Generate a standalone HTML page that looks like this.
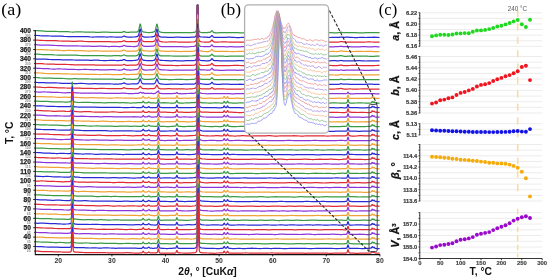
<!DOCTYPE html>
<html><head><meta charset="utf-8"><title>Figure</title>
<style>html,body{margin:0;padding:0;background:#fff;}svg{display:block;}</style>
</head><body>
<svg width="550" height="279" viewBox="0 0 550 279">
<rect width="550" height="279" fill="#fff"/>
<text x="1.2" y="15.3" font-family="'Liberation Serif', 'Times New Roman', serif" font-size="17.5" textLength="20.0" lengthAdjust="spacingAndGlyphs">(a)</text>
<text x="220.8" y="15.3" font-family="'Liberation Serif', 'Times New Roman', serif" font-size="17.5" textLength="20.4" lengthAdjust="spacingAndGlyphs">(b)</text>
<text x="378.8" y="15.3" font-family="'Liberation Serif', 'Times New Roman', serif" font-size="17.5" textLength="18.4" lengthAdjust="spacingAndGlyphs">(c)</text>
<polyline fill="none" stroke="#3b9a45" stroke-width="1.25" stroke-linejoin="round" points="35.9,30.6 37.9,30.7 39.9,30.8 41.9,30.9 43.9,31.1 45.9,31.3 47.9,31.3 49.9,31.3 51.9,31.3 53.9,31.3 55.9,31.4 57.9,31.5 59.9,31.5 61.9,31.5 63.9,31.5 65.9,31.6 67.9,31.7 69.9,31.9 71.9,32.0 73.9,32.0 75.9,31.9 77.9,31.9 79.9,31.9 81.9,31.9 83.9,32.0 85.9,32.0 87.9,32.0 89.9,32.0 91.9,32.1 93.9,32.2 95.9,32.3 97.9,32.4 99.9,32.3 101.9,32.2 103.9,32.2 105.9,32.1 107.9,32.2 109.9,32.3 111.9,32.4 113.9,32.4 115.9,32.3 117.9,32.3 118.5,32.3 119.0,32.4 119.5,32.4 119.9,32.4 120.0,32.4 120.5,32.4 121.0,32.4 121.5,32.4 121.9,32.4 122.0,32.3 122.5,32.2 123.0,31.9 123.5,31.7 123.9,31.6 124.0,31.5 124.5,31.7 125.0,31.9 125.5,32.2 125.9,32.3 126.0,32.3 126.5,32.4 127.0,32.4 127.5,32.4 127.9,32.3 128.0,32.3 128.5,32.3 129.0,32.3 129.5,32.3 129.9,32.2 131.9,32.2 133.9,32.2 135.1,32.2 135.4,32.2 135.7,32.2 135.9,32.2 136.0,32.1 136.3,32.1 136.6,32.1 136.9,32.0 137.2,31.9 137.5,31.8 137.8,31.6 137.9,31.5 138.1,31.2 138.4,30.7 138.7,30.0 139.0,28.9 139.3,27.5 139.6,26.0 139.9,24.6 140.2,24.0 140.5,24.6 140.8,26.0 141.1,27.5 141.4,28.9 141.7,29.9 141.9,30.5 142.0,30.7 142.3,31.2 142.6,31.5 142.9,31.7 143.2,31.9 143.5,32.0 143.8,32.0 143.9,32.1 144.1,32.1 144.4,32.2 144.7,32.2 145.0,32.2 145.9,32.3 147.9,32.5 149.9,32.5 151.8,32.3 151.9,32.3 152.1,32.3 152.4,32.3 152.7,32.2 153.0,32.1 153.3,32.1 153.6,32.0 153.9,31.8 154.2,31.7 154.5,31.5 154.8,31.1 155.1,30.6 155.4,29.9 155.7,28.8 155.9,28.0 156.0,27.5 156.3,26.0 156.6,24.6 156.9,24.1 157.2,24.6 157.5,26.0 157.8,27.5 157.9,28.0 158.1,28.8 158.4,29.9 158.7,30.6 159.0,31.1 159.3,31.5 159.6,31.7 159.9,31.9 160.2,32.0 160.5,32.1 160.8,32.2 161.1,32.2 161.4,32.3 161.7,32.3 161.9,32.4 163.9,32.6 165.9,32.6 167.9,32.6 169.9,32.6 171.9,32.6 173.9,32.6 175.9,32.7 177.9,32.6 179.9,32.5 181.9,32.5 183.9,32.5 185.9,32.5 187.9,32.7 189.9,32.7 191.9,32.7 193.9,32.4 194.6,32.3 194.7,32.2 194.9,32.2 195.0,32.1 195.2,32.0 195.3,32.0 195.5,31.9 195.6,31.7 195.8,31.6 195.9,31.5 195.9,31.4 196.1,31.2 196.2,30.8 196.4,30.2 196.5,29.1 196.7,26.9 196.8,22.7 197.0,15.3 197.1,5.2 197.3,5.2 197.4,5.2 197.6,5.2 197.6,5.2 197.7,5.2 197.9,5.2 197.9,5.2 198.0,5.2 198.2,12.8 198.3,21.1 198.5,26.0 198.6,28.7 198.8,30.0 198.9,30.7 199.1,31.1 199.2,31.4 199.4,31.6 199.5,31.7 199.7,31.8 199.8,31.9 199.9,32.0 200.0,32.0 200.1,32.1 200.3,32.2 200.4,32.2 200.6,32.3 201.9,32.5 203.9,32.5 205.9,32.5 207.2,32.5 207.5,32.5 207.8,32.4 207.9,32.4 208.1,32.4 208.4,32.4 208.7,32.4 209.0,32.4 209.3,32.4 209.6,32.4 209.9,32.3 210.2,32.2 210.5,32.0 210.8,31.7 211.1,31.4 211.4,31.0 211.7,30.7 211.9,30.6 212.0,30.7 212.3,30.9 212.6,31.3 212.9,31.8 213.2,32.1 213.5,32.4 213.8,32.5 213.9,32.6 214.1,32.6 214.4,32.7 214.7,32.7 215.0,32.7 215.3,32.8 215.6,32.8 215.9,32.8 216.2,32.8 216.5,32.8 217.9,32.8 219.9,32.7 221.9,32.6 223.9,32.6 225.9,32.6 227.9,32.7 229.9,32.7 231.9,32.6 233.9,32.6 235.9,32.6 237.9,32.7 239.9,32.8 241.9,32.9 243.9,32.8 245.9,32.7 247.9,32.6 249.9,32.6 251.9,32.6 253.9,32.7 255.9,32.7 257.9,32.7 259.9,32.6 261.9,32.6 263.9,32.7 265.9,32.8 267.9,32.9 269.9,32.8 271.9,32.7 273.9,32.6 275.9,32.5 277.9,32.6 279.9,32.7 281.9,32.7 283.9,32.7 285.9,32.7 287.9,32.7 289.9,32.7 291.9,32.8 293.9,32.8 295.9,32.8 297.9,32.6 299.9,32.5 301.9,32.5 303.9,32.6 305.9,32.7 307.9,32.8 309.9,32.8 311.9,32.7 313.9,32.7 315.9,32.7 317.9,32.8 319.9,32.8 321.9,32.7 323.9,32.6 325.9,32.5 327.9,32.5 329.9,32.6 331.9,32.7 333.9,32.8 335.5,32.8 335.9,32.8 336.0,32.8 336.5,32.8 337.0,32.8 337.5,32.8 337.9,32.7 338.0,32.7 338.5,32.7 339.0,32.6 339.5,32.5 339.9,32.4 340.0,32.4 340.5,32.2 341.0,32.2 341.5,32.2 341.9,32.4 342.0,32.4 342.5,32.5 343.0,32.6 343.5,32.7 343.9,32.7 344.0,32.7 344.5,32.7 345.0,32.7 345.5,32.7 345.9,32.7 346.0,32.7 346.5,32.7 347.9,32.7 349.9,32.6 351.9,32.5 353.9,32.6 355.9,32.7 357.9,32.8 359.9,32.9 361.9,32.8 363.9,32.8 365.9,32.7 367.9,32.6 369.9,32.7 371.9,32.7 373.9,32.7 375.9,32.6 377.9,32.6 379.6,32.6"/>
<polyline fill="none" stroke="#2a2ad6" stroke-width="1.25" stroke-linejoin="round" points="35.9,35.3 37.9,35.5 39.9,35.7 41.9,35.8 43.9,35.8 45.9,35.8 47.9,35.9 49.9,36.0 51.9,36.1 53.9,36.1 55.9,36.1 57.9,36.0 59.9,36.1 61.9,36.2 63.9,36.4 65.9,36.5 67.9,36.6 69.9,36.5 71.9,36.5 73.9,36.5 75.9,36.6 77.9,36.6 79.9,36.7 81.9,36.6 83.9,36.6 85.9,36.6 87.9,36.7 89.9,36.9 91.9,37.0 93.9,37.0 95.9,36.9 97.9,36.9 99.9,36.8 101.9,36.9 103.9,36.9 105.9,37.0 107.9,37.0 109.9,36.9 111.9,36.9 113.9,37.0 115.9,37.1 117.9,37.2 118.5,37.2 119.0,37.2 119.5,37.2 119.9,37.2 120.0,37.2 120.5,37.2 121.0,37.1 121.5,37.1 121.9,37.0 122.0,37.0 122.5,36.8 123.0,36.5 123.5,36.2 123.9,36.0 124.0,36.0 124.5,36.1 125.0,36.4 125.5,36.6 125.9,36.8 126.0,36.8 126.5,36.9 127.0,36.9 127.5,37.0 127.9,37.0 128.0,37.0 128.5,37.0 129.0,37.0 129.5,37.0 129.9,37.0 131.9,37.1 133.9,37.0 135.1,36.9 135.4,36.9 135.7,36.8 135.9,36.8 136.0,36.8 136.3,36.7 136.6,36.7 136.9,36.6 137.2,36.5 137.5,36.4 137.8,36.2 137.9,36.1 138.1,35.8 138.4,35.4 138.7,34.6 139.0,33.6 139.3,32.3 139.6,30.8 139.9,29.5 140.2,29.0 140.5,29.5 140.8,30.9 141.1,32.4 141.4,33.7 141.7,34.8 141.9,35.3 142.0,35.5 142.3,36.0 142.6,36.4 142.9,36.6 143.2,36.7 143.5,36.8 143.8,36.9 143.9,36.9 144.1,37.0 144.4,37.0 144.7,37.1 145.0,37.1 145.9,37.1 147.9,37.1 149.9,37.0 151.8,36.8 151.9,36.8 152.1,36.8 152.4,36.8 152.7,36.7 153.0,36.7 153.3,36.6 153.6,36.6 153.9,36.5 154.2,36.4 154.5,36.2 154.8,35.9 155.1,35.4 155.4,34.7 155.7,33.7 155.9,32.9 156.0,32.5 156.3,31.0 156.6,29.7 156.9,29.2 157.2,29.8 157.5,31.1 157.8,32.5 157.9,33.0 158.1,33.8 158.4,34.8 158.7,35.6 159.0,36.0 159.3,36.4 159.6,36.6 159.9,36.7 160.2,36.8 160.5,36.9 160.8,36.9 161.1,37.0 161.4,37.0 161.7,37.0 161.9,37.0 163.9,37.1 165.9,37.2 167.9,37.3 169.9,37.4 171.9,37.4 173.9,37.3 175.9,37.2 177.9,37.1 179.9,37.2 181.9,37.3 183.9,37.4 185.9,37.4 187.9,37.3 189.9,37.3 191.9,37.2 193.9,37.1 194.6,37.0 194.7,37.0 194.9,36.9 195.0,36.9 195.2,36.8 195.3,36.7 195.5,36.6 195.6,36.5 195.8,36.4 195.9,36.3 195.9,36.2 196.1,36.0 196.2,35.6 196.4,35.0 196.5,33.9 196.7,31.7 196.8,27.5 197.0,20.2 197.1,9.3 197.3,5.2 197.4,5.2 197.6,5.2 197.6,5.2 197.7,5.2 197.9,5.2 197.9,5.2 198.0,5.9 198.2,17.6 198.3,25.8 198.5,30.8 198.6,33.4 198.8,34.8 198.9,35.4 199.1,35.8 199.2,36.1 199.4,36.3 199.5,36.4 199.7,36.5 199.8,36.6 199.9,36.6 200.0,36.7 200.1,36.7 200.3,36.8 200.4,36.8 200.6,36.9 201.9,37.0 203.9,37.1 205.9,37.2 207.2,37.2 207.5,37.3 207.8,37.3 207.9,37.3 208.1,37.3 208.4,37.3 208.7,37.3 209.0,37.3 209.3,37.3 209.6,37.3 209.9,37.2 210.2,37.1 210.5,36.9 210.8,36.7 211.1,36.3 211.4,35.9 211.7,35.6 211.9,35.5 212.0,35.5 212.3,35.7 212.6,36.1 212.9,36.5 213.2,36.9 213.5,37.1 213.8,37.2 213.9,37.2 214.1,37.3 214.4,37.3 214.7,37.3 215.0,37.3 215.3,37.3 215.6,37.3 215.9,37.3 216.2,37.3 216.5,37.3 217.9,37.3 219.9,37.4 221.9,37.4 223.9,37.4 225.9,37.3 227.9,37.2 229.9,37.2 231.9,37.3 233.9,37.4 235.9,37.5 237.9,37.5 239.9,37.5 241.9,37.4 243.9,37.3 245.9,37.3 247.9,37.4 249.9,37.4 251.9,37.3 253.9,37.3 255.9,37.3 257.9,37.3 259.9,37.5 261.9,37.5 263.9,37.5 265.9,37.4 267.9,37.3 269.9,37.3 271.9,37.3 273.9,37.4 275.9,37.4 277.9,37.4 279.9,37.3 281.9,37.3 283.9,37.4 285.9,37.5 287.9,37.6 289.9,37.5 291.9,37.4 293.9,37.3 295.9,37.2 297.9,37.3 299.9,37.3 301.9,37.4 303.9,37.4 305.9,37.4 307.9,37.4 309.9,37.4 311.9,37.5 313.9,37.5 315.9,37.5 317.9,37.4 319.9,37.3 321.9,37.2 323.9,37.3 325.9,37.4 327.9,37.4 329.9,37.5 331.9,37.4 333.9,37.4 335.5,37.4 335.9,37.4 336.0,37.4 336.5,37.4 337.0,37.4 337.5,37.4 337.9,37.4 338.0,37.4 338.5,37.4 339.0,37.4 339.5,37.3 339.9,37.2 340.0,37.2 340.5,37.1 341.0,37.0 341.5,37.0 341.9,37.1 342.0,37.2 342.5,37.3 343.0,37.3 343.5,37.3 343.9,37.3 344.0,37.3 344.5,37.3 345.0,37.3 345.5,37.3 345.9,37.2 346.0,37.2 346.5,37.2 347.9,37.2 349.9,37.3 351.9,37.4 353.9,37.5 355.9,37.5 357.9,37.5 359.9,37.4 361.9,37.4 363.9,37.4 365.9,37.5 367.9,37.4 369.9,37.3 371.9,37.3 373.9,37.2 375.9,37.3 377.9,37.4 379.6,37.5"/>
<polyline fill="none" stroke="#e02a35" stroke-width="1.25" stroke-linejoin="round" points="35.9,40.2 37.9,40.2 39.9,40.3 41.9,40.4 43.9,40.5 45.9,40.6 47.9,40.7 49.9,40.7 51.9,40.6 53.9,40.6 55.9,40.7 57.9,40.8 59.9,41.0 61.9,41.1 63.9,41.1 65.9,41.1 67.9,41.1 69.9,41.2 71.9,41.3 73.9,41.3 75.9,41.3 77.9,41.2 79.9,41.2 81.9,41.2 83.9,41.4 85.9,41.5 87.9,41.6 89.9,41.6 91.9,41.5 93.9,41.5 95.9,41.6 97.9,41.6 99.9,41.6 101.9,41.6 103.9,41.5 105.9,41.5 107.9,41.6 109.9,41.7 111.9,41.8 113.9,41.9 115.9,41.9 117.9,41.8 118.5,41.7 119.0,41.7 119.5,41.7 119.9,41.7 120.0,41.7 120.5,41.7 121.0,41.7 121.5,41.6 121.9,41.6 122.0,41.5 122.5,41.4 123.0,41.1 123.5,40.9 123.9,40.8 124.0,40.8 124.5,40.9 125.0,41.2 125.5,41.4 125.9,41.6 126.0,41.6 126.5,41.7 127.0,41.7 127.5,41.7 127.9,41.7 128.0,41.7 128.5,41.7 129.0,41.7 129.5,41.7 129.9,41.7 131.9,41.6 133.9,41.6 135.1,41.6 135.4,41.6 135.7,41.6 135.9,41.6 136.0,41.6 136.3,41.6 136.6,41.5 136.9,41.5 137.2,41.4 137.5,41.3 137.8,41.1 137.9,41.0 138.1,40.8 138.4,40.3 138.7,39.6 139.0,38.6 139.3,37.4 139.6,35.9 139.9,34.6 140.2,34.1 140.5,34.6 140.8,35.9 141.1,37.3 141.4,38.6 141.7,39.6 141.9,40.1 142.0,40.3 142.3,40.7 142.6,41.0 142.9,41.2 143.2,41.3 143.5,41.4 143.8,41.4 143.9,41.5 144.1,41.5 144.4,41.5 144.7,41.5 145.0,41.6 145.9,41.6 147.9,41.7 149.9,41.7 151.8,41.7 151.9,41.7 152.1,41.7 152.4,41.6 152.7,41.6 153.0,41.6 153.3,41.5 153.6,41.4 153.9,41.3 154.2,41.2 154.5,41.0 154.8,40.7 155.1,40.2 155.4,39.5 155.7,38.5 155.9,37.7 156.0,37.3 156.3,35.9 156.6,34.6 156.9,34.1 157.2,34.6 157.5,35.9 157.8,37.3 157.9,37.7 158.1,38.5 158.4,39.5 158.7,40.2 159.0,40.7 159.3,41.0 159.6,41.2 159.9,41.3 160.2,41.4 160.5,41.5 160.8,41.6 161.1,41.7 161.4,41.7 161.7,41.8 161.9,41.8 163.9,42.0 165.9,42.1 167.9,42.0 169.9,41.9 171.9,41.8 173.9,41.8 175.9,41.9 177.9,42.0 179.9,42.0 181.9,42.0 183.9,42.0 185.9,42.0 187.9,42.0 189.9,42.1 191.9,42.0 193.9,41.8 194.6,41.6 194.7,41.6 194.9,41.5 195.0,41.5 195.2,41.4 195.3,41.3 195.5,41.2 195.6,41.1 195.8,40.9 195.9,40.8 195.9,40.7 196.1,40.5 196.2,40.1 196.4,39.5 196.5,38.4 196.7,36.2 196.8,32.0 197.0,24.6 197.1,13.8 197.3,5.2 197.4,5.2 197.6,5.2 197.6,5.2 197.7,5.2 197.9,5.2 197.9,5.2 198.0,10.4 198.2,22.0 198.3,30.3 198.5,35.3 198.6,37.9 198.8,39.3 198.9,39.9 199.1,40.3 199.2,40.6 199.4,40.8 199.5,40.9 199.7,41.1 199.8,41.2 199.9,41.2 200.0,41.3 200.1,41.3 200.3,41.4 200.4,41.5 200.6,41.5 201.9,41.8 203.9,42.0 205.9,42.0 207.2,42.0 207.5,42.0 207.8,42.0 207.9,42.0 208.1,42.0 208.4,42.0 208.7,42.0 209.0,42.0 209.3,41.9 209.6,41.9 209.9,41.8 210.2,41.7 210.5,41.5 210.8,41.2 211.1,40.8 211.4,40.4 211.7,40.1 211.9,40.0 212.0,40.1 212.3,40.3 212.6,40.7 212.9,41.1 213.2,41.5 213.5,41.7 213.8,41.9 213.9,41.9 214.1,41.9 214.4,42.0 214.7,42.0 215.0,42.1 215.3,42.1 215.6,42.1 215.9,42.1 216.2,42.1 216.5,42.1 217.9,42.1 219.9,42.0 221.9,41.9 223.9,41.9 225.9,41.9 227.9,42.0 229.9,42.1 231.9,42.2 233.9,42.1 235.9,42.1 237.9,42.1 239.9,42.1 241.9,42.1 243.9,42.1 245.9,42.0 247.9,41.9 249.9,41.9 251.9,41.9 253.9,42.1 255.9,42.2 257.9,42.2 259.9,42.2 261.9,42.1 263.9,42.0 265.9,42.0 267.9,42.1 269.9,42.1 271.9,42.0 273.9,42.0 275.9,41.9 277.9,42.0 279.9,42.1 281.9,42.2 283.9,42.2 285.9,42.2 287.9,42.1 289.9,42.0 291.9,42.0 293.9,42.0 295.9,42.1 297.9,42.1 299.9,42.0 301.9,42.0 303.9,42.0 305.9,42.1 307.9,42.2 309.9,42.2 311.9,42.2 313.9,42.0 315.9,42.0 317.9,42.0 319.9,42.0 321.9,42.1 323.9,42.1 325.9,42.0 327.9,42.0 329.9,42.1 331.9,42.1 333.9,42.2 335.5,42.2 335.9,42.2 336.0,42.2 336.5,42.2 337.0,42.2 337.5,42.2 337.9,42.1 338.0,42.1 338.5,42.1 339.0,42.0 339.5,41.9 339.9,41.7 340.0,41.7 340.5,41.5 341.0,41.5 341.5,41.5 341.9,41.6 342.0,41.6 342.5,41.7 343.0,41.8 343.5,41.9 343.9,41.9 344.0,41.9 344.5,41.9 345.0,42.0 345.5,42.0 345.9,42.0 346.0,42.0 346.5,42.0 347.9,42.1 349.9,42.1 351.9,42.1 353.9,42.1 355.9,42.1 357.9,42.1 359.9,42.2 361.9,42.2 363.9,42.1 365.9,42.0 367.9,41.9 369.9,41.9 371.9,42.0 373.9,42.1 375.9,42.2 377.9,42.1 379.6,42.1"/>
<polyline fill="none" stroke="#8c35d9" stroke-width="1.25" stroke-linejoin="round" points="35.9,44.7 37.9,44.9 39.9,45.1 41.9,45.2 43.9,45.2 45.9,45.2 47.9,45.1 49.9,45.2 51.9,45.3 53.9,45.4 55.9,45.5 57.9,45.6 59.9,45.6 61.9,45.6 63.9,45.8 65.9,45.9 67.9,45.9 69.9,45.9 71.9,45.8 73.9,45.8 75.9,45.8 77.9,45.9 79.9,46.0 81.9,46.1 83.9,46.2 85.9,46.1 87.9,46.1 89.9,46.2 91.9,46.3 93.9,46.3 95.9,46.3 97.9,46.2 99.9,46.1 101.9,46.1 103.9,46.3 105.9,46.4 107.9,46.5 109.9,46.5 111.9,46.4 113.9,46.4 115.9,46.4 117.9,46.5 118.5,46.5 119.0,46.5 119.5,46.5 119.9,46.5 120.0,46.5 120.5,46.5 121.0,46.4 121.5,46.4 121.9,46.3 122.0,46.3 122.5,46.1 123.0,45.8 123.5,45.5 123.9,45.4 124.0,45.4 124.5,45.5 125.0,45.7 125.5,46.0 125.9,46.1 126.0,46.1 126.5,46.2 127.0,46.3 127.5,46.3 127.9,46.3 128.0,46.3 128.5,46.3 129.0,46.4 129.5,46.4 129.9,46.4 131.9,46.5 133.9,46.6 135.1,46.5 135.4,46.5 135.7,46.4 135.9,46.4 136.0,46.4 136.3,46.3 136.6,46.2 136.9,46.2 137.2,46.1 137.5,45.9 137.8,45.7 137.9,45.6 138.1,45.4 138.4,44.9 138.7,44.2 139.0,43.3 139.3,42.0 139.6,40.6 139.9,39.4 140.2,38.9 140.5,39.4 140.8,40.6 141.1,42.0 141.4,43.2 141.7,44.2 141.9,44.7 142.0,44.9 142.3,45.3 142.6,45.6 142.9,45.8 143.2,46.0 143.5,46.1 143.8,46.2 143.9,46.2 144.1,46.2 144.4,46.3 144.7,46.3 145.0,46.3 145.9,46.4 147.9,46.4 149.9,46.4 151.8,46.2 151.9,46.2 152.1,46.2 152.4,46.2 152.7,46.2 153.0,46.1 153.3,46.1 153.6,46.0 153.9,45.9 154.2,45.8 154.5,45.6 154.8,45.4 155.1,44.9 155.4,44.3 155.7,43.4 155.9,42.6 156.0,42.2 156.3,40.9 156.6,39.7 156.9,39.2 157.2,39.7 157.5,40.9 157.8,42.3 157.9,42.8 158.1,43.5 158.4,44.5 158.7,45.2 159.0,45.6 159.3,45.9 159.6,46.1 159.9,46.3 160.2,46.4 160.5,46.4 160.8,46.5 161.1,46.5 161.4,46.5 161.7,46.6 161.9,46.6 163.9,46.6 165.9,46.5 167.9,46.5 169.9,46.6 171.9,46.6 173.9,46.7 175.9,46.6 177.9,46.6 179.9,46.6 181.9,46.7 183.9,46.8 185.9,46.9 187.9,46.8 189.9,46.7 191.9,46.5 193.9,46.3 194.6,46.2 194.7,46.2 194.9,46.1 195.0,46.1 195.2,46.0 195.3,45.9 195.5,45.8 195.6,45.7 195.8,45.6 195.9,45.5 195.9,45.4 196.1,45.2 196.2,44.8 196.4,44.3 196.5,43.2 196.7,41.0 196.8,36.7 197.0,29.4 197.1,18.6 197.3,5.3 197.4,5.2 197.6,5.2 197.6,5.2 197.7,5.2 197.9,5.2 197.9,5.2 198.0,15.2 198.2,26.9 198.3,35.2 198.5,40.1 198.6,42.8 198.8,44.1 198.9,44.8 199.1,45.2 199.2,45.5 199.4,45.7 199.5,45.8 199.7,45.9 199.8,46.0 199.9,46.1 200.0,46.1 200.1,46.2 200.3,46.2 200.4,46.3 200.6,46.3 201.9,46.5 203.9,46.6 205.9,46.6 207.2,46.7 207.5,46.7 207.8,46.7 207.9,46.7 208.1,46.7 208.4,46.7 208.7,46.7 209.0,46.7 209.3,46.7 209.6,46.7 209.9,46.6 210.2,46.5 210.5,46.3 210.8,46.1 211.1,45.7 211.4,45.3 211.7,45.0 211.9,44.9 212.0,44.9 212.3,45.1 212.6,45.5 212.9,45.9 213.2,46.3 213.5,46.5 213.8,46.6 213.9,46.6 214.1,46.7 214.4,46.7 214.7,46.7 215.0,46.7 215.3,46.7 215.6,46.7 215.9,46.7 216.2,46.6 216.5,46.6 217.9,46.6 219.9,46.6 221.9,46.6 223.9,46.7 225.9,46.8 227.9,46.8 229.9,46.7 231.9,46.7 233.9,46.8 235.9,46.9 237.9,46.9 239.9,46.8 241.9,46.7 243.9,46.6 245.9,46.6 247.9,46.7 249.9,46.8 251.9,46.8 253.9,46.8 255.9,46.8 257.9,46.8 259.9,46.8 261.9,46.8 263.9,46.8 265.9,46.8 267.9,46.7 269.9,46.6 271.9,46.6 273.9,46.7 275.9,46.8 277.9,46.9 279.9,46.9 281.9,46.8 283.9,46.8 285.9,46.7 287.9,46.8 289.9,46.8 291.9,46.8 293.9,46.7 295.9,46.6 297.9,46.6 299.9,46.7 301.9,46.9 303.9,46.9 305.9,46.9 307.9,46.8 309.9,46.7 311.9,46.7 313.9,46.7 315.9,46.8 317.9,46.8 319.9,46.7 321.9,46.6 323.9,46.7 325.9,46.8 327.9,46.9 329.9,46.9 331.9,46.9 333.9,46.8 335.5,46.7 335.9,46.7 336.0,46.7 336.5,46.7 337.0,46.7 337.5,46.6 337.9,46.6 338.0,46.6 338.5,46.6 339.0,46.6 339.5,46.5 339.9,46.4 340.0,46.4 340.5,46.3 341.0,46.2 341.5,46.3 341.9,46.4 342.0,46.5 342.5,46.6 343.0,46.7 343.5,46.7 343.9,46.7 344.0,46.7 344.5,46.7 345.0,46.7 345.5,46.7 345.9,46.7 346.0,46.7 346.5,46.7 347.9,46.7 349.9,46.7 351.9,46.8 353.9,46.9 355.9,46.9 357.9,46.9 359.9,46.8 361.9,46.7 363.9,46.6 365.9,46.7 367.9,46.8 369.9,46.8 371.9,46.8 373.9,46.7 375.9,46.7 377.9,46.8 379.6,46.9"/>
<polyline fill="none" stroke="#f0a236" stroke-width="1.25" stroke-linejoin="round" points="35.9,49.7 37.9,49.7 39.9,49.7 41.9,49.7 43.9,49.7 45.9,49.8 47.9,49.9 49.9,50.0 51.9,50.0 53.9,50.1 55.9,50.1 57.9,50.2 59.9,50.4 61.9,50.5 63.9,50.5 65.9,50.5 67.9,50.4 69.9,50.4 71.9,50.5 73.9,50.6 75.9,50.7 77.9,50.7 79.9,50.7 81.9,50.7 83.9,50.8 85.9,50.9 87.9,51.0 89.9,51.0 91.9,50.9 93.9,50.8 95.9,50.8 97.9,50.8 99.9,51.0 101.9,51.0 103.9,51.1 105.9,51.1 107.9,51.0 109.9,51.1 111.9,51.2 113.9,51.2 115.9,51.2 117.9,51.1 118.5,51.1 119.0,51.0 119.5,51.0 119.9,51.0 120.0,51.0 120.5,51.0 121.0,50.9 121.5,50.9 121.9,50.8 122.0,50.8 122.5,50.6 123.0,50.4 123.5,50.2 123.9,50.0 124.0,50.0 124.5,50.2 125.0,50.5 125.5,50.8 125.9,51.0 126.0,51.0 126.5,51.1 127.0,51.2 127.5,51.2 127.9,51.2 128.0,51.2 128.5,51.2 129.0,51.3 129.5,51.3 129.9,51.2 131.9,51.2 133.9,51.1 135.1,51.0 135.4,51.0 135.7,51.0 135.9,51.0 136.0,51.0 136.3,50.9 136.6,50.9 136.9,50.8 137.2,50.7 137.5,50.6 137.8,50.4 137.9,50.4 138.1,50.2 138.4,49.7 138.7,49.1 139.0,48.2 139.3,47.0 139.6,45.6 139.9,44.4 140.2,44.0 140.5,44.4 140.8,45.6 141.1,47.0 141.4,48.1 141.7,49.1 141.9,49.5 142.0,49.7 142.3,50.1 142.6,50.4 142.9,50.6 143.2,50.7 143.5,50.8 143.8,50.8 143.9,50.8 144.1,50.9 144.4,50.9 144.7,50.9 145.0,50.9 145.9,50.9 147.9,51.0 149.9,51.0 151.8,51.1 151.9,51.1 152.1,51.1 152.4,51.1 152.7,51.1 153.0,51.0 153.3,51.0 153.6,51.0 153.9,50.9 154.2,50.8 154.5,50.6 154.8,50.3 155.1,49.9 155.4,49.3 155.7,48.3 155.9,47.6 156.0,47.2 156.3,45.9 156.6,44.7 156.9,44.2 157.2,44.7 157.5,45.8 157.8,47.1 157.9,47.5 158.1,48.3 158.4,49.2 158.7,49.8 159.0,50.2 159.3,50.5 159.6,50.7 159.9,50.8 160.2,50.9 160.5,50.9 160.8,51.0 161.1,51.0 161.4,51.1 161.7,51.1 161.9,51.1 163.9,51.2 165.9,51.3 167.9,51.3 169.9,51.3 171.9,51.2 173.9,51.2 175.9,51.3 177.9,51.4 179.9,51.5 181.9,51.5 183.9,51.4 185.9,51.3 187.9,51.3 189.9,51.3 191.9,51.3 193.9,51.1 194.6,51.0 194.7,51.0 194.9,50.9 195.0,50.8 195.2,50.8 195.3,50.7 195.5,50.6 195.6,50.5 195.8,50.3 195.9,50.2 195.9,50.1 196.1,49.9 196.2,49.5 196.4,49.0 196.5,47.9 196.7,45.6 196.8,41.4 197.0,34.1 197.1,23.2 197.3,9.9 197.4,5.2 197.6,5.2 197.6,5.2 197.7,5.2 197.9,6.3 197.9,8.1 198.0,19.8 198.2,31.5 198.3,39.7 198.5,44.7 198.6,47.4 198.8,48.7 198.9,49.4 199.1,49.8 199.2,50.0 199.4,50.2 199.5,50.4 199.7,50.5 199.8,50.6 199.9,50.6 200.0,50.7 200.1,50.8 200.3,50.8 200.4,50.9 200.6,50.9 201.9,51.2 203.9,51.4 205.9,51.5 207.2,51.5 207.5,51.5 207.8,51.5 207.9,51.5 208.1,51.5 208.4,51.5 208.7,51.4 209.0,51.4 209.3,51.4 209.6,51.3 209.9,51.3 210.2,51.1 210.5,50.9 210.8,50.6 211.1,50.2 211.4,49.8 211.7,49.4 211.9,49.4 212.0,49.4 212.3,49.6 212.6,50.0 212.9,50.4 213.2,50.7 213.5,50.9 213.8,51.1 213.9,51.1 214.1,51.2 214.4,51.2 214.7,51.2 215.0,51.2 215.3,51.3 215.6,51.3 215.9,51.3 216.2,51.3 216.5,51.3 217.9,51.4 219.9,51.4 221.9,51.4 223.9,51.4 225.9,51.4 227.9,51.4 229.9,51.5 231.9,51.6 233.9,51.6 235.9,51.5 237.9,51.3 239.9,51.3 241.9,51.3 243.9,51.4 245.9,51.5 247.9,51.5 249.9,51.4 251.9,51.4 253.9,51.5 255.9,51.5 257.9,51.6 259.9,51.6 261.9,51.4 263.9,51.3 265.9,51.3 267.9,51.3 269.9,51.4 271.9,51.5 273.9,51.5 275.9,51.5 277.9,51.5 279.9,51.5 281.9,51.5 283.9,51.6 285.9,51.5 287.9,51.4 289.9,51.3 291.9,51.3 293.9,51.3 295.9,51.5 297.9,51.6 299.9,51.6 301.9,51.5 303.9,51.5 305.9,51.4 307.9,51.5 309.9,51.5 311.9,51.5 313.9,51.4 315.9,51.3 317.9,51.3 319.9,51.4 321.9,51.5 323.9,51.6 325.9,51.6 327.9,51.5 329.9,51.5 331.9,51.4 333.9,51.4 335.5,51.5 335.9,51.5 336.0,51.5 336.5,51.5 337.0,51.5 337.5,51.5 337.9,51.4 338.0,51.4 338.5,51.4 339.0,51.3 339.5,51.2 339.9,51.1 340.0,51.1 340.5,50.9 341.0,50.9 341.5,50.9 341.9,51.0 342.0,51.0 342.5,51.2 343.0,51.2 343.5,51.3 343.9,51.3 344.0,51.3 344.5,51.3 345.0,51.3 345.5,51.4 345.9,51.4 346.0,51.4 346.5,51.4 347.9,51.5 349.9,51.6 351.9,51.6 353.9,51.5 355.9,51.4 357.9,51.4 359.9,51.4 361.9,51.4 363.9,51.5 365.9,51.4 367.9,51.4 369.9,51.4 371.9,51.4 373.9,51.6 375.9,51.6 377.9,51.6 379.6,51.5"/>
<polyline fill="none" stroke="#3b9a45" stroke-width="1.25" stroke-linejoin="round" points="35.9,54.2 37.9,54.2 39.9,54.3 41.9,54.5 43.9,54.5 45.9,54.5 47.9,54.5 49.9,54.6 51.9,54.7 53.9,54.9 55.9,55.0 57.9,55.1 59.9,55.1 61.9,55.0 63.9,55.0 65.9,55.1 67.9,55.2 69.9,55.2 71.9,55.2 73.9,55.2 75.9,55.2 77.9,55.3 79.9,55.5 81.9,55.6 83.9,55.6 85.9,55.6 87.9,55.5 89.9,55.5 91.9,55.5 93.9,55.6 95.9,55.6 97.9,55.6 99.9,55.6 101.9,55.6 103.9,55.7 105.9,55.8 107.9,55.9 109.9,55.9 111.9,55.8 113.9,55.7 115.9,55.7 117.9,55.7 118.5,55.7 119.0,55.7 119.5,55.7 119.9,55.8 120.0,55.8 120.5,55.8 121.0,55.8 121.5,55.8 121.9,55.7 122.0,55.7 122.5,55.5 123.0,55.3 123.5,55.0 123.9,54.9 124.0,54.9 124.5,55.0 125.0,55.3 125.5,55.5 125.9,55.7 126.0,55.7 126.5,55.8 127.0,55.8 127.5,55.8 127.9,55.8 128.0,55.8 128.5,55.8 129.0,55.8 129.5,55.8 129.9,55.8 131.9,55.9 133.9,55.9 135.1,55.9 135.4,55.8 135.7,55.8 135.9,55.8 136.0,55.8 136.3,55.7 136.6,55.7 136.9,55.6 137.2,55.5 137.5,55.3 137.8,55.1 137.9,55.1 138.1,54.8 138.4,54.4 138.7,53.8 139.0,52.8 139.3,51.7 139.6,50.4 139.9,49.2 140.2,48.7 140.5,49.2 140.8,50.3 141.1,51.6 141.4,52.7 141.7,53.6 141.9,54.1 142.0,54.2 142.3,54.7 142.6,54.9 142.9,55.1 143.2,55.3 143.5,55.3 143.8,55.4 143.9,55.4 144.1,55.5 144.4,55.5 144.7,55.6 145.0,55.6 145.9,55.7 147.9,55.9 149.9,55.9 151.8,55.8 151.9,55.8 152.1,55.8 152.4,55.8 152.7,55.7 153.0,55.7 153.3,55.6 153.6,55.6 153.9,55.5 154.2,55.4 154.5,55.2 154.8,54.9 155.1,54.5 155.4,53.9 155.7,53.0 155.9,52.3 156.0,51.9 156.3,50.7 156.6,49.5 156.9,49.1 157.2,49.6 157.5,50.7 157.8,52.0 157.9,52.4 158.1,53.1 158.4,54.0 158.7,54.6 159.0,55.0 159.3,55.3 159.6,55.5 159.9,55.6 160.2,55.7 160.5,55.8 160.8,55.8 161.1,55.8 161.4,55.9 161.7,55.9 161.9,55.9 163.9,55.9 165.9,55.9 167.9,55.8 169.9,55.9 171.9,56.0 173.9,56.1 175.9,56.2 177.9,56.1 179.9,56.1 181.9,56.1 183.9,56.1 185.9,56.1 187.9,56.1 189.9,56.0 191.9,55.9 193.9,55.7 194.6,55.5 194.7,55.5 194.9,55.5 195.0,55.4 195.2,55.4 195.3,55.3 195.5,55.2 195.6,55.1 195.8,54.9 195.9,54.8 195.9,54.8 196.1,54.5 196.2,54.2 196.4,53.6 196.5,52.5 196.7,50.3 196.8,46.1 197.0,38.8 197.1,27.9 197.3,14.7 197.4,5.2 197.6,5.2 197.6,5.2 197.7,5.2 197.9,11.1 197.9,12.9 198.0,24.6 198.2,36.3 198.3,44.6 198.5,49.6 198.6,52.2 198.8,53.6 198.9,54.2 199.1,54.6 199.2,54.9 199.4,55.1 199.5,55.3 199.7,55.4 199.8,55.5 199.9,55.6 200.0,55.6 200.1,55.7 200.3,55.7 200.4,55.8 200.6,55.8 201.9,56.1 203.9,56.1 205.9,56.0 207.2,56.0 207.5,56.0 207.8,56.0 207.9,56.0 208.1,56.0 208.4,56.0 208.7,56.0 209.0,56.0 209.3,55.9 209.6,55.9 209.9,55.9 210.2,55.7 210.5,55.6 210.8,55.3 211.1,54.9 211.4,54.5 211.7,54.2 211.9,54.1 212.0,54.1 212.3,54.4 212.6,54.8 212.9,55.2 213.2,55.5 213.5,55.8 213.8,55.9 213.9,55.9 214.1,56.0 214.4,56.0 214.7,56.0 215.0,56.0 215.3,56.0 215.6,56.0 215.9,56.0 216.2,56.0 216.5,56.0 217.9,56.0 219.9,56.0 221.9,56.0 223.9,56.2 225.9,56.3 227.9,56.3 229.9,56.2 231.9,56.1 233.9,56.0 235.9,56.0 237.9,56.1 239.9,56.1 241.9,56.1 243.9,56.1 245.9,56.0 247.9,56.1 249.9,56.2 251.9,56.3 253.9,56.3 255.9,56.2 257.9,56.1 259.9,56.0 261.9,56.0 263.9,56.1 265.9,56.1 267.9,56.2 269.9,56.1 271.9,56.1 273.9,56.1 275.9,56.2 277.9,56.3 279.9,56.3 281.9,56.2 283.9,56.1 285.9,56.0 287.9,56.0 289.9,56.1 291.9,56.2 293.9,56.2 295.9,56.2 297.9,56.1 299.9,56.1 301.9,56.2 303.9,56.3 305.9,56.3 307.9,56.2 309.9,56.0 311.9,56.0 313.9,56.0 315.9,56.1 317.9,56.2 319.9,56.2 321.9,56.2 323.9,56.2 325.9,56.1 327.9,56.2 329.9,56.2 331.9,56.2 333.9,56.1 335.5,56.0 335.9,56.0 336.0,56.0 336.5,56.0 337.0,56.0 337.5,56.0 337.9,56.0 338.0,55.9 338.5,55.9 339.0,55.9 339.5,55.8 339.9,55.7 340.0,55.7 340.5,55.6 341.0,55.6 341.5,55.7 341.9,55.8 342.0,55.8 342.5,56.0 343.0,56.1 343.5,56.2 343.9,56.2 344.0,56.2 344.5,56.3 345.0,56.3 345.5,56.3 345.9,56.3 346.0,56.3 346.5,56.3 347.9,56.2 349.9,56.2 351.9,56.1 353.9,56.1 355.9,56.2 357.9,56.2 359.9,56.1 361.9,56.0 363.9,56.0 365.9,56.0 367.9,56.2 369.9,56.3 371.9,56.3 373.9,56.3 375.9,56.2 377.9,56.1 379.6,56.1"/>
<polyline fill="none" stroke="#2a2ad6" stroke-width="1.25" stroke-linejoin="round" points="35.9,59.0 37.9,59.0 39.9,59.1 41.9,59.0 43.9,59.0 45.9,59.1 47.9,59.3 49.9,59.5 51.9,59.6 53.9,59.6 55.9,59.6 57.9,59.6 59.9,59.7 61.9,59.8 63.9,59.8 65.9,59.8 67.9,59.8 69.9,59.8 71.9,59.8 73.9,60.0 75.9,60.1 77.9,60.2 79.9,60.2 81.9,60.2 83.9,60.1 85.9,60.1 87.9,60.2 89.9,60.3 91.9,60.3 93.9,60.2 95.9,60.2 97.9,60.2 99.9,60.4 101.9,60.5 103.9,60.6 105.9,60.6 107.9,60.5 109.9,60.4 111.9,60.4 113.9,60.4 115.9,60.5 117.9,60.5 118.5,60.5 119.0,60.5 119.5,60.5 119.9,60.4 120.0,60.4 120.5,60.4 121.0,60.4 121.5,60.4 121.9,60.3 122.0,60.3 122.5,60.1 123.0,59.9 123.5,59.6 123.9,59.5 124.0,59.5 124.5,59.6 125.0,59.9 125.5,60.2 125.9,60.4 126.0,60.4 126.5,60.5 127.0,60.6 127.5,60.6 127.9,60.7 128.0,60.7 128.5,60.7 129.0,60.7 129.5,60.7 129.9,60.7 131.9,60.6 133.9,60.5 135.1,60.3 135.4,60.3 135.7,60.3 135.9,60.2 136.0,60.2 136.3,60.2 136.6,60.1 136.9,60.1 137.2,60.0 137.5,59.9 137.8,59.7 137.9,59.6 138.1,59.4 138.4,59.0 138.7,58.4 139.0,57.6 139.3,56.5 139.6,55.3 139.9,54.2 140.2,53.7 140.5,54.2 140.8,55.3 141.1,56.6 141.4,57.7 141.7,58.5 141.9,59.0 142.0,59.2 142.3,59.6 142.6,59.8 142.9,60.0 143.2,60.1 143.5,60.2 143.8,60.3 143.9,60.3 144.1,60.3 144.4,60.4 144.7,60.4 145.0,60.4 145.9,60.5 147.9,60.5 149.9,60.5 151.8,60.5 151.9,60.5 152.1,60.5 152.4,60.5 152.7,60.5 153.0,60.5 153.3,60.4 153.6,60.4 153.9,60.3 154.2,60.2 154.5,60.1 154.8,59.8 155.1,59.4 155.4,58.8 155.7,58.0 155.9,57.3 156.0,56.9 156.3,55.7 156.6,54.6 156.9,54.2 157.2,54.6 157.5,55.7 157.8,56.9 157.9,57.2 158.1,57.9 158.4,58.7 158.7,59.3 159.0,59.7 159.3,59.9 159.6,60.1 159.9,60.2 160.2,60.2 160.5,60.3 160.8,60.3 161.1,60.3 161.4,60.4 161.7,60.4 161.9,60.4 163.9,60.5 165.9,60.6 167.9,60.7 169.9,60.8 171.9,60.8 173.9,60.7 175.9,60.7 177.9,60.8 179.9,60.9 181.9,60.9 183.9,60.8 185.9,60.7 187.9,60.6 189.9,60.5 191.9,60.6 193.9,60.6 194.6,60.5 194.7,60.4 194.9,60.4 195.0,60.3 195.2,60.3 195.3,60.2 195.5,60.1 195.6,60.0 195.8,59.9 195.9,59.7 195.9,59.7 196.1,59.4 196.2,59.1 196.4,58.5 196.5,57.4 196.7,55.2 196.8,50.9 197.0,43.6 197.1,32.8 197.3,19.5 197.4,7.1 197.6,5.2 197.6,5.2 197.7,5.2 197.9,15.9 197.9,17.7 198.0,29.4 198.2,41.0 198.3,49.3 198.5,54.3 198.6,56.9 198.8,58.2 198.9,58.9 199.1,59.3 199.2,59.6 199.4,59.8 199.5,59.9 199.7,60.0 199.8,60.1 199.9,60.2 200.0,60.2 200.1,60.3 200.3,60.3 200.4,60.4 200.6,60.4 201.9,60.6 203.9,60.7 205.9,60.8 207.2,60.8 207.5,60.8 207.8,60.8 207.9,60.8 208.1,60.8 208.4,60.8 208.7,60.8 209.0,60.7 209.3,60.7 209.6,60.7 209.9,60.6 210.2,60.5 210.5,60.3 210.8,59.9 211.1,59.5 211.4,59.1 211.7,58.8 211.9,58.7 212.0,58.7 212.3,59.0 212.6,59.3 212.9,59.7 213.2,60.1 213.5,60.3 213.8,60.4 213.9,60.4 214.1,60.5 214.4,60.5 214.7,60.5 215.0,60.6 215.3,60.6 215.6,60.6 215.9,60.6 216.2,60.6 216.5,60.6 217.9,60.7 219.9,60.9 221.9,60.9 223.9,60.9 225.9,60.9 227.9,60.8 229.9,60.8 231.9,60.8 233.9,60.8 235.9,60.8 237.9,60.7 239.9,60.7 241.9,60.7 243.9,60.8 245.9,60.9 247.9,61.0 249.9,61.0 251.9,60.9 253.9,60.8 255.9,60.8 257.9,60.8 259.9,60.8 261.9,60.8 263.9,60.8 265.9,60.7 267.9,60.7 269.9,60.8 271.9,61.0 273.9,61.0 275.9,61.0 277.9,60.8 279.9,60.7 281.9,60.7 283.9,60.8 285.9,60.8 287.9,60.8 289.9,60.8 291.9,60.8 293.9,60.8 295.9,60.9 297.9,61.0 299.9,61.0 301.9,60.9 303.9,60.8 305.9,60.7 307.9,60.7 309.9,60.7 311.9,60.8 313.9,60.9 315.9,60.9 317.9,60.8 319.9,60.8 321.9,60.9 323.9,61.0 325.9,61.0 327.9,60.9 329.9,60.8 331.9,60.7 333.9,60.7 335.5,60.7 335.9,60.7 336.0,60.7 336.5,60.8 337.0,60.8 337.5,60.8 337.9,60.8 338.0,60.8 338.5,60.8 339.0,60.8 339.5,60.7 339.9,60.6 340.0,60.6 340.5,60.5 341.0,60.4 341.5,60.5 341.9,60.6 342.0,60.6 342.5,60.7 343.0,60.8 343.5,60.8 343.9,60.8 344.0,60.8 344.5,60.8 345.0,60.8 345.5,60.8 345.9,60.8 346.0,60.8 346.5,60.8 347.9,60.9 349.9,60.9 351.9,60.9 353.9,60.9 355.9,60.8 357.9,60.7 359.9,60.7 361.9,60.8 363.9,60.9 365.9,61.0 367.9,60.9 369.9,60.9 371.9,60.8 373.9,60.8 375.9,60.9 377.9,60.9 379.6,60.9"/>
<polyline fill="none" stroke="#e02a35" stroke-width="1.25" stroke-linejoin="round" points="35.9,63.5 37.9,63.5 39.9,63.6 41.9,63.7 43.9,63.9 45.9,64.0 47.9,64.1 49.9,64.1 51.9,64.1 53.9,64.2 55.9,64.4 57.9,64.4 59.9,64.4 61.9,64.4 63.9,64.3 65.9,64.3 67.9,64.5 69.9,64.6 71.9,64.7 73.9,64.8 75.9,64.8 77.9,64.8 79.9,64.8 81.9,64.9 83.9,64.9 85.9,64.9 87.9,64.8 89.9,64.8 91.9,64.8 93.9,64.9 95.9,65.1 97.9,65.2 99.9,65.2 101.9,65.1 103.9,65.1 105.9,65.1 107.9,65.1 109.9,65.2 111.9,65.2 113.9,65.1 115.9,65.1 117.9,65.1 118.5,65.1 119.0,65.1 119.5,65.1 119.9,65.1 120.0,65.1 120.5,65.2 121.0,65.2 121.5,65.2 121.9,65.2 122.0,65.1 122.5,65.0 123.0,64.8 123.5,64.5 123.9,64.4 124.0,64.4 124.5,64.5 125.0,64.8 125.5,65.1 125.9,65.2 126.0,65.2 126.5,65.3 127.0,65.3 127.5,65.3 127.9,65.3 128.0,65.3 128.5,65.3 129.0,65.2 129.5,65.2 129.9,65.2 131.9,65.2 133.9,65.1 135.1,65.1 135.4,65.1 135.7,65.1 135.9,65.1 136.0,65.0 136.3,65.0 136.6,65.0 136.9,64.9 137.2,64.8 137.5,64.7 137.8,64.5 137.9,64.5 138.1,64.3 138.4,63.9 138.7,63.3 139.0,62.5 139.3,61.4 139.6,60.2 139.9,59.2 140.2,58.7 140.5,59.2 140.8,60.2 141.1,61.4 141.4,62.4 141.7,63.2 141.9,63.6 142.0,63.8 142.3,64.2 142.6,64.5 142.9,64.6 143.2,64.7 143.5,64.8 143.8,64.9 143.9,64.9 144.1,64.9 144.4,65.0 144.7,65.0 145.0,65.1 145.9,65.2 147.9,65.3 149.9,65.4 151.8,65.3 151.9,65.3 152.1,65.3 152.4,65.3 152.7,65.2 153.0,65.2 153.3,65.1 153.6,65.0 153.9,64.9 154.2,64.8 154.5,64.6 154.8,64.4 155.1,64.0 155.4,63.4 155.7,62.6 155.9,61.9 156.0,61.5 156.3,60.4 156.6,59.3 156.9,58.9 157.2,59.3 157.5,60.3 157.8,61.5 157.9,61.9 158.1,62.5 158.4,63.3 158.7,63.9 159.0,64.3 159.3,64.5 159.6,64.7 159.9,64.8 160.2,64.9 160.5,65.0 160.8,65.1 161.1,65.1 161.4,65.1 161.7,65.2 161.9,65.2 163.9,65.3 165.9,65.3 167.9,65.3 169.9,65.3 171.9,65.4 173.9,65.5 175.9,65.6 177.9,65.6 179.9,65.5 181.9,65.3 183.9,65.3 185.9,65.3 187.9,65.4 189.9,65.4 191.9,65.4 193.9,65.2 194.6,65.1 194.7,65.0 194.9,65.0 195.0,64.9 195.2,64.9 195.3,64.8 195.5,64.7 195.6,64.6 195.8,64.4 195.9,64.3 195.9,64.2 196.1,64.0 196.2,63.7 196.4,63.1 196.5,62.0 196.7,59.8 196.8,55.5 197.0,48.2 197.1,37.4 197.3,24.1 197.4,11.8 197.6,5.6 197.6,5.5 197.7,9.3 197.9,20.5 197.9,22.3 198.0,34.0 198.2,45.7 198.3,54.0 198.5,58.9 198.6,61.6 198.8,62.9 198.9,63.6 199.1,64.0 199.2,64.3 199.4,64.5 199.5,64.6 199.7,64.8 199.8,64.9 199.9,64.9 200.0,65.0 200.1,65.0 200.3,65.1 200.4,65.2 200.6,65.2 201.9,65.4 203.9,65.5 205.9,65.4 207.2,65.3 207.5,65.3 207.8,65.3 207.9,65.3 208.1,65.3 208.4,65.2 208.7,65.2 209.0,65.2 209.3,65.2 209.6,65.2 209.9,65.1 210.2,65.0 210.5,64.8 210.8,64.5 211.1,64.1 211.4,63.7 211.7,63.4 211.9,63.4 212.0,63.4 212.3,63.7 212.6,64.1 212.9,64.5 213.2,64.8 213.5,65.1 213.8,65.2 213.9,65.3 214.1,65.3 214.4,65.4 214.7,65.4 215.0,65.5 215.3,65.5 215.6,65.5 215.9,65.5 216.2,65.5 216.5,65.5 217.9,65.6 219.9,65.5 221.9,65.5 223.9,65.5 225.9,65.6 227.9,65.6 229.9,65.6 231.9,65.5 233.9,65.4 235.9,65.3 237.9,65.4 239.9,65.5 241.9,65.6 243.9,65.6 245.9,65.6 247.9,65.5 249.9,65.5 251.9,65.5 253.9,65.6 255.9,65.5 257.9,65.5 259.9,65.4 261.9,65.4 263.9,65.4 265.9,65.6 267.9,65.7 269.9,65.7 271.9,65.6 273.9,65.5 275.9,65.5 277.9,65.5 279.9,65.5 281.9,65.5 283.9,65.5 285.9,65.4 287.9,65.4 289.9,65.5 291.9,65.6 293.9,65.7 295.9,65.7 297.9,65.6 299.9,65.5 301.9,65.4 303.9,65.5 305.9,65.5 307.9,65.5 309.9,65.5 311.9,65.4 313.9,65.4 315.9,65.5 317.9,65.6 319.9,65.7 321.9,65.7 323.9,65.6 325.9,65.4 327.9,65.4 329.9,65.4 331.9,65.5 333.9,65.5 335.5,65.5 335.9,65.5 336.0,65.5 336.5,65.5 337.0,65.5 337.5,65.5 337.9,65.5 338.0,65.5 338.5,65.4 339.0,65.4 339.5,65.3 339.9,65.2 340.0,65.2 340.5,65.1 341.0,65.0 341.5,65.1 341.9,65.2 342.0,65.3 342.5,65.4 343.0,65.5 343.5,65.6 343.9,65.6 344.0,65.6 344.5,65.6 345.0,65.7 345.5,65.7 345.9,65.7 346.0,65.7 346.5,65.7 347.9,65.6 349.9,65.5 351.9,65.4 353.9,65.4 355.9,65.4 357.9,65.5 359.9,65.6 361.9,65.6 363.9,65.5 365.9,65.5 367.9,65.6 369.9,65.6 371.9,65.7 373.9,65.6 375.9,65.5 377.9,65.4 379.6,65.3"/>
<polyline fill="none" stroke="#8c35d9" stroke-width="1.25" stroke-linejoin="round" points="35.9,68.1 37.9,68.3 39.9,68.4 41.9,68.5 43.9,68.5 45.9,68.6 47.9,68.7 49.9,68.9 51.9,69.0 53.9,69.0 55.9,69.0 57.9,68.9 59.9,68.9 61.9,69.0 63.9,69.1 65.9,69.2 67.9,69.3 69.9,69.3 71.9,69.3 73.9,69.4 75.9,69.5 77.9,69.6 79.9,69.6 81.9,69.5 83.9,69.4 85.9,69.4 87.9,69.5 89.9,69.6 91.9,69.7 93.9,69.8 95.9,69.7 97.9,69.7 99.9,69.8 101.9,69.8 103.9,69.9 105.9,69.9 107.9,69.8 109.9,69.7 111.9,69.7 113.9,69.7 115.9,69.9 117.9,70.0 118.5,70.0 119.0,70.0 119.5,70.0 119.9,70.0 120.0,70.0 120.5,70.0 121.0,70.0 121.5,69.9 121.9,69.8 122.0,69.8 122.5,69.6 123.0,69.4 123.5,69.1 123.9,68.9 124.0,68.9 124.5,69.1 125.0,69.3 125.5,69.6 125.9,69.7 126.0,69.7 126.5,69.8 127.0,69.9 127.5,69.9 127.9,69.9 128.0,69.9 128.5,69.9 129.0,70.0 129.5,70.0 129.9,70.0 131.9,70.0 133.9,69.8 135.1,69.7 135.4,69.7 135.7,69.7 135.9,69.6 136.0,69.6 136.3,69.6 136.6,69.5 136.9,69.5 137.2,69.4 137.5,69.3 137.8,69.1 137.9,69.0 138.1,68.9 138.4,68.5 138.7,68.0 139.0,67.2 139.3,66.2 139.6,65.1 139.9,64.1 140.2,63.7 140.5,64.1 140.8,65.1 141.1,66.3 141.4,67.3 141.7,68.1 141.9,68.5 142.0,68.7 142.3,69.1 142.6,69.4 142.9,69.5 143.2,69.7 143.5,69.7 143.8,69.8 143.9,69.8 144.1,69.9 144.4,69.9 144.7,70.0 145.0,70.0 145.9,70.0 147.9,70.0 149.9,69.9 151.8,69.8 151.9,69.8 152.1,69.8 152.4,69.8 152.7,69.8 153.0,69.7 153.3,69.7 153.6,69.6 153.9,69.6 154.2,69.5 154.5,69.3 154.8,69.1 155.1,68.7 155.4,68.2 155.7,67.4 155.9,66.8 156.0,66.5 156.3,65.4 156.6,64.4 156.9,64.0 157.2,64.4 157.5,65.4 157.8,66.5 157.9,66.8 158.1,67.5 158.4,68.2 158.7,68.8 159.0,69.1 159.3,69.4 159.6,69.5 159.9,69.6 160.2,69.7 160.5,69.7 160.8,69.7 161.1,69.8 161.4,69.8 161.7,69.8 161.9,69.8 163.9,69.9 165.9,70.0 167.9,70.1 169.9,70.3 171.9,70.3 173.9,70.2 175.9,70.1 177.9,70.0 179.9,70.1 181.9,70.1 183.9,70.1 185.9,70.1 187.9,70.0 189.9,70.0 191.9,70.0 193.9,70.0 194.6,69.9 194.7,69.9 194.9,69.8 195.0,69.8 195.2,69.7 195.3,69.6 195.5,69.5 195.6,69.4 195.8,69.3 195.9,69.2 195.9,69.1 196.1,68.9 196.2,68.5 196.4,68.0 196.5,66.9 196.7,64.7 196.8,60.4 197.0,53.1 197.1,42.2 197.3,29.0 197.4,16.6 197.6,10.4 197.6,10.3 197.7,14.1 197.9,25.4 197.9,27.2 198.0,38.8 198.2,50.5 198.3,58.8 198.5,63.7 198.6,66.4 198.8,67.7 198.9,68.4 199.1,68.8 199.2,69.0 199.4,69.2 199.5,69.3 199.7,69.5 199.8,69.5 199.9,69.6 200.0,69.6 200.1,69.7 200.3,69.7 200.4,69.8 200.6,69.8 201.9,69.9 203.9,69.9 205.9,70.0 207.2,70.0 207.5,70.0 207.8,70.0 207.9,70.0 208.1,70.1 208.4,70.1 208.7,70.1 209.0,70.1 209.3,70.0 209.6,70.0 209.9,70.0 210.2,69.9 210.5,69.7 210.8,69.4 211.1,69.0 211.4,68.6 211.7,68.3 211.9,68.2 212.0,68.2 212.3,68.5 212.6,68.9 212.9,69.3 213.2,69.6 213.5,69.8 213.8,69.9 213.9,70.0 214.1,70.0 214.4,70.0 214.7,70.1 215.0,70.1 215.3,70.1 215.6,70.1 215.9,70.1 216.2,70.1 216.5,70.1 217.9,70.2 219.9,70.3 221.9,70.3 223.9,70.3 225.9,70.2 227.9,70.1 229.9,70.0 231.9,70.1 233.9,70.1 235.9,70.2 237.9,70.3 239.9,70.2 241.9,70.2 243.9,70.2 245.9,70.3 247.9,70.3 249.9,70.3 251.9,70.2 253.9,70.1 255.9,70.0 257.9,70.1 259.9,70.2 261.9,70.3 263.9,70.3 265.9,70.3 267.9,70.2 269.9,70.2 271.9,70.2 273.9,70.3 275.9,70.3 277.9,70.2 279.9,70.1 281.9,70.0 283.9,70.1 285.9,70.2 287.9,70.3 289.9,70.4 291.9,70.3 293.9,70.2 295.9,70.2 297.9,70.2 299.9,70.2 301.9,70.2 303.9,70.2 305.9,70.1 307.9,70.1 309.9,70.1 311.9,70.3 313.9,70.4 315.9,70.4 317.9,70.3 319.9,70.2 321.9,70.1 323.9,70.2 325.9,70.2 327.9,70.2 329.9,70.2 331.9,70.1 333.9,70.1 335.5,70.1 335.9,70.2 336.0,70.2 336.5,70.2 337.0,70.2 337.5,70.2 337.9,70.3 338.0,70.3 338.5,70.3 339.0,70.3 339.5,70.2 339.9,70.1 340.0,70.1 340.5,70.0 341.0,69.9 341.5,70.0 341.9,70.1 342.0,70.1 342.5,70.2 343.0,70.3 343.5,70.3 343.9,70.3 344.0,70.3 344.5,70.3 345.0,70.2 345.5,70.2 345.9,70.2 346.0,70.2 346.5,70.1 347.9,70.1 349.9,70.1 351.9,70.2 353.9,70.2 355.9,70.2 357.9,70.2 359.9,70.2 361.9,70.2 363.9,70.3 365.9,70.4 367.9,70.4 369.9,70.3 371.9,70.1 373.9,70.1 375.9,70.1 377.9,70.2 379.6,70.2"/>
<polyline fill="none" stroke="#f0a236" stroke-width="1.25" stroke-linejoin="round" points="35.9,72.9 37.9,72.9 39.9,73.0 41.9,73.1 43.9,73.3 45.9,73.5 47.9,73.6 49.9,73.6 51.9,73.5 53.9,73.5 55.9,73.6 57.9,73.7 59.9,73.7 61.9,73.8 63.9,73.8 65.9,73.8 67.9,73.9 69.9,74.0 71.9,74.2 73.9,74.2 75.9,74.2 77.9,74.1 79.9,74.0 81.9,74.1 83.9,74.2 85.9,74.3 87.9,74.3 89.9,74.3 91.9,74.3 93.9,74.3 95.9,74.4 97.9,74.5 99.9,74.6 101.9,74.5 103.9,74.4 105.9,74.3 107.9,74.4 109.9,74.4 111.9,74.6 113.9,74.6 115.9,74.6 117.9,74.6 118.5,74.6 119.0,74.6 119.5,74.6 119.9,74.6 120.0,74.6 120.5,74.6 121.0,74.6 121.5,74.6 121.9,74.5 122.0,74.5 122.5,74.3 123.0,74.1 123.5,73.8 123.9,73.7 124.0,73.7 124.5,73.9 125.0,74.1 125.5,74.4 125.9,74.5 126.0,74.6 126.5,74.6 127.0,74.7 127.5,74.6 127.9,74.6 128.0,74.6 128.5,74.6 129.0,74.6 129.5,74.5 129.9,74.5 131.9,74.4 133.9,74.4 135.1,74.4 135.4,74.4 135.7,74.4 135.9,74.4 136.0,74.4 136.3,74.4 136.6,74.4 136.9,74.3 137.2,74.3 137.5,74.2 137.8,74.0 137.9,74.0 138.1,73.8 138.4,73.5 138.7,73.0 139.0,72.2 139.3,71.3 139.6,70.2 139.9,69.2 140.2,68.8 140.5,69.2 140.8,70.2 141.1,71.3 141.4,72.2 141.7,73.0 141.9,73.4 142.0,73.5 142.3,73.9 142.6,74.1 142.9,74.2 143.2,74.3 143.5,74.4 143.8,74.4 143.9,74.4 144.1,74.5 144.4,74.5 144.7,74.5 145.0,74.5 145.9,74.6 147.9,74.6 149.9,74.7 151.8,74.6 151.9,74.6 152.1,74.6 152.4,74.6 152.7,74.6 153.0,74.5 153.3,74.5 153.6,74.4 153.9,74.3 154.2,74.2 154.5,74.0 154.8,73.8 155.1,73.4 155.4,72.9 155.7,72.2 155.9,71.5 156.0,71.2 156.3,70.1 156.6,69.2 156.9,68.8 157.2,69.2 157.5,70.1 157.8,71.2 157.9,71.5 158.1,72.1 158.4,72.8 158.7,73.3 159.0,73.7 159.3,73.9 159.6,74.1 159.9,74.2 160.2,74.3 160.5,74.4 160.8,74.4 161.1,74.5 161.4,74.5 161.7,74.6 161.9,74.6 163.9,74.8 165.9,74.9 167.9,74.9 169.9,74.8 171.9,74.8 173.9,74.8 175.9,74.8 177.9,74.8 179.9,74.8 181.9,74.7 183.9,74.7 185.9,74.7 187.9,74.8 189.9,74.9 191.9,74.9 193.9,74.7 194.6,74.6 194.7,74.5 194.9,74.5 195.0,74.4 195.2,74.3 195.3,74.2 195.5,74.1 195.6,74.0 195.8,73.9 195.9,73.7 195.9,73.7 196.1,73.4 196.2,73.1 196.4,72.5 196.5,71.4 196.7,69.2 196.8,64.9 197.0,57.6 197.1,46.7 197.3,33.4 197.4,21.1 197.6,14.9 197.6,14.8 197.7,18.6 197.9,29.8 197.9,31.6 198.0,43.3 198.2,55.0 198.3,63.2 198.5,68.2 198.6,70.9 198.8,72.2 198.9,72.9 199.1,73.2 199.2,73.5 199.4,73.7 199.5,73.9 199.7,74.0 199.8,74.1 199.9,74.1 200.0,74.2 200.1,74.2 200.3,74.3 200.4,74.4 200.6,74.4 201.9,74.6 203.9,74.8 205.9,74.8 207.2,74.7 207.5,74.7 207.8,74.7 207.9,74.7 208.1,74.7 208.4,74.7 208.7,74.7 209.0,74.7 209.3,74.6 209.6,74.6 209.9,74.5 210.2,74.4 210.5,74.2 210.8,73.9 211.1,73.6 211.4,73.2 211.7,72.9 211.9,72.8 212.0,72.8 212.3,73.1 212.6,73.5 212.9,73.9 213.2,74.3 213.5,74.5 213.8,74.7 213.9,74.7 214.1,74.8 214.4,74.8 214.7,74.9 215.0,74.9 215.3,74.9 215.6,75.0 215.9,75.0 216.2,75.0 216.5,75.0 217.9,75.0 219.9,75.0 221.9,74.9 223.9,74.8 225.9,74.8 227.9,74.8 229.9,74.9 231.9,74.9 233.9,74.9 235.9,74.8 237.9,74.9 239.9,74.9 241.9,75.0 243.9,75.1 245.9,75.0 247.9,74.9 249.9,74.8 251.9,74.7 253.9,74.8 255.9,74.9 257.9,74.9 259.9,74.9 261.9,74.9 263.9,74.9 265.9,75.0 267.9,75.0 269.9,75.0 271.9,75.0 273.9,74.8 275.9,74.7 277.9,74.7 279.9,74.8 281.9,74.9 283.9,75.0 285.9,75.0 287.9,74.9 289.9,74.9 291.9,74.9 293.9,75.0 295.9,75.0 297.9,74.9 299.9,74.8 301.9,74.7 303.9,74.7 305.9,74.8 307.9,75.0 309.9,75.0 311.9,75.0 313.9,74.9 315.9,74.9 317.9,74.9 319.9,74.9 321.9,75.0 323.9,74.9 325.9,74.8 327.9,74.7 329.9,74.8 331.9,74.9 333.9,75.0 335.5,75.1 335.9,75.1 336.0,75.1 336.5,75.1 337.0,75.0 337.5,75.0 337.9,75.0 338.0,75.0 338.5,75.0 339.0,74.9 339.5,74.8 339.9,74.7 340.0,74.6 340.5,74.5 341.0,74.4 341.5,74.4 341.9,74.5 342.0,74.6 342.5,74.7 343.0,74.8 343.5,74.8 343.9,74.8 344.0,74.8 344.5,74.9 345.0,74.9 345.5,74.9 345.9,74.9 346.0,74.9 346.5,74.9 347.9,74.9 349.9,74.9 351.9,74.8 353.9,74.8 355.9,74.8 357.9,74.9 359.9,75.0 361.9,75.1 363.9,75.0 365.9,74.9 367.9,74.8 369.9,74.8 371.9,74.9 373.9,74.9 375.9,74.9 377.9,74.9 379.6,74.8"/>
<polyline fill="none" stroke="#3b9a45" stroke-width="1.25" stroke-linejoin="round" points="35.9,77.5 37.9,77.6 39.9,77.9 41.9,78.0 43.9,78.1 45.9,78.1 47.9,78.1 49.9,78.1 51.9,78.2 53.9,78.3 55.9,78.3 57.9,78.3 59.9,78.3 61.9,78.4 63.9,78.5 65.9,78.7 67.9,78.8 69.9,78.8 71.9,78.8 73.9,78.7 75.9,78.7 77.9,78.8 79.9,78.9 81.9,78.9 83.9,78.9 85.9,78.8 87.9,78.9 89.9,79.0 91.9,79.1 93.9,79.2 95.9,79.2 97.9,79.1 99.9,79.0 101.9,79.0 103.9,79.1 105.9,79.2 107.9,79.2 109.9,79.2 111.9,79.2 113.9,79.2 115.9,79.3 117.9,79.4 118.5,79.4 119.0,79.4 119.5,79.4 119.9,79.4 120.0,79.4 120.5,79.4 121.0,79.4 121.5,79.3 121.9,79.3 122.0,79.2 122.5,79.0 123.0,78.8 123.5,78.5 123.9,78.3 124.0,78.3 124.5,78.4 125.0,78.6 125.5,78.9 125.9,79.0 126.0,79.0 126.5,79.1 127.0,79.1 127.5,79.1 127.9,79.1 128.0,79.1 128.5,79.1 129.0,79.2 129.5,79.2 129.9,79.2 131.9,79.3 133.9,79.3 135.1,79.3 135.4,79.2 135.7,79.2 135.9,79.2 136.0,79.2 136.3,79.1 136.6,79.1 136.9,79.0 137.2,79.0 137.5,78.9 137.8,78.7 137.9,78.7 138.1,78.5 138.4,78.1 138.7,77.6 139.0,76.9 139.3,76.0 139.6,75.0 139.9,74.1 140.2,73.7 140.5,74.1 140.8,75.0 141.1,76.0 141.4,77.0 141.7,77.7 141.9,78.1 142.0,78.2 142.3,78.6 142.6,78.8 142.9,78.9 143.2,79.1 143.5,79.1 143.8,79.2 143.9,79.2 144.1,79.3 144.4,79.3 144.7,79.3 145.0,79.4 145.9,79.4 147.9,79.4 149.9,79.3 151.8,79.1 151.9,79.1 152.1,79.1 152.4,79.1 152.7,79.0 153.0,79.0 153.3,79.0 153.6,78.9 153.9,78.9 154.2,78.8 154.5,78.6 154.8,78.4 155.1,78.1 155.4,77.6 155.7,76.9 155.9,76.4 156.0,76.1 156.3,75.1 156.6,74.2 156.9,73.8 157.2,74.2 157.5,75.1 157.8,76.2 157.9,76.5 158.1,77.1 158.4,77.8 158.7,78.3 159.0,78.7 159.3,78.9 159.6,79.0 159.9,79.1 160.2,79.2 160.5,79.3 160.8,79.3 161.1,79.3 161.4,79.4 161.7,79.4 161.9,79.4 163.9,79.4 165.9,79.4 167.9,79.5 169.9,79.5 171.9,79.6 173.9,79.5 175.9,79.4 177.9,79.3 179.9,79.3 181.9,79.4 183.9,79.5 185.9,79.6 187.9,79.6 189.9,79.5 191.9,79.4 193.9,79.3 194.6,79.2 194.7,79.1 194.9,79.1 195.0,79.0 195.2,79.0 195.3,78.9 195.5,78.8 195.6,78.7 195.8,78.5 195.9,78.4 195.9,78.4 196.1,78.1 196.2,77.8 196.4,77.2 196.5,76.1 196.7,73.9 196.8,69.6 197.0,62.3 197.1,51.5 197.3,38.2 197.4,25.9 197.6,19.7 197.6,19.6 197.7,23.4 197.9,34.6 197.9,36.4 198.0,48.1 198.2,59.8 198.3,68.0 198.5,73.0 198.6,75.7 198.8,77.0 198.9,77.7 199.1,78.1 199.2,78.3 199.4,78.5 199.5,78.7 199.7,78.8 199.8,78.9 199.9,78.9 200.0,78.9 200.1,79.0 200.3,79.1 200.4,79.1 200.6,79.1 201.9,79.3 203.9,79.3 205.9,79.3 207.2,79.4 207.5,79.4 207.8,79.4 207.9,79.4 208.1,79.4 208.4,79.4 208.7,79.5 209.0,79.5 209.3,79.5 209.6,79.5 209.9,79.4 210.2,79.3 210.5,79.1 210.8,78.9 211.1,78.5 211.4,78.1 211.7,77.8 211.9,77.7 212.0,77.7 212.3,78.0 212.6,78.4 212.9,78.8 213.2,79.1 213.5,79.3 213.8,79.5 213.9,79.5 214.1,79.6 214.4,79.6 214.7,79.6 215.0,79.6 215.3,79.6 215.6,79.6 215.9,79.6 216.2,79.6 216.5,79.6 217.9,79.5 219.9,79.5 221.9,79.5 223.9,79.6 225.9,79.6 227.9,79.5 229.9,79.5 231.9,79.5 233.9,79.6 235.9,79.7 237.9,79.8 239.9,79.7 241.9,79.6 243.9,79.5 245.9,79.5 247.9,79.5 249.9,79.6 251.9,79.6 253.9,79.6 255.9,79.5 257.9,79.5 259.9,79.6 261.9,79.7 263.9,79.8 265.9,79.7 267.9,79.6 269.9,79.5 271.9,79.4 273.9,79.5 275.9,79.6 277.9,79.6 279.9,79.6 281.9,79.6 283.9,79.6 285.9,79.6 287.9,79.7 289.9,79.7 291.9,79.7 293.9,79.6 295.9,79.5 297.9,79.4 299.9,79.5 301.9,79.6 303.9,79.7 305.9,79.7 307.9,79.6 309.9,79.6 311.9,79.6 313.9,79.7 315.9,79.7 317.9,79.7 319.9,79.6 321.9,79.4 323.9,79.4 325.9,79.5 327.9,79.6 329.9,79.7 331.9,79.7 333.9,79.6 335.5,79.6 335.9,79.6 336.0,79.6 336.5,79.6 337.0,79.6 337.5,79.6 337.9,79.6 338.0,79.6 338.5,79.6 339.0,79.5 339.5,79.5 339.9,79.4 340.0,79.3 340.5,79.2 341.0,79.2 341.5,79.2 341.9,79.3 342.0,79.4 342.5,79.5 343.0,79.6 343.5,79.6 343.9,79.6 344.0,79.6 344.5,79.6 345.0,79.6 345.5,79.5 345.9,79.5 346.0,79.5 346.5,79.5 347.9,79.4 349.9,79.4 351.9,79.5 353.9,79.6 355.9,79.7 357.9,79.7 359.9,79.7 361.9,79.6 363.9,79.6 365.9,79.6 367.9,79.6 369.9,79.6 371.9,79.5 373.9,79.5 375.9,79.5 377.9,79.6 379.6,79.7"/>
<polyline fill="none" stroke="#2a2ad6" stroke-width="1.25" stroke-linejoin="round" points="35.9,82.4 37.9,82.5 39.9,82.5 41.9,82.6 43.9,82.6 45.9,82.8 47.9,82.9 49.9,82.9 51.9,82.9 53.9,82.8 55.9,82.8 57.9,83.0 59.9,83.1 61.9,83.3 63.9,83.4 65.9,83.4 67.9,83.3 69.9,83.3 71.9,83.4 73.9,83.5 75.9,83.5 77.9,83.5 79.9,83.4 81.9,83.4 83.9,83.5 85.9,83.7 87.9,83.8 89.9,83.9 91.9,83.8 93.9,83.7 95.9,83.7 97.9,83.8 99.9,83.8 101.9,83.8 103.9,83.8 105.9,83.8 107.9,83.8 109.9,83.9 111.9,84.0 113.9,84.1 115.9,84.1 117.9,84.0 118.5,84.0 119.0,84.0 119.5,83.9 119.9,83.9 120.0,83.9 120.5,83.9 121.0,83.9 121.5,83.8 121.9,83.7 122.0,83.7 122.5,83.5 123.0,83.3 123.5,83.0 123.9,82.9 124.0,82.9 124.5,83.1 125.0,83.3 125.5,83.6 125.9,83.8 126.0,83.8 126.5,83.9 127.0,84.0 127.5,84.0 127.9,84.0 128.0,84.0 128.5,84.0 129.0,84.0 129.5,84.0 129.9,84.0 131.9,83.9 133.9,83.9 135.1,83.9 135.4,83.9 135.7,83.9 135.9,83.8 136.0,83.8 136.3,83.8 136.6,83.8 136.9,83.8 137.2,83.7 137.5,83.6 137.8,83.5 137.9,83.5 138.1,83.3 138.4,83.0 138.7,82.6 139.0,81.9 139.3,81.0 139.6,80.1 139.9,79.2 140.2,78.8 140.5,79.2 140.8,80.1 141.1,81.1 141.4,81.9 141.7,82.6 141.9,82.9 142.0,83.1 142.3,83.4 142.6,83.6 142.9,83.7 143.2,83.8 143.5,83.8 143.8,83.9 143.9,83.9 144.1,83.9 144.4,83.9 144.7,83.9 145.0,83.9 145.9,83.9 147.9,83.9 149.9,83.9 151.8,83.9 151.9,83.9 152.1,83.9 152.4,83.9 152.7,83.9 153.0,83.9 153.3,83.8 153.6,83.8 153.9,83.8 154.2,83.7 154.5,83.5 154.8,83.3 155.1,83.0 155.4,82.6 155.7,81.9 155.9,81.3 156.0,81.0 156.3,80.1 156.6,79.2 156.9,78.9 157.2,79.2 157.5,80.1 157.8,81.0 157.9,81.3 158.1,81.9 158.4,82.5 158.7,83.0 159.0,83.3 159.3,83.5 159.6,83.6 159.9,83.7 160.2,83.8 160.5,83.9 160.8,83.9 161.1,83.9 161.4,84.0 161.7,84.0 161.9,84.0 163.9,84.2 165.9,84.3 167.9,84.3 169.9,84.2 171.9,84.1 173.9,84.0 175.9,84.1 177.9,84.2 179.9,84.3 181.9,84.3 183.9,84.2 185.9,84.2 187.9,84.2 189.9,84.2 191.9,84.2 193.9,84.1 194.6,83.9 194.7,83.9 194.9,83.8 195.0,83.7 195.2,83.7 195.3,83.6 195.5,83.5 195.6,83.4 195.8,83.2 195.9,83.1 195.9,83.0 196.1,82.8 196.2,82.4 196.4,81.8 196.5,80.7 196.7,78.5 196.8,74.2 197.0,66.9 197.1,56.0 197.3,42.8 197.4,30.4 197.6,24.2 197.6,24.1 197.7,27.9 197.9,39.2 197.9,40.9 198.0,52.6 198.2,64.3 198.3,72.5 198.5,77.5 198.6,80.2 198.8,81.5 198.9,82.1 199.1,82.5 199.2,82.8 199.4,83.0 199.5,83.1 199.7,83.3 199.8,83.4 199.9,83.4 200.0,83.4 200.1,83.5 200.3,83.6 200.4,83.6 200.6,83.7 201.9,83.9 203.9,84.1 205.9,84.3 207.2,84.3 207.5,84.3 207.8,84.3 207.9,84.3 208.1,84.3 208.4,84.3 208.7,84.3 209.0,84.2 209.3,84.2 209.6,84.2 209.9,84.1 210.2,84.0 210.5,83.8 210.8,83.5 211.1,83.1 211.4,82.6 211.7,82.3 211.9,82.3 212.0,82.3 212.3,82.5 212.6,82.9 212.9,83.3 213.2,83.7 213.5,83.9 213.8,84.0 213.9,84.1 214.1,84.1 214.4,84.1 214.7,84.2 215.0,84.2 215.3,84.2 215.6,84.2 215.9,84.2 216.2,84.3 216.5,84.3 217.9,84.3 219.9,84.3 221.9,84.2 223.9,84.1 225.9,84.1 227.9,84.2 229.9,84.3 231.9,84.4 233.9,84.4 235.9,84.4 237.9,84.3 239.9,84.2 241.9,84.3 243.9,84.3 245.9,84.3 247.9,84.2 249.9,84.2 251.9,84.1 253.9,84.2 255.9,84.3 257.9,84.4 259.9,84.4 261.9,84.4 263.9,84.3 265.9,84.2 267.9,84.2 269.9,84.3 271.9,84.3 273.9,84.2 275.9,84.2 277.9,84.2 279.9,84.2 281.9,84.4 283.9,84.4 285.9,84.4 287.9,84.4 289.9,84.2 291.9,84.2 293.9,84.2 295.9,84.2 297.9,84.3 299.9,84.3 301.9,84.2 303.9,84.2 305.9,84.3 307.9,84.4 309.9,84.4 311.9,84.4 313.9,84.3 315.9,84.2 317.9,84.1 319.9,84.2 321.9,84.2 323.9,84.3 325.9,84.3 327.9,84.3 329.9,84.3 331.9,84.3 333.9,84.4 335.5,84.4 335.9,84.4 336.0,84.4 336.5,84.4 337.0,84.4 337.5,84.4 337.9,84.4 338.0,84.4 338.5,84.3 339.0,84.3 339.5,84.2 339.9,84.0 340.0,84.0 340.5,83.8 341.0,83.7 341.5,83.8 341.9,83.8 342.0,83.9 342.5,84.0 343.0,84.0 343.5,84.1 343.9,84.1 344.0,84.1 344.5,84.1 345.0,84.1 345.5,84.1 345.9,84.1 346.0,84.1 346.5,84.2 347.9,84.2 349.9,84.3 351.9,84.4 353.9,84.3 355.9,84.3 357.9,84.3 359.9,84.3 361.9,84.4 363.9,84.4 365.9,84.3 367.9,84.2 369.9,84.1 371.9,84.2 373.9,84.3 375.9,84.4 377.9,84.4 379.6,84.4"/>
<polyline fill="none" stroke="#e02a35" stroke-width="1.25" stroke-linejoin="round" points="35.9,87.0 37.9,87.1 39.9,87.2 41.9,87.4 43.9,87.5 45.9,87.5 47.9,87.4 49.9,87.4 51.9,87.4 53.9,87.6 55.9,87.7 57.9,87.8 59.9,87.9 61.9,87.9 63.9,87.9 65.9,88.0 67.9,88.1 69.9,88.2 71.9,88.1 73.9,88.0 75.9,88.0 77.9,88.1 79.9,88.2 81.9,88.3 83.9,88.4 85.9,88.4 87.9,88.4 89.9,88.4 91.9,88.4 93.9,88.5 95.9,88.5 97.9,88.5 99.9,88.4 101.9,88.4 103.9,88.4 105.9,88.5 107.9,88.7 109.9,88.7 111.9,88.7 113.9,88.7 115.9,88.6 117.9,88.6 118.5,88.6 119.0,88.6 119.5,88.7 119.9,88.7 120.0,88.7 120.5,88.7 121.0,88.7 121.5,88.6 121.9,88.6 122.0,88.5 122.5,88.4 123.0,88.1 123.5,87.8 123.9,87.7 124.0,87.7 124.5,87.8 125.0,88.0 125.5,88.3 125.9,88.4 126.0,88.4 126.5,88.5 127.0,88.5 127.5,88.5 127.9,88.5 128.0,88.5 128.5,88.6 129.0,88.6 129.5,88.6 129.9,88.6 131.9,88.7 133.9,88.8 135.1,88.9 135.4,88.9 135.7,88.8 135.9,88.8 136.0,88.8 136.3,88.8 136.6,88.8 136.9,88.8 137.2,88.7 137.5,88.7 137.8,88.6 137.9,88.6 138.1,88.5 138.4,88.3 138.7,88.1 139.0,87.7 139.3,87.3 139.6,86.8 139.9,86.4 140.2,86.2 140.5,86.4 140.8,86.8 141.1,87.2 141.4,87.6 141.7,87.9 141.9,88.1 142.0,88.2 142.3,88.3 142.6,88.4 142.9,88.5 143.2,88.5 143.5,88.5 143.8,88.6 143.9,88.6 144.1,88.6 144.4,88.6 144.7,88.6 145.0,88.7 145.9,88.7 147.9,88.8 149.9,88.7 151.8,88.6 151.9,88.6 152.1,88.6 152.4,88.6 152.7,88.6 153.0,88.6 153.3,88.5 153.6,88.5 153.9,88.5 154.2,88.4 154.5,88.3 154.8,88.2 155.1,87.9 155.4,87.6 155.7,87.2 155.9,86.8 156.0,86.6 156.3,85.9 156.6,85.3 156.9,85.1 157.2,85.4 157.5,86.0 157.8,86.7 157.9,86.9 158.1,87.3 158.4,87.8 158.7,88.1 159.0,88.4 159.3,88.5 159.6,88.6 159.9,88.7 160.2,88.8 160.5,88.8 160.8,88.9 161.1,88.9 161.4,88.9 161.7,88.9 161.9,88.9 163.9,88.9 165.9,88.8 167.9,88.7 169.9,88.7 171.9,88.8 173.9,88.9 175.9,88.9 177.9,88.9 179.9,88.8 181.9,88.9 183.9,88.9 185.9,89.0 187.9,89.0 189.9,88.9 191.9,88.8 193.9,88.5 194.6,88.4 194.7,88.3 194.9,88.3 195.0,88.2 195.2,88.2 195.3,88.1 195.5,88.0 195.6,87.9 195.8,87.7 195.9,87.6 195.9,87.6 196.1,87.3 196.2,87.0 196.4,86.4 196.5,85.3 196.7,83.1 196.8,78.9 197.0,71.5 197.1,60.7 197.3,47.4 197.4,35.1 197.6,28.9 197.6,28.8 197.7,32.6 197.9,43.9 197.9,45.7 198.0,57.4 198.2,69.0 198.3,77.3 198.5,82.3 198.6,85.0 198.8,86.3 198.9,87.0 199.1,87.4 199.2,87.6 199.4,87.8 199.5,88.0 199.7,88.1 199.8,88.2 199.9,88.3 200.0,88.3 200.1,88.4 200.3,88.5 200.4,88.5 200.6,88.6 201.9,88.8 203.9,88.9 205.9,88.9 207.2,88.9 207.5,88.9 207.8,88.9 207.9,88.9 208.1,88.9 208.4,88.9 208.7,88.9 209.0,88.9 209.3,88.9 209.6,88.9 209.9,88.8 210.2,88.7 210.5,88.6 210.8,88.4 211.1,88.1 211.4,87.7 211.7,87.5 211.9,87.5 212.0,87.5 212.3,87.7 212.6,88.0 212.9,88.3 213.2,88.6 213.5,88.8 213.8,88.9 213.9,88.9 214.1,88.9 214.4,89.0 214.7,89.0 215.0,89.0 215.3,89.0 215.6,89.0 215.9,89.0 216.2,88.9 216.5,88.9 217.9,88.8 219.9,88.8 221.9,88.8 223.9,88.9 225.9,89.0 227.9,89.0 229.9,89.0 231.9,89.0 233.9,89.0 235.9,89.0 237.9,89.0 239.9,89.0 241.9,89.0 243.9,88.9 245.9,88.8 247.9,88.8 249.9,88.9 251.9,89.0 253.9,89.1 255.9,89.1 257.9,89.0 259.9,89.0 261.9,89.0 263.9,89.0 265.9,89.0 267.9,89.0 269.9,88.9 271.9,88.8 273.9,88.8 275.9,89.0 277.9,89.1 279.9,89.1 281.9,89.1 283.9,89.0 285.9,88.9 287.9,88.9 289.9,89.0 291.9,89.0 293.9,89.0 295.9,88.9 297.9,88.9 299.9,88.9 301.9,89.0 303.9,89.1 305.9,89.2 307.9,89.1 309.9,89.0 311.9,88.9 313.9,88.9 315.9,88.9 317.9,89.0 319.9,89.0 321.9,88.9 323.9,88.9 325.9,88.9 327.9,89.0 329.9,89.1 331.9,89.1 333.9,89.1 335.5,89.0 335.9,88.9 336.0,88.9 336.5,88.9 337.0,88.9 337.5,88.8 337.9,88.8 338.0,88.8 338.5,88.8 339.0,88.7 339.5,88.7 339.9,88.6 340.0,88.5 340.5,88.4 341.0,88.4 341.5,88.5 341.9,88.6 342.0,88.6 342.5,88.8 343.0,88.9 343.5,88.9 343.9,89.0 344.0,89.0 344.5,89.0 345.0,89.0 345.5,89.0 345.9,89.0 346.0,89.0 346.5,89.0 347.9,89.0 349.9,88.9 351.9,89.0 353.9,89.0 355.9,89.1 357.9,89.1 359.9,89.0 361.9,88.9 363.9,88.8 365.9,88.8 367.9,88.9 369.9,89.0 371.9,89.0 373.9,89.0 375.9,89.0 377.9,89.0 379.6,89.0"/>
<polyline fill="none" stroke="#8c35d9" stroke-width="1.25" stroke-linejoin="round" points="35.9,91.8 37.9,92.0 39.9,92.0 41.9,92.0 43.9,91.9 45.9,92.0 47.9,92.1 49.9,92.2 51.9,92.3 53.9,92.3 55.9,92.4 57.9,92.4 59.9,92.5 61.9,92.7 63.9,92.8 65.9,92.8 67.9,92.7 69.9,92.6 71.9,92.6 73.9,92.7 75.9,92.8 77.9,92.9 79.9,93.0 81.9,93.0 83.9,93.0 85.9,93.1 87.9,93.2 89.9,93.2 91.9,93.2 93.9,93.1 95.9,93.0 97.9,93.0 99.9,93.1 101.9,93.2 103.9,93.3 105.9,93.3 107.9,93.3 109.9,93.3 111.9,93.3 113.9,93.4 115.9,93.4 117.9,93.4 119.9,93.3 121.9,93.2 123.9,93.2 125.9,93.3 127.9,93.5 129.9,93.5 131.9,93.5 133.9,93.5 135.4,93.4 135.7,93.4 135.9,93.4 136.0,93.4 136.3,93.4 136.6,93.4 136.9,93.4 137.2,93.4 137.5,93.4 137.8,93.3 137.9,93.3 138.1,93.3 138.4,93.3 138.7,93.2 139.0,93.1 139.3,93.0 139.6,92.8 139.9,92.6 140.2,92.4 140.5,92.3 140.8,92.4 141.1,92.6 141.4,92.8 141.7,92.9 141.9,93.0 142.0,93.0 142.3,93.0 142.6,92.9 142.9,92.7 143.2,92.6 143.5,92.7 143.8,92.9 143.9,93.0 144.1,93.1 144.4,93.3 144.7,93.3 145.0,93.4 145.3,93.4 145.6,93.4 145.9,93.4 146.2,93.4 146.5,93.3 146.8,93.3 147.9,93.3 149.9,93.3 151.9,93.4 152.2,93.4 152.5,93.5 152.8,93.5 153.1,93.5 153.4,93.5 153.7,93.5 153.9,93.5 154.0,93.5 154.3,93.5 154.6,93.4 154.9,93.4 155.2,93.3 155.5,93.2 155.8,93.0 155.9,92.9 156.1,92.7 156.4,92.4 156.7,92.1 157.0,92.0 157.3,91.9 157.6,91.8 157.9,91.4 158.2,91.0 158.4,90.9 158.5,91.0 158.8,91.7 159.1,92.5 159.4,93.1 159.7,93.3 159.9,93.4 160.0,93.4 160.3,93.4 160.6,93.4 160.9,93.4 161.2,93.4 161.5,93.5 161.8,93.5 161.9,93.5 163.9,93.5 165.9,93.5 167.9,93.6 169.9,93.6 171.9,93.5 173.4,93.5 173.7,93.4 173.9,93.4 174.0,93.4 174.3,93.4 174.6,93.4 174.9,93.4 175.2,93.4 175.5,93.4 175.8,93.3 175.9,93.3 176.1,93.2 176.4,92.9 176.7,92.6 176.9,92.5 177.0,92.5 177.3,92.8 177.6,93.2 177.9,93.4 178.2,93.5 178.5,93.6 178.8,93.6 179.1,93.6 179.4,93.7 179.7,93.7 179.9,93.7 180.0,93.7 180.3,93.7 181.9,93.8 183.9,93.7 185.9,93.6 187.9,93.5 189.9,93.4 191.9,93.4 193.9,93.3 194.7,93.2 194.8,93.2 195.0,93.1 195.2,93.1 195.3,93.0 195.4,92.9 195.6,92.8 195.8,92.7 195.9,92.6 196.1,92.4 196.2,92.2 196.3,91.8 196.5,91.3 196.7,90.3 196.8,88.5 196.9,85.0 197.1,78.9 197.2,69.7 197.4,57.7 197.6,45.0 197.7,35.7 197.8,33.6 197.8,34.1 197.9,35.7 198.0,41.3 198.2,53.3 198.3,65.9 198.4,76.2 198.6,83.3 198.8,87.5 198.9,89.8 199.1,91.0 199.2,91.6 199.3,92.0 199.5,92.3 199.7,92.5 199.8,92.6 199.9,92.7 199.9,92.7 200.1,92.8 200.2,92.9 200.4,93.0 200.6,93.0 200.7,93.1 200.8,93.1 201.9,93.3 203.9,93.5 205.9,93.7 207.9,93.8 209.9,93.7 211.9,93.6 213.9,93.5 215.9,93.5 217.9,93.5 219.9,93.6 221.9,93.7 223.9,93.7 225.9,93.6 227.9,93.6 229.9,93.7 231.9,93.8 233.9,93.8 235.9,93.7 237.9,93.6 239.9,93.5 241.9,93.5 243.9,93.5 245.9,93.6 247.9,93.7 249.9,93.7 251.9,93.7 253.9,93.7 255.9,93.7 257.9,93.7 259.9,93.8 261.9,93.7 263.9,93.6 265.9,93.5 267.9,93.5 269.9,93.6 271.9,93.7 273.9,93.8 275.9,93.8 277.9,93.7 279.9,93.7 281.9,93.7 283.9,93.7 285.9,93.7 287.9,93.7 289.9,93.6 291.9,93.5 293.9,93.5 295.9,93.6 297.9,93.7 299.9,93.8 301.9,93.8 303.9,93.7 305.9,93.6 307.9,93.6 309.9,93.7 311.9,93.7 313.9,93.7 315.9,93.6 317.9,93.5 319.9,93.5 321.9,93.6 323.9,93.8 325.9,93.8 327.9,93.8 329.9,93.7 331.9,93.6 333.9,93.6 335.9,93.6 337.9,93.7 339.9,93.7 341.9,93.6 343.9,93.6 344.5,93.6 344.8,93.6 345.1,93.6 345.4,93.6 345.7,93.6 345.9,93.6 346.0,93.6 346.3,93.5 346.6,93.5 346.9,93.4 347.2,93.2 347.5,92.8 347.8,92.3 347.9,92.2 348.0,92.2 348.1,92.2 348.4,92.6 348.7,93.1 349.0,93.5 349.3,93.6 349.6,93.7 349.9,93.7 350.2,93.8 350.5,93.8 350.8,93.8 351.1,93.8 351.4,93.8 351.9,93.8 353.9,93.8 355.9,93.7 357.9,93.6 359.9,93.5 361.9,93.6 363.9,93.6 365.9,93.7 367.9,93.7 369.9,93.6 371.9,93.6 373.9,93.7 375.9,93.8 377.9,93.8 379.6,93.8"/>
<polyline fill="none" stroke="#f0a236" stroke-width="1.25" stroke-linejoin="round" points="35.9,96.5 37.9,96.5 39.9,96.5 41.9,96.6 43.9,96.7 45.9,96.8 47.9,96.8 49.9,96.8 51.9,96.9 53.9,97.0 55.9,97.2 57.9,97.3 59.9,97.4 61.9,97.3 63.9,97.2 65.9,97.2 67.9,97.3 69.1,97.3 69.3,97.3 69.4,97.3 69.6,97.3 69.7,97.3 69.9,97.3 69.9,97.3 70.0,97.3 70.2,97.3 70.3,97.3 70.5,97.3 70.6,97.2 70.8,97.2 70.9,97.1 71.1,97.0 71.2,96.8 71.4,96.4 71.5,95.8 71.7,94.7 71.8,93.3 71.9,92.5 72.0,91.7 72.1,90.3 72.3,89.5 72.3,89.5 72.4,89.8 72.6,91.1 72.7,92.7 72.9,94.2 73.0,95.4 73.2,96.3 73.3,96.7 73.5,97.0 73.6,97.2 73.8,97.2 73.9,97.3 73.9,97.3 74.1,97.3 74.2,97.3 74.4,97.4 74.5,97.4 74.7,97.4 74.8,97.4 75.0,97.4 75.1,97.4 75.3,97.4 75.4,97.4 75.9,97.4 77.9,97.5 79.9,97.6 81.9,97.7 83.9,97.8 85.9,97.9 87.9,97.8 89.9,97.7 91.9,97.6 93.9,97.7 95.9,97.8 97.9,97.9 99.9,97.9 101.9,97.9 103.9,97.9 105.9,98.0 107.9,98.1 109.9,98.1 111.9,98.1 113.9,98.0 115.9,97.9 117.9,97.9 119.9,97.9 121.9,98.0 123.9,98.1 125.9,98.2 127.9,98.1 129.9,98.1 131.9,98.1 133.9,98.2 135.9,98.3 137.9,98.2 139.5,98.1 139.8,98.1 139.9,98.1 140.1,98.1 140.4,98.1 140.7,98.1 141.0,98.0 141.3,98.0 141.6,98.0 141.9,97.9 142.2,97.7 142.5,97.3 142.8,96.8 143.1,96.4 143.2,96.4 143.4,96.5 143.7,97.0 143.9,97.3 144.0,97.4 144.3,97.7 144.6,97.9 144.9,97.9 145.2,98.0 145.5,98.0 145.8,98.0 145.9,98.0 146.1,98.0 146.4,98.1 146.7,98.1 147.0,98.1 147.3,98.1 147.6,98.0 147.9,97.8 148.2,97.6 148.5,97.3 148.8,97.2 149.1,97.4 149.4,97.7 149.7,97.9 149.9,98.1 150.0,98.1 150.3,98.2 150.6,98.3 150.9,98.3 151.2,98.3 151.5,98.3 151.8,98.3 151.9,98.3 152.1,98.3 152.4,98.3 153.9,98.3 154.9,98.2 155.2,98.2 155.5,98.2 155.8,98.2 155.9,98.2 156.1,98.1 156.4,98.1 156.7,98.1 157.0,98.0 157.3,97.7 157.6,97.0 157.9,95.7 158.2,94.4 158.4,94.0 158.5,94.1 158.8,95.2 159.1,96.6 159.4,97.5 159.7,97.9 159.9,98.1 160.0,98.1 160.3,98.2 160.6,98.2 160.9,98.2 161.2,98.2 161.5,98.3 161.8,98.3 161.9,98.3 163.9,98.3 165.9,98.2 167.9,98.1 169.9,98.1 171.9,98.2 173.4,98.2 173.7,98.3 173.9,98.3 174.0,98.3 174.3,98.3 174.6,98.3 174.9,98.3 175.2,98.3 175.5,98.2 175.8,98.1 175.9,98.0 176.1,97.6 176.4,96.9 176.7,96.0 176.9,95.8 177.0,95.9 177.3,96.6 177.6,97.4 177.9,98.0 178.2,98.2 178.5,98.3 178.8,98.3 179.1,98.3 179.4,98.3 179.7,98.3 179.9,98.3 180.0,98.3 180.3,98.3 181.9,98.3 183.9,98.2 185.9,98.2 187.9,98.3 189.9,98.2 191.9,98.1 193.9,98.0 195.0,97.8 195.2,97.7 195.3,97.7 195.4,97.6 195.6,97.5 195.8,97.5 195.9,97.4 196.1,97.3 196.2,97.1 196.3,97.0 196.5,96.7 196.7,96.4 196.8,95.9 196.9,94.9 197.1,93.1 197.2,89.6 197.4,83.5 197.6,74.3 197.7,62.3 197.8,49.7 197.9,45.9 198.0,40.3 198.1,38.3 198.2,38.8 198.3,46.0 198.4,58.0 198.6,70.6 198.8,80.9 198.9,88.0 199.1,92.3 199.2,94.6 199.3,95.8 199.5,96.4 199.7,96.8 199.8,97.1 199.9,97.2 199.9,97.3 200.1,97.4 200.2,97.6 200.4,97.7 200.6,97.8 200.7,97.8 200.8,97.9 201.0,98.0 201.2,98.0 201.9,98.2 203.9,98.4 205.9,98.3 207.9,98.2 209.9,98.2 211.9,98.2 213.9,98.3 215.9,98.3 217.9,98.3 219.9,98.2 220.7,98.2 221.0,98.2 221.3,98.2 221.6,98.2 221.9,98.2 222.2,98.2 222.5,98.2 222.8,98.1 223.1,98.0 223.4,97.7 223.7,97.2 223.9,96.8 224.0,96.6 224.1,96.5 224.2,96.5 224.3,96.6 224.4,96.7 224.6,97.0 224.7,97.3 224.9,97.6 225.0,97.8 225.2,98.0 225.3,98.1 225.5,98.2 225.6,98.3 225.8,98.3 225.9,98.3 226.1,98.3 226.2,98.3 226.4,98.2 226.5,98.2 226.7,98.0 226.8,97.9 227.0,97.6 227.1,97.4 227.3,97.0 227.4,96.8 227.6,96.7 227.7,96.7 227.9,97.0 228.0,97.2 228.3,97.8 228.6,98.2 228.9,98.4 229.2,98.4 229.5,98.4 229.8,98.5 229.9,98.5 230.1,98.5 230.4,98.4 230.7,98.4 231.0,98.4 231.9,98.4 233.9,98.3 235.9,98.2 237.9,98.2 239.9,98.3 241.9,98.3 243.9,98.3 245.9,98.3 247.9,98.3 249.9,98.3 251.9,98.4 253.9,98.5 255.9,98.5 257.9,98.4 259.9,98.2 261.9,98.2 263.9,98.2 265.9,98.3 267.9,98.4 269.9,98.4 271.9,98.4 273.9,98.3 275.9,98.4 277.9,98.4 279.9,98.5 281.9,98.5 283.9,98.3 285.9,98.2 287.9,98.2 289.9,98.2 291.9,98.3 293.9,98.4 295.9,98.4 297.9,98.4 299.9,98.4 301.9,98.4 303.9,98.4 305.9,98.4 307.9,98.4 309.9,98.3 311.9,98.2 313.9,98.2 315.9,98.2 317.9,98.4 319.9,98.5 321.9,98.5 323.9,98.4 325.9,98.4 327.9,98.3 329.9,98.4 331.9,98.4 333.9,98.4 335.9,98.3 337.9,98.2 339.9,98.2 341.9,98.3 343.9,98.4 344.5,98.4 344.8,98.4 345.1,98.4 345.4,98.4 345.7,98.4 345.9,98.4 346.0,98.4 346.3,98.4 346.6,98.3 346.9,98.1 347.2,97.5 347.5,96.4 347.8,95.3 347.9,95.1 348.0,95.0 348.1,95.1 348.4,96.0 348.7,97.1 349.0,97.9 349.3,98.2 349.6,98.3 349.9,98.4 350.2,98.4 350.5,98.4 350.8,98.4 351.1,98.4 351.4,98.3 351.9,98.3 353.9,98.3 355.9,98.3 357.9,98.3 359.9,98.4 361.9,98.3 363.9,98.3 365.9,98.2 367.9,98.3 368.7,98.3 369.0,98.4 369.3,98.4 369.6,98.4 369.9,98.4 370.2,98.4 370.5,98.4 370.8,98.4 371.1,98.3 371.4,98.0 371.7,97.5 371.9,97.2 372.0,97.0 372.2,96.9 372.3,96.9 372.6,97.3 372.9,97.8 373.2,97.9 373.5,97.7 373.8,97.4 373.9,97.3 374.0,97.3 374.1,97.3 374.4,97.6 374.7,98.0 375.0,98.3 375.3,98.4 375.6,98.4 375.9,98.4 376.2,98.4 376.5,98.4 376.8,98.4 377.1,98.3 377.4,98.3 377.9,98.3 379.6,98.3"/>
<polyline fill="none" stroke="#3b9a45" stroke-width="1.25" stroke-linejoin="round" points="35.9,101.1 37.9,101.2 39.9,101.3 41.9,101.3 43.9,101.3 45.9,101.3 47.9,101.4 49.9,101.6 51.9,101.8 53.9,101.9 55.9,101.9 57.9,101.9 59.9,101.8 61.9,101.9 63.9,102.0 65.9,102.0 67.9,102.0 69.1,101.9 69.3,101.9 69.4,101.9 69.6,101.8 69.7,101.8 69.9,101.8 69.9,101.8 70.0,101.7 70.2,101.7 70.3,101.7 70.5,101.6 70.6,101.5 70.8,101.4 70.9,101.3 71.1,101.0 71.2,100.5 71.4,99.5 71.5,97.8 71.7,95.2 71.8,91.6 71.9,89.5 72.0,87.6 72.1,84.0 72.3,82.1 72.3,82.0 72.4,82.9 72.6,86.0 72.7,90.1 72.9,93.9 73.0,96.9 73.2,99.0 73.3,100.2 73.5,100.9 73.6,101.3 73.8,101.5 73.9,101.6 73.9,101.6 74.1,101.7 74.2,101.8 74.4,101.8 74.5,101.9 74.7,101.9 74.8,102.0 75.0,102.0 75.1,102.0 75.3,102.1 75.4,102.1 75.9,102.2 77.9,102.4 79.9,102.5 81.9,102.4 83.9,102.4 85.9,102.3 87.9,102.3 89.9,102.4 91.9,102.5 93.9,102.5 95.9,102.5 97.9,102.5 99.9,102.5 101.9,102.7 103.9,102.8 105.9,102.8 107.9,102.7 109.9,102.6 111.9,102.6 113.9,102.6 115.9,102.7 117.9,102.7 119.9,102.8 121.9,102.7 123.9,102.7 125.9,102.8 127.9,102.9 129.9,103.0 131.9,103.0 133.9,102.9 135.9,102.8 137.9,102.7 139.5,102.7 139.8,102.7 139.9,102.7 140.1,102.7 140.4,102.7 140.7,102.7 141.0,102.7 141.3,102.7 141.6,102.7 141.9,102.6 142.2,102.5 142.5,102.1 142.8,101.6 143.1,101.3 143.2,101.3 143.4,101.4 143.7,101.8 143.9,102.2 144.0,102.3 144.3,102.6 144.6,102.8 144.9,102.8 145.2,102.9 145.5,102.9 145.8,102.9 145.9,102.9 146.1,102.9 146.4,102.9 146.7,102.9 147.0,102.9 147.3,102.8 147.6,102.7 147.9,102.6 148.2,102.3 148.5,102.0 148.8,101.9 149.1,102.0 149.4,102.3 149.7,102.5 149.9,102.7 150.0,102.7 150.3,102.8 150.6,102.8 150.9,102.8 151.2,102.9 151.5,102.9 151.8,102.9 151.9,102.9 152.1,102.9 152.4,102.9 153.9,102.9 154.9,103.0 155.2,103.0 155.5,103.0 155.8,103.0 155.9,103.0 156.1,103.0 156.4,102.9 156.7,102.9 157.0,102.8 157.3,102.5 157.6,101.8 157.9,100.5 158.2,99.2 158.4,98.8 158.5,98.9 158.8,100.0 159.1,101.4 159.4,102.3 159.7,102.6 159.9,102.7 160.0,102.8 160.3,102.8 160.6,102.8 160.9,102.8 161.2,102.8 161.5,102.8 161.8,102.8 161.9,102.8 163.9,102.7 165.9,102.8 167.9,102.9 169.9,103.0 171.9,103.0 173.4,103.0 173.7,103.0 173.9,103.0 174.0,103.0 174.3,103.0 174.6,103.0 174.9,102.9 175.2,102.9 175.5,102.8 175.8,102.6 175.9,102.5 176.1,102.2 176.4,101.4 176.7,100.6 176.9,100.4 177.0,100.4 177.3,101.1 177.6,102.0 177.9,102.5 178.2,102.8 178.5,102.9 178.8,102.9 179.1,102.9 179.4,102.9 179.7,103.0 179.9,103.0 180.0,103.0 180.3,103.0 181.9,103.0 183.9,103.0 185.9,102.9 187.9,102.8 189.9,102.8 191.9,102.7 193.9,102.7 195.0,102.6 195.2,102.6 195.3,102.6 195.4,102.5 195.6,102.5 195.8,102.4 195.9,102.3 196.1,102.2 196.2,102.1 196.3,101.9 196.5,101.7 196.7,101.3 196.8,100.8 196.9,99.9 197.1,98.0 197.2,94.5 197.4,88.4 197.6,79.2 197.7,67.2 197.8,54.5 197.9,50.8 198.0,45.2 198.1,43.1 198.2,43.7 198.3,50.8 198.4,62.9 198.6,75.4 198.8,85.7 198.9,92.8 199.1,97.1 199.2,99.4 199.3,100.6 199.5,101.2 199.7,101.6 199.8,101.8 199.9,101.9 199.9,102.0 200.1,102.1 200.2,102.3 200.4,102.4 200.6,102.4 200.7,102.5 200.8,102.6 201.0,102.6 201.2,102.6 201.9,102.8 203.9,102.9 205.9,102.9 207.9,103.0 209.9,103.0 211.9,103.0 213.9,102.9 215.9,102.9 217.9,102.9 219.9,103.0 220.7,103.1 221.0,103.1 221.3,103.1 221.6,103.1 221.9,103.1 222.2,103.1 222.5,103.1 222.8,103.1 223.1,102.9 223.4,102.6 223.7,102.1 223.9,101.7 224.0,101.5 224.1,101.4 224.2,101.4 224.3,101.4 224.4,101.5 224.6,101.9 224.7,102.1 224.9,102.5 225.0,102.6 225.2,102.8 225.3,102.9 225.5,103.0 225.6,103.0 225.8,103.0 225.9,103.0 226.1,103.0 226.2,103.0 226.4,102.9 226.5,102.8 226.7,102.7 226.8,102.5 227.0,102.2 227.1,102.0 227.3,101.6 227.4,101.4 227.6,101.2 227.7,101.3 227.9,101.5 228.0,101.7 228.3,102.3 228.6,102.7 228.9,102.9 229.2,102.9 229.5,102.9 229.8,102.9 229.9,102.9 230.1,102.9 230.4,102.9 230.7,102.9 231.0,102.9 231.9,103.0 233.9,103.0 235.9,103.0 237.9,103.0 239.9,102.9 241.9,102.9 243.9,103.0 245.9,103.1 247.9,103.2 249.9,103.2 251.9,103.1 253.9,103.0 255.9,102.9 257.9,102.9 259.9,103.0 261.9,103.0 263.9,103.0 265.9,103.0 267.9,103.0 269.9,103.0 271.9,103.1 273.9,103.2 275.9,103.2 277.9,103.1 279.9,103.0 281.9,102.9 283.9,102.9 285.9,103.0 287.9,103.0 289.9,103.1 291.9,103.0 293.9,103.0 295.9,103.0 297.9,103.1 299.9,103.2 301.9,103.2 303.9,103.1 305.9,103.0 307.9,102.9 309.9,102.9 311.9,103.0 313.9,103.1 315.9,103.1 317.9,103.1 319.9,103.1 321.9,103.0 323.9,103.1 325.9,103.1 327.9,103.1 329.9,103.1 331.9,102.9 333.9,102.9 335.9,102.9 337.9,103.0 339.9,103.1 341.9,103.2 343.9,103.1 344.5,103.1 344.8,103.1 345.1,103.1 345.4,103.0 345.7,103.0 345.9,103.0 346.0,103.0 346.3,102.9 346.6,102.9 346.9,102.6 347.2,102.0 347.5,100.9 347.8,99.8 347.9,99.6 348.0,99.5 348.1,99.6 348.4,100.5 348.7,101.7 349.0,102.4 349.3,102.8 349.6,102.9 349.9,103.0 350.2,103.0 350.5,103.0 350.8,103.0 351.1,103.0 351.4,103.1 351.9,103.1 353.9,103.1 355.9,103.0 357.9,102.9 359.9,102.9 361.9,102.9 363.9,103.0 365.9,103.1 367.9,103.2 368.7,103.2 369.0,103.2 369.3,103.2 369.6,103.1 369.9,103.1 370.2,103.1 370.5,103.1 370.8,103.0 371.1,102.9 371.4,102.6 371.7,102.1 371.9,101.7 372.0,101.6 372.2,101.4 372.3,101.5 372.6,101.8 372.9,102.3 373.2,102.4 373.5,102.2 373.8,101.9 373.9,101.8 374.0,101.8 374.1,101.8 374.4,102.1 374.7,102.5 375.0,102.8 375.3,102.9 375.6,102.9 375.9,103.0 376.2,103.0 376.5,103.0 376.8,103.0 377.1,103.0 377.4,103.0 377.9,103.0 379.6,103.1"/>
<polyline fill="none" stroke="#2a2ad6" stroke-width="1.25" stroke-linejoin="round" points="35.9,105.8 37.9,105.8 39.9,105.8 41.9,105.8 43.9,106.0 45.9,106.2 47.9,106.3 49.9,106.4 51.9,106.4 53.9,106.4 55.9,106.5 57.9,106.6 59.9,106.7 61.9,106.6 63.9,106.6 65.9,106.5 67.9,106.5 69.1,106.5 69.3,106.5 69.4,106.5 69.6,106.5 69.7,106.5 69.9,106.5 69.9,106.5 70.0,106.5 70.2,106.5 70.3,106.4 70.5,106.4 70.6,106.3 70.8,106.2 70.9,106.1 71.1,105.8 71.2,105.3 71.4,104.3 71.5,102.7 71.7,100.1 71.8,96.5 71.9,94.4 72.0,92.5 72.1,88.9 72.3,87.0 72.3,86.9 72.4,87.8 72.6,91.0 72.7,95.0 72.9,98.8 73.0,101.8 73.2,103.9 73.3,105.1 73.5,105.8 73.6,106.2 73.8,106.4 73.9,106.5 73.9,106.5 74.1,106.6 74.2,106.7 74.4,106.7 74.5,106.8 74.7,106.8 74.8,106.8 75.0,106.9 75.1,106.9 75.3,106.9 75.4,106.9 75.9,106.9 77.9,107.0 79.9,107.0 81.9,107.0 83.9,107.1 85.9,107.1 87.9,107.1 89.9,107.1 91.9,107.0 93.9,107.1 95.9,107.2 97.9,107.3 99.9,107.4 101.9,107.4 103.9,107.3 105.9,107.3 107.9,107.3 109.9,107.3 111.9,107.4 113.9,107.4 115.9,107.3 117.9,107.3 119.9,107.3 121.9,107.5 123.9,107.6 125.9,107.7 127.9,107.6 129.9,107.5 131.9,107.4 133.9,107.4 135.9,107.5 137.9,107.5 139.5,107.5 139.8,107.5 139.9,107.5 140.1,107.5 140.4,107.5 140.7,107.5 141.0,107.5 141.3,107.5 141.6,107.4 141.9,107.4 142.2,107.2 142.5,106.8 142.8,106.3 143.1,105.9 143.2,105.9 143.4,106.0 143.7,106.4 143.9,106.8 144.0,106.9 144.3,107.2 144.6,107.4 144.9,107.4 145.2,107.4 145.5,107.5 145.8,107.5 145.9,107.5 146.1,107.5 146.4,107.5 146.7,107.5 147.0,107.5 147.3,107.5 147.6,107.4 147.9,107.3 148.2,107.0 148.5,106.8 148.8,106.6 149.1,106.8 149.4,107.1 149.7,107.4 149.9,107.5 150.0,107.5 150.3,107.6 150.6,107.7 150.9,107.7 151.2,107.7 151.5,107.7 151.8,107.7 151.9,107.7 152.1,107.7 152.4,107.7 153.9,107.7 154.9,107.6 155.2,107.6 155.5,107.6 155.8,107.5 155.9,107.5 156.1,107.5 156.4,107.5 156.7,107.4 157.0,107.3 157.3,107.0 157.6,106.2 157.9,105.0 158.2,103.6 158.4,103.3 158.5,103.4 158.8,104.5 159.1,105.8 159.4,106.7 159.7,107.1 159.9,107.3 160.0,107.3 160.3,107.4 160.6,107.4 160.9,107.4 161.2,107.4 161.5,107.5 161.8,107.5 161.9,107.5 163.9,107.6 165.9,107.7 167.9,107.6 169.9,107.6 171.9,107.6 173.4,107.6 173.7,107.7 173.9,107.7 174.0,107.7 174.3,107.7 174.6,107.7 174.9,107.7 175.2,107.7 175.5,107.6 175.8,107.4 175.9,107.3 176.1,107.0 176.4,106.2 176.7,105.4 176.9,105.2 177.0,105.3 177.3,105.9 177.6,106.8 177.9,107.4 178.2,107.6 178.5,107.7 178.8,107.7 179.1,107.7 179.4,107.7 179.7,107.7 179.9,107.7 180.0,107.7 180.3,107.7 181.9,107.6 183.9,107.5 185.9,107.5 187.9,107.5 189.9,107.6 191.9,107.6 193.9,107.5 195.0,107.3 195.2,107.3 195.3,107.2 195.4,107.2 195.6,107.1 195.8,107.0 195.9,106.9 196.1,106.8 196.2,106.7 196.3,106.5 196.5,106.2 196.7,105.9 196.8,105.4 196.9,104.4 197.1,102.6 197.2,99.1 197.4,93.0 197.6,83.8 197.7,71.8 197.8,59.1 197.9,55.4 198.0,49.8 198.1,47.7 198.2,48.2 198.3,55.4 198.4,67.5 198.6,80.0 198.8,90.3 198.9,97.4 199.1,101.6 199.2,104.0 199.3,105.1 199.5,105.8 199.7,106.2 199.8,106.4 199.9,106.6 199.9,106.6 200.1,106.8 200.2,106.9 200.4,107.0 200.6,107.1 200.7,107.2 200.8,107.2 201.0,107.3 201.2,107.3 201.9,107.5 203.9,107.7 205.9,107.7 207.9,107.6 209.9,107.5 211.9,107.5 213.9,107.6 215.9,107.7 217.9,107.8 219.9,107.8 220.7,107.8 221.0,107.8 221.3,107.7 221.6,107.7 221.9,107.7 222.2,107.7 222.5,107.7 222.8,107.6 223.1,107.5 223.4,107.2 223.7,106.6 223.9,106.2 224.0,106.0 224.1,105.9 224.2,105.9 224.3,105.9 224.4,106.0 224.6,106.4 224.7,106.6 224.9,107.0 225.0,107.1 225.2,107.4 225.3,107.4 225.5,107.5 225.6,107.6 225.8,107.6 225.9,107.6 226.1,107.6 226.2,107.6 226.4,107.5 226.5,107.5 226.7,107.3 226.8,107.2 227.0,106.8 227.1,106.6 227.3,106.2 227.4,106.1 227.6,105.9 227.7,106.0 227.9,106.3 228.0,106.5 228.3,107.1 228.6,107.4 228.9,107.6 229.2,107.7 229.5,107.7 229.8,107.7 229.9,107.7 230.1,107.7 230.4,107.7 230.7,107.7 231.0,107.7 231.9,107.7 233.9,107.6 235.9,107.6 237.9,107.6 239.9,107.7 241.9,107.8 243.9,107.9 245.9,107.9 247.9,107.8 249.9,107.7 251.9,107.7 253.9,107.7 255.9,107.7 257.9,107.7 259.9,107.6 261.9,107.6 263.9,107.6 265.9,107.7 267.9,107.8 269.9,107.9 271.9,107.9 273.9,107.8 275.9,107.7 277.9,107.6 279.9,107.7 281.9,107.7 283.9,107.7 285.9,107.7 287.9,107.6 289.9,107.7 291.9,107.8 293.9,107.9 295.9,107.9 297.9,107.9 299.9,107.7 301.9,107.6 303.9,107.6 305.9,107.6 307.9,107.7 309.9,107.8 311.9,107.7 313.9,107.7 315.9,107.7 317.9,107.8 319.9,107.9 321.9,107.9 323.9,107.8 325.9,107.7 327.9,107.6 329.9,107.6 331.9,107.6 333.9,107.7 335.9,107.8 337.9,107.8 339.9,107.7 341.9,107.7 343.9,107.8 344.5,107.8 344.8,107.8 345.1,107.8 345.4,107.8 345.7,107.8 345.9,107.8 346.0,107.8 346.3,107.7 346.6,107.6 346.9,107.4 347.2,106.8 347.5,105.8 347.8,104.7 347.9,104.4 348.0,104.4 348.1,104.4 348.4,105.4 348.7,106.5 349.0,107.2 349.3,107.6 349.6,107.7 349.9,107.7 350.2,107.7 350.5,107.7 350.8,107.7 351.1,107.7 351.4,107.7 351.9,107.7 353.9,107.6 355.9,107.6 357.9,107.6 359.9,107.8 361.9,107.8 363.9,107.8 365.9,107.8 367.9,107.7 368.7,107.7 369.0,107.7 369.3,107.7 369.6,107.7 369.9,107.7 370.2,107.7 370.5,107.7 370.8,107.7 371.1,107.6 371.4,107.3 371.7,106.8 371.9,106.5 372.0,106.3 372.2,106.2 372.3,106.2 372.6,106.6 372.9,107.0 373.2,107.2 373.5,107.0 373.8,106.7 373.9,106.6 374.0,106.6 374.1,106.6 374.4,106.9 374.7,107.3 375.0,107.6 375.3,107.7 375.6,107.7 375.9,107.7 376.2,107.7 376.5,107.7 376.8,107.7 377.1,107.7 377.4,107.7 377.9,107.6 379.6,107.6"/>
<polyline fill="none" stroke="#e02a35" stroke-width="1.25" stroke-linejoin="round" points="35.9,110.3 37.9,110.4 39.9,110.6 41.9,110.7 43.9,110.8 45.9,110.8 47.9,110.9 49.9,111.0 51.9,111.1 53.9,111.3 55.9,111.3 57.9,111.2 59.9,111.1 61.9,111.1 63.9,111.2 65.9,111.4 67.9,111.5 69.1,111.4 69.3,111.4 69.4,111.4 69.6,111.4 69.7,111.4 69.9,111.3 69.9,111.3 70.0,111.3 70.2,111.3 70.3,111.2 70.5,111.2 70.6,111.1 70.8,111.0 70.9,110.8 71.1,110.6 71.2,110.0 71.4,109.1 71.5,107.4 71.7,104.7 71.8,101.2 71.9,99.1 72.0,97.1 72.1,93.5 72.3,91.6 72.3,91.6 72.4,92.5 72.6,95.6 72.7,99.6 72.9,103.4 73.0,106.4 73.2,108.5 73.3,109.7 73.5,110.4 73.6,110.7 73.8,110.9 73.9,111.0 73.9,111.1 74.1,111.1 74.2,111.2 74.4,111.3 74.5,111.3 74.7,111.3 74.8,111.4 75.0,111.4 75.1,111.4 75.3,111.5 75.4,111.5 75.9,111.5 77.9,111.7 79.9,111.8 81.9,111.8 83.9,111.7 85.9,111.6 87.9,111.6 89.9,111.7 91.9,111.9 93.9,112.0 95.9,112.0 97.9,112.0 99.9,112.0 101.9,112.0 103.9,112.0 105.9,112.1 107.9,112.1 109.9,112.0 111.9,111.9 113.9,111.9 115.9,112.0 117.9,112.2 119.9,112.3 121.9,112.3 123.9,112.2 125.9,112.2 127.9,112.1 129.9,112.2 131.9,112.2 133.9,112.2 135.9,112.2 137.9,112.1 139.5,112.1 139.8,112.1 139.9,112.1 140.1,112.1 140.4,112.1 140.7,112.1 141.0,112.1 141.3,112.1 141.6,112.1 141.9,112.0 142.2,111.9 142.5,111.5 142.8,111.0 143.1,110.7 143.2,110.7 143.4,110.8 143.7,111.3 143.9,111.6 144.0,111.7 144.3,112.1 144.6,112.2 144.9,112.3 145.2,112.3 145.5,112.4 145.8,112.4 145.9,112.4 146.1,112.4 146.4,112.4 146.7,112.4 147.0,112.4 147.3,112.3 147.6,112.2 147.9,112.1 148.2,111.8 148.5,111.5 148.8,111.4 149.1,111.5 149.4,111.8 149.7,112.0 149.9,112.1 150.0,112.2 150.3,112.2 150.6,112.2 150.9,112.2 151.2,112.2 151.5,112.2 151.8,112.2 151.9,112.2 152.1,112.2 152.4,112.2 153.9,112.2 154.9,112.2 155.2,112.2 155.5,112.2 155.8,112.2 155.9,112.2 156.1,112.1 156.4,112.1 156.7,112.1 157.0,112.0 157.3,111.7 157.6,111.0 157.9,109.8 158.2,108.4 158.4,108.1 158.5,108.2 158.8,109.3 159.1,110.7 159.4,111.6 159.7,112.0 159.9,112.1 160.0,112.1 160.3,112.2 160.6,112.2 160.9,112.2 161.2,112.2 161.5,112.2 161.8,112.2 161.9,112.2 163.9,112.2 165.9,112.2 167.9,112.3 169.9,112.4 171.9,112.5 173.4,112.5 173.7,112.5 173.9,112.5 174.0,112.5 174.3,112.4 174.6,112.4 174.9,112.4 175.2,112.3 175.5,112.3 175.8,112.1 175.9,111.9 176.1,111.6 176.4,110.8 176.7,110.0 176.9,109.7 177.0,109.8 177.3,110.4 177.6,111.3 177.9,111.8 178.2,112.1 178.5,112.1 178.8,112.2 179.1,112.2 179.4,112.2 179.7,112.2 179.9,112.2 180.0,112.2 180.3,112.2 181.9,112.2 183.9,112.3 185.9,112.3 187.9,112.3 189.9,112.3 191.9,112.2 193.9,112.2 195.0,112.0 195.2,112.0 195.3,112.0 195.4,111.9 195.6,111.8 195.8,111.8 195.9,111.7 196.1,111.6 196.2,111.4 196.3,111.3 196.5,111.1 196.7,110.7 196.8,110.2 196.9,109.3 197.1,107.4 197.2,103.9 197.4,97.8 197.6,88.6 197.7,76.6 197.8,63.9 197.9,60.2 198.0,54.6 198.1,52.5 198.2,53.1 198.3,60.2 198.4,72.3 198.6,84.8 198.8,95.1 198.9,102.2 199.1,106.5 199.2,108.8 199.3,110.0 199.5,110.6 199.7,111.0 199.8,111.2 199.9,111.3 199.9,111.4 200.1,111.5 200.2,111.7 200.4,111.8 200.6,111.8 200.7,111.9 200.8,111.9 201.0,112.0 201.2,112.0 201.9,112.1 203.9,112.2 205.9,112.2 207.9,112.2 209.9,112.3 211.9,112.4 213.9,112.4 215.9,112.4 217.9,112.4 219.9,112.4 220.7,112.4 221.0,112.4 221.3,112.4 221.6,112.4 221.9,112.4 222.2,112.4 222.5,112.4 222.8,112.4 223.1,112.3 223.4,112.0 223.7,111.4 223.9,111.0 224.0,110.9 224.1,110.8 224.2,110.7 224.3,110.7 224.4,110.9 224.6,111.2 224.7,111.4 224.9,111.8 225.0,111.9 225.2,112.2 225.3,112.2 225.5,112.3 225.6,112.4 225.8,112.4 225.9,112.4 226.1,112.3 226.2,112.3 226.4,112.3 226.5,112.2 226.7,112.0 226.8,111.9 227.0,111.5 227.1,111.3 227.3,110.9 227.4,110.7 227.6,110.6 227.7,110.6 227.9,110.9 228.0,111.1 228.3,111.6 228.6,112.0 228.9,112.2 229.2,112.2 229.5,112.2 229.8,112.2 229.9,112.2 230.1,112.2 230.4,112.2 230.7,112.2 231.0,112.2 231.9,112.2 233.9,112.3 235.9,112.4 237.9,112.5 239.9,112.5 241.9,112.5 243.9,112.4 245.9,112.4 247.9,112.5 249.9,112.5 251.9,112.5 253.9,112.4 255.9,112.3 257.9,112.2 259.9,112.3 261.9,112.4 263.9,112.5 265.9,112.6 267.9,112.5 269.9,112.4 271.9,112.4 273.9,112.4 275.9,112.5 277.9,112.4 279.9,112.4 281.9,112.3 283.9,112.3 285.9,112.4 287.9,112.5 289.9,112.6 291.9,112.6 293.9,112.5 295.9,112.4 297.9,112.4 299.9,112.4 301.9,112.4 303.9,112.4 305.9,112.4 307.9,112.3 309.9,112.3 311.9,112.4 313.9,112.5 315.9,112.6 317.9,112.6 319.9,112.5 321.9,112.4 323.9,112.3 325.9,112.3 327.9,112.4 329.9,112.4 331.9,112.4 333.9,112.4 335.9,112.4 337.9,112.4 339.9,112.5 341.9,112.6 343.9,112.6 344.5,112.5 344.8,112.5 345.1,112.5 345.4,112.4 345.7,112.4 345.9,112.4 346.0,112.4 346.3,112.3 346.6,112.2 346.9,111.9 347.2,111.3 347.5,110.3 347.8,109.1 347.9,108.9 348.0,108.8 348.1,108.9 348.4,109.8 348.7,110.9 349.0,111.7 349.3,112.0 349.6,112.1 349.9,112.2 350.2,112.2 350.5,112.2 350.8,112.2 351.1,112.2 351.4,112.3 351.9,112.3 353.9,112.4 355.9,112.4 357.9,112.5 359.9,112.4 361.9,112.4 363.9,112.4 365.9,112.5 367.9,112.6 368.7,112.6 369.0,112.5 369.3,112.5 369.6,112.5 369.9,112.5 370.2,112.5 370.5,112.4 370.8,112.4 371.1,112.3 371.4,112.0 371.7,111.5 371.9,111.1 372.0,110.9 372.2,110.8 372.3,110.8 372.6,111.2 372.9,111.6 373.2,111.7 373.5,111.5 373.8,111.2 373.9,111.1 374.0,111.1 374.1,111.1 374.4,111.4 374.7,111.8 375.0,112.0 375.3,112.2 375.6,112.2 375.9,112.2 376.2,112.2 376.5,112.2 376.8,112.2 377.1,112.3 377.4,112.3 377.9,112.3 379.6,112.4"/>
<polyline fill="none" stroke="#8c35d9" stroke-width="1.25" stroke-linejoin="round" points="35.9,115.1 37.9,115.2 39.9,115.2 41.9,115.3 43.9,115.4 45.9,115.6 47.9,115.8 49.9,115.8 51.9,115.8 53.9,115.8 55.9,115.7 57.9,115.8 59.9,115.9 61.9,116.0 63.9,116.1 65.9,116.1 67.9,116.0 69.1,116.0 69.3,116.0 69.4,116.0 69.6,116.0 69.7,116.0 69.9,115.9 69.9,115.9 70.0,115.9 70.2,115.9 70.3,115.9 70.5,115.8 70.6,115.7 70.8,115.7 70.9,115.5 71.1,115.2 71.2,114.7 71.4,113.7 71.5,112.1 71.7,109.5 71.8,105.9 71.9,103.8 72.0,101.9 72.1,98.3 72.3,96.4 72.3,96.3 72.4,97.2 72.6,100.3 72.7,104.4 72.9,108.2 73.0,111.2 73.2,113.3 73.3,114.5 73.5,115.2 73.6,115.6 73.8,115.8 73.9,115.9 73.9,115.9 74.1,116.0 74.2,116.1 74.4,116.1 74.5,116.2 74.7,116.2 74.8,116.2 75.0,116.3 75.1,116.3 75.3,116.3 75.4,116.3 75.9,116.3 77.9,116.3 79.9,116.3 81.9,116.2 83.9,116.3 85.9,116.4 87.9,116.5 89.9,116.6 91.9,116.6 93.9,116.6 95.9,116.6 97.9,116.7 99.9,116.8 101.9,116.8 103.9,116.7 105.9,116.6 107.9,116.5 109.9,116.6 111.9,116.7 113.9,116.8 115.9,116.9 117.9,116.9 119.9,116.8 121.9,116.8 123.9,116.9 125.9,116.9 127.9,116.9 129.9,116.9 131.9,116.8 133.9,116.7 135.9,116.8 137.9,116.9 139.5,117.0 139.8,117.0 139.9,117.0 140.1,117.0 140.4,117.0 140.7,117.0 141.0,117.0 141.3,117.0 141.6,117.0 141.9,116.9 142.2,116.7 142.5,116.3 142.8,115.9 143.1,115.5 143.2,115.5 143.4,115.6 143.7,116.0 143.9,116.3 144.0,116.4 144.3,116.7 144.6,116.9 144.9,116.9 145.2,116.9 145.5,116.9 145.8,116.9 145.9,116.9 146.1,116.9 146.4,116.9 146.7,116.9 147.0,116.9 147.3,116.8 147.6,116.7 147.9,116.6 148.2,116.3 148.5,116.0 148.8,115.9 149.1,116.1 149.4,116.3 149.7,116.6 149.9,116.7 150.0,116.8 150.3,116.9 150.6,116.9 150.9,116.9 151.2,116.9 151.5,117.0 151.8,117.0 151.9,117.0 152.1,117.0 152.4,117.0 153.9,117.0 154.9,116.9 155.2,116.9 155.5,116.9 155.8,116.9 155.9,116.9 156.1,116.9 156.4,116.8 156.7,116.8 157.0,116.7 157.3,116.4 157.6,115.6 157.9,114.4 158.2,113.0 158.4,112.7 158.5,112.7 158.8,113.9 159.1,115.2 159.4,116.1 159.7,116.5 159.9,116.6 160.0,116.7 160.3,116.7 160.6,116.8 160.9,116.8 161.2,116.8 161.5,116.8 161.8,116.9 161.9,116.9 163.9,117.0 165.9,117.1 167.9,117.2 169.9,117.1 171.9,117.0 173.4,117.0 173.7,116.9 173.9,116.9 174.0,116.9 174.3,116.9 174.6,116.9 174.9,116.9 175.2,116.9 175.5,116.8 175.8,116.6 175.9,116.5 176.1,116.2 176.4,115.4 176.7,114.6 176.9,114.4 177.0,114.5 177.3,115.1 177.6,116.0 177.9,116.6 178.2,116.8 178.5,116.9 178.8,117.0 179.1,117.0 179.4,117.0 179.7,117.0 179.9,117.0 180.0,117.0 180.3,117.0 181.9,117.0 183.9,116.9 185.9,116.9 187.9,117.0 189.9,117.0 191.9,117.1 193.9,117.0 195.0,116.8 195.2,116.7 195.3,116.7 195.4,116.6 195.6,116.6 195.8,116.5 195.9,116.4 196.1,116.2 196.2,116.1 196.3,115.9 196.5,115.7 196.7,115.3 196.8,114.8 196.9,113.8 197.1,112.0 197.2,108.5 197.4,102.4 197.6,93.1 197.7,81.1 197.8,68.5 197.9,64.7 198.0,59.1 198.1,57.0 198.2,57.6 198.3,64.7 198.4,76.8 198.6,89.3 198.8,99.6 198.9,106.7 199.1,110.9 199.2,113.2 199.3,114.4 199.5,115.1 199.7,115.4 199.8,115.7 199.9,115.8 199.9,115.9 200.1,116.0 200.2,116.1 200.4,116.2 200.6,116.3 200.7,116.4 200.8,116.4 201.0,116.5 201.2,116.5 201.9,116.7 203.9,116.9 205.9,117.0 207.9,117.0 209.9,117.0 211.9,117.0 213.9,117.1 215.9,117.2 217.9,117.2 219.9,117.2 220.7,117.2 221.0,117.2 221.3,117.2 221.6,117.1 221.9,117.1 222.2,117.1 222.5,117.1 222.8,117.0 223.1,116.8 223.4,116.5 223.7,116.0 223.9,115.5 224.0,115.4 224.1,115.2 224.2,115.2 224.3,115.2 224.4,115.3 224.6,115.7 224.7,115.9 224.9,116.3 225.0,116.4 225.2,116.6 225.3,116.7 225.5,116.8 225.6,116.8 225.8,116.8 225.9,116.8 226.1,116.8 226.2,116.8 226.4,116.7 226.5,116.7 226.7,116.5 226.8,116.4 227.0,116.0 227.1,115.8 227.3,115.4 227.4,115.3 227.6,115.1 227.7,115.2 227.9,115.5 228.0,115.7 228.3,116.3 228.6,116.7 228.9,116.8 229.2,116.9 229.5,117.0 229.8,117.0 229.9,117.0 230.1,117.0 230.4,117.0 230.7,117.0 231.0,117.1 231.9,117.1 233.9,117.1 235.9,117.1 237.9,117.1 239.9,117.1 241.9,117.2 243.9,117.2 245.9,117.2 247.9,117.1 249.9,117.0 251.9,116.9 253.9,117.0 255.9,117.0 257.9,117.1 259.9,117.2 261.9,117.2 263.9,117.1 265.9,117.1 267.9,117.2 269.9,117.2 271.9,117.2 273.9,117.1 275.9,117.0 277.9,116.9 279.9,117.0 281.9,117.1 283.9,117.2 285.9,117.2 287.9,117.2 289.9,117.1 291.9,117.1 293.9,117.1 295.9,117.2 297.9,117.2 299.9,117.1 301.9,117.0 303.9,117.0 305.9,117.0 307.9,117.1 309.9,117.2 311.9,117.3 313.9,117.2 315.9,117.1 317.9,117.1 319.9,117.1 321.9,117.1 323.9,117.1 325.9,117.1 327.9,117.0 329.9,117.0 331.9,117.0 333.9,117.2 335.9,117.3 337.9,117.3 339.9,117.2 341.9,117.1 343.9,117.0 344.5,117.0 344.8,117.0 345.1,117.0 345.4,117.0 345.7,117.0 345.9,117.0 346.0,116.9 346.3,116.9 346.6,116.8 346.9,116.6 347.2,116.0 347.5,115.0 347.8,113.9 347.9,113.7 348.0,113.6 348.1,113.7 348.4,114.6 348.7,115.7 349.0,116.5 349.3,116.8 349.6,117.0 349.9,117.0 350.2,117.0 350.5,117.1 350.8,117.1 351.1,117.1 351.4,117.1 351.9,117.1 353.9,117.0 355.9,117.0 357.9,117.1 359.9,117.2 361.9,117.3 363.9,117.3 365.9,117.2 367.9,117.1 368.7,117.0 369.0,117.0 369.3,117.0 369.6,117.0 369.9,117.0 370.2,116.9 370.5,116.9 370.8,116.9 371.1,116.8 371.4,116.5 371.7,116.0 371.9,115.7 372.0,115.5 372.2,115.4 372.3,115.4 372.6,115.8 372.9,116.2 373.2,116.4 373.5,116.2 373.8,115.9 373.9,115.8 374.0,115.8 374.1,115.8 374.4,116.2 374.7,116.6 375.0,116.9 375.3,117.0 375.6,117.1 375.9,117.1 376.2,117.1 376.5,117.1 376.8,117.1 377.1,117.1 377.4,117.1 377.9,117.1 379.6,117.1"/>
<polyline fill="none" stroke="#f0a236" stroke-width="1.25" stroke-linejoin="round" points="35.9,119.7 37.9,119.8 39.9,120.0 41.9,120.2 43.9,120.3 45.9,120.4 47.9,120.3 49.9,120.3 51.9,120.4 53.9,120.5 55.9,120.5 57.9,120.6 59.9,120.6 61.9,120.6 63.9,120.6 65.9,120.8 67.9,120.9 69.1,120.9 69.3,120.9 69.4,120.9 69.6,120.9 69.7,120.8 69.9,120.8 69.9,120.8 70.0,120.8 70.2,120.8 70.3,120.7 70.5,120.7 70.6,120.6 70.8,120.5 70.9,120.3 71.1,120.0 71.2,119.5 71.4,118.5 71.5,116.8 71.7,114.2 71.8,110.7 71.9,108.5 72.0,106.6 72.1,103.0 72.3,101.1 72.3,101.0 72.4,101.9 72.6,105.0 72.7,109.0 72.9,112.9 73.0,115.9 73.2,117.9 73.3,119.1 73.5,119.8 73.6,120.1 73.8,120.3 73.9,120.4 73.9,120.4 74.1,120.5 74.2,120.6 74.4,120.6 74.5,120.7 74.7,120.7 74.8,120.7 75.0,120.7 75.1,120.7 75.3,120.8 75.4,120.8 75.9,120.8 77.9,120.9 79.9,121.0 81.9,121.1 83.9,121.1 85.9,121.1 87.9,121.1 89.9,121.2 91.9,121.3 93.9,121.4 95.9,121.5 97.9,121.4 99.9,121.3 101.9,121.2 103.9,121.2 105.9,121.3 107.9,121.4 109.9,121.5 111.9,121.5 113.9,121.4 115.9,121.5 117.9,121.5 119.9,121.6 121.9,121.7 123.9,121.6 125.9,121.5 127.9,121.4 129.9,121.4 131.9,121.5 133.9,121.6 135.9,121.7 137.9,121.7 139.5,121.6 139.8,121.6 139.9,121.6 140.1,121.6 140.4,121.6 140.7,121.6 141.0,121.6 141.3,121.6 141.6,121.5 141.9,121.5 142.2,121.3 142.5,120.9 142.8,120.4 143.1,120.1 143.2,120.0 143.4,120.2 143.7,120.6 143.9,120.9 144.0,121.1 144.3,121.4 144.6,121.5 144.9,121.6 145.2,121.6 145.5,121.7 145.8,121.7 145.9,121.7 146.1,121.7 146.4,121.7 146.7,121.7 147.0,121.7 147.3,121.6 147.6,121.6 147.9,121.4 148.2,121.1 148.5,120.8 148.8,120.7 149.1,120.8 149.4,121.1 149.7,121.3 149.9,121.5 150.0,121.5 150.3,121.6 150.6,121.6 150.9,121.6 151.2,121.6 151.5,121.6 151.8,121.6 151.9,121.5 152.1,121.5 152.4,121.5 153.9,121.5 154.9,121.5 155.2,121.4 155.5,121.4 155.8,121.4 155.9,121.4 156.1,121.4 156.4,121.4 156.7,121.4 157.0,121.3 157.3,121.0 157.6,120.3 157.9,119.1 158.2,117.8 158.4,117.4 158.5,117.5 158.8,118.7 159.1,120.1 159.4,121.0 159.7,121.4 159.9,121.5 160.0,121.6 160.3,121.6 160.6,121.7 160.9,121.7 161.2,121.7 161.5,121.8 161.8,121.8 161.9,121.8 163.9,121.8 165.9,121.7 167.9,121.7 169.9,121.7 171.9,121.7 173.4,121.7 173.7,121.7 173.9,121.7 174.0,121.7 174.3,121.7 174.6,121.7 174.9,121.7 175.2,121.7 175.5,121.6 175.8,121.4 175.9,121.3 176.1,120.9 176.4,120.1 176.7,119.3 176.9,119.1 177.0,119.1 177.3,119.8 177.6,120.6 177.9,121.2 178.2,121.4 178.5,121.5 178.8,121.5 179.1,121.5 179.4,121.5 179.7,121.5 179.9,121.5 180.0,121.5 180.3,121.5 181.9,121.6 183.9,121.7 185.9,121.8 187.9,121.9 189.9,121.8 191.9,121.7 193.9,121.5 195.0,121.3 195.2,121.3 195.3,121.2 195.4,121.2 195.6,121.1 195.8,121.0 195.9,120.9 196.1,120.8 196.2,120.7 196.3,120.5 196.5,120.3 196.7,119.9 196.8,119.4 196.9,118.5 197.1,116.6 197.2,113.1 197.4,107.0 197.6,97.8 197.7,85.8 197.8,73.2 197.9,69.4 198.0,63.8 198.1,61.7 198.2,62.3 198.3,69.4 198.4,81.5 198.6,94.1 198.8,104.3 198.9,111.4 199.1,115.7 199.2,118.0 199.3,119.2 199.5,119.8 199.7,120.2 199.8,120.5 199.9,120.6 199.9,120.7 200.1,120.8 200.2,120.9 200.4,121.0 200.6,121.1 200.7,121.2 200.8,121.3 201.0,121.3 201.2,121.3 201.9,121.5 203.9,121.6 205.9,121.6 207.9,121.6 209.9,121.7 211.9,121.9 213.9,121.9 215.9,121.9 217.9,121.8 219.9,121.7 220.7,121.7 221.0,121.7 221.3,121.7 221.6,121.7 221.9,121.6 222.2,121.6 222.5,121.6 222.8,121.6 223.1,121.5 223.4,121.2 223.7,120.6 223.9,120.2 224.0,120.1 224.1,120.0 224.2,119.9 224.3,120.0 224.4,120.1 224.6,120.4 224.7,120.6 224.9,121.0 225.0,121.2 225.2,121.4 225.3,121.5 225.5,121.6 225.6,121.6 225.8,121.6 225.9,121.6 226.1,121.6 226.2,121.6 226.4,121.6 226.5,121.5 226.7,121.3 226.8,121.2 227.0,120.9 227.1,120.7 227.3,120.3 227.4,120.1 227.6,120.0 227.7,120.0 227.9,120.3 228.0,120.5 228.3,121.1 228.6,121.4 228.9,121.6 229.2,121.7 229.5,121.7 229.8,121.7 229.9,121.7 230.1,121.7 230.4,121.7 230.7,121.7 231.0,121.7 231.9,121.7 233.9,121.7 235.9,121.8 237.9,121.9 239.9,122.0 241.9,121.9 243.9,121.8 245.9,121.7 247.9,121.7 249.9,121.7 251.9,121.8 253.9,121.8 255.9,121.8 257.9,121.8 259.9,121.8 261.9,121.8 263.9,121.9 265.9,122.0 267.9,121.9 269.9,121.8 271.9,121.7 273.9,121.6 275.9,121.7 277.9,121.8 279.9,121.9 281.9,121.8 283.9,121.8 285.9,121.8 287.9,121.8 289.9,121.9 291.9,121.9 293.9,121.9 295.9,121.7 297.9,121.6 299.9,121.6 301.9,121.7 303.9,121.8 305.9,121.9 307.9,121.9 309.9,121.8 311.9,121.8 313.9,121.8 315.9,121.9 317.9,121.9 319.9,121.8 321.9,121.7 323.9,121.6 325.9,121.7 327.9,121.8 329.9,121.9 331.9,121.9 333.9,121.9 335.9,121.9 337.9,121.8 339.9,121.8 341.9,121.8 343.9,121.8 344.5,121.8 344.8,121.8 345.1,121.8 345.4,121.8 345.7,121.7 345.9,121.7 346.0,121.7 346.3,121.7 346.6,121.6 346.9,121.3 347.2,120.7 347.5,119.6 347.8,118.5 347.9,118.3 348.0,118.2 348.1,118.3 348.4,119.2 348.7,120.3 349.0,121.1 349.3,121.4 349.6,121.5 349.9,121.6 350.2,121.6 350.5,121.6 350.8,121.6 351.1,121.6 351.4,121.6 351.9,121.7 353.9,121.8 355.9,121.9 357.9,122.0 359.9,121.9 361.9,121.8 363.9,121.8 365.9,121.7 367.9,121.8 368.7,121.8 369.0,121.8 369.3,121.8 369.6,121.8 369.9,121.8 370.2,121.8 370.5,121.7 370.8,121.7 371.1,121.6 371.4,121.3 371.7,120.8 371.9,120.5 372.0,120.3 372.2,120.2 372.3,120.2 372.6,120.6 372.9,121.0 373.2,121.1 373.5,120.9 373.8,120.6 373.9,120.5 374.0,120.5 374.1,120.5 374.4,120.8 374.7,121.2 375.0,121.5 375.3,121.6 375.6,121.6 375.9,121.7 376.2,121.7 376.5,121.7 376.8,121.7 377.1,121.7 377.4,121.7 377.9,121.7 379.6,121.8"/>
<polyline fill="none" stroke="#3b9a45" stroke-width="1.25" stroke-linejoin="round" points="35.9,124.6 37.9,124.7 39.9,124.8 41.9,124.8 43.9,124.8 45.9,124.9 47.9,125.0 49.9,125.1 51.9,125.1 53.9,125.1 55.9,125.1 57.9,125.1 59.9,125.3 61.9,125.4 63.9,125.6 65.9,125.6 67.9,125.5 69.1,125.4 69.3,125.4 69.4,125.4 69.6,125.4 69.7,125.3 69.9,125.3 69.9,125.3 70.0,125.3 70.2,125.2 70.3,125.2 70.5,125.1 70.6,125.1 70.8,125.0 70.9,124.8 71.1,124.5 71.2,124.0 71.4,123.0 71.5,121.3 71.7,118.7 71.8,115.2 71.9,113.0 72.0,111.1 72.1,107.5 72.3,105.6 72.3,105.6 72.4,106.5 72.6,109.6 72.7,113.6 72.9,117.4 73.0,120.4 73.2,122.5 73.3,123.7 73.5,124.4 73.6,124.8 73.8,125.0 73.9,125.1 73.9,125.1 74.1,125.2 74.2,125.3 74.4,125.3 74.5,125.4 74.7,125.4 74.8,125.4 75.0,125.5 75.1,125.5 75.3,125.5 75.4,125.5 75.9,125.6 77.9,125.7 79.9,125.7 81.9,125.7 83.9,125.7 85.9,125.8 87.9,126.0 89.9,126.1 91.9,126.1 93.9,126.0 95.9,125.9 97.9,125.9 99.9,126.0 101.9,126.0 103.9,126.1 105.9,126.1 107.9,126.0 109.9,126.0 111.9,126.1 113.9,126.3 115.9,126.3 117.9,126.3 119.9,126.2 121.9,126.1 123.9,126.1 125.9,126.1 127.9,126.2 129.9,126.3 131.9,126.3 133.9,126.2 135.9,126.2 137.9,126.3 139.5,126.4 139.8,126.4 139.9,126.4 140.1,126.4 140.4,126.4 140.7,126.4 141.0,126.4 141.3,126.4 141.6,126.4 141.9,126.3 142.2,126.1 142.5,125.7 142.8,125.3 143.1,124.9 143.2,124.9 143.4,125.0 143.7,125.4 143.9,125.7 144.0,125.8 144.3,126.1 144.6,126.3 144.9,126.3 145.2,126.3 145.5,126.3 145.8,126.3 145.9,126.3 146.1,126.3 146.4,126.2 146.7,126.2 147.0,126.2 147.3,126.1 147.6,126.0 147.9,125.9 148.2,125.6 148.5,125.3 148.8,125.2 149.1,125.3 149.4,125.6 149.7,125.8 149.9,125.9 150.0,126.0 150.3,126.1 150.6,126.1 150.9,126.2 151.2,126.2 151.5,126.2 151.8,126.2 151.9,126.2 152.1,126.2 152.4,126.2 153.9,126.3 154.9,126.3 155.2,126.3 155.5,126.3 155.8,126.3 155.9,126.3 156.1,126.3 156.4,126.3 156.7,126.3 157.0,126.2 157.3,125.9 157.6,125.2 157.9,123.9 158.2,122.6 158.4,122.2 158.5,122.3 158.8,123.4 159.1,124.8 159.4,125.7 159.7,126.1 159.9,126.2 160.0,126.2 160.3,126.3 160.6,126.3 160.9,126.3 161.2,126.3 161.5,126.3 161.8,126.3 161.9,126.3 163.9,126.4 165.9,126.5 167.9,126.5 169.9,126.5 171.9,126.4 173.4,126.3 173.7,126.2 173.9,126.2 174.0,126.2 174.3,126.2 174.6,126.2 174.9,126.2 175.2,126.1 175.5,126.1 175.8,125.9 175.9,125.8 176.1,125.5 176.4,124.7 176.7,123.9 176.9,123.7 177.0,123.7 177.3,124.4 177.6,125.3 177.9,125.9 178.2,126.1 178.5,126.2 178.8,126.3 179.1,126.3 179.4,126.4 179.7,126.4 179.9,126.4 180.0,126.4 180.3,126.4 181.9,126.5 183.9,126.5 185.9,126.5 187.9,126.4 189.9,126.4 191.9,126.4 193.9,126.3 195.0,126.1 195.2,126.1 195.3,126.0 195.4,125.9 195.6,125.9 195.8,125.8 195.9,125.7 196.1,125.6 196.2,125.4 196.3,125.2 196.5,125.0 196.7,124.7 196.8,124.1 196.9,123.2 197.1,121.3 197.2,117.8 197.4,111.7 197.6,102.5 197.7,90.5 197.8,77.8 197.9,74.1 198.0,68.5 198.1,66.4 198.2,66.9 198.3,74.1 198.4,86.1 198.6,98.7 198.8,108.9 198.9,116.0 199.1,120.3 199.2,122.6 199.3,123.8 199.5,124.4 199.7,124.8 199.8,125.0 199.9,125.1 199.9,125.2 200.1,125.3 200.2,125.5 200.4,125.6 200.6,125.6 200.7,125.7 200.8,125.8 201.0,125.8 201.2,125.9 201.9,126.0 203.9,126.2 205.9,126.4 207.9,126.5 209.9,126.6 211.9,126.5 213.9,126.5 215.9,126.4 217.9,126.5 219.9,126.5 220.7,126.5 221.0,126.5 221.3,126.5 221.6,126.5 221.9,126.4 222.2,126.4 222.5,126.4 222.8,126.3 223.1,126.2 223.4,125.9 223.7,125.3 223.9,124.9 224.0,124.7 224.1,124.6 224.2,124.6 224.3,124.6 224.4,124.7 224.6,125.1 224.7,125.3 224.9,125.6 225.0,125.8 225.2,126.0 225.3,126.1 225.5,126.2 225.6,126.2 225.8,126.2 225.9,126.2 226.1,126.2 226.2,126.2 226.4,126.1 226.5,126.1 226.7,125.9 226.8,125.8 227.0,125.4 227.1,125.2 227.3,124.8 227.4,124.7 227.6,124.5 227.7,124.6 227.9,124.8 228.0,125.0 228.3,125.6 228.6,126.0 228.9,126.2 229.2,126.3 229.5,126.3 229.8,126.4 229.9,126.4 230.1,126.4 230.4,126.4 230.7,126.4 231.0,126.5 231.9,126.5 233.9,126.6 235.9,126.6 237.9,126.5 239.9,126.4 241.9,126.4 243.9,126.4 245.9,126.5 247.9,126.5 249.9,126.4 251.9,126.4 253.9,126.4 255.9,126.5 257.9,126.6 259.9,126.7 261.9,126.6 263.9,126.5 265.9,126.4 267.9,126.4 269.9,126.4 271.9,126.5 273.9,126.5 275.9,126.5 277.9,126.4 279.9,126.4 281.9,126.5 283.9,126.6 285.9,126.7 287.9,126.6 289.9,126.5 291.9,126.4 293.9,126.3 295.9,126.4 297.9,126.5 299.9,126.5 301.9,126.5 303.9,126.5 305.9,126.5 307.9,126.5 309.9,126.6 311.9,126.6 313.9,126.6 315.9,126.5 317.9,126.4 319.9,126.3 321.9,126.4 323.9,126.5 325.9,126.6 327.9,126.6 329.9,126.5 331.9,126.5 333.9,126.5 335.9,126.6 337.9,126.6 339.9,126.6 341.9,126.4 343.9,126.3 344.5,126.3 344.8,126.3 345.1,126.3 345.4,126.3 345.7,126.3 345.9,126.2 346.0,126.2 346.3,126.2 346.6,126.1 346.9,125.9 347.2,125.3 347.5,124.3 347.8,123.2 347.9,123.0 348.0,122.9 348.1,123.0 348.4,123.9 348.7,125.1 349.0,125.9 349.3,126.2 349.6,126.4 349.9,126.4 350.2,126.5 350.5,126.5 350.8,126.5 351.1,126.5 351.4,126.6 351.9,126.6 353.9,126.6 355.9,126.6 357.9,126.5 359.9,126.5 361.9,126.5 363.9,126.5 365.9,126.5 367.9,126.4 368.7,126.4 369.0,126.4 369.3,126.4 369.6,126.3 369.9,126.3 370.2,126.3 370.5,126.3 370.8,126.2 371.1,126.1 371.4,125.8 371.7,125.4 371.9,125.0 372.0,124.9 372.2,124.7 372.3,124.7 372.6,125.1 372.9,125.6 373.2,125.7 373.5,125.6 373.8,125.3 373.9,125.2 374.0,125.2 374.1,125.2 374.4,125.6 374.7,126.0 375.0,126.3 375.3,126.4 375.6,126.5 375.9,126.5 376.2,126.5 376.5,126.6 376.8,126.6 377.1,126.6 377.4,126.6 377.9,126.6 379.6,126.6"/>
<polyline fill="none" stroke="#2a2ad6" stroke-width="1.25" stroke-linejoin="round" points="35.9,129.2 37.9,129.3 39.9,129.4 41.9,129.5 43.9,129.7 45.9,129.7 47.9,129.7 49.9,129.6 51.9,129.6 53.9,129.7 55.9,129.9 57.9,130.0 59.9,130.1 61.9,130.1 63.9,130.1 65.9,130.1 67.9,130.2 69.1,130.2 69.3,130.2 69.4,130.1 69.6,130.1 69.7,130.1 69.9,130.1 69.9,130.1 70.0,130.1 70.2,130.0 70.3,130.0 70.5,129.9 70.6,129.9 70.8,129.8 70.9,129.6 71.1,129.3 71.2,128.8 71.4,127.8 71.5,126.1 71.7,123.5 71.8,120.0 71.9,117.8 72.0,115.9 72.1,112.3 72.3,110.4 72.3,110.4 72.4,111.2 72.6,114.3 72.7,118.4 72.9,122.2 73.0,125.2 73.2,127.2 73.3,128.5 73.5,129.1 73.6,129.5 73.8,129.7 73.9,129.8 73.9,129.8 74.1,129.9 74.2,129.9 74.4,130.0 74.5,130.0 74.7,130.0 74.8,130.1 75.0,130.1 75.1,130.1 75.3,130.1 75.4,130.1 75.9,130.1 77.9,130.2 79.9,130.3 81.9,130.5 83.9,130.6 85.9,130.7 87.9,130.7 89.9,130.6 91.9,130.6 93.9,130.6 95.9,130.7 97.9,130.7 99.9,130.7 101.9,130.6 103.9,130.6 105.9,130.7 107.9,130.8 109.9,131.0 111.9,131.0 113.9,130.9 115.9,130.9 117.9,130.8 119.9,130.8 121.9,130.9 123.9,130.9 125.9,130.9 127.9,130.8 129.9,130.8 131.9,130.9 133.9,131.0 135.9,131.1 137.9,131.1 139.5,131.1 139.8,131.1 139.9,131.1 140.1,131.0 140.4,131.0 140.7,131.0 141.0,131.0 141.3,130.9 141.6,130.9 141.9,130.8 142.2,130.6 142.5,130.2 142.8,129.7 143.1,129.3 143.2,129.3 143.4,129.4 143.7,129.9 143.9,130.2 144.0,130.3 144.3,130.6 144.6,130.8 144.9,130.8 145.2,130.8 145.5,130.9 145.8,130.9 145.9,130.9 146.1,130.9 146.4,130.9 146.7,130.9 147.0,130.9 147.3,130.9 147.6,130.8 147.9,130.6 148.2,130.4 148.5,130.1 148.8,130.0 149.1,130.1 149.4,130.4 149.7,130.7 149.9,130.8 150.0,130.9 150.3,130.9 150.6,131.0 150.9,131.0 151.2,131.0 151.5,131.0 151.8,131.0 151.9,131.0 152.1,131.0 152.4,131.0 153.9,131.0 154.9,131.0 155.2,130.9 155.5,130.9 155.8,130.9 155.9,130.9 156.1,130.9 156.4,130.9 156.7,130.9 157.0,130.8 157.3,130.5 157.6,129.8 157.9,128.5 158.2,127.2 158.4,126.9 158.5,127.0 158.8,128.1 159.1,129.5 159.4,130.4 159.7,130.8 159.9,130.9 160.0,131.0 160.3,131.1 160.6,131.1 160.9,131.1 161.2,131.2 161.5,131.2 161.8,131.2 161.9,131.2 163.9,131.2 165.9,131.1 167.9,131.0 169.9,130.9 171.9,130.9 173.4,131.0 173.7,131.0 173.9,131.0 174.0,131.0 174.3,131.0 174.6,131.0 174.9,131.0 175.2,131.0 175.5,131.0 175.8,130.8 175.9,130.7 176.1,130.3 176.4,129.6 176.7,128.8 176.9,128.5 177.0,128.6 177.3,129.3 177.6,130.1 177.9,130.7 178.2,130.9 178.5,131.0 178.8,131.1 179.1,131.1 179.4,131.1 179.7,131.1 179.9,131.1 180.0,131.1 180.3,131.1 181.9,131.1 183.9,131.1 185.9,131.2 187.9,131.2 189.9,131.2 191.9,131.0 193.9,130.8 195.0,130.6 195.2,130.5 195.3,130.5 195.4,130.4 195.6,130.3 195.8,130.3 195.9,130.2 196.1,130.1 196.2,129.9 196.3,129.7 196.5,129.5 196.7,129.2 196.8,128.7 196.9,127.7 197.1,125.9 197.2,122.3 197.4,116.3 197.6,107.0 197.7,95.1 197.8,82.4 197.9,78.7 198.0,73.1 198.1,71.0 198.2,71.5 198.3,78.7 198.4,90.8 198.6,103.3 198.8,113.6 198.9,120.7 199.1,125.0 199.2,127.3 199.3,128.5 199.5,129.2 199.7,129.5 199.8,129.8 199.9,129.9 199.9,130.0 200.1,130.2 200.2,130.3 200.4,130.4 200.6,130.5 200.7,130.6 200.8,130.6 201.0,130.7 201.2,130.7 201.9,130.9 203.9,131.1 205.9,131.1 207.9,131.1 209.9,131.1 211.9,131.2 213.9,131.2 215.9,131.2 217.9,131.1 219.9,131.0 220.7,131.0 221.0,131.0 221.3,131.0 221.6,131.0 221.9,130.9 222.2,130.9 222.5,130.9 222.8,130.9 223.1,130.8 223.4,130.5 223.7,129.9 223.9,129.5 224.0,129.4 224.1,129.3 224.2,129.2 224.3,129.3 224.4,129.4 224.6,129.8 224.7,130.0 224.9,130.4 225.0,130.5 225.2,130.8 225.3,130.8 225.5,130.9 225.6,131.0 225.8,131.0 225.9,131.0 226.1,131.0 226.2,131.0 226.4,131.0 226.5,130.9 226.7,130.8 226.8,130.6 227.0,130.3 227.1,130.1 227.3,129.7 227.4,129.6 227.6,129.4 227.7,129.5 227.9,129.8 228.0,130.0 228.3,130.6 228.6,131.0 228.9,131.1 229.2,131.2 229.5,131.2 229.8,131.3 229.9,131.3 230.1,131.3 230.4,131.3 230.7,131.3 231.0,131.3 231.9,131.2 233.9,131.2 235.9,131.1 237.9,131.2 239.9,131.2 241.9,131.2 243.9,131.1 245.9,131.0 247.9,131.0 249.9,131.1 251.9,131.2 253.9,131.3 255.9,131.3 257.9,131.3 259.9,131.2 261.9,131.1 263.9,131.1 265.9,131.2 267.9,131.2 269.9,131.1 271.9,131.1 273.9,131.1 275.9,131.1 277.9,131.2 279.9,131.3 281.9,131.4 283.9,131.3 285.9,131.2 287.9,131.1 289.9,131.1 291.9,131.1 293.9,131.2 295.9,131.2 297.9,131.1 299.9,131.1 301.9,131.2 303.9,131.3 305.9,131.3 307.9,131.4 309.9,131.3 311.9,131.1 313.9,131.1 315.9,131.1 317.9,131.1 319.9,131.2 321.9,131.2 323.9,131.2 325.9,131.1 327.9,131.2 329.9,131.3 331.9,131.3 333.9,131.3 335.9,131.2 337.9,131.1 339.9,131.0 341.9,131.0 343.9,131.1 344.5,131.1 344.8,131.1 345.1,131.1 345.4,131.2 345.7,131.2 345.9,131.1 346.0,131.1 346.3,131.1 346.6,131.0 346.9,130.8 347.2,130.2 347.5,129.2 347.8,128.0 347.9,127.8 348.0,127.8 348.1,127.8 348.4,128.8 348.7,129.9 349.0,130.6 349.3,131.0 349.6,131.1 349.9,131.1 350.2,131.1 350.5,131.2 350.8,131.2 351.1,131.2 351.4,131.2 351.9,131.2 353.9,131.2 355.9,131.2 357.9,131.3 359.9,131.3 361.9,131.2 363.9,131.1 365.9,131.0 367.9,131.0 368.7,131.1 369.0,131.1 369.3,131.1 369.6,131.1 369.9,131.1 370.2,131.1 370.5,131.1 370.8,131.1 371.1,131.0 371.4,130.7 371.7,130.3 371.9,129.9 372.0,129.8 372.2,129.6 372.3,129.7 372.6,130.1 372.9,130.5 373.2,130.7 373.5,130.5 373.8,130.1 373.9,130.1 374.0,130.1 374.1,130.1 374.4,130.4 374.7,130.8 375.0,131.1 375.3,131.2 375.6,131.2 375.9,131.2 376.2,131.2 376.5,131.2 376.8,131.2 377.1,131.2 377.4,131.2 377.9,131.2 379.6,131.2"/>
<polyline fill="none" stroke="#e02a35" stroke-width="1.25" stroke-linejoin="round" points="35.9,134.0 37.9,134.1 39.9,134.2 41.9,134.2 43.9,134.2 45.9,134.2 47.9,134.2 49.9,134.4 51.9,134.5 53.9,134.6 55.9,134.6 57.9,134.6 59.9,134.7 61.9,134.8 63.9,134.9 65.9,135.0 67.9,134.9 69.1,134.8 69.3,134.7 69.4,134.7 69.6,134.7 69.7,134.7 69.9,134.6 69.9,134.6 70.0,134.6 70.2,134.6 70.3,134.5 70.5,134.4 70.6,134.4 70.8,134.3 70.9,134.1 71.1,133.8 71.2,133.3 71.4,132.3 71.5,130.6 71.7,128.0 71.8,124.5 71.9,122.3 72.0,120.4 72.1,116.8 72.3,114.9 72.3,114.8 72.4,115.7 72.6,118.8 72.7,122.9 72.9,126.7 73.0,129.7 73.2,131.7 73.3,133.0 73.5,133.7 73.6,134.0 73.8,134.2 73.9,134.3 73.9,134.4 74.1,134.4 74.2,134.5 74.4,134.6 74.5,134.6 74.7,134.7 74.8,134.7 75.0,134.7 75.1,134.8 75.3,134.8 75.4,134.8 75.9,134.9 77.9,135.1 79.9,135.2 81.9,135.2 83.9,135.2 85.9,135.2 87.9,135.3 89.9,135.4 91.9,135.4 93.9,135.4 95.9,135.3 97.9,135.2 99.9,135.2 101.9,135.4 103.9,135.5 105.9,135.6 107.9,135.6 109.9,135.5 111.9,135.5 113.9,135.5 115.9,135.6 117.9,135.6 119.9,135.6 121.9,135.5 123.9,135.4 125.9,135.5 127.9,135.6 129.9,135.7 131.9,135.8 133.9,135.8 135.9,135.7 137.9,135.6 139.5,135.6 139.8,135.6 139.9,135.6 140.1,135.6 140.4,135.6 140.7,135.6 141.0,135.6 141.3,135.6 141.6,135.6 141.9,135.5 142.2,135.3 142.5,135.0 142.8,134.5 143.1,134.1 143.2,134.1 143.4,134.2 143.7,134.7 143.9,135.0 144.0,135.1 144.3,135.4 144.6,135.6 144.9,135.6 145.2,135.6 145.5,135.6 145.8,135.6 145.9,135.6 146.1,135.6 146.4,135.6 146.7,135.6 147.0,135.6 147.3,135.6 147.6,135.5 147.9,135.3 148.2,135.0 148.5,134.7 148.8,134.6 149.1,134.7 149.4,135.0 149.7,135.2 149.9,135.4 150.0,135.4 150.3,135.5 150.6,135.5 150.9,135.6 151.2,135.6 151.5,135.6 151.8,135.6 151.9,135.6 152.1,135.6 152.4,135.6 153.9,135.7 154.9,135.8 155.2,135.8 155.5,135.8 155.8,135.8 155.9,135.8 156.1,135.8 156.4,135.8 156.7,135.8 157.0,135.7 157.3,135.4 157.6,134.7 157.9,133.4 158.2,132.1 158.4,131.7 158.5,131.8 158.8,132.9 159.1,134.3 159.4,135.2 159.7,135.6 159.9,135.7 160.0,135.7 160.3,135.7 160.6,135.8 160.9,135.8 161.2,135.8 161.5,135.7 161.8,135.7 161.9,135.7 163.9,135.7 165.9,135.7 167.9,135.7 169.9,135.8 171.9,135.8 173.4,135.7 173.7,135.7 173.9,135.7 174.0,135.7 174.3,135.7 174.6,135.7 174.9,135.7 175.2,135.6 175.5,135.6 175.8,135.4 175.9,135.3 176.1,134.9 176.4,134.2 176.7,133.3 176.9,133.1 177.0,133.2 177.3,133.9 177.6,134.7 177.9,135.3 178.2,135.6 178.5,135.7 178.8,135.7 179.1,135.7 179.4,135.8 179.7,135.8 179.9,135.8 180.0,135.8 180.3,135.8 181.9,135.9 183.9,136.0 185.9,135.9 187.9,135.8 189.9,135.6 191.9,135.6 193.9,135.5 195.0,135.4 195.2,135.3 195.3,135.3 195.4,135.3 195.6,135.2 195.8,135.1 195.9,135.0 196.1,134.9 196.2,134.8 196.3,134.6 196.5,134.4 196.7,134.1 196.8,133.5 196.9,132.6 197.1,130.7 197.2,127.2 197.4,121.2 197.6,111.9 197.7,99.9 197.8,87.3 197.9,83.5 198.0,77.9 198.1,75.8 198.2,76.4 198.3,83.5 198.4,95.6 198.6,108.2 198.8,118.4 198.9,125.5 199.1,129.8 199.2,132.1 199.3,133.3 199.5,133.9 199.7,134.3 199.8,134.5 199.9,134.7 199.9,134.7 200.1,134.9 200.2,135.0 200.4,135.1 200.6,135.2 200.7,135.2 200.8,135.3 201.0,135.3 201.2,135.4 201.9,135.5 203.9,135.7 205.9,135.8 207.9,135.9 209.9,136.0 211.9,135.9 213.9,135.8 215.9,135.7 217.9,135.7 219.9,135.8 220.7,135.8 221.0,135.8 221.3,135.8 221.6,135.8 221.9,135.8 222.2,135.8 222.5,135.8 222.8,135.8 223.1,135.7 223.4,135.4 223.7,134.8 223.9,134.4 224.0,134.3 224.1,134.1 224.2,134.1 224.3,134.1 224.4,134.3 224.6,134.6 224.7,134.8 224.9,135.2 225.0,135.3 225.2,135.6 225.3,135.6 225.5,135.7 225.6,135.8 225.8,135.8 225.9,135.8 226.1,135.8 226.2,135.7 226.4,135.7 226.5,135.6 226.7,135.4 226.8,135.3 227.0,135.0 227.1,134.8 227.3,134.4 227.4,134.2 227.6,134.0 227.7,134.1 227.9,134.4 228.0,134.6 228.3,135.1 228.6,135.5 228.9,135.7 229.2,135.8 229.5,135.8 229.8,135.8 229.9,135.8 230.1,135.8 230.4,135.8 230.7,135.8 231.0,135.9 231.9,135.9 233.9,136.0 235.9,136.0 237.9,135.9 239.9,135.8 241.9,135.7 243.9,135.7 245.9,135.8 247.9,135.9 249.9,136.0 251.9,136.0 253.9,135.9 255.9,135.9 257.9,135.9 259.9,135.9 261.9,135.9 263.9,135.9 265.9,135.8 267.9,135.7 269.9,135.7 271.9,135.8 273.9,136.0 275.9,136.0 277.9,136.0 279.9,135.9 281.9,135.8 283.9,135.8 285.9,135.9 287.9,135.9 289.9,135.9 291.9,135.8 293.9,135.7 295.9,135.8 297.9,135.9 299.9,136.0 301.9,136.0 303.9,136.0 305.9,135.9 307.9,135.8 309.9,135.8 311.9,135.8 313.9,135.9 315.9,135.9 317.9,135.8 319.9,135.8 321.9,135.8 323.9,135.9 325.9,136.0 327.9,136.1 329.9,136.0 331.9,135.9 333.9,135.8 335.9,135.8 337.9,135.8 339.9,135.9 341.9,135.9 343.9,135.8 344.5,135.8 344.8,135.8 345.1,135.8 345.4,135.8 345.7,135.8 345.9,135.7 346.0,135.7 346.3,135.7 346.6,135.6 346.9,135.4 347.2,134.8 347.5,133.7 347.8,132.6 347.9,132.4 348.0,132.3 348.1,132.4 348.4,133.4 348.7,134.5 349.0,135.3 349.3,135.6 349.6,135.8 349.9,135.8 350.2,135.9 350.5,135.9 350.8,135.9 351.1,135.9 351.4,136.0 351.9,136.0 353.9,136.0 355.9,136.0 357.9,135.8 359.9,135.7 361.9,135.7 363.9,135.8 365.9,135.9 367.9,135.9 368.7,135.9 369.0,135.9 369.3,135.9 369.6,135.9 369.9,135.9 370.2,135.9 370.5,135.8 370.8,135.8 371.1,135.7 371.4,135.4 371.7,134.9 371.9,134.5 372.0,134.4 372.2,134.2 372.3,134.3 372.6,134.6 372.9,135.1 373.2,135.2 373.5,135.0 373.8,134.7 373.9,134.6 374.0,134.6 374.1,134.7 374.4,135.0 374.7,135.4 375.0,135.7 375.3,135.8 375.6,135.9 375.9,135.9 376.2,135.9 376.5,135.9 376.8,135.9 377.1,136.0 377.4,136.0 377.9,136.0 379.6,136.0"/>
<polyline fill="none" stroke="#8c35d9" stroke-width="1.25" stroke-linejoin="round" points="35.9,138.7 37.9,138.7 39.9,138.7 41.9,138.7 43.9,138.8 45.9,139.0 47.9,139.1 49.9,139.1 51.9,139.1 53.9,139.2 55.9,139.3 57.9,139.5 59.9,139.6 61.9,139.6 63.9,139.5 65.9,139.4 67.9,139.4 69.1,139.4 69.3,139.4 69.4,139.3 69.6,139.3 69.7,139.3 69.9,139.3 69.9,139.3 70.0,139.3 70.2,139.3 70.3,139.2 70.5,139.2 70.6,139.1 70.8,139.0 70.9,138.9 71.1,138.6 71.2,138.1 71.4,137.1 71.5,135.4 71.7,132.8 71.8,129.3 71.9,127.1 72.0,125.2 72.1,121.6 72.3,119.7 72.3,119.7 72.4,120.6 72.6,123.7 72.7,127.7 72.9,131.6 73.0,134.6 73.2,136.6 73.3,137.9 73.5,138.5 73.6,138.9 73.8,139.1 73.9,139.2 73.9,139.2 74.1,139.3 74.2,139.4 74.4,139.4 74.5,139.5 74.7,139.5 74.8,139.5 75.0,139.6 75.1,139.6 75.3,139.6 75.4,139.6 75.9,139.7 77.9,139.7 79.9,139.8 81.9,139.9 83.9,140.0 85.9,140.1 87.9,140.0 89.9,140.0 91.9,139.9 93.9,139.9 95.9,139.9 97.9,140.1 99.9,140.2 101.9,140.2 103.9,140.2 105.9,140.1 107.9,140.2 109.9,140.3 111.9,140.3 113.9,140.3 115.9,140.2 117.9,140.1 119.9,140.1 121.9,140.2 123.9,140.3 125.9,140.4 127.9,140.4 129.9,140.4 131.9,140.3 133.9,140.3 135.9,140.4 137.9,140.4 139.5,140.4 139.8,140.4 139.9,140.4 140.1,140.4 140.4,140.4 140.7,140.3 141.0,140.3 141.3,140.3 141.6,140.2 141.9,140.1 142.2,139.9 142.5,139.6 142.8,139.1 143.1,138.7 143.2,138.7 143.4,138.8 143.7,139.2 143.9,139.5 144.0,139.6 144.3,139.9 144.6,140.1 144.9,140.1 145.2,140.2 145.5,140.2 145.8,140.2 145.9,140.2 146.1,140.2 146.4,140.2 146.7,140.2 147.0,140.2 147.3,140.2 147.6,140.1 147.9,140.0 148.2,139.7 148.5,139.5 148.8,139.4 149.1,139.5 149.4,139.8 149.7,140.1 149.9,140.2 150.0,140.3 150.3,140.4 150.6,140.5 150.9,140.5 151.2,140.5 151.5,140.5 151.8,140.5 151.9,140.5 152.1,140.5 152.4,140.5 153.9,140.5 154.9,140.5 155.2,140.5 155.5,140.5 155.8,140.4 155.9,140.4 156.1,140.4 156.4,140.4 156.7,140.3 157.0,140.2 157.3,139.9 157.6,139.2 157.9,137.9 158.2,136.6 158.4,136.2 158.5,136.3 158.8,137.4 159.1,138.8 159.4,139.7 159.7,140.1 159.9,140.2 160.0,140.2 160.3,140.3 160.6,140.3 160.9,140.4 161.2,140.4 161.5,140.4 161.8,140.4 161.9,140.4 163.9,140.5 165.9,140.5 167.9,140.4 169.9,140.3 171.9,140.3 173.4,140.4 173.7,140.4 173.9,140.4 174.0,140.4 174.3,140.4 174.6,140.4 174.9,140.4 175.2,140.4 175.5,140.4 175.8,140.2 175.9,140.1 176.1,139.8 176.4,139.0 176.7,138.2 176.9,138.0 177.0,138.1 177.3,138.8 177.6,139.6 177.9,140.2 178.2,140.5 178.5,140.6 178.8,140.6 179.1,140.6 179.4,140.6 179.7,140.6 179.9,140.6 180.0,140.6 180.3,140.6 181.9,140.5 183.9,140.4 185.9,140.4 187.9,140.4 189.9,140.4 191.9,140.4 193.9,140.2 195.0,140.0 195.2,140.0 195.3,139.9 195.4,139.9 195.6,139.8 195.8,139.7 195.9,139.6 196.1,139.5 196.2,139.4 196.3,139.2 196.5,139.0 196.7,138.6 196.8,138.1 196.9,137.2 197.1,135.3 197.2,131.8 197.4,125.7 197.6,116.5 197.7,104.5 197.8,91.8 197.9,88.1 198.0,82.5 198.1,80.4 198.2,81.0 198.3,88.1 198.4,100.2 198.6,112.8 198.8,123.0 198.9,130.1 199.1,134.4 199.2,136.7 199.3,137.9 199.5,138.6 199.7,139.0 199.8,139.2 199.9,139.4 199.9,139.4 200.1,139.6 200.2,139.7 200.4,139.8 200.6,139.9 200.7,140.0 200.8,140.1 201.0,140.1 201.2,140.2 201.9,140.4 203.9,140.6 205.9,140.6 207.9,140.5 209.9,140.4 211.9,140.4 213.9,140.4 215.9,140.5 217.9,140.5 219.9,140.5 220.7,140.5 221.0,140.5 221.3,140.5 221.6,140.5 221.9,140.5 222.2,140.4 222.5,140.4 222.8,140.4 223.1,140.2 223.4,139.9 223.7,139.4 223.9,139.0 224.0,138.8 224.1,138.7 224.2,138.7 224.3,138.7 224.4,138.8 224.6,139.2 224.7,139.4 224.9,139.8 225.0,140.0 225.2,140.2 225.3,140.3 225.5,140.4 225.6,140.4 225.8,140.4 225.9,140.4 226.1,140.4 226.2,140.4 226.4,140.4 226.5,140.3 226.7,140.2 226.8,140.0 227.0,139.7 227.1,139.5 227.3,139.1 227.4,139.0 227.6,138.8 227.7,138.9 227.9,139.2 228.0,139.4 228.3,140.0 228.6,140.4 228.9,140.5 229.2,140.6 229.5,140.7 229.8,140.7 229.9,140.7 230.1,140.7 230.4,140.7 230.7,140.7 231.0,140.7 231.9,140.7 233.9,140.5 235.9,140.4 237.9,140.4 239.9,140.4 241.9,140.5 243.9,140.6 245.9,140.6 247.9,140.6 249.9,140.5 251.9,140.6 253.9,140.7 255.9,140.7 257.9,140.6 259.9,140.5 261.9,140.4 263.9,140.4 265.9,140.4 267.9,140.6 269.9,140.6 271.9,140.6 273.9,140.6 275.9,140.6 277.9,140.6 279.9,140.6 281.9,140.7 283.9,140.6 285.9,140.5 287.9,140.4 289.9,140.4 291.9,140.5 293.9,140.6 295.9,140.7 297.9,140.7 299.9,140.6 301.9,140.6 303.9,140.6 305.9,140.6 307.9,140.6 309.9,140.6 311.9,140.5 313.9,140.4 315.9,140.4 317.9,140.5 319.9,140.6 321.9,140.7 323.9,140.7 325.9,140.6 327.9,140.5 329.9,140.5 331.9,140.5 333.9,140.6 335.9,140.6 337.9,140.5 339.9,140.4 341.9,140.4 343.9,140.5 344.5,140.5 344.8,140.6 345.1,140.6 345.4,140.6 345.7,140.6 345.9,140.6 346.0,140.6 346.3,140.6 346.6,140.5 346.9,140.3 347.2,139.7 347.5,138.6 347.8,137.5 347.9,137.3 348.0,137.2 348.1,137.3 348.4,138.2 348.7,139.4 349.0,140.1 349.3,140.5 349.6,140.6 349.9,140.6 350.2,140.6 350.5,140.6 350.8,140.6 351.1,140.6 351.4,140.6 351.9,140.6 353.9,140.5 355.9,140.5 357.9,140.5 359.9,140.5 361.9,140.6 363.9,140.5 365.9,140.5 367.9,140.5 368.7,140.5 369.0,140.5 369.3,140.5 369.6,140.5 369.9,140.5 370.2,140.5 370.5,140.5 370.8,140.5 371.1,140.4 371.4,140.2 371.7,139.7 371.9,139.3 372.0,139.2 372.2,139.1 372.3,139.1 372.6,139.5 372.9,139.9 373.2,140.1 373.5,139.9 373.8,139.6 373.9,139.5 374.0,139.5 374.1,139.5 374.4,139.9 374.7,140.3 375.0,140.5 375.3,140.6 375.6,140.7 375.9,140.7 376.2,140.7 376.5,140.7 376.8,140.6 377.1,140.6 377.4,140.6 377.9,140.6 379.6,140.5"/>
<polyline fill="none" stroke="#f0a236" stroke-width="1.25" stroke-linejoin="round" points="35.9,143.3 37.9,143.4 39.9,143.5 41.9,143.5 43.9,143.6 45.9,143.6 47.9,143.6 49.9,143.7 51.9,143.9 53.9,144.1 55.9,144.2 57.9,144.1 59.9,144.1 61.9,144.1 63.9,144.1 65.9,144.2 67.9,144.2 69.1,144.2 69.3,144.1 69.4,144.1 69.6,144.1 69.7,144.1 69.9,144.1 69.9,144.1 70.0,144.0 70.2,144.0 70.3,143.9 70.5,143.9 70.6,143.8 70.8,143.7 70.9,143.5 71.1,143.3 71.2,142.7 71.4,141.8 71.5,140.1 71.7,137.5 71.8,133.9 71.9,131.8 72.0,129.9 72.1,126.2 72.3,124.3 72.3,124.3 72.4,125.2 72.6,128.3 72.7,132.3 72.9,136.1 73.0,139.2 73.2,141.2 73.3,142.4 73.5,143.1 73.6,143.5 73.8,143.7 73.9,143.8 73.9,143.8 74.1,143.9 74.2,144.0 74.4,144.0 74.5,144.1 74.7,144.1 74.8,144.1 75.0,144.2 75.1,144.2 75.3,144.2 75.4,144.2 75.9,144.3 77.9,144.5 79.9,144.7 81.9,144.7 83.9,144.6 85.9,144.6 87.9,144.5 89.9,144.6 91.9,144.6 93.9,144.7 95.9,144.7 97.9,144.7 99.9,144.7 101.9,144.8 103.9,144.9 105.9,145.0 107.9,145.0 109.9,144.9 111.9,144.8 113.9,144.8 115.9,144.8 117.9,144.9 119.9,145.0 121.9,145.0 123.9,145.0 125.9,145.0 127.9,145.0 129.9,145.1 131.9,145.2 133.9,145.1 135.9,145.0 137.9,144.9 139.5,144.9 139.8,144.9 139.9,144.9 140.1,144.9 140.4,144.9 140.7,144.9 141.0,144.9 141.3,144.9 141.6,144.8 141.9,144.8 142.2,144.6 142.5,144.2 142.8,143.8 143.1,143.4 143.2,143.4 143.4,143.5 143.7,144.0 143.9,144.3 144.0,144.5 144.3,144.8 144.6,145.0 144.9,145.0 145.2,145.1 145.5,145.1 145.8,145.1 145.9,145.1 146.1,145.1 146.4,145.1 146.7,145.1 147.0,145.1 147.3,145.1 147.6,145.0 147.9,144.8 148.2,144.6 148.5,144.3 148.8,144.2 149.1,144.3 149.4,144.6 149.7,144.8 149.9,144.9 150.0,145.0 150.3,145.1 150.6,145.1 150.9,145.1 151.2,145.1 151.5,145.1 151.8,145.1 151.9,145.1 152.1,145.1 152.4,145.1 153.9,145.1 154.9,145.1 155.2,145.1 155.5,145.1 155.8,145.1 155.9,145.1 156.1,145.1 156.4,145.1 156.7,145.0 157.0,145.0 157.3,144.7 157.6,143.9 157.9,142.7 158.2,141.4 158.4,141.0 158.5,141.1 158.8,142.2 159.1,143.6 159.4,144.5 159.7,144.9 159.9,145.0 160.0,145.0 160.3,145.1 160.6,145.1 160.9,145.1 161.2,145.1 161.5,145.1 161.8,145.1 161.9,145.1 163.9,145.0 165.9,145.0 167.9,145.0 169.9,145.1 171.9,145.3 173.4,145.3 173.7,145.3 173.9,145.3 174.0,145.3 174.3,145.3 174.6,145.2 174.9,145.2 175.2,145.2 175.5,145.1 175.8,144.9 175.9,144.8 176.1,144.5 176.4,143.7 176.7,142.8 176.9,142.6 177.0,142.7 177.3,143.4 177.6,144.2 177.9,144.7 178.2,145.0 178.5,145.1 178.8,145.1 179.1,145.1 179.4,145.1 179.7,145.1 179.9,145.1 180.0,145.1 180.3,145.1 181.9,145.2 183.9,145.2 185.9,145.2 187.9,145.1 189.9,145.0 191.9,144.9 193.9,144.9 195.0,144.8 195.2,144.7 195.3,144.7 195.4,144.7 195.6,144.6 195.8,144.5 195.9,144.4 196.1,144.3 196.2,144.2 196.3,144.0 196.5,143.8 196.7,143.5 196.8,143.0 196.9,142.0 197.1,140.2 197.2,136.7 197.4,130.6 197.6,121.4 197.7,109.4 197.8,96.8 197.9,93.0 198.0,87.4 198.1,85.4 198.2,85.9 198.3,93.0 198.4,105.1 198.6,117.7 198.8,128.0 198.9,135.1 199.1,139.3 199.2,141.6 199.3,142.8 199.5,143.5 199.7,143.8 199.8,144.1 199.9,144.2 199.9,144.3 200.1,144.4 200.2,144.5 200.4,144.6 200.6,144.7 200.7,144.8 200.8,144.8 201.0,144.9 201.2,144.9 201.9,145.0 203.9,145.1 205.9,145.1 207.9,145.1 209.9,145.2 211.9,145.2 213.9,145.2 215.9,145.1 217.9,145.1 219.9,145.2 220.7,145.2 221.0,145.2 221.3,145.2 221.6,145.2 221.9,145.3 222.2,145.3 222.5,145.3 222.8,145.2 223.1,145.1 223.4,144.8 223.7,144.3 223.9,143.9 224.0,143.7 224.1,143.6 224.2,143.6 224.3,143.6 224.4,143.7 224.6,144.1 224.7,144.3 224.9,144.7 225.0,144.8 225.2,145.1 225.3,145.1 225.5,145.2 225.6,145.3 225.8,145.3 225.9,145.3 226.1,145.3 226.2,145.2 226.4,145.2 226.5,145.1 226.7,144.9 226.8,144.8 227.0,144.5 227.1,144.3 227.3,143.9 227.4,143.7 227.6,143.5 227.7,143.6 227.9,143.8 228.0,144.0 228.3,144.6 228.6,145.0 228.9,145.1 229.2,145.2 229.5,145.2 229.8,145.2 229.9,145.2 230.1,145.2 230.4,145.2 230.7,145.1 231.0,145.1 231.9,145.1 233.9,145.1 235.9,145.2 237.9,145.2 239.9,145.2 241.9,145.2 243.9,145.2 245.9,145.2 247.9,145.3 249.9,145.4 251.9,145.4 253.9,145.3 255.9,145.2 257.9,145.1 259.9,145.1 261.9,145.2 263.9,145.3 265.9,145.3 267.9,145.2 269.9,145.2 271.9,145.3 273.9,145.3 275.9,145.4 277.9,145.4 279.9,145.3 281.9,145.2 283.9,145.1 285.9,145.1 287.9,145.2 289.9,145.3 291.9,145.3 293.9,145.3 295.9,145.3 297.9,145.3 299.9,145.3 301.9,145.4 303.9,145.3 305.9,145.2 307.9,145.1 309.9,145.1 311.9,145.1 313.9,145.2 315.9,145.3 317.9,145.4 319.9,145.3 321.9,145.3 323.9,145.3 325.9,145.3 327.9,145.3 329.9,145.3 331.9,145.2 333.9,145.1 335.9,145.1 337.9,145.1 339.9,145.3 341.9,145.4 343.9,145.4 344.5,145.4 344.8,145.4 345.1,145.3 345.4,145.3 345.7,145.3 345.9,145.3 346.0,145.3 346.3,145.2 346.6,145.1 346.9,144.9 347.2,144.2 347.5,143.2 347.8,142.1 347.9,141.8 348.0,141.8 348.1,141.8 348.4,142.8 348.7,143.9 349.0,144.6 349.3,145.0 349.6,145.1 349.9,145.1 350.2,145.2 350.5,145.2 350.8,145.2 351.1,145.2 351.4,145.2 351.9,145.2 353.9,145.3 355.9,145.3 357.9,145.2 359.9,145.1 361.9,145.1 363.9,145.2 365.9,145.3 367.9,145.4 368.7,145.4 369.0,145.4 369.3,145.4 369.6,145.4 369.9,145.4 370.2,145.4 370.5,145.4 370.8,145.3 371.1,145.2 371.4,144.9 371.7,144.4 371.9,144.0 372.0,143.9 372.2,143.7 372.3,143.7 372.6,144.1 372.9,144.5 373.2,144.7 373.5,144.4 373.8,144.1 373.9,144.0 374.0,144.0 374.1,144.0 374.4,144.3 374.7,144.7 375.0,145.0 375.3,145.1 375.6,145.1 375.9,145.1 376.2,145.1 376.5,145.1 376.8,145.2 377.1,145.2 377.4,145.2 377.9,145.2 379.6,145.2"/>
<polyline fill="none" stroke="#3b9a45" stroke-width="1.25" stroke-linejoin="round" points="35.9,148.1 37.9,148.1 39.9,148.0 41.9,148.0 43.9,148.2 45.9,148.3 47.9,148.5 49.9,148.6 51.9,148.7 53.9,148.7 55.9,148.7 57.9,148.7 59.9,148.8 61.9,148.9 63.9,148.9 65.9,148.8 67.9,148.8 69.1,148.7 69.3,148.7 69.4,148.7 69.6,148.7 69.7,148.7 69.9,148.7 69.9,148.7 70.0,148.6 70.2,148.6 70.3,148.6 70.5,148.5 70.6,148.5 70.8,148.4 70.9,148.2 71.1,148.0 71.2,147.5 71.4,146.5 71.5,144.8 71.7,142.2 71.8,138.7 71.9,136.5 72.0,134.6 72.1,131.0 72.3,129.2 72.3,129.1 72.4,130.0 72.6,133.1 72.7,137.2 72.9,141.0 73.0,144.0 73.2,146.1 73.3,147.3 73.5,148.0 73.6,148.4 73.8,148.6 73.9,148.7 73.9,148.7 74.1,148.8 74.2,148.9 74.4,148.9 74.5,149.0 74.7,149.0 74.8,149.0 75.0,149.1 75.1,149.1 75.3,149.1 75.4,149.1 75.9,149.2 77.9,149.2 79.9,149.2 81.9,149.2 83.9,149.2 85.9,149.3 87.9,149.3 89.9,149.3 91.9,149.3 93.9,149.3 95.9,149.4 97.9,149.5 99.9,149.6 101.9,149.7 103.9,149.6 105.9,149.5 107.9,149.5 109.9,149.5 111.9,149.5 113.9,149.6 115.9,149.6 117.9,149.6 119.9,149.6 121.9,149.6 123.9,149.7 125.9,149.8 127.9,149.9 129.9,149.8 131.9,149.7 133.9,149.6 135.9,149.6 137.9,149.7 139.5,149.7 139.8,149.7 139.9,149.7 140.1,149.7 140.4,149.7 140.7,149.7 141.0,149.7 141.3,149.7 141.6,149.7 141.9,149.6 142.2,149.4 142.5,149.1 142.8,148.6 143.1,148.2 143.2,148.2 143.4,148.3 143.7,148.7 143.9,149.0 144.0,149.2 144.3,149.5 144.6,149.6 144.9,149.7 145.2,149.7 145.5,149.7 145.8,149.7 145.9,149.7 146.1,149.7 146.4,149.7 146.7,149.7 147.0,149.7 147.3,149.7 147.6,149.6 147.9,149.4 148.2,149.2 148.5,148.9 148.8,148.8 149.1,148.9 149.4,149.2 149.7,149.5 149.9,149.6 150.0,149.7 150.3,149.8 150.6,149.8 150.9,149.9 151.2,149.9 151.5,149.9 151.8,149.9 151.9,149.9 152.1,149.9 152.4,149.9 153.9,149.9 154.9,149.9 155.2,149.9 155.5,149.8 155.8,149.8 155.9,149.8 156.1,149.8 156.4,149.7 156.7,149.7 157.0,149.6 157.3,149.2 157.6,148.5 157.9,147.2 158.2,145.9 158.4,145.5 158.5,145.6 158.8,146.7 159.1,148.1 159.4,149.0 159.7,149.4 159.9,149.5 160.0,149.5 160.3,149.5 160.6,149.6 160.9,149.6 161.2,149.6 161.5,149.6 161.8,149.6 161.9,149.6 163.9,149.7 165.9,149.9 167.9,149.9 169.9,149.9 171.9,149.8 173.4,149.8 173.7,149.8 173.9,149.8 174.0,149.8 174.3,149.8 174.6,149.8 174.9,149.8 175.2,149.8 175.5,149.7 175.8,149.6 175.9,149.5 176.1,149.1 176.4,148.4 176.7,147.6 176.9,147.3 177.0,147.4 177.3,148.1 177.6,149.0 177.9,149.5 178.2,149.8 178.5,149.9 178.8,149.9 179.1,149.9 179.4,149.9 179.7,149.9 179.9,149.9 180.0,149.9 180.3,149.9 181.9,149.9 183.9,149.8 185.9,149.7 187.9,149.7 189.9,149.8 191.9,149.8 193.9,149.8 195.0,149.6 195.2,149.6 195.3,149.5 195.4,149.4 195.6,149.4 195.8,149.3 195.9,149.2 196.1,149.1 196.2,148.9 196.3,148.8 196.5,148.5 196.7,148.2 196.8,147.7 196.9,146.7 197.1,144.8 197.2,141.3 197.4,135.2 197.6,126.0 197.7,114.0 197.8,101.3 197.9,97.6 198.0,92.0 198.1,89.9 198.2,90.4 198.3,97.6 198.4,109.7 198.6,122.2 198.8,132.5 198.9,139.6 199.1,143.8 199.2,146.2 199.3,147.3 199.5,148.0 199.7,148.3 199.8,148.6 199.9,148.7 199.9,148.8 200.1,148.9 200.2,149.1 200.4,149.2 200.6,149.3 200.7,149.3 200.8,149.4 201.0,149.4 201.2,149.5 201.9,149.6 203.9,149.8 205.9,149.9 207.9,149.9 209.9,149.8 211.9,149.7 213.9,149.8 215.9,149.9 217.9,150.0 219.9,150.1 220.7,150.0 221.0,150.0 221.3,150.0 221.6,150.0 221.9,150.0 222.2,150.0 222.5,149.9 222.8,149.9 223.1,149.7 223.4,149.4 223.7,148.9 223.9,148.5 224.0,148.3 224.1,148.2 224.2,148.1 224.3,148.2 224.4,148.3 224.6,148.6 224.7,148.8 224.9,149.2 225.0,149.3 225.2,149.6 225.3,149.6 225.5,149.7 225.6,149.7 225.8,149.8 225.9,149.8 226.1,149.8 226.2,149.7 226.4,149.7 226.5,149.6 226.7,149.4 226.8,149.3 227.0,149.0 227.1,148.8 227.3,148.4 227.4,148.2 227.6,148.1 227.7,148.1 227.9,148.4 228.0,148.6 228.3,149.2 228.6,149.6 228.9,149.8 229.2,149.8 229.5,149.9 229.8,149.9 229.9,149.9 230.1,149.9 230.4,149.9 230.7,149.9 231.0,149.9 231.9,149.9 233.9,149.9 235.9,149.8 237.9,149.8 239.9,149.8 241.9,149.9 243.9,150.1 245.9,150.1 247.9,150.1 249.9,150.0 251.9,149.9 253.9,149.9 255.9,149.9 257.9,149.9 259.9,149.9 261.9,149.9 263.9,149.8 265.9,149.9 267.9,150.0 269.9,150.1 271.9,150.1 273.9,150.1 275.9,149.9 277.9,149.8 279.9,149.8 281.9,149.9 283.9,149.9 285.9,150.0 287.9,149.9 289.9,149.9 291.9,149.9 293.9,150.0 295.9,150.1 297.9,150.1 299.9,150.0 301.9,149.9 303.9,149.8 305.9,149.8 307.9,149.9 309.9,150.0 311.9,150.0 313.9,150.0 315.9,149.9 317.9,149.9 319.9,150.0 321.9,150.1 323.9,150.1 325.9,150.0 327.9,149.9 329.9,149.8 331.9,149.8 333.9,149.9 335.9,150.0 337.9,150.0 339.9,150.0 341.9,150.0 343.9,149.9 344.5,149.9 344.8,149.9 345.1,149.9 345.4,149.9 345.7,149.9 345.9,149.9 346.0,149.9 346.3,149.9 346.6,149.8 346.9,149.6 347.2,149.0 347.5,147.9 347.8,146.8 347.9,146.6 348.0,146.5 348.1,146.6 348.4,147.5 348.7,148.7 349.0,149.4 349.3,149.8 349.6,149.9 349.9,149.9 350.2,150.0 350.5,150.0 350.8,150.0 351.1,150.0 351.4,150.0 351.9,149.9 353.9,149.8 355.9,149.8 357.9,149.8 359.9,149.9 361.9,150.0 363.9,150.1 365.9,150.1 367.9,150.0 368.7,149.9 369.0,149.9 369.3,149.9 369.6,149.9 369.9,149.9 370.2,149.9 370.5,149.9 370.8,149.8 371.1,149.7 371.4,149.4 371.7,149.0 371.9,148.6 372.0,148.4 372.2,148.3 372.3,148.3 372.6,148.7 372.9,149.2 373.2,149.3 373.5,149.1 373.8,148.8 373.9,148.7 374.0,148.7 374.1,148.8 374.4,149.1 374.7,149.5 375.0,149.8 375.3,149.9 375.6,149.9 375.9,149.9 376.2,150.0 376.5,150.0 376.8,150.0 377.1,149.9 377.4,149.9 377.9,149.9 379.6,149.9"/>
<polyline fill="none" stroke="#2a2ad6" stroke-width="1.25" stroke-linejoin="round" points="35.9,152.5 37.9,152.6 39.9,152.7 41.9,152.9 43.9,153.1 45.9,153.1 47.9,153.1 49.9,153.2 51.9,153.3 53.9,153.4 55.9,153.5 57.9,153.5 59.9,153.4 61.9,153.4 63.9,153.4 65.9,153.5 67.9,153.6 69.1,153.6 69.3,153.6 69.4,153.6 69.6,153.6 69.7,153.6 69.9,153.6 69.9,153.6 70.0,153.6 70.2,153.5 70.3,153.5 70.5,153.4 70.6,153.4 70.8,153.3 70.9,153.1 71.1,152.8 71.2,152.3 71.4,151.3 71.5,149.6 71.7,147.0 71.8,143.5 71.9,141.3 72.0,139.4 72.1,135.8 72.3,133.9 72.3,133.9 72.4,134.8 72.6,137.8 72.7,141.9 72.9,145.7 73.0,148.7 73.2,150.7 73.3,152.0 73.5,152.6 73.6,153.0 73.8,153.2 73.9,153.3 73.9,153.3 74.1,153.4 74.2,153.5 74.4,153.5 74.5,153.5 74.7,153.6 74.8,153.6 75.0,153.6 75.1,153.6 75.3,153.7 75.4,153.7 75.9,153.7 77.9,153.8 79.9,153.9 81.9,154.0 83.9,154.0 85.9,153.9 87.9,153.9 89.9,153.9 91.9,154.0 93.9,154.2 95.9,154.3 97.9,154.3 99.9,154.2 101.9,154.2 103.9,154.2 105.9,154.2 107.9,154.3 109.9,154.3 111.9,154.2 113.9,154.2 115.9,154.2 117.9,154.3 119.9,154.4 121.9,154.5 123.9,154.5 125.9,154.4 127.9,154.3 129.9,154.3 131.9,154.3 133.9,154.4 135.9,154.4 137.9,154.4 139.5,154.3 139.8,154.3 139.9,154.3 140.1,154.3 140.4,154.3 140.7,154.3 141.0,154.3 141.3,154.3 141.6,154.3 141.9,154.2 142.2,154.0 142.5,153.7 142.8,153.2 143.1,152.8 143.2,152.8 143.4,152.9 143.7,153.4 143.9,153.7 144.0,153.9 144.3,154.2 144.6,154.4 144.9,154.4 145.2,154.5 145.5,154.5 145.8,154.5 145.9,154.5 146.1,154.6 146.4,154.6 146.7,154.6 147.0,154.6 147.3,154.5 147.6,154.5 147.9,154.3 148.2,154.0 148.5,153.8 148.8,153.6 149.1,153.8 149.4,154.0 149.7,154.3 149.9,154.4 150.0,154.4 150.3,154.5 150.6,154.5 150.9,154.5 151.2,154.5 151.5,154.5 151.8,154.5 151.9,154.5 152.1,154.5 152.4,154.5 153.9,154.4 154.9,154.3 155.2,154.3 155.5,154.3 155.8,154.3 155.9,154.3 156.1,154.3 156.4,154.3 156.7,154.2 157.0,154.1 157.3,153.9 157.6,153.1 157.9,151.9 158.2,150.6 158.4,150.2 158.5,150.3 158.8,151.5 159.1,152.8 159.4,153.8 159.7,154.2 159.9,154.3 160.0,154.3 160.3,154.4 160.6,154.4 160.9,154.5 161.2,154.5 161.5,154.5 161.8,154.5 161.9,154.5 163.9,154.5 165.9,154.5 167.9,154.5 169.9,154.6 171.9,154.7 173.4,154.7 173.7,154.7 173.9,154.7 174.0,154.7 174.3,154.7 174.6,154.7 174.9,154.6 175.2,154.6 175.5,154.5 175.8,154.3 175.9,154.2 176.1,153.9 176.4,153.1 176.7,152.2 176.9,152.0 177.0,152.1 177.3,152.7 177.6,153.6 177.9,154.1 178.2,154.3 178.5,154.4 178.8,154.4 179.1,154.4 179.4,154.4 179.7,154.4 179.9,154.4 180.0,154.4 180.3,154.4 181.9,154.4 183.9,154.4 185.9,154.5 187.9,154.6 189.9,154.6 191.9,154.5 193.9,154.3 195.0,154.2 195.2,154.1 195.3,154.1 195.4,154.1 195.6,154.0 195.8,153.9 195.9,153.8 196.1,153.7 196.2,153.6 196.3,153.4 196.5,153.2 196.7,152.9 196.8,152.3 196.9,151.4 197.1,149.5 197.2,146.0 197.4,140.0 197.6,130.7 197.7,118.7 197.8,106.1 197.9,102.4 198.0,96.8 198.1,94.7 198.2,95.2 198.3,102.4 198.4,114.5 198.6,127.0 198.8,137.3 198.9,144.4 199.1,148.7 199.2,151.0 199.3,152.2 199.5,152.8 199.7,153.2 199.8,153.4 199.9,153.6 199.9,153.6 200.1,153.8 200.2,153.9 200.4,154.0 200.6,154.1 200.7,154.1 200.8,154.2 201.0,154.2 201.2,154.3 201.9,154.4 203.9,154.4 205.9,154.4 207.9,154.4 209.9,154.5 211.9,154.6 213.9,154.7 215.9,154.7 217.9,154.6 219.9,154.6 220.7,154.6 221.0,154.6 221.3,154.6 221.6,154.6 221.9,154.6 222.2,154.6 222.5,154.6 222.8,154.5 223.1,154.4 223.4,154.1 223.7,153.6 223.9,153.2 224.0,153.0 224.1,152.9 224.2,152.9 224.3,152.9 224.4,153.0 224.6,153.4 224.7,153.6 224.9,154.0 225.0,154.1 225.2,154.4 225.3,154.4 225.5,154.5 225.6,154.5 225.8,154.6 225.9,154.6 226.1,154.6 226.2,154.5 226.4,154.5 226.5,154.4 226.7,154.2 226.8,154.1 227.0,153.8 227.1,153.6 227.3,153.2 227.4,153.0 227.6,152.8 227.7,152.9 227.9,153.2 228.0,153.3 228.3,153.9 228.6,154.3 228.9,154.5 229.2,154.5 229.5,154.5 229.8,154.5 229.9,154.5 230.1,154.5 230.4,154.5 230.7,154.5 231.0,154.5 231.9,154.4 233.9,154.4 235.9,154.5 237.9,154.7 239.9,154.7 241.9,154.7 243.9,154.7 245.9,154.6 247.9,154.6 249.9,154.6 251.9,154.7 253.9,154.6 255.9,154.6 257.9,154.5 259.9,154.5 261.9,154.6 263.9,154.7 265.9,154.8 267.9,154.8 269.9,154.7 271.9,154.6 273.9,154.6 275.9,154.6 277.9,154.6 279.9,154.6 281.9,154.6 283.9,154.5 285.9,154.5 287.9,154.6 289.9,154.7 291.9,154.8 293.9,154.8 295.9,154.7 297.9,154.6 299.9,154.5 301.9,154.6 303.9,154.6 305.9,154.6 307.9,154.6 309.9,154.6 311.9,154.6 313.9,154.7 315.9,154.8 317.9,154.8 319.9,154.8 321.9,154.6 323.9,154.5 325.9,154.5 327.9,154.5 329.9,154.6 331.9,154.7 333.9,154.7 335.9,154.6 337.9,154.6 339.9,154.7 341.9,154.7 343.9,154.8 344.5,154.8 344.8,154.7 345.1,154.7 345.4,154.7 345.7,154.7 345.9,154.7 346.0,154.6 346.3,154.6 346.6,154.5 346.9,154.2 347.2,153.6 347.5,152.5 347.8,151.4 347.9,151.2 348.0,151.1 348.1,151.2 348.4,152.1 348.7,153.2 349.0,153.9 349.3,154.3 349.6,154.4 349.9,154.4 350.2,154.4 350.5,154.4 350.8,154.4 351.1,154.4 351.4,154.4 351.9,154.4 353.9,154.5 355.9,154.6 357.9,154.7 359.9,154.7 361.9,154.7 363.9,154.6 365.9,154.7 367.9,154.7 368.7,154.7 369.0,154.7 369.3,154.7 369.6,154.7 369.9,154.7 370.2,154.7 370.5,154.7 370.8,154.6 371.1,154.5 371.4,154.2 371.7,153.7 371.9,153.4 372.0,153.2 372.2,153.0 372.3,153.1 372.6,153.4 372.9,153.9 373.2,154.0 373.5,153.8 373.8,153.4 373.9,153.4 374.0,153.3 374.1,153.4 374.4,153.7 374.7,154.0 375.0,154.3 375.3,154.4 375.6,154.4 375.9,154.4 376.2,154.4 376.5,154.4 376.8,154.4 377.1,154.4 377.4,154.4 377.9,154.5 379.6,154.5"/>
<polyline fill="none" stroke="#e02a35" stroke-width="1.25" stroke-linejoin="round" points="35.9,157.3 37.9,157.5 39.9,157.5 41.9,157.6 43.9,157.6 45.9,157.8 47.9,157.9 49.9,158.0 51.9,158.1 53.9,158.0 55.9,158.0 57.9,157.9 59.9,158.0 61.9,158.2 63.9,158.3 65.9,158.3 67.9,158.3 69.1,158.2 69.3,158.2 69.4,158.2 69.6,158.2 69.7,158.2 69.9,158.2 69.9,158.1 70.0,158.1 70.2,158.1 70.3,158.0 70.5,158.0 70.6,157.9 70.8,157.8 70.9,157.7 71.1,157.4 71.2,156.9 71.4,155.9 71.5,154.2 71.7,151.6 71.8,148.1 71.9,145.9 72.0,144.0 72.1,140.4 72.3,138.5 72.3,138.5 72.4,139.4 72.6,142.5 72.7,146.5 72.9,150.4 73.0,153.4 73.2,155.4 73.3,156.7 73.5,157.3 73.6,157.7 73.8,157.9 73.9,158.0 73.9,158.0 74.1,158.1 74.2,158.2 74.4,158.3 74.5,158.3 74.7,158.4 74.8,158.4 75.0,158.4 75.1,158.4 75.3,158.5 75.4,158.5 75.9,158.5 77.9,158.6 79.9,158.6 81.9,158.5 83.9,158.5 85.9,158.5 87.9,158.7 89.9,158.8 91.9,158.9 93.9,158.8 95.9,158.8 97.9,158.8 99.9,158.9 101.9,159.0 103.9,158.9 105.9,158.9 107.9,158.8 109.9,158.8 111.9,158.9 113.9,159.0 115.9,159.1 117.9,159.1 119.9,159.1 121.9,159.0 123.9,159.0 125.9,159.1 127.9,159.1 129.9,159.1 131.9,159.0 133.9,159.0 135.9,159.0 137.9,159.0 139.5,159.1 139.8,159.2 139.9,159.2 140.1,159.2 140.4,159.2 140.7,159.2 141.0,159.2 141.3,159.2 141.6,159.2 141.9,159.1 142.2,158.9 142.5,158.6 142.8,158.1 143.1,157.7 143.2,157.7 143.4,157.8 143.7,158.3 143.9,158.6 144.0,158.7 144.3,159.0 144.6,159.2 144.9,159.2 145.2,159.2 145.5,159.2 145.8,159.2 145.9,159.2 146.1,159.2 146.4,159.2 146.7,159.2 147.0,159.1 147.3,159.1 147.6,159.0 147.9,158.8 148.2,158.5 148.5,158.3 148.8,158.1 149.1,158.2 149.4,158.5 149.7,158.8 149.9,158.9 150.0,158.9 150.3,159.0 150.6,159.1 150.9,159.1 151.2,159.1 151.5,159.1 151.8,159.1 151.9,159.1 152.1,159.1 152.4,159.1 153.9,159.2 154.9,159.2 155.2,159.1 155.5,159.1 155.8,159.1 155.9,159.1 156.1,159.1 156.4,159.1 156.7,159.0 157.0,158.9 157.3,158.6 157.6,157.9 157.9,156.6 158.2,155.3 158.4,154.9 158.5,155.0 158.8,156.1 159.1,157.5 159.4,158.4 159.7,158.8 159.9,158.9 160.0,158.9 160.3,159.0 160.6,159.0 160.9,159.0 161.2,159.0 161.5,159.0 161.8,159.1 161.9,159.1 163.9,159.2 165.9,159.3 167.9,159.4 169.9,159.4 171.9,159.3 173.4,159.2 173.7,159.2 173.9,159.2 174.0,159.2 174.3,159.1 174.6,159.1 174.9,159.1 175.2,159.1 175.5,159.0 175.8,158.8 175.9,158.7 176.1,158.4 176.4,157.6 176.7,156.8 176.9,156.5 177.0,156.6 177.3,157.3 177.6,158.1 177.9,158.7 178.2,159.0 178.5,159.1 178.8,159.1 179.1,159.1 179.4,159.2 179.7,159.2 179.9,159.2 180.0,159.2 180.3,159.2 181.9,159.2 183.9,159.2 185.9,159.2 187.9,159.2 189.9,159.2 191.9,159.3 193.9,159.2 195.0,159.0 195.2,159.0 195.3,158.9 195.4,158.9 195.6,158.8 195.8,158.7 195.9,158.6 196.1,158.5 196.2,158.4 196.3,158.2 196.5,158.0 196.7,157.6 196.8,157.1 196.9,156.1 197.1,154.3 197.2,150.7 197.4,144.7 197.6,135.4 197.7,123.4 197.8,110.7 197.9,107.0 198.0,101.4 198.1,99.3 198.2,99.8 198.3,107.0 198.4,119.0 198.6,131.6 198.8,141.9 198.9,148.9 199.1,153.2 199.2,155.5 199.3,156.7 199.5,157.3 199.7,157.7 199.8,157.9 199.9,158.0 199.9,158.1 200.1,158.2 200.2,158.4 200.4,158.4 200.6,158.5 200.7,158.6 200.8,158.6 201.0,158.7 201.2,158.7 201.9,158.9 203.9,159.0 205.9,159.2 207.9,159.3 209.9,159.3 211.9,159.3 213.9,159.3 215.9,159.3 217.9,159.4 219.9,159.4 220.7,159.4 221.0,159.4 221.3,159.4 221.6,159.4 221.9,159.4 222.2,159.4 222.5,159.3 222.8,159.3 223.1,159.1 223.4,158.8 223.7,158.2 223.9,157.8 224.0,157.6 224.1,157.5 224.2,157.5 224.3,157.5 224.4,157.6 224.6,158.0 224.7,158.2 224.9,158.5 225.0,158.7 225.2,158.9 225.3,159.0 225.5,159.0 225.6,159.1 225.8,159.1 225.9,159.1 226.1,159.0 226.2,159.0 226.4,159.0 226.5,158.9 226.7,158.7 226.8,158.6 227.0,158.2 227.1,158.0 227.3,157.6 227.4,157.5 227.6,157.3 227.7,157.4 227.9,157.6 228.0,157.8 228.3,158.4 228.6,158.8 228.9,159.0 229.2,159.1 229.5,159.1 229.8,159.1 229.9,159.1 230.1,159.1 230.4,159.2 230.7,159.2 231.0,159.2 231.9,159.3 233.9,159.4 235.9,159.4 237.9,159.3 239.9,159.3 241.9,159.3 243.9,159.4 245.9,159.4 247.9,159.4 249.9,159.3 251.9,159.2 253.9,159.1 255.9,159.2 257.9,159.3 259.9,159.4 261.9,159.4 263.9,159.4 265.9,159.3 267.9,159.3 269.9,159.3 271.9,159.4 273.9,159.4 275.9,159.3 277.9,159.2 279.9,159.2 281.9,159.2 283.9,159.3 285.9,159.5 287.9,159.5 289.9,159.4 291.9,159.3 293.9,159.3 295.9,159.3 297.9,159.3 299.9,159.3 301.9,159.3 303.9,159.2 305.9,159.2 307.9,159.3 309.9,159.4 311.9,159.5 313.9,159.5 315.9,159.4 317.9,159.3 319.9,159.2 321.9,159.3 323.9,159.3 325.9,159.3 327.9,159.3 329.9,159.2 331.9,159.2 333.9,159.3 335.9,159.4 337.9,159.5 339.9,159.5 341.9,159.4 343.9,159.2 344.5,159.2 344.8,159.2 345.1,159.2 345.4,159.2 345.7,159.1 345.9,159.1 346.0,159.1 346.3,159.1 346.6,159.0 346.9,158.7 347.2,158.2 347.5,157.1 347.8,156.0 347.9,155.8 348.0,155.7 348.1,155.8 348.4,156.7 348.7,157.9 349.0,158.6 349.3,159.0 349.6,159.1 349.9,159.2 350.2,159.2 350.5,159.2 350.8,159.3 351.1,159.3 351.4,159.3 351.9,159.3 353.9,159.3 355.9,159.3 357.9,159.3 359.9,159.3 361.9,159.4 363.9,159.5 365.9,159.5 367.9,159.4 368.7,159.3 369.0,159.3 369.3,159.2 369.6,159.2 369.9,159.2 370.2,159.2 370.5,159.1 370.8,159.1 371.1,159.0 371.4,158.7 371.7,158.2 371.9,157.8 372.0,157.7 372.2,157.5 372.3,157.6 372.6,158.0 372.9,158.4 373.2,158.5 373.5,158.3 373.8,158.0 373.9,158.0 374.0,157.9 374.1,158.0 374.4,158.3 374.7,158.7 375.0,159.0 375.3,159.1 375.6,159.2 375.9,159.2 376.2,159.3 376.5,159.3 376.8,159.3 377.1,159.3 377.4,159.3 377.9,159.3 379.6,159.4"/>
<polyline fill="none" stroke="#8c35d9" stroke-width="1.25" stroke-linejoin="round" points="35.9,162.0 37.9,162.0 39.9,162.1 41.9,162.3 43.9,162.5 45.9,162.6 47.9,162.6 49.9,162.6 51.9,162.5 53.9,162.6 55.9,162.7 57.9,162.8 59.9,162.8 61.9,162.9 63.9,162.9 65.9,162.9 67.9,163.0 69.1,163.1 69.3,163.1 69.4,163.0 69.6,163.0 69.7,163.0 69.9,163.0 69.9,163.0 70.0,163.0 70.2,163.0 70.3,162.9 70.5,162.9 70.6,162.8 70.8,162.7 70.9,162.5 71.1,162.3 71.2,161.7 71.4,160.8 71.5,159.1 71.7,156.5 71.8,152.9 71.9,150.8 72.0,148.9 72.1,145.2 72.3,143.4 72.3,143.3 72.4,144.2 72.6,147.3 72.7,151.3 72.9,155.1 73.0,158.1 73.2,160.2 73.3,161.4 73.5,162.1 73.6,162.4 73.8,162.6 73.9,162.7 73.9,162.7 74.1,162.8 74.2,162.9 74.4,162.9 74.5,162.9 74.7,163.0 74.8,163.0 75.0,163.0 75.1,163.0 75.3,163.0 75.4,163.0 75.9,163.0 77.9,163.1 79.9,163.1 81.9,163.2 83.9,163.3 85.9,163.4 87.9,163.4 89.9,163.4 91.9,163.4 93.9,163.5 95.9,163.6 97.9,163.7 99.9,163.6 101.9,163.5 103.9,163.4 105.9,163.4 107.9,163.6 109.9,163.7 111.9,163.7 113.9,163.7 115.9,163.7 117.9,163.7 119.9,163.8 121.9,163.8 123.9,163.8 125.9,163.8 127.9,163.7 129.9,163.6 131.9,163.6 133.9,163.8 135.9,163.9 137.9,163.9 139.5,163.9 139.8,163.9 139.9,163.9 140.1,163.9 140.4,163.9 140.7,163.9 141.0,163.8 141.3,163.8 141.6,163.8 141.9,163.7 142.2,163.5 142.5,163.1 142.8,162.6 143.1,162.3 143.2,162.2 143.4,162.3 143.7,162.8 143.9,163.1 144.0,163.2 144.3,163.5 144.6,163.7 144.9,163.8 145.2,163.8 145.5,163.8 145.8,163.8 145.9,163.8 146.1,163.8 146.4,163.8 146.7,163.8 147.0,163.8 147.3,163.8 147.6,163.7 147.9,163.6 148.2,163.3 148.5,163.0 148.8,162.9 149.1,163.0 149.4,163.3 149.7,163.6 149.9,163.7 150.0,163.7 150.3,163.8 150.6,163.8 150.9,163.8 151.2,163.8 151.5,163.8 151.8,163.8 151.9,163.8 152.1,163.8 152.4,163.8 153.9,163.7 154.9,163.7 155.2,163.7 155.5,163.7 155.8,163.7 155.9,163.6 156.1,163.6 156.4,163.6 156.7,163.6 157.0,163.5 157.3,163.2 157.6,162.5 157.9,161.2 158.2,159.9 158.4,159.6 158.5,159.7 158.8,160.8 159.1,162.2 159.4,163.1 159.7,163.6 159.9,163.7 160.0,163.7 160.3,163.8 160.6,163.8 160.9,163.9 161.2,163.9 161.5,163.9 161.8,164.0 161.9,164.0 163.9,164.0 165.9,164.0 167.9,163.9 169.9,163.9 171.9,163.9 173.4,163.9 173.7,163.9 173.9,163.9 174.0,163.9 174.3,163.9 174.6,163.9 174.9,163.9 175.2,163.9 175.5,163.8 175.8,163.6 175.9,163.5 176.1,163.2 176.4,162.4 176.7,161.6 176.9,161.3 177.0,161.4 177.3,162.1 177.6,162.9 177.9,163.5 178.2,163.7 178.5,163.8 178.8,163.8 179.1,163.8 179.4,163.8 179.7,163.8 179.9,163.8 180.0,163.8 180.3,163.8 181.9,163.8 183.9,163.8 185.9,163.9 187.9,164.1 189.9,164.1 191.9,164.0 193.9,163.7 195.0,163.5 195.2,163.5 195.3,163.4 195.4,163.3 195.6,163.3 195.8,163.2 195.9,163.1 196.1,163.0 196.2,162.8 196.3,162.7 196.5,162.4 196.7,162.1 196.8,161.6 196.9,160.6 197.1,158.8 197.2,155.3 197.4,149.2 197.6,139.9 197.7,127.9 197.8,115.3 197.9,111.6 198.0,106.0 198.1,103.9 198.2,104.4 198.3,111.6 198.4,123.7 198.6,136.2 198.8,146.5 198.9,153.6 199.1,157.9 199.2,160.2 199.3,161.4 199.5,162.0 199.7,162.4 199.8,162.6 199.9,162.8 199.9,162.8 200.1,163.0 200.2,163.1 200.4,163.2 200.6,163.3 200.7,163.4 200.8,163.4 201.0,163.5 201.2,163.5 201.9,163.7 203.9,163.8 205.9,163.8 207.9,163.8 209.9,163.9 211.9,164.0 213.9,164.1 215.9,164.2 217.9,164.1 219.9,163.9 220.7,163.9 221.0,163.9 221.3,163.9 221.6,163.8 221.9,163.8 222.2,163.8 222.5,163.8 222.8,163.7 223.1,163.6 223.4,163.3 223.7,162.8 223.9,162.4 224.0,162.2 224.1,162.1 224.2,162.1 224.3,162.1 224.4,162.2 224.6,162.6 224.7,162.8 224.9,163.2 225.0,163.3 225.2,163.6 225.3,163.6 225.5,163.7 225.6,163.8 225.8,163.8 225.9,163.8 226.1,163.8 226.2,163.8 226.4,163.7 226.5,163.7 226.7,163.5 226.8,163.4 227.0,163.1 227.1,162.9 227.3,162.5 227.4,162.3 227.6,162.2 227.7,162.2 227.9,162.5 228.0,162.7 228.3,163.3 228.6,163.7 228.9,163.9 229.2,163.9 229.5,164.0 229.8,164.0 229.9,164.0 230.1,164.0 230.4,164.0 230.7,164.0 231.0,164.0 231.9,164.0 233.9,163.9 235.9,164.0 237.9,164.1 239.9,164.1 241.9,164.2 243.9,164.1 245.9,163.9 247.9,163.8 249.9,163.9 251.9,163.9 253.9,164.0 255.9,164.1 257.9,164.0 259.9,164.0 261.9,164.0 263.9,164.1 265.9,164.1 267.9,164.1 269.9,164.0 271.9,163.9 273.9,163.8 275.9,163.9 277.9,164.0 279.9,164.1 281.9,164.1 283.9,164.1 285.9,164.0 287.9,164.0 289.9,164.0 291.9,164.1 293.9,164.1 295.9,164.0 297.9,163.9 299.9,163.8 301.9,163.9 303.9,164.0 305.9,164.1 307.9,164.2 309.9,164.1 311.9,164.0 313.9,164.0 315.9,164.0 317.9,164.0 319.9,164.0 321.9,164.0 323.9,163.9 325.9,163.9 327.9,163.9 329.9,164.0 331.9,164.1 333.9,164.2 335.9,164.1 337.9,164.0 339.9,164.0 341.9,163.9 343.9,164.0 344.5,164.0 344.8,164.0 345.1,164.0 345.4,164.0 345.7,164.0 345.9,163.9 346.0,163.9 346.3,163.9 346.6,163.8 346.9,163.6 347.2,163.0 347.5,161.9 347.8,160.8 347.9,160.6 348.0,160.5 348.1,160.6 348.4,161.5 348.7,162.6 349.0,163.4 349.3,163.7 349.6,163.8 349.9,163.8 350.2,163.9 350.5,163.9 350.8,163.9 351.1,163.9 351.4,163.9 351.9,163.9 353.9,163.9 355.9,164.0 357.9,164.2 359.9,164.2 361.9,164.1 363.9,164.0 365.9,163.9 367.9,163.9 368.7,163.9 369.0,163.9 369.3,163.9 369.6,163.9 369.9,163.9 370.2,163.9 370.5,163.9 370.8,163.9 371.1,163.8 371.4,163.5 371.7,163.0 371.9,162.7 372.0,162.5 372.2,162.4 372.3,162.4 372.6,162.8 372.9,163.2 373.2,163.4 373.5,163.2 373.8,162.9 373.9,162.8 374.0,162.8 374.1,162.8 374.4,163.1 374.7,163.5 375.0,163.8 375.3,163.9 375.6,163.9 375.9,163.9 376.2,163.9 376.5,163.9 376.8,163.9 377.1,163.9 377.4,163.9 377.9,163.9 379.6,164.0"/>
<polyline fill="none" stroke="#f0a236" stroke-width="1.25" stroke-linejoin="round" points="35.9,166.7 37.9,166.9 39.9,167.1 41.9,167.1 43.9,167.1 45.9,167.1 47.9,167.2 49.9,167.3 51.9,167.3 53.9,167.4 55.9,167.4 57.9,167.4 59.9,167.4 61.9,167.6 63.9,167.7 65.9,167.8 67.9,167.8 69.1,167.7 69.3,167.7 69.4,167.7 69.6,167.6 69.7,167.6 69.9,167.6 69.9,167.6 70.0,167.5 70.2,167.5 70.3,167.5 70.5,167.4 70.6,167.3 70.8,167.2 70.9,167.0 71.1,166.8 71.2,166.2 71.4,165.2 71.5,163.6 71.7,160.9 71.8,157.4 71.9,155.2 72.0,153.3 72.1,149.7 72.3,147.8 72.3,147.8 72.4,148.6 72.6,151.7 72.7,155.8 72.9,159.6 73.0,162.6 73.2,164.7 73.3,165.9 73.5,166.6 73.6,166.9 73.8,167.1 73.9,167.2 73.9,167.3 74.1,167.3 74.2,167.4 74.4,167.5 74.5,167.5 74.7,167.5 74.8,167.6 75.0,167.6 75.1,167.6 75.3,167.7 75.4,167.7 75.9,167.7 77.9,167.9 79.9,167.9 81.9,167.9 83.9,167.9 85.9,168.0 87.9,168.1 89.9,168.2 91.9,168.3 93.9,168.3 95.9,168.2 97.9,168.1 99.9,168.1 101.9,168.2 103.9,168.3 105.9,168.3 107.9,168.3 109.9,168.3 111.9,168.3 113.9,168.4 115.9,168.5 117.9,168.5 119.9,168.5 121.9,168.4 123.9,168.3 125.9,168.3 127.9,168.4 129.9,168.5 131.9,168.5 133.9,168.5 135.9,168.5 137.9,168.5 139.5,168.5 139.8,168.5 139.9,168.5 140.1,168.5 140.4,168.5 140.7,168.5 141.0,168.6 141.3,168.5 141.6,168.5 141.9,168.5 142.2,168.3 142.5,167.9 142.8,167.4 143.1,167.1 143.2,167.0 143.4,167.2 143.7,167.6 143.9,167.9 144.0,168.1 144.3,168.4 144.6,168.5 144.9,168.6 145.2,168.6 145.5,168.6 145.8,168.6 145.9,168.6 146.1,168.5 146.4,168.5 146.7,168.5 147.0,168.5 147.3,168.4 147.6,168.3 147.9,168.1 148.2,167.9 148.5,167.6 148.8,167.4 149.1,167.5 149.4,167.8 149.7,168.0 149.9,168.2 150.0,168.2 150.3,168.3 150.6,168.3 150.9,168.3 151.2,168.3 151.5,168.3 151.8,168.4 151.9,168.4 152.1,168.4 152.4,168.4 153.9,168.4 154.9,168.5 155.2,168.5 155.5,168.5 155.8,168.5 155.9,168.5 156.1,168.5 156.4,168.5 156.7,168.5 157.0,168.4 157.3,168.1 157.6,167.4 157.9,166.2 158.2,164.8 158.4,164.5 158.5,164.6 158.8,165.7 159.1,167.1 159.4,168.0 159.7,168.4 159.9,168.5 160.0,168.5 160.3,168.6 160.6,168.6 160.9,168.6 161.2,168.6 161.5,168.6 161.8,168.6 161.9,168.6 163.9,168.6 165.9,168.6 167.9,168.7 169.9,168.7 171.9,168.6 173.4,168.5 173.7,168.5 173.9,168.5 174.0,168.5 174.3,168.5 174.6,168.5 174.9,168.4 175.2,168.4 175.5,168.3 175.8,168.1 175.9,168.0 176.1,167.7 176.4,166.9 176.7,166.1 176.9,165.8 177.0,165.9 177.3,166.6 177.6,167.5 177.9,168.0 178.2,168.3 178.5,168.4 178.8,168.4 179.1,168.5 179.4,168.5 179.7,168.5 179.9,168.5 180.0,168.5 180.3,168.6 181.9,168.7 183.9,168.7 185.9,168.7 187.9,168.7 189.9,168.6 191.9,168.5 193.9,168.4 195.0,168.3 195.2,168.2 195.3,168.2 195.4,168.1 195.6,168.1 195.8,168.0 195.9,167.9 196.1,167.8 196.2,167.6 196.3,167.5 196.5,167.2 196.7,166.9 196.8,166.4 196.9,165.4 197.1,163.6 197.2,160.1 197.4,154.0 197.6,144.7 197.7,132.7 197.8,120.1 197.9,116.3 198.0,110.7 198.1,108.6 198.2,109.2 198.3,116.3 198.4,128.4 198.6,140.9 198.8,151.2 198.9,158.3 199.1,162.6 199.2,164.9 199.3,166.0 199.5,166.7 199.7,167.0 199.8,167.3 199.9,167.4 199.9,167.5 200.1,167.6 200.2,167.7 200.4,167.8 200.6,167.9 200.7,168.0 200.8,168.0 201.0,168.1 201.2,168.1 201.9,168.2 203.9,168.4 205.9,168.6 207.9,168.7 209.9,168.8 211.9,168.8 213.9,168.7 215.9,168.6 217.9,168.6 219.9,168.6 220.7,168.6 221.0,168.6 221.3,168.6 221.6,168.6 221.9,168.6 222.2,168.6 222.5,168.6 222.8,168.6 223.1,168.4 223.4,168.1 223.7,167.6 223.9,167.2 224.0,167.0 224.1,166.9 224.2,166.9 224.3,166.9 224.4,167.0 224.6,167.4 224.7,167.6 224.9,167.9 225.0,168.1 225.2,168.3 225.3,168.4 225.5,168.5 225.6,168.5 225.8,168.5 225.9,168.5 226.1,168.5 226.2,168.5 226.4,168.4 226.5,168.3 226.7,168.2 226.8,168.0 227.0,167.7 227.1,167.5 227.3,167.1 227.4,166.9 227.6,166.8 227.7,166.8 227.9,167.1 228.0,167.3 228.3,167.9 228.6,168.3 228.9,168.4 229.2,168.5 229.5,168.5 229.8,168.5 229.9,168.6 230.1,168.6 230.4,168.6 230.7,168.6 231.0,168.6 231.9,168.7 233.9,168.8 235.9,168.9 237.9,168.8 239.9,168.7 241.9,168.6 243.9,168.6 245.9,168.6 247.9,168.7 249.9,168.7 251.9,168.7 253.9,168.6 255.9,168.6 257.9,168.7 259.9,168.8 261.9,168.9 263.9,168.8 265.9,168.7 267.9,168.6 269.9,168.5 271.9,168.6 273.9,168.7 275.9,168.7 277.9,168.7 279.9,168.7 281.9,168.7 283.9,168.7 285.9,168.8 287.9,168.8 289.9,168.8 291.9,168.7 293.9,168.6 295.9,168.5 297.9,168.6 299.9,168.7 301.9,168.8 303.9,168.8 305.9,168.7 307.9,168.7 309.9,168.7 311.9,168.8 313.9,168.8 315.9,168.8 317.9,168.6 319.9,168.5 321.9,168.5 323.9,168.6 325.9,168.7 327.9,168.8 329.9,168.8 331.9,168.8 333.9,168.7 335.9,168.7 337.9,168.7 339.9,168.8 341.9,168.7 343.9,168.6 344.5,168.6 344.8,168.6 345.1,168.5 345.4,168.5 345.7,168.5 345.9,168.5 346.0,168.5 346.3,168.4 346.6,168.3 346.9,168.1 347.2,167.5 347.5,166.5 347.8,165.4 347.9,165.1 348.0,165.1 348.1,165.1 348.4,166.1 348.7,167.2 349.0,168.0 349.3,168.4 349.6,168.5 349.9,168.6 350.2,168.6 350.5,168.6 350.8,168.7 351.1,168.7 351.4,168.7 351.9,168.8 353.9,168.9 355.9,168.8 357.9,168.8 359.9,168.7 361.9,168.7 363.9,168.7 365.9,168.7 367.9,168.7 368.7,168.7 369.0,168.7 369.3,168.6 369.6,168.6 369.9,168.6 370.2,168.6 370.5,168.6 370.8,168.5 371.1,168.4 371.4,168.1 371.7,167.6 371.9,167.2 372.0,167.1 372.2,166.9 372.3,167.0 372.6,167.4 372.9,167.8 373.2,167.9 373.5,167.7 373.8,167.4 373.9,167.4 374.0,167.3 374.1,167.4 374.4,167.7 374.7,168.1 375.0,168.4 375.3,168.5 375.6,168.6 375.9,168.6 376.2,168.7 376.5,168.7 376.8,168.7 377.1,168.7 377.4,168.8 377.9,168.8 379.6,168.9"/>
<polyline fill="none" stroke="#3b9a45" stroke-width="1.25" stroke-linejoin="round" points="35.9,171.5 37.9,171.6 39.9,171.6 41.9,171.7 43.9,171.8 45.9,171.9 47.9,171.9 49.9,171.9 51.9,171.9 53.9,171.9 55.9,172.0 57.9,172.2 59.9,172.4 61.9,172.4 63.9,172.4 65.9,172.4 67.9,172.3 69.1,172.3 69.3,172.3 69.4,172.3 69.6,172.3 69.7,172.3 69.9,172.2 69.9,172.2 70.0,172.2 70.2,172.2 70.3,172.1 70.5,172.1 70.6,172.0 70.8,171.9 70.9,171.8 71.1,171.5 71.2,171.0 71.4,170.0 71.5,168.3 71.7,165.7 71.8,162.2 71.9,160.0 72.0,158.1 72.1,154.5 72.3,152.6 72.3,152.6 72.4,153.4 72.6,156.5 72.7,160.6 72.9,164.4 73.0,167.4 73.2,169.5 73.3,170.7 73.5,171.4 73.6,171.7 73.8,171.9 73.9,172.0 73.9,172.0 74.1,172.1 74.2,172.2 74.4,172.2 74.5,172.3 74.7,172.3 74.8,172.3 75.0,172.4 75.1,172.4 75.3,172.4 75.4,172.4 75.9,172.4 77.9,172.4 79.9,172.5 81.9,172.6 83.9,172.8 85.9,172.9 87.9,172.9 89.9,172.9 91.9,172.8 93.9,172.8 95.9,172.8 97.9,172.9 99.9,172.9 101.9,172.9 103.9,172.9 105.9,172.9 107.9,173.0 109.9,173.1 111.9,173.2 113.9,173.2 115.9,173.1 117.9,173.0 119.9,173.0 121.9,173.0 123.9,173.1 125.9,173.1 127.9,173.1 129.9,173.1 131.9,173.1 133.9,173.2 135.9,173.3 137.9,173.4 139.5,173.3 139.8,173.3 139.9,173.3 140.1,173.3 140.4,173.3 140.7,173.3 141.0,173.3 141.3,173.2 141.6,173.2 141.9,173.1 142.2,172.9 142.5,172.5 142.8,172.0 143.1,171.6 143.2,171.6 143.4,171.7 143.7,172.1 143.9,172.4 144.0,172.5 144.3,172.8 144.6,173.0 144.9,173.0 145.2,173.0 145.5,173.0 145.8,173.0 145.9,173.0 146.1,173.0 146.4,173.0 146.7,173.0 147.0,173.0 147.3,173.0 147.6,172.9 147.9,172.8 148.2,172.5 148.5,172.3 148.8,172.1 149.1,172.3 149.4,172.6 149.7,172.8 149.9,173.0 150.0,173.0 150.3,173.1 150.6,173.2 150.9,173.2 151.2,173.2 151.5,173.2 151.8,173.2 151.9,173.2 152.1,173.3 152.4,173.3 153.9,173.3 154.9,173.2 155.2,173.2 155.5,173.2 155.8,173.2 155.9,173.2 156.1,173.2 156.4,173.1 156.7,173.1 157.0,173.0 157.3,172.7 157.6,172.0 157.9,170.7 158.2,169.4 158.4,169.0 158.5,169.1 158.8,170.3 159.1,171.6 159.4,172.6 159.7,173.0 159.9,173.1 160.0,173.1 160.3,173.2 160.6,173.2 160.9,173.3 161.2,173.3 161.5,173.3 161.8,173.3 161.9,173.3 163.9,173.4 165.9,173.4 167.9,173.3 169.9,173.2 171.9,173.1 173.4,173.1 173.7,173.1 173.9,173.1 174.0,173.2 174.3,173.2 174.6,173.2 174.9,173.2 175.2,173.2 175.5,173.1 175.8,172.9 175.9,172.8 176.1,172.5 176.4,171.8 176.7,171.0 176.9,170.7 177.0,170.8 177.3,171.5 177.6,172.4 177.9,172.9 178.2,173.2 178.5,173.3 178.8,173.3 179.1,173.3 179.4,173.4 179.7,173.4 179.9,173.4 180.0,173.4 180.3,173.4 181.9,173.4 183.9,173.3 185.9,173.3 187.9,173.4 189.9,173.4 191.9,173.3 193.9,173.1 195.0,172.8 195.2,172.8 195.3,172.7 195.4,172.7 195.6,172.6 195.8,172.5 195.9,172.4 196.1,172.3 196.2,172.1 196.3,172.0 196.5,171.7 196.7,171.4 196.8,170.9 196.9,169.9 197.1,168.1 197.2,164.5 197.4,158.5 197.6,149.2 197.7,137.2 197.8,124.6 197.9,120.9 198.0,115.2 198.1,113.2 198.2,113.7 198.3,120.9 198.4,132.9 198.6,145.5 198.8,155.8 198.9,162.9 199.1,167.1 199.2,169.5 199.3,170.7 199.5,171.3 199.7,171.7 199.8,171.9 199.9,172.1 199.9,172.1 200.1,172.3 200.2,172.4 200.4,172.5 200.6,172.6 200.7,172.7 200.8,172.8 201.0,172.8 201.2,172.9 201.9,173.1 203.9,173.3 205.9,173.4 207.9,173.4 209.9,173.3 211.9,173.3 213.9,173.4 215.9,173.4 217.9,173.4 219.9,173.3 220.7,173.3 221.0,173.2 221.3,173.2 221.6,173.2 221.9,173.2 222.2,173.2 222.5,173.1 222.8,173.1 223.1,173.0 223.4,172.7 223.7,172.1 223.9,171.7 224.0,171.5 224.1,171.4 224.2,171.4 224.3,171.4 224.4,171.6 224.6,171.9 224.7,172.1 224.9,172.5 225.0,172.7 225.2,172.9 225.3,173.0 225.5,173.1 225.6,173.1 225.8,173.2 225.9,173.2 226.1,173.2 226.2,173.2 226.4,173.1 226.5,173.1 226.7,172.9 226.8,172.8 227.0,172.5 227.1,172.3 227.3,171.9 227.4,171.7 227.6,171.6 227.7,171.6 227.9,171.9 228.0,172.1 228.3,172.7 228.6,173.1 228.9,173.3 229.2,173.4 229.5,173.4 229.8,173.5 229.9,173.5 230.1,173.5 230.4,173.5 230.7,173.5 231.0,173.5 231.9,173.5 233.9,173.5 235.9,173.4 237.9,173.3 239.9,173.3 241.9,173.4 243.9,173.4 245.9,173.3 247.9,173.3 249.9,173.3 251.9,173.3 253.9,173.5 255.9,173.6 257.9,173.6 259.9,173.5 261.9,173.4 263.9,173.3 265.9,173.3 267.9,173.4 269.9,173.4 271.9,173.4 273.9,173.3 275.9,173.3 277.9,173.4 279.9,173.5 281.9,173.6 283.9,173.5 285.9,173.4 287.9,173.3 289.9,173.3 291.9,173.3 293.9,173.4 295.9,173.4 297.9,173.4 299.9,173.4 301.9,173.4 303.9,173.4 305.9,173.5 307.9,173.6 309.9,173.5 311.9,173.4 313.9,173.3 315.9,173.2 317.9,173.3 319.9,173.4 321.9,173.4 323.9,173.5 325.9,173.4 327.9,173.4 329.9,173.4 331.9,173.5 333.9,173.5 335.9,173.5 337.9,173.4 339.9,173.3 341.9,173.2 343.9,173.2 344.5,173.3 344.8,173.3 345.1,173.3 345.4,173.3 345.7,173.3 345.9,173.3 346.0,173.3 346.3,173.3 346.6,173.2 346.9,173.0 347.2,172.4 347.5,171.4 347.8,170.3 347.9,170.1 348.0,170.0 348.1,170.1 348.4,171.0 348.7,172.1 349.0,172.9 349.3,173.2 349.6,173.4 349.9,173.4 350.2,173.4 350.5,173.4 350.8,173.4 351.1,173.4 351.4,173.4 351.9,173.4 353.9,173.4 355.9,173.4 357.9,173.4 359.9,173.5 361.9,173.4 363.9,173.4 365.9,173.3 367.9,173.2 368.7,173.2 369.0,173.2 369.3,173.2 369.6,173.2 369.9,173.3 370.2,173.3 370.5,173.3 370.8,173.2 371.1,173.1 371.4,172.9 371.7,172.4 371.9,172.1 372.0,171.9 372.2,171.8 372.3,171.8 372.6,172.2 372.9,172.7 373.2,172.9 373.5,172.7 373.8,172.4 373.9,172.3 374.0,172.3 374.1,172.3 374.4,172.6 374.7,173.1 375.0,173.3 375.3,173.4 375.6,173.5 375.9,173.5 376.2,173.5 376.5,173.5 376.8,173.5 377.1,173.5 377.4,173.5 377.9,173.5 379.6,173.4"/>
<polyline fill="none" stroke="#2a2ad6" stroke-width="1.25" stroke-linejoin="round" points="35.9,176.1 37.9,176.3 39.9,176.4 41.9,176.5 43.9,176.5 45.9,176.4 47.9,176.4 49.9,176.5 51.9,176.7 53.9,176.8 55.9,176.9 57.9,176.9 59.9,176.9 61.9,177.0 63.9,177.1 65.9,177.1 67.9,177.1 69.1,177.0 69.3,177.0 69.4,177.0 69.6,177.0 69.7,177.0 69.9,176.9 69.9,176.9 70.0,176.9 70.2,176.8 70.3,176.8 70.5,176.7 70.6,176.6 70.8,176.5 70.9,176.4 71.1,176.1 71.2,175.6 71.4,174.6 71.5,172.9 71.7,170.3 71.8,166.7 71.9,164.6 72.0,162.7 72.1,159.0 72.3,157.1 72.3,157.1 72.4,158.0 72.6,161.1 72.7,165.1 72.9,168.9 73.0,171.9 73.2,174.0 73.3,175.2 73.5,175.9 73.6,176.2 73.8,176.4 73.9,176.5 73.9,176.5 74.1,176.6 74.2,176.7 74.4,176.7 74.5,176.8 74.7,176.8 74.8,176.9 75.0,176.9 75.1,176.9 75.3,176.9 75.4,177.0 75.9,177.0 77.9,177.2 79.9,177.4 81.9,177.5 83.9,177.5 85.9,177.5 87.9,177.5 89.9,177.5 91.9,177.6 93.9,177.6 95.9,177.5 97.9,177.5 99.9,177.5 101.9,177.5 103.9,177.7 105.9,177.8 107.9,177.9 109.9,177.8 111.9,177.7 113.9,177.7 115.9,177.7 117.9,177.8 119.9,177.8 121.9,177.8 123.9,177.7 125.9,177.7 127.9,177.8 129.9,177.9 131.9,178.0 133.9,178.0 135.9,178.0 137.9,177.9 139.5,177.8 139.8,177.8 139.9,177.8 140.1,177.8 140.4,177.8 140.7,177.8 141.0,177.8 141.3,177.7 141.6,177.7 141.9,177.6 142.2,177.5 142.5,177.1 142.8,176.6 143.1,176.3 143.2,176.2 143.4,176.4 143.7,176.8 143.9,177.1 144.0,177.3 144.3,177.6 144.6,177.8 144.9,177.8 145.2,177.8 145.5,177.9 145.8,177.9 145.9,177.9 146.1,177.9 146.4,177.9 146.7,177.9 147.0,177.9 147.3,177.8 147.6,177.7 147.9,177.6 148.2,177.3 148.5,177.0 148.8,176.9 149.1,177.0 149.4,177.3 149.7,177.5 149.9,177.6 150.0,177.7 150.3,177.8 150.6,177.8 150.9,177.8 151.2,177.8 151.5,177.8 151.8,177.8 151.9,177.8 152.1,177.8 152.4,177.8 153.9,177.9 154.9,177.9 155.2,177.9 155.5,177.9 155.8,177.9 155.9,177.9 156.1,177.9 156.4,177.9 156.7,177.9 157.0,177.8 157.3,177.5 157.6,176.8 157.9,175.6 158.2,174.3 158.4,173.9 158.5,174.0 158.8,175.1 159.1,176.5 159.4,177.4 159.7,177.8 159.9,177.9 160.0,178.0 160.3,178.0 160.6,178.0 160.9,178.0 161.2,178.0 161.5,178.0 161.8,178.0 161.9,178.0 163.9,177.9 165.9,177.8 167.9,177.8 169.9,177.9 171.9,178.0 173.4,178.0 173.7,178.0 173.9,178.0 174.0,178.0 174.3,178.0 174.6,178.0 174.9,177.9 175.2,177.9 175.5,177.8 175.8,177.7 175.9,177.5 176.1,177.2 176.4,176.4 176.7,175.6 176.9,175.4 177.0,175.4 177.3,176.1 177.6,177.0 177.9,177.5 178.2,177.8 178.5,177.9 178.8,177.9 179.1,177.9 179.4,177.9 179.7,178.0 179.9,178.0 180.0,178.0 180.3,178.0 181.9,178.1 183.9,178.1 185.9,178.1 187.9,178.0 189.9,177.9 191.9,177.8 193.9,177.7 195.0,177.5 195.2,177.5 195.3,177.4 195.4,177.4 195.6,177.3 195.8,177.3 195.9,177.2 196.1,177.1 196.2,176.9 196.3,176.8 196.5,176.6 196.7,176.2 196.8,175.7 196.9,174.8 197.1,172.9 197.2,169.4 197.4,163.4 197.6,154.1 197.7,142.1 197.8,129.5 197.9,125.7 198.0,120.1 198.1,118.1 198.2,118.6 198.3,125.8 198.4,137.8 198.6,150.4 198.8,160.7 198.9,167.8 199.1,172.0 199.2,174.3 199.3,175.5 199.5,176.2 199.7,176.6 199.8,176.8 199.9,176.9 199.9,177.0 200.1,177.2 200.2,177.3 200.4,177.4 200.6,177.5 200.7,177.5 200.8,177.6 201.0,177.6 201.2,177.7 201.9,177.8 203.9,177.9 205.9,178.0 207.9,178.1 209.9,178.1 211.9,178.1 213.9,178.1 215.9,177.9 217.9,177.9 219.9,177.9 220.7,177.9 221.0,177.9 221.3,178.0 221.6,178.0 221.9,178.0 222.2,178.0 222.5,178.0 222.8,178.0 223.1,177.8 223.4,177.5 223.7,177.0 223.9,176.6 224.0,176.5 224.1,176.4 224.2,176.3 224.3,176.4 224.4,176.5 224.6,176.8 224.7,177.1 224.9,177.4 225.0,177.6 225.2,177.8 225.3,177.9 225.5,178.0 225.6,178.0 225.8,178.0 225.9,178.0 226.1,178.0 226.2,178.0 226.4,178.0 226.5,177.9 226.7,177.7 226.8,177.6 227.0,177.3 227.1,177.1 227.3,176.7 227.4,176.5 227.6,176.3 227.7,176.4 227.9,176.6 228.0,176.8 228.3,177.4 228.6,177.8 228.9,178.0 229.2,178.0 229.5,178.0 229.8,178.0 229.9,178.0 230.1,178.0 230.4,178.0 230.7,178.0 231.0,178.0 231.9,178.0 233.9,178.1 235.9,178.1 237.9,178.1 239.9,178.1 241.9,178.0 243.9,177.9 245.9,177.9 247.9,178.1 249.9,178.2 251.9,178.2 253.9,178.2 255.9,178.1 257.9,178.1 259.9,178.1 261.9,178.1 263.9,178.1 265.9,178.1 267.9,178.0 269.9,177.9 271.9,178.0 273.9,178.1 275.9,178.2 277.9,178.3 279.9,178.2 281.9,178.1 283.9,178.0 285.9,178.0 287.9,178.1 289.9,178.1 291.9,178.1 293.9,178.0 295.9,178.0 297.9,178.0 299.9,178.1 301.9,178.2 303.9,178.3 305.9,178.2 307.9,178.1 309.9,178.0 311.9,178.0 313.9,178.0 315.9,178.1 317.9,178.1 319.9,178.0 321.9,178.0 323.9,178.1 325.9,178.2 327.9,178.2 329.9,178.2 331.9,178.2 333.9,178.0 335.9,177.9 337.9,177.9 339.9,178.0 341.9,178.1 343.9,178.1 344.5,178.1 344.8,178.1 345.1,178.1 345.4,178.1 345.7,178.0 345.9,178.0 346.0,178.0 346.3,178.0 346.6,177.9 346.9,177.6 347.2,177.0 347.5,176.0 347.8,174.9 347.9,174.6 348.0,174.6 348.1,174.6 348.4,175.6 348.7,176.7 349.0,177.5 349.3,177.8 349.6,177.9 349.9,178.0 350.2,178.0 350.5,178.0 350.8,178.1 351.1,178.1 351.4,178.1 351.9,178.1 353.9,178.2 355.9,178.2 357.9,178.1 359.9,178.0 361.9,177.9 363.9,177.9 365.9,178.0 367.9,178.1 368.7,178.1 369.0,178.1 369.3,178.1 369.6,178.1 369.9,178.1 370.2,178.1 370.5,178.1 370.8,178.1 371.1,177.9 371.4,177.7 371.7,177.2 371.9,176.8 372.0,176.7 372.2,176.5 372.3,176.5 372.6,176.9 372.9,177.3 373.2,177.5 373.5,177.3 373.8,176.9 373.9,176.9 374.0,176.9 374.1,176.9 374.4,177.2 374.7,177.6 375.0,177.9 375.3,178.0 375.6,178.0 375.9,178.0 376.2,178.1 376.5,178.1 376.8,178.1 377.1,178.1 377.4,178.1 377.9,178.1 379.6,178.2"/>
<polyline fill="none" stroke="#e02a35" stroke-width="1.25" stroke-linejoin="round" points="35.9,181.0 37.9,181.0 39.9,181.0 41.9,180.9 43.9,181.0 45.9,181.1 47.9,181.3 49.9,181.4 51.9,181.4 53.9,181.4 55.9,181.5 57.9,181.6 59.9,181.7 61.9,181.8 63.9,181.8 65.9,181.7 67.9,181.6 69.1,181.5 69.3,181.5 69.4,181.5 69.6,181.5 69.7,181.5 69.9,181.5 69.9,181.4 70.0,181.4 70.2,181.4 70.3,181.4 70.5,181.3 70.6,181.2 70.8,181.1 70.9,181.0 71.1,180.7 71.2,180.2 71.4,179.2 71.5,177.6 71.7,175.0 71.8,171.4 71.9,169.3 72.0,167.4 72.1,163.7 72.3,161.9 72.3,161.8 72.4,162.7 72.6,165.8 72.7,169.9 72.9,173.7 73.0,176.7 73.2,178.8 73.3,180.0 73.5,180.7 73.6,181.1 73.8,181.3 73.9,181.4 73.9,181.4 74.1,181.5 74.2,181.6 74.4,181.6 74.5,181.7 74.7,181.7 74.8,181.8 75.0,181.8 75.1,181.8 75.3,181.8 75.4,181.9 75.9,181.9 77.9,182.0 79.9,182.0 81.9,182.1 83.9,182.1 85.9,182.2 87.9,182.3 89.9,182.2 91.9,182.1 93.9,182.1 95.9,182.1 97.9,182.2 99.9,182.3 101.9,182.4 103.9,182.4 105.9,182.4 107.9,182.4 109.9,182.4 111.9,182.5 113.9,182.5 115.9,182.5 117.9,182.4 119.9,182.3 121.9,182.3 123.9,182.4 125.9,182.6 127.9,182.7 129.9,182.7 131.9,182.6 133.9,182.5 135.9,182.5 137.9,182.6 139.5,182.6 139.8,182.6 139.9,182.6 140.1,182.6 140.4,182.6 140.7,182.6 141.0,182.6 141.3,182.5 141.6,182.5 141.9,182.4 142.2,182.2 142.5,181.8 142.8,181.3 143.1,181.0 143.2,180.9 143.4,181.0 143.7,181.5 143.9,181.8 144.0,181.9 144.3,182.2 144.6,182.4 144.9,182.4 145.2,182.4 145.5,182.4 145.8,182.4 145.9,182.4 146.1,182.4 146.4,182.4 146.7,182.4 147.0,182.4 147.3,182.4 147.6,182.3 147.9,182.1 148.2,181.9 148.5,181.6 148.8,181.5 149.1,181.7 149.4,182.0 149.7,182.2 149.9,182.4 150.0,182.4 150.3,182.5 150.6,182.6 150.9,182.6 151.2,182.7 151.5,182.7 151.8,182.7 151.9,182.7 152.1,182.7 152.4,182.7 153.9,182.8 154.9,182.8 155.2,182.8 155.5,182.7 155.8,182.7 155.9,182.7 156.1,182.7 156.4,182.7 156.7,182.6 157.0,182.5 157.3,182.2 157.6,181.4 157.9,180.2 158.2,178.8 158.4,178.5 158.5,178.5 158.8,179.6 159.1,181.0 159.4,181.9 159.7,182.3 159.9,182.4 160.0,182.4 160.3,182.5 160.6,182.5 160.9,182.5 161.2,182.5 161.5,182.5 161.8,182.5 161.9,182.5 163.9,182.6 165.9,182.7 167.9,182.7 169.9,182.6 171.9,182.6 173.4,182.6 173.7,182.6 173.9,182.6 174.0,182.6 174.3,182.6 174.6,182.6 174.9,182.6 175.2,182.6 175.5,182.5 175.8,182.4 175.9,182.3 176.1,181.9 176.4,181.2 176.7,180.4 176.9,180.2 177.0,180.2 177.3,180.9 177.6,181.8 177.9,182.4 178.2,182.6 178.5,182.7 178.8,182.8 179.1,182.8 179.4,182.8 179.7,182.8 179.9,182.9 180.0,182.9 180.3,182.9 181.9,182.8 183.9,182.7 185.9,182.6 187.9,182.6 189.9,182.6 191.9,182.6 193.9,182.5 195.0,182.3 195.2,182.3 195.3,182.2 195.4,182.2 195.6,182.1 195.8,182.0 195.9,181.9 196.1,181.8 196.2,181.7 196.3,181.5 196.5,181.2 196.7,180.9 196.8,180.4 196.9,179.4 197.1,177.6 197.2,174.1 197.4,168.0 197.6,158.7 197.7,146.7 197.8,134.1 197.9,130.4 198.0,124.7 198.1,122.7 198.2,123.2 198.3,130.4 198.4,142.4 198.6,155.0 198.8,165.3 198.9,172.4 199.1,176.6 199.2,178.9 199.3,180.1 199.5,180.8 199.7,181.1 199.8,181.4 199.9,181.5 199.9,181.6 200.1,181.7 200.2,181.9 200.4,182.0 200.6,182.1 200.7,182.1 200.8,182.2 201.0,182.3 201.2,182.3 201.9,182.5 203.9,182.7 205.9,182.8 207.9,182.8 209.9,182.7 211.9,182.6 213.9,182.6 215.9,182.6 217.9,182.7 219.9,182.8 220.7,182.8 221.0,182.8 221.3,182.8 221.6,182.7 221.9,182.7 222.2,182.7 222.5,182.7 222.8,182.6 223.1,182.5 223.4,182.2 223.7,181.7 223.9,181.2 224.0,181.1 224.1,181.0 224.2,180.9 224.3,181.0 224.4,181.1 224.6,181.4 224.7,181.6 224.9,182.0 225.0,182.2 225.2,182.4 225.3,182.5 225.5,182.6 225.6,182.6 225.8,182.6 225.9,182.6 226.1,182.6 226.2,182.6 226.4,182.5 226.5,182.5 226.7,182.3 226.8,182.2 227.0,181.9 227.1,181.7 227.3,181.3 227.4,181.1 227.6,181.0 227.7,181.0 227.9,181.3 228.0,181.5 228.3,182.1 228.6,182.5 228.9,182.7 229.2,182.8 229.5,182.8 229.8,182.8 229.9,182.8 230.1,182.8 230.4,182.9 230.7,182.9 231.0,182.9 231.9,182.9 233.9,182.8 235.9,182.7 237.9,182.6 239.9,182.6 241.9,182.7 243.9,182.8 245.9,182.8 247.9,182.8 249.9,182.8 251.9,182.8 253.9,182.8 255.9,182.8 257.9,182.9 259.9,182.8 261.9,182.7 263.9,182.6 265.9,182.6 267.9,182.7 269.9,182.8 271.9,182.9 273.9,182.9 275.9,182.8 277.9,182.8 279.9,182.8 281.9,182.8 283.9,182.8 285.9,182.8 287.9,182.7 289.9,182.6 291.9,182.6 293.9,182.7 295.9,182.9 297.9,182.9 299.9,182.9 301.9,182.8 303.9,182.7 305.9,182.7 307.9,182.8 309.9,182.8 311.9,182.8 313.9,182.7 315.9,182.7 317.9,182.7 319.9,182.8 321.9,182.9 323.9,183.0 325.9,182.9 327.9,182.8 329.9,182.7 331.9,182.7 333.9,182.7 335.9,182.8 337.9,182.8 339.9,182.7 341.9,182.7 343.9,182.7 344.5,182.7 344.8,182.7 345.1,182.7 345.4,182.7 345.7,182.7 345.9,182.7 346.0,182.7 346.3,182.7 346.6,182.6 346.9,182.4 347.2,181.8 347.5,180.8 347.8,179.7 347.9,179.5 348.0,179.4 348.1,179.5 348.4,180.4 348.7,181.6 349.0,182.3 349.3,182.7 349.6,182.8 349.9,182.9 350.2,182.9 350.5,182.9 350.8,182.9 351.1,182.9 351.4,182.9 351.9,182.9 353.9,182.8 355.9,182.7 357.9,182.6 359.9,182.7 361.9,182.8 363.9,182.8 365.9,182.8 367.9,182.7 368.7,182.7 369.0,182.7 369.3,182.7 369.6,182.7 369.9,182.7 370.2,182.7 370.5,182.7 370.8,182.7 371.1,182.6 371.4,182.3 371.7,181.8 371.9,181.5 372.0,181.3 372.2,181.2 372.3,181.2 372.6,181.6 372.9,182.1 373.2,182.2 373.5,182.0 373.8,181.7 373.9,181.7 374.0,181.7 374.1,181.7 374.4,182.0 374.7,182.4 375.0,182.7 375.3,182.8 375.6,182.9 375.9,182.9 376.2,182.9 376.5,182.9 376.8,182.9 377.1,182.9 377.4,182.9 377.9,182.9 379.6,182.8"/>
<polyline fill="none" stroke="#8c35d9" stroke-width="1.25" stroke-linejoin="round" points="35.9,185.5 37.9,185.5 39.9,185.6 41.9,185.7 43.9,185.8 45.9,185.8 47.9,185.9 49.9,185.9 51.9,186.1 53.9,186.2 55.9,186.4 57.9,186.4 59.9,186.3 61.9,186.3 63.9,186.3 65.9,186.3 67.9,186.4 69.1,186.4 69.3,186.4 69.4,186.4 69.6,186.4 69.7,186.3 69.9,186.3 69.9,186.3 70.0,186.3 70.2,186.2 70.3,186.2 70.5,186.2 70.6,186.1 70.8,186.0 70.9,185.8 71.1,185.5 71.2,185.0 71.4,184.0 71.5,182.4 71.7,179.7 71.8,176.2 71.9,174.1 72.0,172.1 72.1,168.5 72.3,166.6 72.3,166.6 72.4,167.5 72.6,170.6 72.7,174.6 72.9,178.4 73.0,181.4 73.2,183.5 73.3,184.7 73.5,185.4 73.6,185.7 73.8,185.9 73.9,186.0 73.9,186.1 74.1,186.1 74.2,186.2 74.4,186.3 74.5,186.3 74.7,186.3 74.8,186.4 75.0,186.4 75.1,186.4 75.3,186.4 75.4,186.4 75.9,186.5 77.9,186.7 79.9,186.8 81.9,186.9 83.9,186.9 85.9,186.8 87.9,186.7 89.9,186.7 91.9,186.8 93.9,186.9 95.9,187.0 97.9,187.0 99.9,187.0 101.9,187.0 103.9,187.1 105.9,187.1 107.9,187.2 109.9,187.2 111.9,187.1 113.9,187.0 115.9,187.0 117.9,187.0 119.9,187.2 121.9,187.3 123.9,187.3 125.9,187.2 127.9,187.2 129.9,187.2 131.9,187.3 133.9,187.3 135.9,187.3 137.9,187.2 139.5,187.1 139.8,187.1 139.9,187.1 140.1,187.1 140.4,187.1 140.7,187.1 141.0,187.1 141.3,187.0 141.6,187.0 141.9,186.9 142.2,186.8 142.5,186.4 142.8,185.9 143.1,185.6 143.2,185.5 143.4,185.7 143.7,186.1 143.9,186.5 144.0,186.6 144.3,186.9 144.6,187.1 144.9,187.2 145.2,187.2 145.5,187.2 145.8,187.3 145.9,187.3 146.1,187.3 146.4,187.3 146.7,187.3 147.0,187.3 147.3,187.3 147.6,187.2 147.9,187.1 148.2,186.8 148.5,186.6 148.8,186.4 149.1,186.6 149.4,186.8 149.7,187.1 149.9,187.2 150.0,187.3 150.3,187.3 150.6,187.4 150.9,187.4 151.2,187.4 151.5,187.4 151.8,187.4 151.9,187.4 152.1,187.4 152.4,187.3 153.9,187.3 154.9,187.3 155.2,187.3 155.5,187.3 155.8,187.3 155.9,187.2 156.1,187.2 156.4,187.2 156.7,187.2 157.0,187.1 157.3,186.8 157.6,186.1 157.9,184.8 158.2,183.5 158.4,183.2 158.5,183.3 158.8,184.4 159.1,185.8 159.4,186.7 159.7,187.1 159.9,187.2 160.0,187.2 160.3,187.3 160.6,187.3 160.9,187.3 161.2,187.3 161.5,187.3 161.8,187.3 161.9,187.3 163.9,187.3 165.9,187.2 167.9,187.2 169.9,187.3 171.9,187.4 173.4,187.5 173.7,187.5 173.9,187.5 174.0,187.5 174.3,187.5 174.6,187.5 174.9,187.5 175.2,187.5 175.5,187.4 175.8,187.2 175.9,187.1 176.1,186.8 176.4,186.0 176.7,185.1 176.9,184.9 177.0,185.0 177.3,185.6 177.6,186.5 177.9,187.0 178.2,187.3 178.5,187.3 178.8,187.3 179.1,187.4 179.4,187.4 179.7,187.3 179.9,187.3 180.0,187.3 180.3,187.3 181.9,187.3 183.9,187.3 185.9,187.4 187.9,187.4 189.9,187.3 191.9,187.2 193.9,187.1 195.0,186.9 195.2,186.9 195.3,186.8 195.4,186.8 195.6,186.7 195.8,186.7 195.9,186.6 196.1,186.5 196.2,186.4 196.3,186.2 196.5,186.0 196.7,185.6 196.8,185.1 196.9,184.2 197.1,182.3 197.2,178.8 197.4,172.8 197.6,163.5 197.7,151.6 197.8,138.9 197.9,135.2 198.0,129.6 198.1,127.5 198.2,128.0 198.3,135.2 198.4,147.3 198.6,159.9 198.8,170.1 198.9,177.2 199.1,181.5 199.2,183.8 199.3,185.0 199.5,185.7 199.7,186.0 199.8,186.3 199.9,186.4 199.9,186.5 200.1,186.6 200.2,186.8 200.4,186.9 200.6,187.0 200.7,187.0 200.8,187.1 201.0,187.1 201.2,187.2 201.9,187.3 203.9,187.4 205.9,187.3 207.9,187.3 209.9,187.3 211.9,187.4 213.9,187.4 215.9,187.4 217.9,187.4 219.9,187.3 220.7,187.4 221.0,187.4 221.3,187.4 221.6,187.4 221.9,187.4 222.2,187.4 222.5,187.4 222.8,187.4 223.1,187.3 223.4,187.0 223.7,186.4 223.9,186.0 224.0,185.9 224.1,185.8 224.2,185.7 224.3,185.8 224.4,185.9 224.6,186.3 224.7,186.5 224.9,186.9 225.0,187.0 225.2,187.3 225.3,187.3 225.5,187.4 225.6,187.5 225.8,187.5 225.9,187.5 226.1,187.5 226.2,187.5 226.4,187.4 226.5,187.4 226.7,187.2 226.8,187.0 227.0,186.7 227.1,186.5 227.3,186.1 227.4,185.9 227.6,185.8 227.7,185.8 227.9,186.1 228.0,186.3 228.3,186.9 228.6,187.2 228.9,187.4 229.2,187.4 229.5,187.5 229.8,187.4 229.9,187.4 230.1,187.4 230.4,187.4 230.7,187.4 231.0,187.4 231.9,187.3 233.9,187.3 235.9,187.3 237.9,187.4 239.9,187.5 241.9,187.5 243.9,187.4 245.9,187.4 247.9,187.5 249.9,187.6 251.9,187.6 253.9,187.6 255.9,187.5 257.9,187.3 259.9,187.3 261.9,187.3 263.9,187.4 265.9,187.5 267.9,187.5 269.9,187.5 271.9,187.5 273.9,187.5 275.9,187.5 277.9,187.6 279.9,187.5 281.9,187.4 283.9,187.3 285.9,187.3 287.9,187.3 289.9,187.5 291.9,187.6 293.9,187.6 295.9,187.5 297.9,187.5 299.9,187.5 301.9,187.5 303.9,187.5 305.9,187.5 307.9,187.4 309.9,187.3 311.9,187.3 313.9,187.4 315.9,187.5 317.9,187.6 319.9,187.6 321.9,187.5 323.9,187.5 325.9,187.4 327.9,187.5 329.9,187.5 331.9,187.5 333.9,187.4 335.9,187.3 337.9,187.3 339.9,187.4 341.9,187.5 343.9,187.6 344.5,187.6 344.8,187.6 345.1,187.6 345.4,187.6 345.7,187.6 345.9,187.6 346.0,187.5 346.3,187.5 346.6,187.4 346.9,187.1 347.2,186.5 347.5,185.5 347.8,184.3 347.9,184.1 348.0,184.0 348.1,184.1 348.4,185.0 348.7,186.1 349.0,186.9 349.3,187.2 349.6,187.3 349.9,187.3 350.2,187.4 350.5,187.4 350.8,187.4 351.1,187.4 351.4,187.4 351.9,187.4 353.9,187.4 355.9,187.4 357.9,187.5 359.9,187.4 361.9,187.4 363.9,187.4 365.9,187.4 367.9,187.5 368.7,187.6 369.0,187.6 369.3,187.6 369.6,187.6 369.9,187.6 370.2,187.6 370.5,187.6 370.8,187.5 371.1,187.4 371.4,187.1 371.7,186.7 371.9,186.3 372.0,186.1 372.2,186.0 372.3,186.0 372.6,186.4 372.9,186.8 373.2,186.9 373.5,186.7 373.8,186.4 373.9,186.3 374.0,186.3 374.1,186.3 374.4,186.6 374.7,187.0 375.0,187.2 375.3,187.3 375.6,187.4 375.9,187.4 376.2,187.4 376.5,187.4 376.8,187.3 377.1,187.3 377.4,187.3 377.9,187.3 379.6,187.4"/>
<polyline fill="none" stroke="#f0a236" stroke-width="1.25" stroke-linejoin="round" points="35.9,190.2 37.9,190.3 39.9,190.3 41.9,190.3 43.9,190.3 45.9,190.5 47.9,190.7 49.9,190.8 51.9,190.9 53.9,190.9 55.9,190.9 57.9,190.9 59.9,190.9 61.9,191.0 63.9,191.1 65.9,191.1 67.9,191.0 69.1,191.0 69.3,190.9 69.4,190.9 69.6,190.9 69.7,190.9 69.9,190.9 69.9,190.9 70.0,190.8 70.2,190.8 70.3,190.8 70.5,190.7 70.6,190.7 70.8,190.6 70.9,190.4 71.1,190.1 71.2,189.6 71.4,188.6 71.5,187.0 71.7,184.4 71.8,180.8 71.9,178.7 72.0,176.8 72.1,173.2 72.3,171.3 72.3,171.2 72.4,172.1 72.6,175.2 72.7,179.3 72.9,183.1 73.0,186.2 73.2,188.2 73.3,189.4 73.5,190.1 73.6,190.5 73.8,190.7 73.9,190.8 73.9,190.8 74.1,190.9 74.2,191.0 74.4,191.1 74.5,191.1 74.7,191.2 74.8,191.2 75.0,191.2 75.1,191.3 75.3,191.3 75.4,191.3 75.9,191.4 77.9,191.5 79.9,191.5 81.9,191.4 83.9,191.4 85.9,191.4 87.9,191.5 89.9,191.6 91.9,191.6 93.9,191.6 95.9,191.6 97.9,191.6 99.9,191.8 101.9,191.9 103.9,191.9 105.9,191.8 107.9,191.7 109.9,191.6 111.9,191.7 113.9,191.8 115.9,191.8 117.9,191.9 119.9,191.8 121.9,191.8 123.9,191.9 125.9,192.0 127.9,192.0 129.9,192.0 131.9,192.0 133.9,191.8 135.9,191.8 137.9,191.8 139.5,191.9 139.8,191.9 139.9,191.9 140.1,191.9 140.4,191.9 140.7,191.9 141.0,191.9 141.3,191.9 141.6,191.9 141.9,191.8 142.2,191.7 142.5,191.3 142.8,190.8 143.1,190.5 143.2,190.4 143.4,190.6 143.7,191.0 143.9,191.3 144.0,191.5 144.3,191.8 144.6,191.9 144.9,192.0 145.2,192.0 145.5,192.0 145.8,192.0 145.9,192.0 146.1,192.0 146.4,192.0 146.7,192.0 147.0,191.9 147.3,191.9 147.6,191.8 147.9,191.6 148.2,191.4 148.5,191.1 148.8,191.0 149.1,191.1 149.4,191.4 149.7,191.7 149.9,191.8 150.0,191.8 150.3,191.9 150.6,192.0 150.9,192.0 151.2,192.0 151.5,192.0 151.8,192.0 151.9,192.0 152.1,192.1 152.4,192.1 153.9,192.1 154.9,192.1 155.2,192.1 155.5,192.1 155.8,192.1 155.9,192.0 156.1,192.0 156.4,192.0 156.7,191.9 157.0,191.8 157.3,191.5 157.6,190.8 157.9,189.5 158.2,188.2 158.4,187.8 158.5,187.9 158.8,189.0 159.1,190.3 159.4,191.2 159.7,191.6 159.9,191.7 160.0,191.7 160.3,191.8 160.6,191.8 160.9,191.8 161.2,191.8 161.5,191.8 161.8,191.8 161.9,191.8 163.9,191.9 165.9,192.0 167.9,192.1 169.9,192.2 171.9,192.1 173.4,192.1 173.7,192.1 173.9,192.1 174.0,192.1 174.3,192.0 174.6,192.0 174.9,192.0 175.2,192.0 175.5,191.9 175.8,191.7 175.9,191.6 176.1,191.3 176.4,190.5 176.7,189.7 176.9,189.5 177.0,189.5 177.3,190.2 177.6,191.1 177.9,191.7 178.2,191.9 178.5,192.0 178.8,192.1 179.1,192.1 179.4,192.1 179.7,192.1 179.9,192.1 180.0,192.1 180.3,192.1 181.9,192.1 183.9,192.0 185.9,191.9 187.9,191.9 189.9,191.9 191.9,192.0 193.9,192.0 195.0,191.8 195.2,191.8 195.3,191.8 195.4,191.7 195.6,191.6 195.8,191.6 195.9,191.5 196.1,191.4 196.2,191.2 196.3,191.0 196.5,190.8 196.7,190.5 196.8,189.9 196.9,189.0 197.1,187.1 197.2,183.6 197.4,177.5 197.6,168.3 197.7,156.3 197.8,143.6 197.9,139.9 198.0,134.3 198.1,132.2 198.2,132.7 198.3,139.9 198.4,151.9 198.6,164.5 198.8,174.8 198.9,181.8 199.1,186.1 199.2,188.4 199.3,189.6 199.5,190.2 199.7,190.6 199.8,190.8 199.9,191.0 199.9,191.0 200.1,191.2 200.2,191.3 200.4,191.4 200.6,191.5 200.7,191.5 200.8,191.6 201.0,191.6 201.2,191.7 201.9,191.8 203.9,192.0 205.9,192.1 207.9,192.1 209.9,192.1 211.9,192.0 213.9,192.0 215.9,192.0 217.9,192.2 219.9,192.3 220.7,192.3 221.0,192.3 221.3,192.3 221.6,192.3 221.9,192.3 222.2,192.2 222.5,192.2 222.8,192.2 223.1,192.0 223.4,191.7 223.7,191.2 223.9,190.7 224.0,190.6 224.1,190.4 224.2,190.4 224.3,190.4 224.4,190.5 224.6,190.9 224.7,191.1 224.9,191.5 225.0,191.6 225.2,191.8 225.3,191.9 225.5,192.0 225.6,192.0 225.8,192.0 225.9,192.0 226.1,192.0 226.2,192.0 226.4,191.9 226.5,191.8 226.7,191.7 226.8,191.5 227.0,191.2 227.1,191.0 227.3,190.6 227.4,190.4 227.6,190.3 227.7,190.3 227.9,190.6 228.0,190.8 228.3,191.3 228.6,191.7 228.9,191.9 229.2,192.0 229.5,192.0 229.8,192.0 229.9,192.0 230.1,192.0 230.4,192.0 230.7,192.1 231.0,192.1 231.9,192.1 233.9,192.1 235.9,192.1 237.9,192.1 239.9,192.0 241.9,192.1 243.9,192.2 245.9,192.3 247.9,192.3 249.9,192.2 251.9,192.1 253.9,192.0 255.9,192.0 257.9,192.1 259.9,192.1 261.9,192.1 263.9,192.1 265.9,192.1 267.9,192.1 269.9,192.2 271.9,192.3 273.9,192.3 275.9,192.2 277.9,192.1 279.9,192.0 281.9,192.0 283.9,192.1 285.9,192.2 287.9,192.2 289.9,192.2 291.9,192.1 293.9,192.2 295.9,192.2 297.9,192.3 299.9,192.3 301.9,192.2 303.9,192.1 305.9,192.0 307.9,192.0 309.9,192.1 311.9,192.2 313.9,192.2 315.9,192.2 317.9,192.2 319.9,192.2 321.9,192.2 323.9,192.2 325.9,192.2 327.9,192.1 329.9,192.0 331.9,192.0 333.9,192.0 335.9,192.1 337.9,192.2 339.9,192.3 341.9,192.2 343.9,192.2 344.5,192.1 344.8,192.1 345.1,192.1 345.4,192.1 345.7,192.1 345.9,192.1 346.0,192.1 346.3,192.0 346.6,191.9 346.9,191.7 347.2,191.1 347.5,190.1 347.8,189.0 347.9,188.7 348.0,188.7 348.1,188.7 348.4,189.7 348.7,190.8 349.0,191.6 349.3,191.9 349.6,192.1 349.9,192.1 350.2,192.1 350.5,192.1 350.8,192.2 351.1,192.2 351.4,192.2 351.9,192.2 353.9,192.1 355.9,192.0 357.9,192.0 359.9,192.0 361.9,192.2 363.9,192.3 365.9,192.3 367.9,192.3 368.7,192.2 369.0,192.2 369.3,192.2 369.6,192.2 369.9,192.1 370.2,192.1 370.5,192.1 370.8,192.0 371.1,191.9 371.4,191.6 371.7,191.1 371.9,190.8 372.0,190.6 372.2,190.5 372.3,190.5 372.6,190.9 372.9,191.3 373.2,191.5 373.5,191.3 373.8,190.9 373.9,190.9 374.0,190.9 374.1,190.9 374.4,191.2 374.7,191.6 375.0,191.9 375.3,192.0 375.6,192.1 375.9,192.1 376.2,192.1 376.5,192.1 376.8,192.1 377.1,192.1 377.4,192.2 377.9,192.2 379.6,192.1"/>
<polyline fill="none" stroke="#3b9a45" stroke-width="1.25" stroke-linejoin="round" points="35.9,194.8 37.9,194.8 39.9,194.9 41.9,195.1 43.9,195.2 45.9,195.4 47.9,195.4 49.9,195.4 51.9,195.5 53.9,195.5 55.9,195.6 57.9,195.7 59.9,195.7 61.9,195.6 63.9,195.6 65.9,195.7 67.9,195.8 69.1,195.8 69.3,195.8 69.4,195.8 69.6,195.8 69.7,195.8 69.9,195.8 69.9,195.8 70.0,195.8 70.2,195.7 70.3,195.7 70.5,195.6 70.6,195.6 70.8,195.5 70.9,195.3 71.1,195.1 71.2,194.5 71.4,193.6 71.5,191.9 71.7,189.3 71.8,185.7 71.9,183.6 72.0,181.7 72.1,178.1 72.3,176.2 72.3,176.1 72.4,177.0 72.6,180.1 72.7,184.2 72.9,188.0 73.0,191.0 73.2,193.0 73.3,194.3 73.5,194.9 73.6,195.3 73.8,195.5 73.9,195.6 73.9,195.6 74.1,195.7 74.2,195.7 74.4,195.8 74.5,195.8 74.7,195.9 74.8,195.9 75.0,195.9 75.1,195.9 75.3,195.9 75.4,195.9 75.9,196.0 77.9,196.0 79.9,196.1 81.9,196.1 83.9,196.2 85.9,196.2 87.9,196.1 89.9,196.1 91.9,196.2 93.9,196.3 95.9,196.5 97.9,196.5 99.9,196.5 101.9,196.4 103.9,196.4 105.9,196.4 107.9,196.4 109.9,196.5 111.9,196.5 113.9,196.4 115.9,196.4 117.9,196.5 119.9,196.6 121.9,196.7 123.9,196.7 125.9,196.7 127.9,196.6 129.9,196.5 131.9,196.5 133.9,196.6 135.9,196.6 137.9,196.6 139.5,196.6 139.8,196.6 139.9,196.6 140.1,196.6 140.4,196.6 140.7,196.6 141.0,196.6 141.3,196.6 141.6,196.5 141.9,196.4 142.2,196.2 142.5,195.9 142.8,195.4 143.1,195.0 143.2,195.0 143.4,195.1 143.7,195.6 143.9,195.9 144.0,196.1 144.3,196.4 144.6,196.5 144.9,196.6 145.2,196.6 145.5,196.7 145.8,196.7 145.9,196.7 146.1,196.7 146.4,196.7 146.7,196.7 147.0,196.7 147.3,196.7 147.6,196.6 147.9,196.5 148.2,196.2 148.5,196.0 148.8,195.8 149.1,196.0 149.4,196.2 149.7,196.5 149.9,196.6 150.0,196.7 150.3,196.8 150.6,196.8 150.9,196.8 151.2,196.8 151.5,196.8 151.8,196.8 151.9,196.8 152.1,196.8 152.4,196.7 153.9,196.6 154.9,196.6 155.2,196.6 155.5,196.5 155.8,196.5 155.9,196.5 156.1,196.5 156.4,196.5 156.7,196.4 157.0,196.3 157.3,196.0 157.6,195.3 157.9,194.0 158.2,192.7 158.4,192.4 158.5,192.5 158.8,193.6 159.1,195.0 159.4,195.9 159.7,196.3 159.9,196.4 160.0,196.5 160.3,196.5 160.6,196.6 160.9,196.6 161.2,196.6 161.5,196.7 161.8,196.7 161.9,196.7 163.9,196.8 165.9,196.8 167.9,196.7 169.9,196.7 171.9,196.8 173.4,196.8 173.7,196.8 173.9,196.8 174.0,196.8 174.3,196.8 174.6,196.8 174.9,196.8 175.2,196.8 175.5,196.7 175.8,196.6 175.9,196.4 176.1,196.1 176.4,195.3 176.7,194.5 176.9,194.3 177.0,194.3 177.3,195.0 177.6,195.8 177.9,196.4 178.2,196.6 178.5,196.7 178.8,196.7 179.1,196.7 179.4,196.7 179.7,196.7 179.9,196.7 180.0,196.7 180.3,196.7 181.9,196.6 183.9,196.6 185.9,196.7 187.9,196.8 189.9,196.8 191.9,196.8 193.9,196.6 195.0,196.4 195.2,196.3 195.3,196.3 195.4,196.2 195.6,196.2 195.8,196.1 195.9,196.0 196.1,195.9 196.2,195.8 196.3,195.6 196.5,195.3 196.7,195.0 196.8,194.5 196.9,193.5 197.1,191.7 197.2,188.2 197.4,182.1 197.6,172.9 197.7,160.9 197.8,148.2 197.9,144.5 198.0,138.9 198.1,136.8 198.2,137.4 198.3,144.5 198.4,156.6 198.6,169.2 198.8,179.4 198.9,186.5 199.1,190.8 199.2,193.1 199.3,194.3 199.5,194.9 199.7,195.3 199.8,195.6 199.9,195.7 199.9,195.8 200.1,195.9 200.2,196.1 200.4,196.2 200.6,196.2 200.7,196.3 200.8,196.4 201.0,196.4 201.2,196.5 201.9,196.6 203.9,196.7 205.9,196.6 207.9,196.6 209.9,196.6 211.9,196.7 213.9,196.9 215.9,196.9 217.9,196.9 219.9,196.8 220.7,196.8 221.0,196.8 221.3,196.8 221.6,196.8 221.9,196.8 222.2,196.8 222.5,196.7 222.8,196.7 223.1,196.6 223.4,196.3 223.7,195.7 223.9,195.3 224.0,195.2 224.1,195.0 224.2,195.0 224.3,195.0 224.4,195.2 224.6,195.5 224.7,195.7 224.9,196.1 225.0,196.3 225.2,196.5 225.3,196.6 225.5,196.7 225.6,196.7 225.8,196.7 225.9,196.7 226.1,196.7 226.2,196.7 226.4,196.6 226.5,196.6 226.7,196.4 226.8,196.3 227.0,196.0 227.1,195.8 227.3,195.4 227.4,195.2 227.6,195.1 227.7,195.1 227.9,195.4 228.0,195.6 228.3,196.2 228.6,196.5 228.9,196.7 229.2,196.8 229.5,196.8 229.8,196.8 229.9,196.8 230.1,196.8 230.4,196.8 230.7,196.8 231.0,196.8 231.9,196.7 233.9,196.7 235.9,196.7 237.9,196.8 239.9,196.9 241.9,197.0 243.9,197.0 245.9,196.9 247.9,196.8 249.9,196.8 251.9,196.8 253.9,196.8 255.9,196.8 257.9,196.8 259.9,196.7 261.9,196.7 263.9,196.8 265.9,197.0 267.9,197.0 269.9,197.0 271.9,196.9 273.9,196.8 275.9,196.7 277.9,196.8 279.9,196.8 281.9,196.8 283.9,196.8 285.9,196.8 287.9,196.8 289.9,196.9 291.9,197.0 293.9,197.0 295.9,197.0 297.9,196.8 299.9,196.7 301.9,196.7 303.9,196.8 305.9,196.8 307.9,196.9 309.9,196.9 311.9,196.8 313.9,196.8 315.9,196.9 317.9,197.0 319.9,197.0 321.9,196.9 323.9,196.8 325.9,196.7 327.9,196.7 329.9,196.8 331.9,196.9 333.9,196.9 335.9,196.9 337.9,196.9 339.9,196.8 341.9,196.9 343.9,196.9 344.5,196.9 344.8,196.9 345.1,196.9 345.4,196.9 345.7,196.9 345.9,196.9 346.0,196.9 346.3,196.8 346.6,196.7 346.9,196.5 347.2,195.9 347.5,194.8 347.8,193.7 347.9,193.5 348.0,193.4 348.1,193.5 348.4,194.4 348.7,195.5 349.0,196.2 349.3,196.5 349.6,196.6 349.9,196.7 350.2,196.7 350.5,196.7 350.8,196.7 351.1,196.7 351.4,196.7 351.9,196.7 353.9,196.7 355.9,196.8 357.9,196.9 359.9,197.0 361.9,196.9 363.9,196.9 365.9,196.8 367.9,196.8 368.7,196.9 369.0,196.9 369.3,196.9 369.6,196.9 369.9,196.9 370.2,196.9 370.5,196.8 370.8,196.8 371.1,196.7 371.4,196.4 371.7,195.9 371.9,195.6 372.0,195.4 372.2,195.3 372.3,195.3 372.6,195.7 372.9,196.1 373.2,196.2 373.5,196.0 373.8,195.7 373.9,195.6 374.0,195.6 374.1,195.6 374.4,195.9 374.7,196.3 375.0,196.6 375.3,196.7 375.6,196.7 375.9,196.7 376.2,196.7 376.5,196.7 376.8,196.7 377.1,196.7 377.4,196.7 377.9,196.7 379.6,196.7"/>
<polyline fill="none" stroke="#2a2ad6" stroke-width="1.25" stroke-linejoin="round" points="35.9,199.5 37.9,199.6 39.9,199.8 41.9,199.9 43.9,199.9 45.9,199.9 47.9,200.1 49.9,200.2 51.9,200.3 53.9,200.3 55.9,200.2 57.9,200.2 59.9,200.2 61.9,200.3 63.9,200.5 65.9,200.6 67.9,200.6 69.1,200.5 69.3,200.5 69.4,200.5 69.6,200.5 69.7,200.4 69.9,200.4 69.9,200.4 70.0,200.4 70.2,200.3 70.3,200.3 70.5,200.2 70.6,200.2 70.8,200.1 70.9,199.9 71.1,199.6 71.2,199.1 71.4,198.1 71.5,196.4 71.7,193.8 71.8,190.3 71.9,188.1 72.0,186.2 72.1,182.6 72.3,180.7 72.3,180.7 72.4,181.6 72.6,184.7 72.7,188.7 72.9,192.5 73.0,195.5 73.2,197.6 73.3,198.8 73.5,199.5 73.6,199.9 73.8,200.1 73.9,200.2 73.9,200.2 74.1,200.3 74.2,200.3 74.4,200.4 74.5,200.4 74.7,200.5 74.8,200.5 75.0,200.6 75.1,200.6 75.3,200.6 75.4,200.6 75.9,200.7 77.9,200.8 79.9,200.8 81.9,200.8 83.9,200.7 85.9,200.7 87.9,200.8 89.9,201.0 91.9,201.1 93.9,201.1 95.9,201.1 97.9,201.0 99.9,201.0 101.9,201.1 103.9,201.1 105.9,201.1 107.9,201.1 109.9,201.0 111.9,201.0 113.9,201.1 115.9,201.3 117.9,201.4 119.9,201.4 121.9,201.3 123.9,201.2 125.9,201.2 127.9,201.2 129.9,201.3 131.9,201.3 133.9,201.3 135.9,201.2 137.9,201.2 139.5,201.3 139.8,201.3 139.9,201.3 140.1,201.3 140.4,201.3 140.7,201.3 141.0,201.4 141.3,201.4 141.6,201.3 141.9,201.3 142.2,201.1 142.5,200.8 142.8,200.3 143.1,199.9 143.2,199.9 143.4,200.0 143.7,200.5 143.9,200.8 144.0,201.0 144.3,201.3 144.6,201.4 144.9,201.5 145.2,201.5 145.5,201.5 145.8,201.5 145.9,201.5 146.1,201.5 146.4,201.5 146.7,201.4 147.0,201.4 147.3,201.4 147.6,201.3 147.9,201.1 148.2,200.8 148.5,200.5 148.8,200.4 149.1,200.5 149.4,200.7 149.7,201.0 149.9,201.1 150.0,201.1 150.3,201.2 150.6,201.2 150.9,201.3 151.2,201.3 151.5,201.3 151.8,201.3 151.9,201.3 152.1,201.3 152.4,201.3 153.9,201.3 154.9,201.3 155.2,201.3 155.5,201.3 155.8,201.3 155.9,201.3 156.1,201.3 156.4,201.3 156.7,201.3 157.0,201.2 157.3,200.9 157.6,200.1 157.9,198.9 158.2,197.6 158.4,197.2 158.5,197.3 158.8,198.4 159.1,199.8 159.4,200.7 159.7,201.1 159.9,201.2 160.0,201.2 160.3,201.3 160.6,201.3 160.9,201.3 161.2,201.3 161.5,201.3 161.8,201.3 161.9,201.3 163.9,201.3 165.9,201.4 167.9,201.5 169.9,201.6 171.9,201.6 173.4,201.5 173.7,201.5 173.9,201.4 174.0,201.4 174.3,201.4 174.6,201.4 174.9,201.3 175.2,201.3 175.5,201.2 175.8,201.0 175.9,200.9 176.1,200.6 176.4,199.8 176.7,198.9 176.9,198.7 177.0,198.8 177.3,199.5 177.6,200.3 177.9,200.9 178.2,201.1 178.5,201.2 178.8,201.3 179.1,201.3 179.4,201.3 179.7,201.3 179.9,201.3 180.0,201.3 180.3,201.3 181.9,201.4 183.9,201.5 185.9,201.5 187.9,201.4 189.9,201.4 191.9,201.4 193.9,201.4 195.0,201.2 195.2,201.2 195.3,201.1 195.4,201.1 195.6,201.0 195.8,200.9 195.9,200.8 196.1,200.7 196.2,200.6 196.3,200.4 196.5,200.2 196.7,199.9 196.8,199.3 196.9,198.4 197.1,196.5 197.2,193.0 197.4,186.9 197.6,177.7 197.7,165.7 197.8,153.0 197.9,149.3 198.0,143.7 198.1,141.6 198.2,142.1 198.3,149.3 198.4,161.3 198.6,173.9 198.8,184.1 198.9,191.2 199.1,195.5 199.2,197.8 199.3,199.0 199.5,199.6 199.7,199.9 199.8,200.2 199.9,200.3 199.9,200.4 200.1,200.5 200.2,200.6 200.4,200.7 200.6,200.8 200.7,200.9 200.8,200.9 201.0,200.9 201.2,201.0 201.9,201.1 203.9,201.2 205.9,201.3 207.9,201.4 209.9,201.5 211.9,201.5 213.9,201.5 215.9,201.5 217.9,201.5 219.9,201.6 220.7,201.6 221.0,201.6 221.3,201.6 221.6,201.6 221.9,201.6 222.2,201.6 222.5,201.5 222.8,201.5 223.1,201.4 223.4,201.0 223.7,200.5 223.9,200.1 224.0,199.9 224.1,199.8 224.2,199.7 224.3,199.8 224.4,199.9 224.6,200.2 224.7,200.4 224.9,200.8 225.0,201.0 225.2,201.2 225.3,201.2 225.5,201.3 225.6,201.3 225.8,201.3 225.9,201.3 226.1,201.3 226.2,201.3 226.4,201.2 226.5,201.2 226.7,201.0 226.8,200.8 227.0,200.5 227.1,200.3 227.3,199.9 227.4,199.7 227.6,199.6 227.7,199.6 227.9,199.9 228.0,200.1 228.3,200.6 228.6,201.0 228.9,201.2 229.2,201.3 229.5,201.3 229.8,201.3 229.9,201.3 230.1,201.3 230.4,201.3 230.7,201.3 231.0,201.3 231.9,201.4 233.9,201.5 235.9,201.6 237.9,201.6 239.9,201.6 241.9,201.5 243.9,201.5 245.9,201.6 247.9,201.6 249.9,201.6 251.9,201.5 253.9,201.4 255.9,201.4 257.9,201.4 259.9,201.6 261.9,201.7 263.9,201.7 265.9,201.6 267.9,201.5 269.9,201.5 271.9,201.5 273.9,201.6 275.9,201.5 277.9,201.5 279.9,201.4 281.9,201.4 283.9,201.5 285.9,201.6 287.9,201.7 289.9,201.7 291.9,201.6 293.9,201.5 295.9,201.5 297.9,201.5 299.9,201.5 301.9,201.5 303.9,201.5 305.9,201.4 307.9,201.4 309.9,201.5 311.9,201.6 313.9,201.7 315.9,201.7 317.9,201.6 319.9,201.5 321.9,201.4 323.9,201.4 325.9,201.5 327.9,201.5 329.9,201.5 331.9,201.5 333.9,201.5 335.9,201.5 337.9,201.6 339.9,201.7 341.9,201.7 343.9,201.5 344.5,201.5 344.8,201.5 345.1,201.4 345.4,201.4 345.7,201.4 345.9,201.3 346.0,201.3 346.3,201.3 346.6,201.2 346.9,200.9 347.2,200.3 347.5,199.3 347.8,198.2 347.9,198.0 348.0,197.9 348.1,198.0 348.4,198.9 348.7,200.0 349.0,200.8 349.3,201.1 349.6,201.3 349.9,201.3 350.2,201.4 350.5,201.4 350.8,201.4 351.1,201.4 351.4,201.5 351.9,201.5 353.9,201.6 355.9,201.6 357.9,201.5 359.9,201.5 361.9,201.6 363.9,201.6 365.9,201.7 367.9,201.6 368.7,201.6 369.0,201.5 369.3,201.5 369.6,201.5 369.9,201.5 370.2,201.4 370.5,201.4 370.8,201.4 371.1,201.2 371.4,200.9 371.7,200.4 371.9,200.1 372.0,199.9 372.2,199.8 372.3,199.8 372.6,200.2 372.9,200.6 373.2,200.7 373.5,200.5 373.8,200.2 373.9,200.1 374.0,200.1 374.1,200.1 374.4,200.5 374.7,200.9 375.0,201.2 375.3,201.3 375.6,201.3 375.9,201.4 376.2,201.4 376.5,201.4 376.8,201.4 377.1,201.5 377.4,201.5 377.9,201.5 379.6,201.6"/>
<polyline fill="none" stroke="#e02a35" stroke-width="1.25" stroke-linejoin="round" points="35.9,204.2 37.9,204.3 39.9,204.4 41.9,204.5 43.9,204.7 45.9,204.8 47.9,204.9 49.9,204.8 51.9,204.8 53.9,204.8 55.9,204.8 57.9,205.0 59.9,205.1 61.9,205.1 63.9,205.1 65.9,205.2 67.9,205.2 69.1,205.2 69.3,205.2 69.4,205.2 69.6,205.2 69.7,205.2 69.9,205.1 69.9,205.1 70.0,205.1 70.2,205.1 70.3,205.1 70.5,205.0 70.6,204.9 70.8,204.9 70.9,204.7 71.1,204.4 71.2,203.9 71.4,202.9 71.5,201.3 71.7,198.6 71.8,195.1 71.9,193.0 72.0,191.1 72.1,187.4 72.3,185.6 72.3,185.5 72.4,186.4 72.6,189.5 72.7,193.5 72.9,197.4 73.0,200.4 73.2,202.4 73.3,203.6 73.5,204.3 73.6,204.7 73.8,204.9 73.9,205.0 73.9,205.0 74.1,205.1 74.2,205.1 74.4,205.2 74.5,205.2 74.7,205.2 74.8,205.3 75.0,205.3 75.1,205.3 75.3,205.3 75.4,205.3 75.9,205.3 77.9,205.3 79.9,205.3 81.9,205.4 83.9,205.5 85.9,205.6 87.9,205.7 89.9,205.7 91.9,205.7 93.9,205.7 95.9,205.8 97.9,205.8 99.9,205.8 101.9,205.8 103.9,205.7 105.9,205.6 107.9,205.7 109.9,205.8 111.9,206.0 113.9,206.0 115.9,206.0 117.9,205.9 119.9,205.9 121.9,206.0 123.9,206.0 125.9,206.0 127.9,205.9 129.9,205.9 131.9,205.8 133.9,205.9 135.9,206.0 137.9,206.1 139.5,206.2 139.8,206.2 139.9,206.2 140.1,206.2 140.4,206.2 140.7,206.1 141.0,206.1 141.3,206.1 141.6,206.1 141.9,206.0 142.2,205.8 142.5,205.4 142.8,204.9 143.1,204.5 143.2,204.5 143.4,204.6 143.7,205.0 143.9,205.3 144.0,205.5 144.3,205.8 144.6,205.9 144.9,206.0 145.2,206.0 145.5,206.0 145.8,206.0 145.9,206.0 146.1,206.0 146.4,206.0 146.7,206.0 147.0,206.0 147.3,205.9 147.6,205.8 147.9,205.7 148.2,205.4 148.5,205.2 148.8,205.1 149.1,205.2 149.4,205.5 149.7,205.7 149.9,205.9 150.0,205.9 150.3,206.0 150.6,206.0 150.9,206.1 151.2,206.1 151.5,206.1 151.8,206.1 151.9,206.1 152.1,206.1 152.4,206.1 153.9,206.0 154.9,206.0 155.2,206.0 155.5,205.9 155.8,205.9 155.9,205.9 156.1,205.9 156.4,205.9 156.7,205.8 157.0,205.7 157.3,205.4 157.6,204.7 157.9,203.4 158.2,202.1 158.4,201.8 158.5,201.9 158.8,203.0 159.1,204.4 159.4,205.3 159.7,205.7 159.9,205.8 160.0,205.9 160.3,205.9 160.6,206.0 160.9,206.0 161.2,206.1 161.5,206.1 161.8,206.1 161.9,206.1 163.9,206.3 165.9,206.3 167.9,206.2 169.9,206.1 171.9,206.0 173.4,206.0 173.7,206.0 173.9,206.0 174.0,206.0 174.3,206.0 174.6,206.0 174.9,206.0 175.2,206.0 175.5,206.0 175.8,205.8 175.9,205.7 176.1,205.3 176.4,204.6 176.7,203.8 176.9,203.5 177.0,203.6 177.3,204.3 177.6,205.1 177.9,205.7 178.2,206.0 178.5,206.0 178.8,206.1 179.1,206.1 179.4,206.1 179.7,206.1 179.9,206.1 180.0,206.1 180.3,206.1 181.9,206.1 183.9,206.0 185.9,206.1 187.9,206.2 189.9,206.3 191.9,206.2 193.9,206.0 195.0,205.8 195.2,205.7 195.3,205.7 195.4,205.6 195.6,205.5 195.8,205.4 195.9,205.3 196.1,205.2 196.2,205.1 196.3,204.9 196.5,204.6 196.7,204.3 196.8,203.8 196.9,202.8 197.1,201.0 197.2,197.4 197.4,191.4 197.6,182.1 197.7,170.1 197.8,157.5 197.9,153.7 198.0,148.1 198.1,146.1 198.2,146.6 198.3,153.7 198.4,165.8 198.6,178.4 198.8,188.6 198.9,195.7 199.1,200.0 199.2,202.3 199.3,203.5 199.5,204.1 199.7,204.5 199.8,204.8 199.9,204.9 199.9,205.0 200.1,205.1 200.2,205.2 200.4,205.4 200.6,205.4 200.7,205.5 200.8,205.6 201.0,205.6 201.2,205.7 201.9,205.9 203.9,206.1 205.9,206.1 207.9,206.1 209.9,206.1 211.9,206.2 213.9,206.3 215.9,206.3 217.9,206.3 219.9,206.2 220.7,206.2 221.0,206.1 221.3,206.1 221.6,206.1 221.9,206.1 222.2,206.0 222.5,206.0 222.8,206.0 223.1,205.8 223.4,205.5 223.7,205.0 223.9,204.5 224.0,204.4 224.1,204.3 224.2,204.2 224.3,204.3 224.4,204.4 224.6,204.7 224.7,204.9 224.9,205.3 225.0,205.5 225.2,205.7 225.3,205.8 225.5,205.9 225.6,205.9 225.8,205.9 225.9,205.9 226.1,205.9 226.2,205.9 226.4,205.9 226.5,205.8 226.7,205.7 226.8,205.5 227.0,205.2 227.1,205.0 227.3,204.6 227.4,204.5 227.6,204.3 227.7,204.4 227.9,204.7 228.0,204.9 228.3,205.5 228.6,205.9 228.9,206.1 229.2,206.1 229.5,206.2 229.8,206.2 229.9,206.2 230.1,206.2 230.4,206.2 230.7,206.2 231.0,206.2 231.9,206.2 233.9,206.2 235.9,206.2 237.9,206.2 239.9,206.3 241.9,206.3 243.9,206.3 245.9,206.2 247.9,206.1 249.9,206.0 251.9,206.1 253.9,206.2 255.9,206.3 257.9,206.3 259.9,206.3 261.9,206.2 263.9,206.2 265.9,206.3 267.9,206.3 269.9,206.3 271.9,206.2 273.9,206.1 275.9,206.0 277.9,206.1 279.9,206.2 281.9,206.3 283.9,206.4 285.9,206.3 287.9,206.2 289.9,206.2 291.9,206.2 293.9,206.3 295.9,206.3 297.9,206.2 299.9,206.1 301.9,206.1 303.9,206.1 305.9,206.3 307.9,206.4 309.9,206.4 311.9,206.3 313.9,206.2 315.9,206.2 317.9,206.2 319.9,206.2 321.9,206.2 323.9,206.2 325.9,206.1 327.9,206.1 329.9,206.2 331.9,206.3 333.9,206.4 335.9,206.4 337.9,206.3 339.9,206.2 341.9,206.1 343.9,206.1 344.5,206.1 344.8,206.1 345.1,206.1 345.4,206.1 345.7,206.1 345.9,206.1 346.0,206.1 346.3,206.1 346.6,206.0 346.9,205.8 347.2,205.2 347.5,204.1 347.8,203.0 347.9,202.8 348.0,202.7 348.1,202.8 348.4,203.7 348.7,204.9 349.0,205.6 349.3,206.0 349.6,206.1 349.9,206.1 350.2,206.1 350.5,206.2 350.8,206.2 351.1,206.2 351.4,206.2 351.9,206.2 353.9,206.1 355.9,206.2 357.9,206.3 359.9,206.4 361.9,206.4 363.9,206.3 365.9,206.2 367.9,206.1 368.7,206.1 369.0,206.1 369.3,206.1 369.6,206.1 369.9,206.1 370.2,206.1 370.5,206.1 370.8,206.0 371.1,205.9 371.4,205.7 371.7,205.2 371.9,204.8 372.0,204.7 372.2,204.5 372.3,204.6 372.6,205.0 372.9,205.4 373.2,205.6 373.5,205.4 373.8,205.1 373.9,205.0 374.0,205.0 374.1,205.0 374.4,205.4 374.7,205.8 375.0,206.0 375.3,206.2 375.6,206.2 375.9,206.2 376.2,206.2 376.5,206.2 376.8,206.2 377.1,206.2 377.4,206.2 377.9,206.2 379.6,206.2"/>
<polyline fill="none" stroke="#8c35d9" stroke-width="1.25" stroke-linejoin="round" points="35.9,208.8 37.9,209.0 39.9,209.2 41.9,209.4 43.9,209.4 45.9,209.4 47.9,209.3 49.9,209.4 51.9,209.5 53.9,209.6 55.9,209.6 57.9,209.6 59.9,209.7 61.9,209.7 63.9,209.9 65.9,210.0 67.9,210.1 69.1,210.0 69.3,210.0 69.4,209.9 69.6,209.9 69.7,209.9 69.9,209.9 69.9,209.9 70.0,209.8 70.2,209.8 70.3,209.7 70.5,209.7 70.6,209.6 70.8,209.5 70.9,209.3 71.1,209.0 71.2,208.5 71.4,207.5 71.5,205.8 71.7,203.2 71.8,199.6 71.9,197.5 72.0,195.6 72.1,191.9 72.3,190.1 72.3,190.0 72.4,190.9 72.6,194.0 72.7,198.0 72.9,201.8 73.0,204.8 73.2,206.9 73.3,208.1 73.5,208.8 73.6,209.1 73.8,209.3 73.9,209.4 73.9,209.4 74.1,209.5 74.2,209.6 74.4,209.6 74.5,209.7 74.7,209.7 74.8,209.7 75.0,209.8 75.1,209.8 75.3,209.8 75.4,209.8 75.9,209.9 77.9,210.0 79.9,210.1 81.9,210.2 83.9,210.2 85.9,210.2 87.9,210.3 89.9,210.4 91.9,210.5 93.9,210.5 95.9,210.5 97.9,210.4 99.9,210.3 101.9,210.3 103.9,210.4 105.9,210.5 107.9,210.6 109.9,210.6 111.9,210.5 113.9,210.6 115.9,210.6 117.9,210.7 119.9,210.7 121.9,210.7 123.9,210.6 125.9,210.5 127.9,210.5 129.9,210.6 131.9,210.7 133.9,210.8 135.9,210.8 137.9,210.7 139.5,210.7 139.8,210.7 139.9,210.7 140.1,210.7 140.4,210.7 140.7,210.7 141.0,210.7 141.3,210.7 141.6,210.7 141.9,210.6 142.2,210.4 142.5,210.1 142.8,209.6 143.1,209.2 143.2,209.2 143.4,209.3 143.7,209.8 143.9,210.1 144.0,210.2 144.3,210.5 144.6,210.7 144.9,210.7 145.2,210.8 145.5,210.8 145.8,210.8 145.9,210.8 146.1,210.8 146.4,210.8 146.7,210.8 147.0,210.7 147.3,210.7 147.6,210.6 147.9,210.4 148.2,210.1 148.5,209.9 148.8,209.7 149.1,209.8 149.4,210.1 149.7,210.3 149.9,210.4 150.0,210.5 150.3,210.5 150.6,210.6 150.9,210.6 151.2,210.6 151.5,210.6 151.8,210.6 151.9,210.6 152.1,210.6 152.4,210.6 153.9,210.6 154.9,210.6 155.2,210.6 155.5,210.7 155.8,210.7 155.9,210.7 156.1,210.7 156.4,210.7 156.7,210.6 157.0,210.6 157.3,210.3 157.6,209.6 157.9,208.4 158.2,207.0 158.4,206.7 158.5,206.8 158.8,207.9 159.1,209.3 159.4,210.2 159.7,210.6 159.9,210.7 160.0,210.8 160.3,210.8 160.6,210.8 160.9,210.9 161.2,210.9 161.5,210.9 161.8,210.9 161.9,210.9 163.9,210.8 165.9,210.8 167.9,210.8 169.9,210.8 171.9,210.8 173.4,210.8 173.7,210.8 173.9,210.8 174.0,210.8 174.3,210.8 174.6,210.7 174.9,210.7 175.2,210.7 175.5,210.6 175.8,210.4 175.9,210.3 176.1,209.9 176.4,209.2 176.7,208.3 176.9,208.1 177.0,208.2 177.3,208.8 177.6,209.7 177.9,210.2 178.2,210.5 178.5,210.6 178.8,210.6 179.1,210.6 179.4,210.7 179.7,210.7 179.9,210.7 180.0,210.7 180.3,210.7 181.9,210.8 183.9,210.9 185.9,211.0 187.9,210.9 189.9,210.8 191.9,210.7 193.9,210.6 195.0,210.4 195.2,210.4 195.3,210.3 195.4,210.3 195.6,210.2 195.8,210.1 195.9,210.1 196.1,209.9 196.2,209.8 196.3,209.6 196.5,209.4 196.7,209.1 196.8,208.6 196.9,207.6 197.1,205.8 197.2,202.2 197.4,196.2 197.6,186.9 197.7,174.9 197.8,162.3 197.9,158.6 198.0,152.9 198.1,150.9 198.2,151.4 198.3,158.6 198.4,170.6 198.6,183.2 198.8,193.5 198.9,200.6 199.1,204.8 199.2,207.1 199.3,208.3 199.5,208.9 199.7,209.3 199.8,209.6 199.9,209.7 199.9,209.8 200.1,209.9 200.2,210.0 200.4,210.1 200.6,210.2 200.7,210.3 200.8,210.3 201.0,210.4 201.2,210.4 201.9,210.5 203.9,210.6 205.9,210.7 207.9,210.9 209.9,211.0 211.9,211.0 213.9,211.0 215.9,210.9 217.9,210.8 219.9,210.8 220.7,210.8 221.0,210.8 221.3,210.8 221.6,210.8 221.9,210.8 222.2,210.8 222.5,210.8 222.8,210.7 223.1,210.6 223.4,210.3 223.7,209.8 223.9,209.4 224.0,209.2 224.1,209.1 224.2,209.1 224.3,209.1 224.4,209.2 224.6,209.6 224.7,209.8 224.9,210.2 225.0,210.3 225.2,210.6 225.3,210.6 225.5,210.7 225.6,210.7 225.8,210.8 225.9,210.8 226.1,210.8 226.2,210.7 226.4,210.7 226.5,210.6 226.7,210.4 226.8,210.3 227.0,210.0 227.1,209.8 227.3,209.4 227.4,209.2 227.6,209.0 227.7,209.1 227.9,209.4 228.0,209.6 228.3,210.1 228.6,210.5 228.9,210.7 229.2,210.7 229.5,210.8 229.8,210.8 229.9,210.8 230.1,210.8 230.4,210.8 230.7,210.8 231.0,210.8 231.9,210.8 233.9,210.9 235.9,211.0 237.9,211.1 239.9,211.0 241.9,210.9 243.9,210.8 245.9,210.8 247.9,210.8 249.9,210.9 251.9,210.9 253.9,210.9 255.9,210.9 257.9,210.9 259.9,211.0 261.9,211.0 263.9,211.0 265.9,211.0 267.9,210.8 269.9,210.8 271.9,210.7 273.9,210.8 275.9,210.9 277.9,211.0 279.9,211.0 281.9,210.9 283.9,210.9 285.9,211.0 287.9,211.0 289.9,211.0 291.9,210.9 293.9,210.8 295.9,210.7 297.9,210.8 299.9,210.9 301.9,211.0 303.9,211.0 305.9,211.0 307.9,211.0 309.9,210.9 311.9,210.9 313.9,211.0 315.9,211.0 317.9,210.9 319.9,210.8 321.9,210.8 323.9,210.8 325.9,210.9 327.9,211.0 329.9,211.1 331.9,211.0 333.9,211.0 335.9,210.9 337.9,210.9 339.9,210.9 341.9,210.9 343.9,210.9 344.5,210.9 344.8,210.8 345.1,210.8 345.4,210.8 345.7,210.8 345.9,210.8 346.0,210.7 346.3,210.7 346.6,210.6 346.9,210.3 347.2,209.7 347.5,208.7 347.8,207.6 347.9,207.4 348.0,207.3 348.1,207.4 348.4,208.3 348.7,209.4 349.0,210.2 349.3,210.5 349.6,210.7 349.9,210.7 350.2,210.8 350.5,210.8 350.8,210.8 351.1,210.8 351.4,210.9 351.9,210.9 353.9,211.0 355.9,211.1 357.9,211.0 359.9,210.9 361.9,210.8 363.9,210.8 365.9,210.9 367.9,210.9 368.7,210.9 369.0,210.9 369.3,210.9 369.6,210.9 369.9,210.9 370.2,210.9 370.5,210.8 370.8,210.8 371.1,210.7 371.4,210.4 371.7,209.9 371.9,209.5 372.0,209.4 372.2,209.2 372.3,209.2 372.6,209.6 372.9,210.1 373.2,210.2 373.5,210.0 373.8,209.7 373.9,209.6 374.0,209.6 374.1,209.6 374.4,209.9 374.7,210.3 375.0,210.6 375.3,210.7 375.6,210.8 375.9,210.8 376.2,210.8 376.5,210.9 376.8,210.9 377.1,210.9 377.4,210.9 377.9,210.9 379.6,211.0"/>
<polyline fill="none" stroke="#f0a236" stroke-width="1.25" stroke-linejoin="round" points="35.9,213.8 37.9,213.9 39.9,213.9 41.9,213.9 43.9,213.9 45.9,214.0 47.9,214.1 49.9,214.2 51.9,214.2 53.9,214.1 55.9,214.2 57.9,214.4 59.9,214.5 61.9,214.7 63.9,214.7 65.9,214.6 67.9,214.5 69.1,214.5 69.3,214.5 69.4,214.4 69.6,214.4 69.7,214.4 69.9,214.4 69.9,214.4 70.0,214.4 70.2,214.3 70.3,214.3 70.5,214.2 70.6,214.2 70.8,214.1 70.9,213.9 71.1,213.6 71.2,213.1 71.4,212.1 71.5,210.5 71.7,207.8 71.8,204.3 71.9,202.2 72.0,200.3 72.1,196.6 72.3,194.8 72.3,194.7 72.4,195.6 72.6,198.7 72.7,202.7 72.9,206.6 73.0,209.6 73.2,211.6 73.3,212.9 73.5,213.5 73.6,213.9 73.8,214.1 73.9,214.2 73.9,214.2 74.1,214.3 74.2,214.4 74.4,214.5 74.5,214.5 74.7,214.5 74.8,214.6 75.0,214.6 75.1,214.6 75.3,214.6 75.4,214.6 75.9,214.7 77.9,214.7 79.9,214.7 81.9,214.8 83.9,214.9 85.9,215.1 87.9,215.2 89.9,215.2 91.9,215.1 93.9,215.0 95.9,215.0 97.9,215.0 99.9,215.1 101.9,215.2 103.9,215.1 105.9,215.1 107.9,215.2 109.9,215.2 111.9,215.4 113.9,215.4 115.9,215.4 117.9,215.3 119.9,215.2 121.9,215.2 123.9,215.2 125.9,215.3 127.9,215.4 129.9,215.4 131.9,215.4 133.9,215.4 135.9,215.4 137.9,215.5 139.5,215.5 139.8,215.5 139.9,215.5 140.1,215.5 140.4,215.5 140.7,215.5 141.0,215.5 141.3,215.5 141.6,215.4 141.9,215.3 142.2,215.1 142.5,214.8 142.8,214.3 143.1,213.9 143.2,213.8 143.4,213.9 143.7,214.4 143.9,214.7 144.0,214.8 144.3,215.1 144.6,215.2 144.9,215.3 145.2,215.3 145.5,215.3 145.8,215.3 145.9,215.3 146.1,215.2 146.4,215.2 146.7,215.2 147.0,215.2 147.3,215.2 147.6,215.1 147.9,214.9 148.2,214.7 148.5,214.4 148.8,214.3 149.1,214.4 149.4,214.7 149.7,215.0 149.9,215.1 150.0,215.2 150.3,215.3 150.6,215.3 150.9,215.4 151.2,215.4 151.5,215.4 151.8,215.4 151.9,215.4 152.1,215.4 152.4,215.5 153.9,215.5 154.9,215.5 155.2,215.5 155.5,215.5 155.8,215.5 155.9,215.5 156.1,215.5 156.4,215.4 156.7,215.4 157.0,215.3 157.3,215.0 157.6,214.2 157.9,213.0 158.2,211.7 158.4,211.3 158.5,211.4 158.8,212.5 159.1,213.9 159.4,214.8 159.7,215.2 159.9,215.3 160.0,215.3 160.3,215.4 160.6,215.4 160.9,215.4 161.2,215.4 161.5,215.5 161.8,215.5 161.9,215.5 163.9,215.6 165.9,215.6 167.9,215.6 169.9,215.4 171.9,215.3 173.4,215.3 173.7,215.3 173.9,215.3 174.0,215.3 174.3,215.3 174.6,215.3 174.9,215.3 175.2,215.3 175.5,215.3 175.8,215.1 175.9,215.0 176.1,214.7 176.4,213.9 176.7,213.1 176.9,212.9 177.0,213.0 177.3,213.7 177.6,214.5 177.9,215.1 178.2,215.4 178.5,215.5 178.8,215.5 179.1,215.6 179.4,215.6 179.7,215.6 179.9,215.6 180.0,215.6 180.3,215.6 181.9,215.6 183.9,215.6 185.9,215.5 187.9,215.5 189.9,215.5 191.9,215.5 193.9,215.3 195.0,215.1 195.2,215.1 195.3,215.0 195.4,215.0 195.6,214.9 195.8,214.8 195.9,214.7 196.1,214.6 196.2,214.4 196.3,214.2 196.5,214.0 196.7,213.7 196.8,213.1 196.9,212.2 197.1,210.3 197.2,206.8 197.4,200.7 197.6,191.5 197.7,179.5 197.8,166.8 197.9,163.1 198.0,157.5 198.1,155.4 198.2,155.9 198.3,163.1 198.4,175.2 198.6,187.7 198.8,198.0 198.9,205.1 199.1,209.3 199.2,211.6 199.3,212.8 199.5,213.5 199.7,213.9 199.8,214.1 199.9,214.2 199.9,214.3 200.1,214.5 200.2,214.6 200.4,214.7 200.6,214.8 200.7,214.9 200.8,214.9 201.0,215.0 201.2,215.0 201.9,215.2 203.9,215.5 205.9,215.6 207.9,215.7 209.9,215.6 211.9,215.5 213.9,215.5 215.9,215.6 217.9,215.6 219.9,215.6 220.7,215.5 221.0,215.5 221.3,215.5 221.6,215.5 221.9,215.5 222.2,215.5 222.5,215.4 222.8,215.4 223.1,215.2 223.4,214.9 223.7,214.4 223.9,214.0 224.0,213.8 224.1,213.7 224.2,213.6 224.3,213.7 224.4,213.8 224.6,214.1 224.7,214.3 224.9,214.7 225.0,214.9 225.2,215.1 225.3,215.2 225.5,215.3 225.6,215.3 225.8,215.3 225.9,215.3 226.1,215.3 226.2,215.3 226.4,215.3 226.5,215.2 226.7,215.0 226.8,214.9 227.0,214.6 227.1,214.4 227.3,214.0 227.4,213.9 227.6,213.7 227.7,213.8 227.9,214.1 228.0,214.3 228.3,214.9 228.6,215.3 228.9,215.5 229.2,215.6 229.5,215.6 229.8,215.6 229.9,215.6 230.1,215.7 230.4,215.7 230.7,215.7 231.0,215.7 231.9,215.7 233.9,215.7 235.9,215.6 237.9,215.5 239.9,215.5 241.9,215.5 243.9,215.6 245.9,215.6 247.9,215.5 249.9,215.5 251.9,215.5 253.9,215.6 255.9,215.7 257.9,215.8 259.9,215.7 261.9,215.6 263.9,215.5 265.9,215.5 267.9,215.5 269.9,215.6 271.9,215.6 273.9,215.6 275.9,215.6 277.9,215.6 279.9,215.6 281.9,215.7 283.9,215.8 285.9,215.7 287.9,215.6 289.9,215.5 291.9,215.4 293.9,215.5 295.9,215.6 297.9,215.7 299.9,215.7 301.9,215.6 303.9,215.6 305.9,215.6 307.9,215.7 309.9,215.7 311.9,215.7 313.9,215.6 315.9,215.5 317.9,215.4 319.9,215.5 321.9,215.6 323.9,215.7 325.9,215.7 327.9,215.7 329.9,215.6 331.9,215.6 333.9,215.7 335.9,215.7 337.9,215.6 339.9,215.5 341.9,215.4 343.9,215.4 344.5,215.4 344.8,215.4 345.1,215.4 345.4,215.4 345.7,215.4 345.9,215.4 346.0,215.4 346.3,215.4 346.6,215.4 346.9,215.1 347.2,214.6 347.5,213.5 347.8,212.4 347.9,212.2 348.0,212.2 348.1,212.2 348.4,213.2 348.7,214.3 349.0,215.1 349.3,215.5 349.6,215.6 349.9,215.6 350.2,215.7 350.5,215.7 350.8,215.7 351.1,215.7 351.4,215.7 351.9,215.7 353.9,215.7 355.9,215.6 357.9,215.6 359.9,215.6 361.9,215.6 363.9,215.6 365.9,215.5 367.9,215.5 368.7,215.4 369.0,215.4 369.3,215.4 369.6,215.4 369.9,215.4 370.2,215.4 370.5,215.4 370.8,215.4 371.1,215.3 371.4,215.0 371.7,214.6 371.9,214.2 372.0,214.1 372.2,213.9 372.3,214.0 372.6,214.4 372.9,214.8 373.2,215.0 373.5,214.8 373.8,214.5 373.9,214.5 374.0,214.4 374.1,214.5 374.4,214.8 374.7,215.2 375.0,215.5 375.3,215.6 375.6,215.7 375.9,215.7 376.2,215.7 376.5,215.8 376.8,215.8 377.1,215.8 377.4,215.8 377.9,215.7 379.6,215.7"/>
<polyline fill="none" stroke="#3b9a45" stroke-width="1.25" stroke-linejoin="round" points="35.9,218.3 37.9,218.4 39.9,218.6 41.9,218.7 43.9,218.7 45.9,218.7 47.9,218.7 49.9,218.7 51.9,218.8 53.9,219.0 55.9,219.1 57.9,219.2 59.9,219.2 61.9,219.2 63.9,219.2 65.9,219.3 67.9,219.3 69.1,219.3 69.3,219.3 69.4,219.2 69.6,219.2 69.7,219.2 69.9,219.2 69.9,219.2 70.0,219.1 70.2,219.1 70.3,219.1 70.5,219.0 70.6,218.9 70.8,218.8 70.9,218.6 71.1,218.4 71.2,217.8 71.4,216.9 71.5,215.2 71.7,212.5 71.8,209.0 71.9,206.8 72.0,204.9 72.1,201.3 72.3,199.4 72.3,199.4 72.4,200.2 72.6,203.3 72.7,207.4 72.9,211.2 73.0,214.2 73.2,216.2 73.3,217.5 73.5,218.1 73.6,218.5 73.8,218.7 73.9,218.8 73.9,218.8 74.1,218.9 74.2,218.9 74.4,219.0 74.5,219.0 74.7,219.1 74.8,219.1 75.0,219.1 75.1,219.1 75.3,219.2 75.4,219.2 75.9,219.2 77.9,219.4 79.9,219.6 81.9,219.7 83.9,219.8 85.9,219.7 87.9,219.7 89.9,219.7 91.9,219.7 93.9,219.8 95.9,219.8 97.9,219.8 99.9,219.7 101.9,219.7 103.9,219.8 105.9,219.9 107.9,220.1 109.9,220.1 111.9,220.0 113.9,219.9 115.9,219.9 117.9,219.9 119.9,220.0 121.9,220.0 123.9,220.0 125.9,220.0 127.9,220.0 129.9,220.0 131.9,220.2 133.9,220.2 135.9,220.2 137.9,220.1 139.5,220.0 139.8,220.0 139.9,220.0 140.1,220.0 140.4,220.0 140.7,220.0 141.0,220.0 141.3,219.9 141.6,219.9 141.9,219.8 142.2,219.6 142.5,219.3 142.8,218.8 143.1,218.4 143.2,218.4 143.4,218.5 143.7,219.0 143.9,219.3 144.0,219.4 144.3,219.7 144.6,219.9 144.9,220.0 145.2,220.0 145.5,220.0 145.8,220.0 145.9,220.0 146.1,220.0 146.4,220.1 146.7,220.1 147.0,220.1 147.3,220.0 147.6,220.0 147.9,219.8 148.2,219.5 148.5,219.3 148.8,219.1 149.1,219.3 149.4,219.5 149.7,219.8 149.9,219.9 150.0,220.0 150.3,220.1 150.6,220.1 150.9,220.1 151.2,220.1 151.5,220.1 151.8,220.1 151.9,220.1 152.1,220.1 152.4,220.1 153.9,220.1 154.9,220.1 155.2,220.1 155.5,220.1 155.8,220.1 155.9,220.1 156.1,220.1 156.4,220.1 156.7,220.1 157.0,220.0 157.3,219.7 157.6,219.0 157.9,217.7 158.2,216.4 158.4,216.1 158.5,216.2 158.8,217.3 159.1,218.7 159.4,219.6 159.7,220.0 159.9,220.1 160.0,220.2 160.3,220.2 160.6,220.2 160.9,220.3 161.2,220.3 161.5,220.3 161.8,220.3 161.9,220.3 163.9,220.2 165.9,220.1 167.9,220.0 169.9,220.1 171.9,220.1 173.4,220.2 173.7,220.2 173.9,220.2 174.0,220.2 174.3,220.2 174.6,220.2 174.9,220.2 175.2,220.2 175.5,220.1 175.8,219.9 175.9,219.8 176.1,219.5 176.4,218.7 176.7,217.9 176.9,217.7 177.0,217.7 177.3,218.4 177.6,219.2 177.9,219.8 178.2,220.0 178.5,220.1 178.8,220.2 179.1,220.2 179.4,220.2 179.7,220.2 179.9,220.2 180.0,220.2 180.3,220.2 181.9,220.2 183.9,220.3 185.9,220.3 187.9,220.3 189.9,220.2 191.9,220.0 193.9,219.8 195.0,219.7 195.2,219.6 195.3,219.6 195.4,219.5 195.6,219.5 195.8,219.4 195.9,219.3 196.1,219.2 196.2,219.1 196.3,218.9 196.5,218.7 196.7,218.4 196.8,217.9 196.9,216.9 197.1,215.1 197.2,211.6 197.4,205.5 197.6,196.3 197.7,184.3 197.8,171.6 197.9,167.9 198.0,162.3 198.1,160.2 198.2,160.8 198.3,167.9 198.4,180.0 198.6,192.6 198.8,202.9 198.9,210.0 199.1,214.2 199.2,216.5 199.3,217.7 199.5,218.4 199.7,218.8 199.8,219.0 199.9,219.2 199.9,219.2 200.1,219.4 200.2,219.5 200.4,219.6 200.6,219.7 200.7,219.8 200.8,219.8 201.0,219.9 201.2,219.9 201.9,220.1 203.9,220.2 205.9,220.2 207.9,220.2 209.9,220.3 211.9,220.3 213.9,220.3 215.9,220.2 217.9,220.1 219.9,220.1 220.7,220.1 221.0,220.1 221.3,220.1 221.6,220.1 221.9,220.1 222.2,220.1 222.5,220.1 222.8,220.1 223.1,220.0 223.4,219.7 223.7,219.2 223.9,218.8 224.0,218.6 224.1,218.5 224.2,218.5 224.3,218.5 224.4,218.6 224.6,219.0 224.7,219.2 224.9,219.6 225.0,219.8 225.2,220.0 225.3,220.1 225.5,220.2 225.6,220.2 225.8,220.3 225.9,220.3 226.1,220.3 226.2,220.2 226.4,220.2 226.5,220.1 226.7,220.0 226.8,219.8 227.0,219.5 227.1,219.3 227.3,218.9 227.4,218.8 227.6,218.6 227.7,218.6 227.9,218.9 228.0,219.1 228.3,219.7 228.6,220.1 228.9,220.3 229.2,220.3 229.5,220.3 229.8,220.3 229.9,220.3 230.1,220.3 230.4,220.3 230.7,220.3 231.0,220.3 231.9,220.3 233.9,220.2 235.9,220.3 237.9,220.3 239.9,220.3 241.9,220.2 243.9,220.2 245.9,220.1 247.9,220.2 249.9,220.3 251.9,220.4 253.9,220.4 255.9,220.4 257.9,220.3 259.9,220.2 261.9,220.2 263.9,220.3 265.9,220.3 267.9,220.3 269.9,220.2 271.9,220.2 273.9,220.2 275.9,220.4 277.9,220.5 279.9,220.5 281.9,220.4 283.9,220.3 285.9,220.2 287.9,220.2 289.9,220.3 291.9,220.3 293.9,220.3 295.9,220.2 297.9,220.2 299.9,220.3 301.9,220.4 303.9,220.5 305.9,220.4 307.9,220.3 309.9,220.2 311.9,220.1 313.9,220.2 315.9,220.2 317.9,220.3 319.9,220.3 321.9,220.3 323.9,220.3 325.9,220.3 327.9,220.4 329.9,220.4 331.9,220.4 333.9,220.3 335.9,220.2 337.9,220.1 339.9,220.2 341.9,220.2 343.9,220.3 344.5,220.3 344.8,220.3 345.1,220.3 345.4,220.3 345.7,220.3 345.9,220.3 346.0,220.3 346.3,220.3 346.6,220.2 346.9,219.9 347.2,219.3 347.5,218.3 347.8,217.1 347.9,216.9 348.0,216.8 348.1,216.9 348.4,217.8 348.7,219.0 349.0,219.7 349.3,220.0 349.6,220.2 349.9,220.2 350.2,220.2 350.5,220.2 350.8,220.3 351.1,220.3 351.4,220.3 351.9,220.3 353.9,220.3 355.9,220.4 357.9,220.4 359.9,220.3 361.9,220.2 363.9,220.1 365.9,220.2 367.9,220.3 368.7,220.3 369.0,220.3 369.3,220.3 369.6,220.3 369.9,220.4 370.2,220.4 370.5,220.3 370.8,220.3 371.1,220.2 371.4,219.9 371.7,219.4 371.9,219.1 372.0,218.9 372.2,218.8 372.3,218.8 372.6,219.2 372.9,219.6 373.2,219.8 373.5,219.6 373.8,219.2 373.9,219.2 374.0,219.1 374.1,219.2 374.4,219.5 374.7,219.9 375.0,220.1 375.3,220.2 375.6,220.3 375.9,220.3 376.2,220.3 376.5,220.3 376.8,220.3 377.1,220.3 377.4,220.3 377.9,220.3 379.6,220.3"/>
<polyline fill="none" stroke="#2a2ad6" stroke-width="1.25" stroke-linejoin="round" points="35.9,223.2 37.9,223.3 39.9,223.2 41.9,223.2 43.9,223.2 45.9,223.3 47.9,223.4 49.9,223.6 51.9,223.7 53.9,223.7 55.9,223.7 57.9,223.8 59.9,223.9 61.9,224.0 63.9,224.0 65.9,224.0 67.9,223.9 69.1,223.8 69.3,223.7 69.4,223.7 69.6,223.7 69.7,223.7 69.9,223.7 69.9,223.6 70.0,223.6 70.2,223.6 70.3,223.5 70.5,223.5 70.6,223.4 70.8,223.3 70.9,223.2 71.1,222.9 71.2,222.4 71.4,221.4 71.5,219.7 71.7,217.1 71.8,213.6 71.9,211.4 72.0,209.5 72.1,205.9 72.3,204.0 72.3,204.0 72.4,204.9 72.6,208.0 72.7,212.0 72.9,215.9 73.0,218.9 73.2,220.9 73.3,222.2 73.5,222.9 73.6,223.2 73.8,223.4 73.9,223.6 73.9,223.6 74.1,223.7 74.2,223.7 74.4,223.8 74.5,223.9 74.7,223.9 74.8,223.9 75.0,224.0 75.1,224.0 75.3,224.0 75.4,224.1 75.9,224.1 77.9,224.3 79.9,224.3 81.9,224.3 83.9,224.3 85.9,224.4 87.9,224.4 89.9,224.5 91.9,224.4 93.9,224.3 95.9,224.3 97.9,224.4 99.9,224.5 101.9,224.6 103.9,224.7 105.9,224.7 107.9,224.6 109.9,224.6 111.9,224.6 113.9,224.7 115.9,224.7 117.9,224.6 119.9,224.6 121.9,224.5 123.9,224.6 125.9,224.7 127.9,224.9 129.9,224.9 131.9,224.9 133.9,224.8 135.9,224.7 137.9,224.7 139.5,224.7 139.8,224.7 139.9,224.7 140.1,224.8 140.4,224.8 140.7,224.8 141.0,224.8 141.3,224.7 141.6,224.7 141.9,224.6 142.2,224.4 142.5,224.1 142.8,223.6 143.1,223.2 143.2,223.2 143.4,223.3 143.7,223.7 143.9,224.1 144.0,224.2 144.3,224.5 144.6,224.6 144.9,224.7 145.2,224.7 145.5,224.7 145.8,224.7 145.9,224.7 146.1,224.7 146.4,224.7 146.7,224.7 147.0,224.7 147.3,224.6 147.6,224.5 147.9,224.4 148.2,224.1 148.5,223.8 148.8,223.7 149.1,223.9 149.4,224.1 149.7,224.4 149.9,224.5 150.0,224.6 150.3,224.7 150.6,224.7 150.9,224.8 151.2,224.8 151.5,224.8 151.8,224.8 151.9,224.9 152.1,224.9 152.4,224.9 153.9,225.0 154.9,225.0 155.2,225.0 155.5,225.0 155.8,225.0 155.9,225.0 156.1,224.9 156.4,224.9 156.7,224.9 157.0,224.8 157.3,224.5 157.6,223.7 157.9,222.5 158.2,221.1 158.4,220.7 158.5,220.8 158.8,221.9 159.1,223.3 159.4,224.2 159.7,224.6 159.9,224.7 160.0,224.7 160.3,224.7 160.6,224.7 160.9,224.7 161.2,224.7 161.5,224.7 161.8,224.7 161.9,224.7 163.9,224.7 165.9,224.8 167.9,224.9 169.9,224.9 171.9,224.8 173.4,224.8 173.7,224.8 173.9,224.8 174.0,224.8 174.3,224.8 174.6,224.8 174.9,224.8 175.2,224.8 175.5,224.7 175.8,224.5 175.9,224.4 176.1,224.1 176.4,223.3 176.7,222.5 176.9,222.3 177.0,222.4 177.3,223.1 177.6,223.9 177.9,224.5 178.2,224.8 178.5,224.9 178.8,224.9 179.1,225.0 179.4,225.0 179.7,225.0 179.9,225.0 180.0,225.0 180.3,225.0 181.9,225.1 183.9,225.0 185.9,224.8 187.9,224.7 189.9,224.7 191.9,224.8 193.9,224.7 195.0,224.6 195.2,224.5 195.3,224.5 195.4,224.4 195.6,224.4 195.8,224.3 195.9,224.2 196.1,224.1 196.2,223.9 196.3,223.8 196.5,223.5 196.7,223.2 196.8,222.7 196.9,221.7 197.1,219.8 197.2,216.3 197.4,210.3 197.6,201.0 197.7,189.0 197.8,176.4 197.9,172.6 198.0,167.0 198.1,164.9 198.2,165.5 198.3,172.6 198.4,184.7 198.6,197.2 198.8,207.5 198.9,214.6 199.1,218.9 199.2,221.2 199.3,222.4 199.5,223.0 199.7,223.4 199.8,223.6 199.9,223.8 199.9,223.8 200.1,224.0 200.2,224.1 200.4,224.2 200.6,224.3 200.7,224.3 200.8,224.4 201.0,224.5 201.2,224.5 201.9,224.7 203.9,224.9 205.9,225.0 207.9,225.0 209.9,225.0 211.9,224.8 213.9,224.8 215.9,224.8 217.9,224.9 219.9,225.0 220.7,225.0 221.0,225.0 221.3,225.0 221.6,225.0 221.9,225.0 222.2,225.0 222.5,225.0 222.8,224.9 223.1,224.8 223.4,224.5 223.7,223.9 223.9,223.5 224.0,223.4 224.1,223.2 224.2,223.2 224.3,223.2 224.4,223.3 224.6,223.7 224.7,223.9 224.9,224.3 225.0,224.4 225.2,224.6 225.3,224.7 225.5,224.8 225.6,224.8 225.8,224.9 225.9,224.9 226.1,224.8 226.2,224.8 226.4,224.8 226.5,224.7 226.7,224.5 226.8,224.4 227.0,224.1 227.1,223.9 227.3,223.5 227.4,223.3 227.6,223.1 227.7,223.2 227.9,223.5 228.0,223.7 228.3,224.3 228.6,224.7 228.9,224.8 229.2,224.9 229.5,224.9 229.8,225.0 229.9,225.0 230.1,225.0 230.4,225.0 230.7,225.0 231.0,225.0 231.9,225.0 233.9,225.1 235.9,225.0 237.9,224.9 239.9,224.8 241.9,224.8 243.9,224.9 245.9,225.0 247.9,225.1 249.9,225.1 251.9,225.0 253.9,225.0 255.9,225.0 257.9,225.0 259.9,225.0 261.9,225.0 263.9,224.9 265.9,224.8 267.9,224.8 269.9,225.0 271.9,225.1 273.9,225.1 275.9,225.1 277.9,225.0 279.9,224.9 281.9,224.9 283.9,225.0 285.9,225.0 287.9,225.0 289.9,224.9 291.9,224.9 293.9,224.9 295.9,225.0 297.9,225.1 299.9,225.2 301.9,225.1 303.9,225.0 305.9,224.9 307.9,224.9 309.9,224.9 311.9,225.0 313.9,225.0 315.9,224.9 317.9,224.9 319.9,224.9 321.9,225.0 323.9,225.1 325.9,225.2 327.9,225.1 329.9,225.0 331.9,224.9 333.9,224.9 335.9,224.9 337.9,225.0 339.9,225.0 341.9,225.0 343.9,224.9 344.5,224.9 344.8,224.9 345.1,224.9 345.4,224.9 345.7,224.9 345.9,224.9 346.0,224.9 346.3,224.9 346.6,224.8 346.9,224.6 347.2,224.0 347.5,222.9 347.8,221.8 347.9,221.6 348.0,221.6 348.1,221.6 348.4,222.6 348.7,223.7 349.0,224.5 349.3,224.8 349.6,225.0 349.9,225.0 350.2,225.1 350.5,225.1 350.8,225.1 351.1,225.1 351.4,225.1 351.9,225.1 353.9,225.0 355.9,224.9 357.9,224.8 359.9,224.8 361.9,224.9 363.9,225.0 365.9,225.0 367.9,225.0 368.7,225.0 369.0,225.0 369.3,225.0 369.6,225.0 369.9,225.0 370.2,224.9 370.5,224.9 370.8,224.9 371.1,224.8 371.4,224.5 371.7,224.0 371.9,223.6 372.0,223.5 372.2,223.4 372.3,223.4 372.6,223.8 372.9,224.2 373.2,224.4 373.5,224.2 373.8,223.9 373.9,223.8 374.0,223.8 374.1,223.8 374.4,224.2 374.7,224.6 375.0,224.8 375.3,225.0 375.6,225.0 375.9,225.1 376.2,225.1 376.5,225.1 376.8,225.1 377.1,225.1 377.4,225.1 377.9,225.1 379.6,225.0"/>
<polyline fill="none" stroke="#e02a35" stroke-width="1.25" stroke-linejoin="round" points="35.9,227.7 37.9,227.7 39.9,227.8 41.9,227.9 43.9,228.0 45.9,228.1 47.9,228.1 49.9,228.2 51.9,228.2 53.9,228.4 55.9,228.5 57.9,228.6 59.9,228.6 61.9,228.5 63.9,228.5 65.9,228.5 67.9,228.5 69.1,228.6 69.3,228.5 69.4,228.5 69.6,228.5 69.7,228.5 69.9,228.5 69.9,228.5 70.0,228.5 70.2,228.4 70.3,228.4 70.5,228.4 70.6,228.3 70.8,228.2 70.9,228.0 71.1,227.8 71.2,227.3 71.4,226.3 71.5,224.6 71.7,222.0 71.8,218.5 71.9,216.3 72.0,214.4 72.1,210.8 72.3,208.9 72.3,208.8 72.4,209.7 72.6,212.8 72.7,216.9 72.9,220.7 73.0,223.7 73.2,225.7 73.3,227.0 73.5,227.7 73.6,228.0 73.8,228.2 73.9,228.3 73.9,228.3 74.1,228.4 74.2,228.5 74.4,228.5 74.5,228.6 74.7,228.6 74.8,228.6 75.0,228.7 75.1,228.7 75.3,228.7 75.4,228.7 75.9,228.7 77.9,228.8 79.9,229.0 81.9,229.1 83.9,229.1 85.9,229.1 87.9,229.0 89.9,228.9 91.9,228.9 93.9,229.0 95.9,229.2 97.9,229.3 99.9,229.3 101.9,229.3 103.9,229.2 105.9,229.3 107.9,229.4 109.9,229.4 111.9,229.4 113.9,229.3 115.9,229.2 117.9,229.2 119.9,229.3 121.9,229.4 123.9,229.5 125.9,229.5 127.9,229.5 129.9,229.4 131.9,229.4 133.9,229.5 135.9,229.5 137.9,229.5 139.5,229.4 139.8,229.4 139.9,229.4 140.1,229.4 140.4,229.4 140.7,229.3 141.0,229.3 141.3,229.3 141.6,229.3 141.9,229.2 142.2,229.0 142.5,228.6 142.8,228.1 143.1,227.8 143.2,227.7 143.4,227.8 143.7,228.3 143.9,228.6 144.0,228.8 144.3,229.1 144.6,229.2 144.9,229.3 145.2,229.4 145.5,229.4 145.8,229.4 145.9,229.4 146.1,229.4 146.4,229.4 146.7,229.5 147.0,229.5 147.3,229.5 147.6,229.4 147.9,229.2 148.2,229.0 148.5,228.7 148.8,228.6 149.1,228.8 149.4,229.1 149.7,229.3 149.9,229.5 150.0,229.5 150.3,229.6 150.6,229.6 150.9,229.6 151.2,229.6 151.5,229.6 151.8,229.6 151.9,229.6 152.1,229.6 152.4,229.6 153.9,229.6 154.9,229.5 155.2,229.5 155.5,229.5 155.8,229.5 155.9,229.4 156.1,229.4 156.4,229.4 156.7,229.4 157.0,229.2 157.3,229.0 157.6,228.2 157.9,227.0 158.2,225.7 158.4,225.3 158.5,225.4 158.8,226.5 159.1,227.9 159.4,228.8 159.7,229.2 159.9,229.3 160.0,229.4 160.3,229.4 160.6,229.5 160.9,229.5 161.2,229.5 161.5,229.5 161.8,229.5 161.9,229.5 163.9,229.5 165.9,229.5 167.9,229.4 169.9,229.5 171.9,229.6 173.4,229.6 173.7,229.7 173.9,229.7 174.0,229.7 174.3,229.7 174.6,229.7 174.9,229.7 175.2,229.7 175.5,229.6 175.8,229.4 175.9,229.3 176.1,229.0 176.4,228.2 176.7,227.4 176.9,227.2 177.0,227.2 177.3,227.9 177.6,228.7 177.9,229.3 178.2,229.5 178.5,229.6 178.8,229.6 179.1,229.6 179.4,229.6 179.7,229.6 179.9,229.6 180.0,229.6 180.3,229.6 181.9,229.5 183.9,229.5 185.9,229.5 187.9,229.6 189.9,229.6 191.9,229.5 193.9,229.3 195.0,229.1 195.2,229.1 195.3,229.0 195.4,229.0 195.6,228.9 195.8,228.9 195.9,228.8 196.1,228.7 196.2,228.5 196.3,228.3 196.5,228.1 196.7,227.8 196.8,227.3 196.9,226.3 197.1,224.5 197.2,221.0 197.4,214.9 197.6,205.7 197.7,193.7 197.8,181.0 197.9,177.3 198.0,171.7 198.1,169.7 198.2,170.2 198.3,177.3 198.4,189.4 198.6,202.0 198.8,212.3 198.9,219.4 199.1,223.7 199.2,226.0 199.3,227.2 199.5,227.8 199.7,228.2 199.8,228.5 199.9,228.6 199.9,228.7 200.1,228.8 200.2,228.9 200.4,229.0 200.6,229.1 200.7,229.2 200.8,229.3 201.0,229.3 201.2,229.4 201.9,229.5 203.9,229.6 205.9,229.6 207.9,229.5 209.9,229.5 211.9,229.5 213.9,229.6 215.9,229.7 217.9,229.6 219.9,229.6 220.7,229.6 221.0,229.6 221.3,229.6 221.6,229.6 221.9,229.6 222.2,229.6 222.5,229.6 222.8,229.5 223.1,229.4 223.4,229.1 223.7,228.6 223.9,228.2 224.0,228.0 224.1,227.9 224.2,227.9 224.3,227.9 224.4,228.0 224.6,228.4 224.7,228.6 224.9,229.0 225.0,229.2 225.2,229.4 225.3,229.5 225.5,229.6 225.6,229.6 225.8,229.6 225.9,229.6 226.1,229.6 226.2,229.6 226.4,229.6 226.5,229.5 226.7,229.4 226.8,229.2 227.0,228.9 227.1,228.7 227.3,228.3 227.4,228.1 227.6,228.0 227.7,228.0 227.9,228.3 228.0,228.5 228.3,229.1 228.6,229.5 228.9,229.7 229.2,229.7 229.5,229.7 229.8,229.7 229.9,229.7 230.1,229.7 230.4,229.7 230.7,229.7 231.0,229.7 231.9,229.6 233.9,229.5 235.9,229.5 237.9,229.6 239.9,229.6 241.9,229.7 243.9,229.7 245.9,229.7 247.9,229.7 249.9,229.7 251.9,229.8 253.9,229.8 255.9,229.7 257.9,229.6 259.9,229.5 261.9,229.5 263.9,229.6 265.9,229.7 267.9,229.8 269.9,229.8 271.9,229.7 273.9,229.7 275.9,229.7 277.9,229.7 279.9,229.7 281.9,229.7 283.9,229.6 285.9,229.5 287.9,229.5 289.9,229.6 291.9,229.7 293.9,229.8 295.9,229.8 297.9,229.7 299.9,229.7 301.9,229.6 303.9,229.7 305.9,229.7 307.9,229.7 309.9,229.6 311.9,229.5 313.9,229.5 315.9,229.6 317.9,229.8 319.9,229.8 321.9,229.8 323.9,229.7 325.9,229.6 327.9,229.6 329.9,229.6 331.9,229.7 333.9,229.7 335.9,229.6 337.9,229.6 339.9,229.6 341.9,229.7 343.9,229.8 344.5,229.8 344.8,229.8 345.1,229.8 345.4,229.8 345.7,229.8 345.9,229.8 346.0,229.8 346.3,229.7 346.6,229.6 346.9,229.4 347.2,228.8 347.5,227.7 347.8,226.6 347.9,226.4 348.0,226.3 348.1,226.4 348.4,227.3 348.7,228.4 349.0,229.2 349.3,229.5 349.6,229.6 349.9,229.6 350.2,229.6 350.5,229.6 350.8,229.6 351.1,229.6 351.4,229.6 351.9,229.6 353.9,229.6 355.9,229.6 357.9,229.7 359.9,229.7 361.9,229.7 363.9,229.6 365.9,229.6 367.9,229.7 368.7,229.7 369.0,229.7 369.3,229.7 369.6,229.8 369.9,229.8 370.2,229.8 370.5,229.8 370.8,229.7 371.1,229.6 371.4,229.3 371.7,228.9 371.9,228.5 372.0,228.4 372.2,228.2 372.3,228.2 372.6,228.6 372.9,229.1 373.2,229.2 373.5,229.0 373.8,228.6 373.9,228.6 374.0,228.5 374.1,228.6 374.4,228.9 374.7,229.3 375.0,229.5 375.3,229.6 375.6,229.6 375.9,229.6 376.2,229.6 376.5,229.6 376.8,229.6 377.1,229.6 377.4,229.6 377.9,229.6 379.6,229.5"/>
<polyline fill="none" stroke="#8c35d9" stroke-width="1.25" stroke-linejoin="round" points="35.9,232.4 37.9,232.5 39.9,232.6 41.9,232.6 43.9,232.6 45.9,232.7 47.9,232.8 49.9,233.0 51.9,233.2 53.9,233.2 55.9,233.2 57.9,233.1 59.9,233.1 61.9,233.2 63.9,233.3 65.9,233.3 67.9,233.3 69.1,233.2 69.3,233.2 69.4,233.2 69.6,233.2 69.7,233.2 69.9,233.1 69.9,233.1 70.0,233.1 70.2,233.1 70.3,233.0 70.5,233.0 70.6,232.9 70.8,232.8 70.9,232.6 71.1,232.4 71.2,231.8 71.4,230.9 71.5,229.2 71.7,226.6 71.8,223.0 71.9,220.9 72.0,219.0 72.1,215.3 72.3,213.5 72.3,213.4 72.4,214.3 72.6,217.4 72.7,221.5 72.9,225.3 73.0,228.3 73.2,230.4 73.3,231.6 73.5,232.3 73.6,232.7 73.8,232.9 73.9,233.0 73.9,233.0 74.1,233.1 74.2,233.2 74.4,233.2 74.5,233.3 74.7,233.3 74.8,233.4 75.0,233.4 75.1,233.4 75.3,233.4 75.4,233.5 75.9,233.5 77.9,233.7 79.9,233.8 81.9,233.7 83.9,233.6 85.9,233.6 87.9,233.6 89.9,233.7 91.9,233.8 93.9,233.8 95.9,233.8 97.9,233.8 99.9,233.9 101.9,234.0 103.9,234.1 105.9,234.1 107.9,234.0 109.9,233.9 111.9,233.8 113.9,233.9 115.9,234.0 117.9,234.1 119.9,234.1 121.9,234.1 123.9,234.1 125.9,234.1 127.9,234.2 129.9,234.2 131.9,234.2 133.9,234.1 135.9,234.0 137.9,234.0 139.5,234.0 139.8,234.0 139.9,234.0 140.1,234.0 140.4,234.1 140.7,234.1 141.0,234.1 141.3,234.1 141.6,234.1 141.9,234.0 142.2,233.8 142.5,233.5 142.8,233.0 143.1,232.7 143.2,232.6 143.4,232.8 143.7,233.2 143.9,233.5 144.0,233.7 144.3,234.0 144.6,234.2 144.9,234.2 145.2,234.2 145.5,234.3 145.8,234.3 145.9,234.3 146.1,234.3 146.4,234.3 146.7,234.2 147.0,234.2 147.3,234.2 147.6,234.1 147.9,233.9 148.2,233.6 148.5,233.4 148.8,233.2 149.1,233.4 149.4,233.6 149.7,233.9 149.9,234.0 150.0,234.0 150.3,234.1 150.6,234.2 150.9,234.2 151.2,234.2 151.5,234.2 151.8,234.2 151.9,234.2 152.1,234.2 152.4,234.2 153.9,234.2 154.9,234.3 155.2,234.3 155.5,234.2 155.8,234.2 155.9,234.2 156.1,234.2 156.4,234.2 156.7,234.2 157.0,234.1 157.3,233.8 157.6,233.0 157.9,231.8 158.2,230.4 158.4,230.1 158.5,230.2 158.8,231.3 159.1,232.6 159.4,233.5 159.7,233.9 159.9,234.0 160.0,234.0 160.3,234.1 160.6,234.1 160.9,234.1 161.2,234.1 161.5,234.1 161.8,234.1 161.9,234.1 163.9,234.1 165.9,234.1 167.9,234.3 169.9,234.4 171.9,234.4 173.4,234.4 173.7,234.3 173.9,234.3 174.0,234.3 174.3,234.3 174.6,234.3 174.9,234.3 175.2,234.2 175.5,234.1 175.8,234.0 175.9,233.8 176.1,233.5 176.4,232.7 176.7,231.9 176.9,231.7 177.0,231.7 177.3,232.4 177.6,233.3 177.9,233.8 178.2,234.1 178.5,234.2 178.8,234.2 179.1,234.2 179.4,234.2 179.7,234.2 179.9,234.3 180.0,234.3 180.3,234.3 181.9,234.3 183.9,234.3 185.9,234.2 187.9,234.1 189.9,234.1 191.9,234.1 193.9,234.1 195.0,234.0 195.2,234.0 195.3,234.0 195.4,233.9 195.6,233.8 195.8,233.8 195.9,233.7 196.1,233.6 196.2,233.4 196.3,233.3 196.5,233.0 196.7,232.7 196.8,232.2 196.9,231.2 197.1,229.4 197.2,225.9 197.4,219.8 197.6,210.6 197.7,198.6 197.8,185.9 197.9,182.2 198.0,176.5 198.1,174.5 198.2,175.0 198.3,182.2 198.4,194.2 198.6,206.8 198.8,217.0 198.9,224.1 199.1,228.4 199.2,230.7 199.3,231.9 199.5,232.5 199.7,232.9 199.8,233.1 199.9,233.2 199.9,233.3 200.1,233.4 200.2,233.6 200.4,233.7 200.6,233.7 200.7,233.8 200.8,233.8 201.0,233.9 201.2,233.9 201.9,234.0 203.9,234.1 205.9,234.2 207.9,234.3 209.9,234.3 211.9,234.3 213.9,234.2 215.9,234.2 217.9,234.3 219.9,234.4 220.7,234.4 221.0,234.5 221.3,234.5 221.6,234.5 221.9,234.5 222.2,234.5 222.5,234.4 222.8,234.4 223.1,234.3 223.4,234.0 223.7,233.4 223.9,233.0 224.0,232.8 224.1,232.7 224.2,232.7 224.3,232.7 224.4,232.8 224.6,233.2 224.7,233.4 224.9,233.7 225.0,233.9 225.2,234.1 225.3,234.2 225.5,234.3 225.6,234.3 225.8,234.3 225.9,234.3 226.1,234.3 226.2,234.2 226.4,234.2 226.5,234.1 226.7,233.9 226.8,233.8 227.0,233.4 227.1,233.2 227.3,232.8 227.4,232.7 227.6,232.5 227.7,232.5 227.9,232.8 228.0,233.0 228.3,233.6 228.6,233.9 228.9,234.1 229.2,234.2 229.5,234.2 229.8,234.2 229.9,234.2 230.1,234.2 230.4,234.2 230.7,234.2 231.0,234.2 231.9,234.2 233.9,234.3 235.9,234.3 237.9,234.3 239.9,234.3 241.9,234.3 243.9,234.3 245.9,234.4 247.9,234.5 249.9,234.5 251.9,234.4 253.9,234.3 255.9,234.2 257.9,234.2 259.9,234.3 261.9,234.4 263.9,234.4 265.9,234.4 267.9,234.3 269.9,234.4 271.9,234.4 273.9,234.5 275.9,234.5 277.9,234.4 279.9,234.2 281.9,234.2 283.9,234.2 285.9,234.3 287.9,234.4 289.9,234.4 291.9,234.4 293.9,234.4 295.9,234.4 297.9,234.4 299.9,234.5 301.9,234.4 303.9,234.3 305.9,234.2 307.9,234.2 309.9,234.2 311.9,234.4 313.9,234.5 315.9,234.5 317.9,234.4 319.9,234.4 321.9,234.4 323.9,234.4 325.9,234.4 327.9,234.4 329.9,234.3 331.9,234.2 333.9,234.2 335.9,234.3 337.9,234.4 339.9,234.5 341.9,234.5 343.9,234.4 344.5,234.4 344.8,234.4 345.1,234.4 345.4,234.3 345.7,234.3 345.9,234.3 346.0,234.3 346.3,234.2 346.6,234.1 346.9,233.9 347.2,233.3 347.5,232.2 347.8,231.1 347.9,230.9 348.0,230.8 348.1,230.9 348.4,231.8 348.7,233.0 349.0,233.7 349.3,234.1 349.6,234.2 349.9,234.2 350.2,234.3 350.5,234.3 350.8,234.3 351.1,234.3 351.4,234.3 351.9,234.3 353.9,234.4 355.9,234.3 357.9,234.3 359.9,234.2 361.9,234.3 363.9,234.4 365.9,234.5 367.9,234.5 368.7,234.5 369.0,234.5 369.3,234.5 369.6,234.4 369.9,234.4 370.2,234.4 370.5,234.4 370.8,234.3 371.1,234.2 371.4,233.9 371.7,233.4 371.9,233.0 372.0,232.8 372.2,232.7 372.3,232.7 372.6,233.1 372.9,233.5 373.2,233.7 373.5,233.4 373.8,233.1 373.9,233.0 374.0,233.0 374.1,233.1 374.4,233.4 374.7,233.8 375.0,234.0 375.3,234.2 375.6,234.2 375.9,234.2 376.2,234.3 376.5,234.3 376.8,234.3 377.1,234.3 377.4,234.3 377.9,234.3 379.6,234.4"/>
<polyline fill="none" stroke="#f0a236" stroke-width="1.25" stroke-linejoin="round" points="35.9,237.1 37.9,237.1 39.9,237.1 41.9,237.2 43.9,237.4 45.9,237.6 47.9,237.7 49.9,237.7 51.9,237.7 53.9,237.7 55.9,237.8 57.9,237.9 59.9,237.9 61.9,237.9 63.9,237.9 65.9,237.9 67.9,237.9 69.1,237.9 69.3,237.9 69.4,237.9 69.6,237.9 69.7,237.9 69.9,237.9 69.9,237.9 70.0,237.9 70.2,237.9 70.3,237.8 70.5,237.8 70.6,237.7 70.8,237.6 70.9,237.5 71.1,237.2 71.2,236.7 71.4,235.7 71.5,234.1 71.7,231.5 71.8,227.9 71.9,225.8 72.0,223.9 72.1,220.3 72.3,218.4 72.3,218.3 72.4,219.2 72.6,222.3 72.7,226.4 72.9,230.2 73.0,233.2 73.2,235.3 73.3,236.5 73.5,237.2 73.6,237.5 73.8,237.7 73.9,237.9 73.9,237.9 74.1,237.9 74.2,238.0 74.4,238.1 74.5,238.1 74.7,238.1 74.8,238.2 75.0,238.2 75.1,238.2 75.3,238.2 75.4,238.2 75.9,238.2 77.9,238.2 79.9,238.2 81.9,238.3 83.9,238.3 85.9,238.4 87.9,238.4 89.9,238.4 91.9,238.4 93.9,238.5 95.9,238.6 97.9,238.7 99.9,238.8 101.9,238.7 103.9,238.6 105.9,238.5 107.9,238.5 109.9,238.6 111.9,238.7 113.9,238.7 115.9,238.7 117.9,238.7 119.9,238.7 121.9,238.8 123.9,238.9 125.9,239.0 127.9,238.9 129.9,238.8 131.9,238.7 133.9,238.7 135.9,238.8 137.9,238.9 139.5,238.9 139.8,238.9 139.9,238.9 140.1,238.9 140.4,238.9 140.7,238.9 141.0,238.9 141.3,238.8 141.6,238.8 141.9,238.7 142.2,238.5 142.5,238.2 142.8,237.7 143.1,237.3 143.2,237.3 143.4,237.4 143.7,237.8 143.9,238.1 144.0,238.3 144.3,238.6 144.6,238.7 144.9,238.8 145.2,238.8 145.5,238.8 145.8,238.8 145.9,238.8 146.1,238.8 146.4,238.9 146.7,238.9 147.0,238.9 147.3,238.8 147.6,238.8 147.9,238.6 148.2,238.4 148.5,238.1 148.8,238.0 149.1,238.1 149.4,238.4 149.7,238.7 149.9,238.8 150.0,238.9 150.3,238.9 150.6,239.0 150.9,239.0 151.2,239.0 151.5,239.0 151.8,239.0 151.9,239.0 152.1,239.0 152.4,239.0 153.9,238.9 154.9,238.9 155.2,238.8 155.5,238.8 155.8,238.8 155.9,238.8 156.1,238.7 156.4,238.7 156.7,238.6 157.0,238.5 157.3,238.2 157.6,237.5 157.9,236.2 158.2,234.9 158.4,234.6 158.5,234.6 158.8,235.8 159.1,237.1 159.4,238.0 159.7,238.5 159.9,238.6 160.0,238.6 160.3,238.7 160.6,238.7 160.9,238.8 161.2,238.8 161.5,238.8 161.8,238.8 161.9,238.8 163.9,239.0 165.9,239.0 167.9,239.0 169.9,239.0 171.9,239.0 173.4,239.0 173.7,239.0 173.9,239.0 174.0,239.0 174.3,239.0 174.6,239.0 174.9,239.0 175.2,239.0 175.5,238.9 175.8,238.7 175.9,238.6 176.1,238.3 176.4,237.5 176.7,236.7 176.9,236.5 177.0,236.5 177.3,237.2 177.6,238.1 177.9,238.6 178.2,238.9 178.5,238.9 178.8,239.0 179.1,239.0 179.4,239.0 179.7,239.0 179.9,239.0 180.0,238.9 180.3,238.9 181.9,238.9 183.9,238.8 185.9,238.8 187.9,238.9 189.9,239.0 191.9,239.0 193.9,238.9 195.0,238.7 195.2,238.6 195.3,238.6 195.4,238.5 195.6,238.4 195.8,238.3 195.9,238.2 196.1,238.1 196.2,238.0 196.3,237.8 196.5,237.6 196.7,237.2 196.8,236.7 196.9,235.7 197.1,233.9 197.2,230.4 197.4,224.3 197.6,215.1 197.7,203.1 197.8,190.4 197.9,186.7 198.0,181.1 198.1,179.0 198.2,179.5 198.3,186.7 198.4,198.8 198.6,211.3 198.8,221.6 198.9,228.7 199.1,232.9 199.2,235.3 199.3,236.4 199.5,237.1 199.7,237.5 199.8,237.7 199.9,237.9 199.9,237.9 200.1,238.1 200.2,238.2 200.4,238.3 200.6,238.4 200.7,238.5 200.8,238.5 201.0,238.6 201.2,238.6 201.9,238.8 203.9,238.9 205.9,238.9 207.9,238.9 209.9,238.8 211.9,238.9 213.9,239.0 215.9,239.1 217.9,239.2 219.9,239.1 220.7,239.1 221.0,239.1 221.3,239.1 221.6,239.0 221.9,239.0 222.2,239.0 222.5,239.0 222.8,238.9 223.1,238.8 223.4,238.4 223.7,237.9 223.9,237.5 224.0,237.3 224.1,237.2 224.2,237.2 224.3,237.2 224.4,237.3 224.6,237.7 224.7,237.9 224.9,238.3 225.0,238.4 225.2,238.6 225.3,238.7 225.5,238.8 225.6,238.8 225.8,238.9 225.9,238.9 226.1,238.9 226.2,238.8 226.4,238.8 226.5,238.7 226.7,238.6 226.8,238.4 227.0,238.1 227.1,237.9 227.3,237.5 227.4,237.3 227.6,237.2 227.7,237.2 227.9,237.5 228.0,237.7 228.3,238.3 228.6,238.7 228.9,238.9 229.2,239.0 229.5,239.0 229.8,239.0 229.9,239.0 230.1,239.0 230.4,239.0 230.7,239.0 231.0,239.0 231.9,239.0 233.9,238.9 235.9,238.9 237.9,239.0 239.9,239.1 241.9,239.2 243.9,239.2 245.9,239.2 247.9,239.0 249.9,239.0 251.9,239.0 253.9,239.0 255.9,239.0 257.9,239.0 259.9,239.0 261.9,239.0 263.9,239.0 265.9,239.1 267.9,239.2 269.9,239.2 271.9,239.1 273.9,239.0 275.9,238.9 277.9,238.9 279.9,239.0 281.9,239.1 283.9,239.1 285.9,239.0 287.9,239.0 289.9,239.0 291.9,239.1 293.9,239.2 295.9,239.2 297.9,239.1 299.9,239.0 301.9,238.9 303.9,238.9 305.9,239.0 307.9,239.1 309.9,239.1 311.9,239.1 313.9,239.1 315.9,239.1 317.9,239.1 319.9,239.2 321.9,239.2 323.9,239.1 325.9,239.0 327.9,238.9 329.9,238.9 331.9,239.0 333.9,239.1 335.9,239.2 337.9,239.1 339.9,239.1 341.9,239.0 343.9,239.1 344.5,239.1 344.8,239.1 345.1,239.1 345.4,239.1 345.7,239.1 345.9,239.0 346.0,239.0 346.3,239.0 346.6,238.9 346.9,238.7 347.2,238.1 347.5,237.0 347.8,235.9 347.9,235.7 348.0,235.6 348.1,235.7 348.4,236.6 348.7,237.7 349.0,238.5 349.3,238.8 349.6,238.9 349.9,239.0 350.2,239.0 350.5,239.0 350.8,239.0 351.1,239.0 351.4,238.9 351.9,238.9 353.9,238.9 355.9,238.9 357.9,239.0 359.9,239.2 361.9,239.2 363.9,239.2 365.9,239.1 367.9,239.0 368.7,239.0 369.0,239.0 369.3,239.0 369.6,239.0 369.9,239.0 370.2,239.0 370.5,239.0 370.8,238.9 371.1,238.8 371.4,238.6 371.7,238.1 371.9,237.7 372.0,237.6 372.2,237.4 372.3,237.5 372.6,237.9 372.9,238.3 373.2,238.5 373.5,238.2 373.8,237.9 373.9,237.9 374.0,237.8 374.1,237.9 374.4,238.2 374.7,238.6 375.0,238.8 375.3,238.9 375.6,239.0 375.9,239.0 376.2,239.0 376.5,239.0 376.8,239.0 377.1,239.0 377.4,239.0 377.9,238.9 379.6,238.9"/>
<polyline fill="none" stroke="#3b9a45" stroke-width="1.25" stroke-linejoin="round" points="35.9,241.6 37.9,241.8 39.9,242.0 41.9,242.1 43.9,242.2 45.9,242.2 47.9,242.2 49.9,242.3 51.9,242.4 53.9,242.5 55.9,242.5 57.9,242.5 59.9,242.4 61.9,242.5 63.9,242.6 65.9,242.8 67.9,242.8 69.1,242.8 69.3,242.8 69.4,242.8 69.6,242.7 69.7,242.7 69.9,242.7 69.9,242.7 70.0,242.7 70.2,242.6 70.3,242.6 70.5,242.5 70.6,242.4 70.8,242.3 70.9,242.2 71.1,241.9 71.2,241.4 71.4,240.4 71.5,238.7 71.7,236.1 71.8,232.5 71.9,230.4 72.0,228.5 72.1,224.8 72.3,223.0 72.3,222.9 72.4,223.8 72.6,226.9 72.7,230.9 72.9,234.7 73.0,237.8 73.2,239.8 73.3,241.0 73.5,241.7 73.6,242.1 73.8,242.3 73.9,242.4 73.9,242.4 74.1,242.5 74.2,242.5 74.4,242.6 74.5,242.6 74.7,242.7 74.8,242.7 75.0,242.7 75.1,242.7 75.3,242.8 75.4,242.8 75.9,242.8 77.9,243.0 79.9,243.0 81.9,243.0 83.9,243.0 85.9,242.9 87.9,243.0 89.9,243.1 91.9,243.3 93.9,243.4 95.9,243.4 97.9,243.3 99.9,243.2 101.9,243.2 103.9,243.3 105.9,243.3 107.9,243.3 109.9,243.3 111.9,243.3 113.9,243.3 115.9,243.4 117.9,243.6 119.9,243.6 121.9,243.6 123.9,243.5 125.9,243.4 127.9,243.4 129.9,243.4 131.9,243.5 133.9,243.5 135.9,243.5 137.9,243.5 139.5,243.5 139.8,243.5 139.9,243.5 140.1,243.5 140.4,243.5 140.7,243.5 141.0,243.5 141.3,243.5 141.6,243.5 141.9,243.4 142.2,243.2 142.5,242.9 142.8,242.4 143.1,242.1 143.2,242.1 143.4,242.2 143.7,242.6 143.9,243.0 144.0,243.1 144.3,243.4 144.6,243.6 144.9,243.7 145.2,243.7 145.5,243.7 145.8,243.7 145.9,243.7 146.1,243.7 146.4,243.7 146.7,243.7 147.0,243.7 147.3,243.6 147.6,243.5 147.9,243.4 148.2,243.1 148.5,242.8 148.8,242.6 149.1,242.8 149.4,243.0 149.7,243.3 149.9,243.4 150.0,243.4 150.3,243.5 150.6,243.5 150.9,243.5 151.2,243.5 151.5,243.5 151.8,243.5 151.9,243.5 152.1,243.5 152.4,243.4 153.9,243.4 154.9,243.4 155.2,243.5 155.5,243.5 155.8,243.5 155.9,243.5 156.1,243.5 156.4,243.4 156.7,243.4 157.0,243.3 157.3,243.0 157.6,242.3 157.9,241.1 158.2,239.8 158.4,239.4 158.5,239.5 158.8,240.6 159.1,242.0 159.4,242.9 159.7,243.3 159.9,243.4 160.0,243.5 160.3,243.5 160.6,243.6 160.9,243.6 161.2,243.6 161.5,243.6 161.8,243.6 161.9,243.6 163.9,243.6 165.9,243.6 167.9,243.7 169.9,243.8 171.9,243.8 173.4,243.7 173.7,243.7 173.9,243.7 174.0,243.7 174.3,243.7 174.6,243.7 174.9,243.6 175.2,243.6 175.5,243.5 175.8,243.3 175.9,243.2 176.1,242.8 176.4,242.0 176.7,241.2 176.9,241.0 177.0,241.0 177.3,241.7 177.6,242.5 177.9,243.1 178.2,243.3 178.5,243.4 178.8,243.4 179.1,243.4 179.4,243.5 179.7,243.5 179.9,243.5 180.0,243.5 180.3,243.5 181.9,243.6 183.9,243.7 185.9,243.7 187.9,243.7 189.9,243.6 191.9,243.6 193.9,243.5 195.0,243.4 195.2,243.3 195.3,243.3 195.4,243.2 195.6,243.2 195.8,243.1 195.9,243.0 196.1,242.9 196.2,242.8 196.3,242.6 196.5,242.4 196.7,242.0 196.8,241.5 196.9,240.5 197.1,238.7 197.2,235.2 197.4,229.1 197.6,219.9 197.7,207.9 197.8,195.2 197.9,191.5 198.0,185.9 198.1,183.8 198.2,184.3 198.3,191.5 198.4,203.6 198.6,216.1 198.8,226.4 198.9,233.5 199.1,237.7 199.2,240.0 199.3,241.2 199.5,241.8 199.7,242.2 199.8,242.5 199.9,242.6 199.9,242.6 200.1,242.8 200.2,242.9 200.4,243.0 200.6,243.1 200.7,243.1 200.8,243.2 201.0,243.2 201.2,243.3 201.9,243.4 203.9,243.4 205.9,243.5 207.9,243.6 209.9,243.7 211.9,243.8 213.9,243.8 215.9,243.8 217.9,243.7 219.9,243.7 220.7,243.7 221.0,243.7 221.3,243.7 221.6,243.7 221.9,243.7 222.2,243.7 222.5,243.7 222.8,243.7 223.1,243.5 223.4,243.2 223.7,242.7 223.9,242.3 224.0,242.1 224.1,242.0 224.2,242.0 224.3,242.0 224.4,242.1 224.6,242.5 224.7,242.7 224.9,243.1 225.0,243.2 225.2,243.4 225.3,243.5 225.5,243.6 225.6,243.6 225.8,243.6 225.9,243.6 226.1,243.6 226.2,243.6 226.4,243.5 226.5,243.4 226.7,243.3 226.8,243.1 227.0,242.8 227.1,242.6 227.3,242.2 227.4,242.0 227.6,241.8 227.7,241.9 227.9,242.1 228.0,242.3 228.3,242.9 228.6,243.3 228.9,243.4 229.2,243.5 229.5,243.5 229.8,243.5 229.9,243.5 230.1,243.5 230.4,243.5 230.7,243.5 231.0,243.5 231.9,243.6 233.9,243.7 235.9,243.8 237.9,243.9 239.9,243.9 241.9,243.8 243.9,243.7 245.9,243.7 247.9,243.7 249.9,243.8 251.9,243.7 253.9,243.7 255.9,243.6 257.9,243.6 259.9,243.7 261.9,243.8 263.9,243.9 265.9,243.9 267.9,243.8 269.9,243.7 271.9,243.7 273.9,243.7 275.9,243.7 277.9,243.7 279.9,243.7 281.9,243.6 283.9,243.7 285.9,243.8 287.9,243.9 289.9,243.9 291.9,243.9 293.9,243.8 295.9,243.7 297.9,243.6 299.9,243.7 301.9,243.7 303.9,243.8 305.9,243.7 307.9,243.7 309.9,243.7 311.9,243.8 313.9,243.9 315.9,243.9 317.9,243.9 319.9,243.7 321.9,243.6 323.9,243.6 325.9,243.6 327.9,243.7 329.9,243.8 331.9,243.8 333.9,243.7 335.9,243.7 337.9,243.8 339.9,243.9 341.9,243.9 343.9,243.8 344.5,243.8 344.8,243.7 345.1,243.7 345.4,243.7 345.7,243.6 345.9,243.6 346.0,243.6 346.3,243.6 346.6,243.5 346.9,243.2 347.2,242.6 347.5,241.5 347.8,240.4 347.9,240.2 348.0,240.1 348.1,240.2 348.4,241.1 348.7,242.2 349.0,243.0 349.3,243.3 349.6,243.4 349.9,243.5 350.2,243.5 350.5,243.5 350.8,243.6 351.1,243.6 351.4,243.6 351.9,243.6 353.9,243.8 355.9,243.8 357.9,243.8 359.9,243.8 361.9,243.7 363.9,243.8 365.9,243.8 367.9,243.8 368.7,243.8 369.0,243.8 369.3,243.8 369.6,243.8 369.9,243.7 370.2,243.7 370.5,243.7 370.8,243.6 371.1,243.5 371.4,243.2 371.7,242.7 371.9,242.3 372.0,242.2 372.2,242.0 372.3,242.0 372.6,242.4 372.9,242.8 373.2,243.0 373.5,242.8 373.8,242.4 373.9,242.4 374.0,242.3 374.1,242.4 374.4,242.7 374.7,243.1 375.0,243.3 375.3,243.5 375.6,243.5 375.9,243.5 376.2,243.6 376.5,243.6 376.8,243.6 377.1,243.6 377.4,243.6 377.9,243.7 379.6,243.8"/>
<polyline fill="none" stroke="#2a2ad6" stroke-width="1.25" stroke-linejoin="round" points="35.9,246.5 37.9,246.6 39.9,246.6 41.9,246.7 43.9,246.8 45.9,247.0 47.9,247.1 49.9,247.1 51.9,247.1 53.9,247.0 55.9,247.0 57.9,247.1 59.9,247.3 61.9,247.4 63.9,247.4 65.9,247.4 67.9,247.4 69.1,247.4 69.3,247.4 69.4,247.3 69.6,247.3 69.7,247.3 69.9,247.3 69.9,247.3 70.0,247.3 70.2,247.2 70.3,247.2 70.5,247.1 70.6,247.1 70.8,247.0 70.9,246.8 71.1,246.6 71.2,246.0 71.4,245.1 71.5,243.4 71.7,240.8 71.8,237.3 71.9,235.1 72.0,233.2 72.1,229.6 72.3,227.7 72.3,227.7 72.4,228.5 72.6,231.7 72.7,235.7 72.9,239.5 73.0,242.5 73.2,244.6 73.3,245.8 73.5,246.5 73.6,246.9 73.8,247.1 73.9,247.2 73.9,247.2 74.1,247.3 74.2,247.3 74.4,247.4 74.5,247.4 74.7,247.5 74.8,247.5 75.0,247.5 75.1,247.5 75.3,247.6 75.4,247.6 75.9,247.6 77.9,247.6 79.9,247.5 81.9,247.5 83.9,247.6 85.9,247.8 87.9,247.9 89.9,248.0 91.9,247.9 93.9,247.9 95.9,247.9 97.9,248.0 99.9,248.0 101.9,248.0 103.9,247.9 105.9,247.9 107.9,247.9 109.9,248.0 111.9,248.1 113.9,248.2 115.9,248.3 117.9,248.2 119.9,248.1 121.9,248.1 123.9,248.1 125.9,248.2 127.9,248.2 129.9,248.1 131.9,248.1 133.9,248.1 135.9,248.2 137.9,248.3 139.5,248.4 139.8,248.4 139.9,248.4 140.1,248.4 140.4,248.4 140.7,248.4 141.0,248.4 141.3,248.4 141.6,248.3 141.9,248.2 142.2,248.0 142.5,247.7 142.8,247.2 143.1,246.8 143.2,246.8 143.4,246.9 143.7,247.3 143.9,247.6 144.0,247.7 144.3,248.0 144.6,248.2 144.9,248.2 145.2,248.2 145.5,248.2 145.8,248.2 145.9,248.2 146.1,248.2 146.4,248.2 146.7,248.2 147.0,248.1 147.3,248.1 147.6,248.0 147.9,247.8 148.2,247.6 148.5,247.3 148.8,247.2 149.1,247.3 149.4,247.6 149.7,247.9 149.9,248.0 150.0,248.0 150.3,248.1 150.6,248.2 150.9,248.2 151.2,248.2 151.5,248.2 151.8,248.2 151.9,248.2 152.1,248.3 152.4,248.3 153.9,248.3 154.9,248.2 155.2,248.2 155.5,248.2 155.8,248.2 155.9,248.2 156.1,248.2 156.4,248.1 156.7,248.1 157.0,248.0 157.3,247.7 157.6,247.0 157.9,245.7 158.2,244.4 158.4,244.0 158.5,244.1 158.8,245.2 159.1,246.6 159.4,247.5 159.7,247.9 159.9,248.0 160.0,248.1 160.3,248.1 160.6,248.2 160.9,248.2 161.2,248.2 161.5,248.2 161.8,248.3 161.9,248.3 163.9,248.4 165.9,248.5 167.9,248.5 169.9,248.4 171.9,248.3 173.4,248.2 173.7,248.2 173.9,248.2 174.0,248.2 174.3,248.2 174.6,248.2 174.9,248.2 175.2,248.1 175.5,248.1 175.8,247.9 175.9,247.8 176.1,247.5 176.4,246.7 176.7,245.9 176.9,245.7 177.0,245.7 177.3,246.4 177.6,247.3 177.9,247.9 178.2,248.1 178.5,248.2 178.8,248.3 179.1,248.3 179.4,248.3 179.7,248.3 179.9,248.3 180.0,248.3 180.3,248.3 181.9,248.3 183.9,248.3 185.9,248.3 187.9,248.3 189.9,248.4 191.9,248.4 193.9,248.3 195.0,248.1 195.2,248.0 195.3,247.9 195.4,247.9 195.6,247.8 195.8,247.7 195.9,247.6 196.1,247.5 196.2,247.3 196.3,247.2 196.5,246.9 196.7,246.6 196.8,246.0 196.9,245.1 197.1,243.2 197.2,239.7 197.4,233.6 197.6,224.4 197.7,212.4 197.8,199.7 197.9,196.0 198.0,190.3 198.1,188.3 198.2,188.8 198.3,196.0 198.4,208.0 198.6,220.6 198.8,230.8 198.9,237.9 199.1,242.2 199.2,244.5 199.3,245.7 199.5,246.3 199.7,246.7 199.8,246.9 199.9,247.1 199.9,247.1 200.1,247.3 200.2,247.4 200.4,247.5 200.6,247.6 200.7,247.7 200.8,247.7 201.0,247.8 201.2,247.8 201.9,248.0 203.9,248.2 205.9,248.4 207.9,248.4 209.9,248.4 211.9,248.4 213.9,248.4 215.9,248.5 217.9,248.5 219.9,248.5 220.7,248.4 221.0,248.4 221.3,248.4 221.6,248.4 221.9,248.4 222.2,248.3 222.5,248.3 222.8,248.2 223.1,248.1 223.4,247.8 223.7,247.2 223.9,246.8 224.0,246.6 224.1,246.5 224.2,246.4 224.3,246.5 224.4,246.6 224.6,246.9 224.7,247.1 224.9,247.5 225.0,247.7 225.2,247.9 225.3,248.0 225.5,248.1 225.6,248.1 225.8,248.1 225.9,248.1 226.1,248.1 226.2,248.1 226.4,248.0 226.5,248.0 226.7,247.8 226.8,247.7 227.0,247.4 227.1,247.2 227.3,246.8 227.4,246.6 227.6,246.5 227.7,246.5 227.9,246.8 228.0,247.0 228.3,247.6 228.6,248.0 228.9,248.2 229.2,248.3 229.5,248.3 229.8,248.4 229.9,248.4 230.1,248.4 230.4,248.4 230.7,248.4 231.0,248.4 231.9,248.5 233.9,248.5 235.9,248.5 237.9,248.4 239.9,248.4 241.9,248.5 243.9,248.5 245.9,248.5 247.9,248.4 249.9,248.3 251.9,248.2 253.9,248.3 255.9,248.4 257.9,248.5 259.9,248.6 261.9,248.5 263.9,248.4 265.9,248.4 267.9,248.4 269.9,248.5 271.9,248.5 273.9,248.4 275.9,248.3 277.9,248.3 279.9,248.4 281.9,248.5 283.9,248.6 285.9,248.6 287.9,248.5 289.9,248.4 291.9,248.4 293.9,248.4 295.9,248.4 297.9,248.4 299.9,248.4 301.9,248.3 303.9,248.3 305.9,248.4 307.9,248.5 309.9,248.6 311.9,248.6 313.9,248.5 315.9,248.4 317.9,248.3 319.9,248.4 321.9,248.4 323.9,248.4 325.9,248.4 327.9,248.4 329.9,248.4 331.9,248.4 333.9,248.5 335.9,248.6 337.9,248.6 339.9,248.5 341.9,248.3 343.9,248.3 344.5,248.3 344.8,248.3 345.1,248.3 345.4,248.3 345.7,248.3 345.9,248.2 346.0,248.2 346.3,248.2 346.6,248.1 346.9,247.9 347.2,247.3 347.5,246.3 347.8,245.2 347.9,245.0 348.0,244.9 348.1,245.0 348.4,245.9 348.7,247.1 349.0,247.8 349.3,248.2 349.6,248.3 349.9,248.4 350.2,248.4 350.5,248.4 350.8,248.4 351.1,248.4 351.4,248.4 351.9,248.4 353.9,248.4 355.9,248.4 357.9,248.4 359.9,248.5 361.9,248.6 363.9,248.6 365.9,248.4 367.9,248.3 368.7,248.3 369.0,248.3 369.3,248.3 369.6,248.2 369.9,248.2 370.2,248.2 370.5,248.2 370.8,248.2 371.1,248.1 371.4,247.8 371.7,247.3 371.9,247.0 372.0,246.8 372.2,246.7 372.3,246.7 372.6,247.1 372.9,247.6 373.2,247.7 373.5,247.5 373.8,247.2 373.9,247.2 374.0,247.2 374.1,247.2 374.4,247.5 374.7,248.0 375.0,248.2 375.3,248.4 375.6,248.4 375.9,248.4 376.2,248.5 376.5,248.5 376.8,248.5 377.1,248.5 377.4,248.5 377.9,248.5 379.6,248.5"/>
<polyline fill="none" stroke="#e02a35" stroke-width="1.25" stroke-linejoin="round" points="35.9,251.1 37.9,251.2 39.9,251.4 41.9,251.6 43.9,251.6 45.9,251.6 47.9,251.6 49.9,251.6 51.9,251.6 53.9,251.8 55.9,251.9 57.9,251.9 59.9,251.9 61.9,252.0 63.9,252.0 65.9,252.2 67.9,252.2 69.1,252.2 69.3,252.2 69.4,252.2 69.6,252.2 69.7,252.1 69.9,252.1 69.9,252.1 70.0,252.1 70.2,252.0 70.3,252.0 70.5,251.9 70.6,251.9 70.8,251.8 70.9,251.6 71.1,251.3 71.2,250.8 71.4,249.8 71.5,248.1 71.7,245.5 71.8,241.9 71.9,239.8 72.0,237.9 72.1,234.2 72.3,232.3 72.3,232.3 72.4,233.2 72.6,236.3 72.7,240.3 72.9,244.1 73.0,247.1 73.2,249.1 73.3,250.4 73.5,251.0 73.6,251.4 73.8,251.6 73.9,251.7 73.9,251.7 74.1,251.8 74.2,251.8 74.4,251.9 74.5,251.9 74.7,251.9 74.8,252.0 75.0,252.0 75.1,252.0 75.3,252.0 75.4,252.0 75.9,252.1 77.9,252.2 79.9,252.3 81.9,252.4 83.9,252.5 85.9,252.5 87.9,252.5 89.9,252.5 91.9,252.6 93.9,252.7 95.9,252.7 97.9,252.7 99.9,252.5 101.9,252.5 103.9,252.5 105.9,252.7 107.9,252.8 109.9,252.8 111.9,252.8 113.9,252.8 115.9,252.8 117.9,252.9 119.9,252.9 121.9,252.9 123.9,252.8 125.9,252.7 127.9,252.7 129.9,252.8 131.9,252.9 133.9,253.0 135.9,253.0 137.9,253.0 139.5,253.0 139.8,252.9 139.9,252.9 140.1,252.9 140.4,252.9 140.7,252.9 141.0,252.9 141.3,252.9 141.6,252.8 141.9,252.8 142.2,252.6 142.5,252.2 142.8,251.7 143.1,251.4 143.2,251.3 143.4,251.4 143.7,251.9 143.9,252.2 144.0,252.4 144.3,252.7 144.6,252.8 144.9,252.9 145.2,252.9 145.5,252.9 145.8,252.9 145.9,252.9 146.1,253.0 146.4,253.0 146.7,253.0 147.0,252.9 147.3,252.9 147.6,252.8 147.9,252.6 148.2,252.4 148.5,252.1 148.8,252.0 149.1,252.1 149.4,252.4 149.7,252.6 149.9,252.7 150.0,252.8 150.3,252.8 150.6,252.9 150.9,252.9 151.2,252.9 151.5,252.8 151.8,252.8 151.9,252.8 152.1,252.8 152.4,252.8 153.9,252.8 154.9,252.8 155.2,252.8 155.5,252.8 155.8,252.8 155.9,252.8 156.1,252.8 156.4,252.8 156.7,252.8 157.0,252.7 157.3,252.4 157.6,251.7 157.9,250.5 158.2,249.2 158.4,248.8 158.5,248.9 158.8,250.1 159.1,251.5 159.4,252.4 159.7,252.8 159.9,252.9 160.0,253.0 160.3,253.0 160.6,253.1 160.9,253.1 161.2,253.1 161.5,253.1 161.8,253.1 161.9,253.1 163.9,253.1 165.9,253.0 167.9,253.0 169.9,253.0 171.9,253.0 173.4,253.0 173.7,253.0 173.9,253.0 174.0,253.0 174.3,253.0 174.6,253.0 174.9,253.0 175.2,252.9 175.5,252.9 175.8,252.7 175.9,252.6 176.1,252.2 176.4,251.4 176.7,250.6 176.9,250.4 177.0,250.4 177.3,251.1 177.6,252.0 177.9,252.5 178.2,252.7 178.5,252.8 178.8,252.9 179.1,252.9 179.4,252.9 179.7,252.9 179.9,252.9 180.0,252.9 180.3,252.9 181.9,253.0 183.9,253.1 185.9,253.2 187.9,253.2 189.9,253.1 191.9,252.9 193.9,252.8 195.0,252.6 195.2,252.5 195.3,252.5 195.4,252.4 195.6,252.4 195.8,252.3 195.9,252.2 196.1,252.1 196.2,251.9 196.3,251.8 196.5,251.5 196.7,251.2 196.8,250.7 196.9,249.7 197.1,247.9 197.2,244.4 197.4,238.3 197.6,229.1 197.7,217.1 197.8,204.4 197.9,200.7 198.0,195.1 198.1,193.0 198.2,193.6 198.3,200.7 198.4,212.8 198.6,225.4 198.8,235.6 198.9,242.7 199.1,247.0 199.2,249.3 199.3,250.5 199.5,251.1 199.7,251.5 199.8,251.8 199.9,251.9 199.9,252.0 200.1,252.1 200.2,252.3 200.4,252.4 200.6,252.4 200.7,252.5 200.8,252.6 201.0,252.6 201.2,252.7 201.9,252.8 203.9,252.9 205.9,252.9 207.9,253.0 209.9,253.1 211.9,253.2 213.9,253.3 215.9,253.2 217.9,253.0 219.9,252.9 220.7,252.9 221.0,252.9 221.3,252.9 221.6,252.9 221.9,252.9 222.2,252.9 222.5,252.9 222.8,252.9 223.1,252.8 223.4,252.5 223.7,251.9 223.9,251.5 224.0,251.4 224.1,251.3 224.2,251.2 224.3,251.3 224.4,251.4 224.6,251.8 224.7,252.0 224.9,252.4 225.0,252.5 225.2,252.7 225.3,252.8 225.5,252.9 225.6,253.0 225.8,253.0 225.9,253.0 226.1,253.0 226.2,253.0 226.4,252.9 226.5,252.9 226.7,252.7 226.8,252.6 227.0,252.2 227.1,252.0 227.3,251.6 227.4,251.5 227.6,251.3 227.7,251.4 227.9,251.6 228.0,251.8 228.3,252.4 228.6,252.8 228.9,253.0 229.2,253.0 229.5,253.1 229.8,253.1 229.9,253.1 230.1,253.1 230.4,253.1 230.7,253.1 231.0,253.1 231.9,253.1 233.9,253.1 235.9,253.2 237.9,253.2 239.9,253.2 241.9,253.2 243.9,253.0 245.9,252.9 247.9,253.0 249.9,253.1 251.9,253.1 253.9,253.2 255.9,253.2 257.9,253.1 259.9,253.1 261.9,253.2 263.9,253.2 265.9,253.2 267.9,253.1 269.9,253.0 271.9,252.9 273.9,253.0 275.9,253.1 277.9,253.2 279.9,253.2 281.9,253.2 283.9,253.1 285.9,253.1 287.9,253.1 289.9,253.2 291.9,253.2 293.9,253.1 295.9,253.0 297.9,253.0 299.9,253.0 301.9,253.1 303.9,253.2 305.9,253.3 307.9,253.2 309.9,253.1 311.9,253.1 313.9,253.1 315.9,253.1 317.9,253.1 319.9,253.1 321.9,253.0 323.9,253.0 325.9,253.0 327.9,253.2 329.9,253.3 331.9,253.3 333.9,253.2 335.9,253.1 337.9,253.1 339.9,253.0 341.9,253.1 343.9,253.1 344.5,253.1 344.8,253.1 345.1,253.1 345.4,253.1 345.7,253.0 345.9,253.0 346.0,253.0 346.3,253.0 346.6,252.9 346.9,252.6 347.2,252.0 347.5,251.0 347.8,249.9 347.9,249.6 348.0,249.6 348.1,249.6 348.4,250.5 348.7,251.7 349.0,252.4 349.3,252.8 349.6,252.9 349.9,252.9 350.2,253.0 350.5,253.0 350.8,253.0 351.1,253.0 351.4,253.0 351.9,253.1 353.9,253.2 355.9,253.3 357.9,253.3 359.9,253.2 361.9,253.1 363.9,253.0 365.9,253.0 367.9,253.1 368.7,253.1 369.0,253.1 369.3,253.1 369.6,253.1 369.9,253.1 370.2,253.1 370.5,253.1 370.8,253.0 371.1,252.9 371.4,252.6 371.7,252.2 371.9,251.8 372.0,251.6 372.2,251.5 372.3,251.5 372.6,251.9 372.9,252.3 373.2,252.5 373.5,252.3 373.8,251.9 373.9,251.9 374.0,251.8 374.1,251.9 374.4,252.2 374.7,252.6 375.0,252.9 375.3,253.0 375.6,253.0 375.9,253.0 376.2,253.0 376.5,253.1 376.8,253.1 377.1,253.1 377.4,253.1 377.9,253.1 379.6,253.2"/>
<g stroke="#111" stroke-width="1.1" fill="none">
<path d="M35.3 29.9 V254.6 H380.1"/>
</g>
<g font-family="'Liberation Sans', Arial, sans-serif" font-weight="bold" text-anchor="end" stroke-width="0.25">
<line x1="33.2" y1="30.7" x2="35.3" y2="30.7" stroke="#111" stroke-width="0.9"/>
<text x="30.9" y="33.0" font-size="6.6" fill="#222" stroke="#222">400</text>
<line x1="34.0" y1="35.4" x2="35.3" y2="35.4" stroke="#111" stroke-width="0.8"/>
<text x="30.6" y="36.5" font-size="3.4" fill="#8a8a8a" font-weight="bold">390</text>
<line x1="33.2" y1="40.1" x2="35.3" y2="40.1" stroke="#111" stroke-width="0.9"/>
<text x="30.9" y="42.4" font-size="6.6" fill="#222" stroke="#222">380</text>
<line x1="34.0" y1="44.8" x2="35.3" y2="44.8" stroke="#111" stroke-width="0.8"/>
<text x="30.6" y="45.9" font-size="3.4" fill="#8a8a8a" font-weight="bold">370</text>
<line x1="33.2" y1="49.5" x2="35.3" y2="49.5" stroke="#111" stroke-width="0.9"/>
<text x="30.9" y="51.8" font-size="6.6" fill="#222" stroke="#222">360</text>
<line x1="34.0" y1="54.2" x2="35.3" y2="54.2" stroke="#111" stroke-width="0.8"/>
<text x="30.6" y="55.3" font-size="3.4" fill="#8a8a8a" font-weight="bold">350</text>
<line x1="33.2" y1="58.8" x2="35.3" y2="58.8" stroke="#111" stroke-width="0.9"/>
<text x="30.9" y="61.2" font-size="6.6" fill="#222" stroke="#222">340</text>
<line x1="34.0" y1="63.5" x2="35.3" y2="63.5" stroke="#111" stroke-width="0.8"/>
<text x="30.6" y="64.6" font-size="3.4" fill="#8a8a8a" font-weight="bold">330</text>
<line x1="33.2" y1="68.2" x2="35.3" y2="68.2" stroke="#111" stroke-width="0.9"/>
<text x="30.9" y="70.6" font-size="6.6" fill="#222" stroke="#222">320</text>
<line x1="34.0" y1="72.9" x2="35.3" y2="72.9" stroke="#111" stroke-width="0.8"/>
<text x="30.6" y="74.0" font-size="3.4" fill="#8a8a8a" font-weight="bold">310</text>
<line x1="33.2" y1="77.6" x2="35.3" y2="77.6" stroke="#111" stroke-width="0.9"/>
<text x="30.9" y="80.0" font-size="6.6" fill="#222" stroke="#222">300</text>
<line x1="34.0" y1="82.3" x2="35.3" y2="82.3" stroke="#111" stroke-width="0.8"/>
<text x="30.6" y="83.4" font-size="3.4" fill="#8a8a8a" font-weight="bold">290</text>
<line x1="33.2" y1="87.0" x2="35.3" y2="87.0" stroke="#111" stroke-width="0.9"/>
<text x="30.9" y="89.3" font-size="6.6" fill="#222" stroke="#222">280</text>
<line x1="34.0" y1="91.7" x2="35.3" y2="91.7" stroke="#111" stroke-width="0.8"/>
<text x="30.6" y="92.8" font-size="3.4" fill="#8a8a8a" font-weight="bold">270</text>
<line x1="33.2" y1="96.4" x2="35.3" y2="96.4" stroke="#111" stroke-width="0.9"/>
<text x="30.9" y="98.7" font-size="6.6" fill="#222" stroke="#222">260</text>
<line x1="34.0" y1="101.1" x2="35.3" y2="101.1" stroke="#111" stroke-width="0.8"/>
<text x="30.6" y="102.2" font-size="3.4" fill="#8a8a8a" font-weight="bold">250</text>
<line x1="33.2" y1="105.7" x2="35.3" y2="105.7" stroke="#111" stroke-width="0.9"/>
<text x="30.9" y="108.1" font-size="6.6" fill="#222" stroke="#222">240</text>
<line x1="34.0" y1="110.4" x2="35.3" y2="110.4" stroke="#111" stroke-width="0.8"/>
<text x="30.6" y="111.5" font-size="3.4" fill="#8a8a8a" font-weight="bold">230</text>
<line x1="33.2" y1="115.1" x2="35.3" y2="115.1" stroke="#111" stroke-width="0.9"/>
<text x="30.9" y="117.5" font-size="6.6" fill="#222" stroke="#222">220</text>
<line x1="34.0" y1="119.8" x2="35.3" y2="119.8" stroke="#111" stroke-width="0.8"/>
<text x="30.6" y="120.9" font-size="3.4" fill="#8a8a8a" font-weight="bold">210</text>
<line x1="33.2" y1="124.5" x2="35.3" y2="124.5" stroke="#111" stroke-width="0.9"/>
<text x="30.9" y="126.9" font-size="6.6" fill="#222" stroke="#222">200</text>
<line x1="34.0" y1="129.2" x2="35.3" y2="129.2" stroke="#111" stroke-width="0.8"/>
<text x="30.6" y="130.3" font-size="3.4" fill="#8a8a8a" font-weight="bold">190</text>
<line x1="33.2" y1="133.9" x2="35.3" y2="133.9" stroke="#111" stroke-width="0.9"/>
<text x="30.9" y="136.2" font-size="6.6" fill="#222" stroke="#222">180</text>
<line x1="34.0" y1="138.6" x2="35.3" y2="138.6" stroke="#111" stroke-width="0.8"/>
<text x="30.6" y="139.7" font-size="3.4" fill="#8a8a8a" font-weight="bold">170</text>
<line x1="33.2" y1="143.3" x2="35.3" y2="143.3" stroke="#111" stroke-width="0.9"/>
<text x="30.9" y="145.6" font-size="6.6" fill="#222" stroke="#222">160</text>
<line x1="34.0" y1="148.0" x2="35.3" y2="148.0" stroke="#111" stroke-width="0.8"/>
<text x="30.6" y="149.1" font-size="3.4" fill="#8a8a8a" font-weight="bold">150</text>
<line x1="33.2" y1="152.6" x2="35.3" y2="152.6" stroke="#111" stroke-width="0.9"/>
<text x="30.9" y="155.0" font-size="6.6" fill="#222" stroke="#222">140</text>
<line x1="34.0" y1="157.3" x2="35.3" y2="157.3" stroke="#111" stroke-width="0.8"/>
<text x="30.6" y="158.4" font-size="3.4" fill="#8a8a8a" font-weight="bold">130</text>
<line x1="33.2" y1="162.0" x2="35.3" y2="162.0" stroke="#111" stroke-width="0.9"/>
<text x="30.9" y="164.4" font-size="6.6" fill="#222" stroke="#222">120</text>
<line x1="34.0" y1="166.7" x2="35.3" y2="166.7" stroke="#111" stroke-width="0.8"/>
<text x="30.6" y="167.8" font-size="3.4" fill="#8a8a8a" font-weight="bold">115</text>
<line x1="33.2" y1="171.4" x2="35.3" y2="171.4" stroke="#111" stroke-width="0.9"/>
<text x="30.9" y="173.8" font-size="6.6" fill="#222" stroke="#222">110</text>
<line x1="34.0" y1="176.1" x2="35.3" y2="176.1" stroke="#111" stroke-width="0.8"/>
<text x="30.6" y="177.2" font-size="3.4" fill="#8a8a8a" font-weight="bold">105</text>
<line x1="33.2" y1="180.8" x2="35.3" y2="180.8" stroke="#111" stroke-width="0.9"/>
<text x="30.9" y="183.1" font-size="6.6" fill="#222" stroke="#222">100</text>
<line x1="34.0" y1="185.5" x2="35.3" y2="185.5" stroke="#111" stroke-width="0.8"/>
<text x="30.6" y="186.6" font-size="3.4" fill="#8a8a8a" font-weight="bold">95</text>
<line x1="33.2" y1="190.2" x2="35.3" y2="190.2" stroke="#111" stroke-width="0.9"/>
<text x="30.9" y="192.5" font-size="6.6" fill="#222" stroke="#222">90</text>
<line x1="34.0" y1="194.8" x2="35.3" y2="194.8" stroke="#111" stroke-width="0.8"/>
<text x="30.6" y="195.9" font-size="3.4" fill="#8a8a8a" font-weight="bold">85</text>
<line x1="33.2" y1="199.5" x2="35.3" y2="199.5" stroke="#111" stroke-width="0.9"/>
<text x="30.9" y="201.9" font-size="6.6" fill="#222" stroke="#222">80</text>
<line x1="34.0" y1="204.2" x2="35.3" y2="204.2" stroke="#111" stroke-width="0.8"/>
<text x="30.6" y="205.3" font-size="3.4" fill="#8a8a8a" font-weight="bold">75</text>
<line x1="33.2" y1="208.9" x2="35.3" y2="208.9" stroke="#111" stroke-width="0.9"/>
<text x="30.9" y="211.3" font-size="6.6" fill="#222" stroke="#222">70</text>
<line x1="34.0" y1="213.6" x2="35.3" y2="213.6" stroke="#111" stroke-width="0.8"/>
<text x="30.6" y="214.7" font-size="3.4" fill="#8a8a8a" font-weight="bold">65</text>
<line x1="33.2" y1="218.3" x2="35.3" y2="218.3" stroke="#111" stroke-width="0.9"/>
<text x="30.9" y="220.7" font-size="6.6" fill="#222" stroke="#222">60</text>
<line x1="34.0" y1="223.0" x2="35.3" y2="223.0" stroke="#111" stroke-width="0.8"/>
<text x="30.6" y="224.1" font-size="3.4" fill="#8a8a8a" font-weight="bold">55</text>
<line x1="33.2" y1="227.7" x2="35.3" y2="227.7" stroke="#111" stroke-width="0.9"/>
<text x="30.9" y="230.0" font-size="6.6" fill="#222" stroke="#222">50</text>
<line x1="34.0" y1="232.4" x2="35.3" y2="232.4" stroke="#111" stroke-width="0.8"/>
<text x="30.6" y="233.5" font-size="3.4" fill="#8a8a8a" font-weight="bold">45</text>
<line x1="33.2" y1="237.1" x2="35.3" y2="237.1" stroke="#111" stroke-width="0.9"/>
<text x="30.9" y="239.4" font-size="6.6" fill="#222" stroke="#222">40</text>
<line x1="34.0" y1="241.8" x2="35.3" y2="241.8" stroke="#111" stroke-width="0.8"/>
<text x="30.6" y="242.8" font-size="3.4" fill="#8a8a8a" font-weight="bold">35</text>
<line x1="33.2" y1="246.4" x2="35.3" y2="246.4" stroke="#111" stroke-width="0.9"/>
<text x="30.9" y="248.8" font-size="6.6" fill="#222" stroke="#222">30</text>
<line x1="34.0" y1="251.1" x2="35.3" y2="251.1" stroke="#111" stroke-width="0.8"/>
<text x="30.6" y="252.2" font-size="3.4" fill="#8a8a8a" font-weight="bold">25</text>
</g>
<g font-family="'Liberation Sans', Arial, sans-serif" font-weight="bold" text-anchor="middle" font-size="6.8" fill="#333">
<line x1="58.3" y1="254.6" x2="58.3" y2="256.4" stroke="#111" stroke-width="0.9"/>
<text x="58.3" y="262.5">20</text>
<line x1="111.9" y1="254.6" x2="111.9" y2="256.4" stroke="#111" stroke-width="0.9"/>
<text x="111.9" y="262.5">30</text>
<line x1="165.5" y1="254.6" x2="165.5" y2="256.4" stroke="#111" stroke-width="0.9"/>
<text x="165.5" y="262.5">40</text>
<line x1="219.1" y1="254.6" x2="219.1" y2="256.4" stroke="#111" stroke-width="0.9"/>
<text x="219.1" y="262.5">50</text>
<line x1="272.7" y1="254.6" x2="272.7" y2="256.4" stroke="#111" stroke-width="0.9"/>
<text x="272.7" y="262.5">60</text>
<line x1="326.3" y1="254.6" x2="326.3" y2="256.4" stroke="#111" stroke-width="0.9"/>
<text x="326.3" y="262.5">70</text>
<line x1="379.9" y1="254.6" x2="379.9" y2="256.4" stroke="#111" stroke-width="0.9"/>
<text x="379.9" y="262.5">80</text>
</g>
<text x="178.2" y="274.6" font-family="'Liberation Sans', Arial, sans-serif" font-weight="bold" font-size="10.3" fill="#111">2<tspan font-style="italic">θ</tspan>, ° [CuK<tspan font-style="italic">α</tspan>]</text>
<text transform="translate(12.6,144.0) rotate(-90)" font-family="'Liberation Sans', Arial, sans-serif" font-weight="bold" font-size="10.3" fill="#111">T, °C</text>
<rect x="369.0" y="104.4" width="8.2" height="147.2" rx="1.5" fill="none" stroke="#444" stroke-width="1"/>
<line x1="248.3" y1="133.4" x2="369.2" y2="251.5" stroke="#2a2a2a" stroke-width="1.1" stroke-dasharray="2.8,1.7"/>
<line x1="329.4" y1="10.6" x2="377.2" y2="104.4" stroke="#2a2a2a" stroke-width="1.1" stroke-dasharray="3.2,1.7"/>
<rect x="244.6" y="4.9" width="84.0" height="128.3" rx="4" fill="#fff" stroke="#b0b0b0" stroke-width="1.3"/>
<clipPath id="ic"><rect x="245.8" y="6" width="82" height="126.4" rx="3.5"/></clipPath>
<g clip-path="url(#ic)" fill="none" stroke-width="0.75" stroke-linejoin="round">
<polyline stroke="#e8928e" points="246.0,40.8 247.0,40.4 248.0,39.9 249.0,40.7 250.0,39.8 251.0,40.4 252.0,40.1 253.0,39.4 254.0,40.0 255.0,39.2 256.0,39.7 257.0,39.0 258.0,38.7 259.0,39.2 260.0,39.9 261.0,38.6 262.0,38.3 263.0,38.9 264.0,39.4 265.0,38.6 266.0,37.8 267.0,38.3 268.0,36.2 269.0,36.4 270.0,34.2 270.4,32.9 270.9,31.7 271.3,30.8 271.8,30.5 272.2,28.0 272.7,26.8 273.1,25.1 273.6,22.7 274.0,20.9 274.5,18.0 274.9,15.7 275.4,14.1 275.8,13.5 276.3,12.0 276.7,10.8 277.2,10.8 277.6,10.7 278.1,10.9 278.5,12.8 279.0,14.1 279.4,14.9 279.9,17.0 280.3,18.9 280.8,21.4 281.2,23.1 281.7,23.9 282.1,26.4 282.6,26.3 283.0,27.4 283.5,28.8 283.9,28.1 284.4,28.5 284.8,27.5 285.3,27.9 285.7,27.6 286.2,26.4 286.6,26.0 287.1,24.2 287.5,24.0 288.0,23.4 288.4,23.3 288.9,23.3 289.3,24.7 289.8,26.0 290.2,26.4 290.7,27.9 291.1,28.2 291.6,30.5 292.0,31.9 292.5,33.7 292.9,34.5 293.4,34.3 293.8,34.9 294.3,36.0 294.7,35.3 295.2,36.3 295.6,36.1 296.1,36.2 297.1,36.4 298.1,38.0 299.1,37.4 300.1,37.7 301.1,38.2 302.1,39.4 303.1,38.3 304.1,38.9 305.1,39.4 306.1,40.3 307.1,40.5 308.1,40.7 309.1,39.8 310.1,39.9 311.1,39.9 312.1,41.0 313.1,41.4 314.1,40.1 315.1,39.8 316.1,39.9 317.1,40.0 318.1,40.5 319.1,40.9 320.1,40.4 321.1,39.8 322.1,40.4 323.1,40.5 324.1,40.9 325.1,41.8 326.1,41.5 327.1,41.1"/>
<polyline stroke="#a88fe2" points="246.0,45.2 247.0,45.5 248.0,44.3 249.0,45.6 250.0,45.6 251.0,45.8 252.0,45.6 253.0,44.7 254.0,44.4 255.0,43.7 256.0,44.4 257.0,43.4 258.0,43.0 259.0,43.1 260.0,42.8 261.0,43.0 262.0,42.3 263.0,41.8 264.0,41.8 265.0,41.4 266.0,41.6 267.0,40.6 268.0,41.5 269.0,40.4 270.0,38.1 270.4,37.2 270.9,36.3 271.3,35.2 271.8,33.3 272.2,32.9 272.7,31.6 273.1,28.7 273.6,26.3 274.0,23.1 274.5,20.6 274.9,18.6 275.4,16.3 275.8,15.4 276.3,12.7 276.7,11.0 277.2,12.0 277.6,11.4 278.1,11.1 278.5,12.6 279.0,13.2 279.4,15.8 279.9,18.9 280.3,21.1 280.8,23.0 281.2,24.2 281.7,26.1 282.1,27.5 282.6,30.0 283.0,31.0 283.5,32.3 283.9,32.0 284.4,31.7 284.8,32.6 285.3,32.7 285.7,31.8 286.2,30.8 286.6,29.9 287.1,28.8 287.5,27.0 288.0,26.8 288.4,26.4 288.9,26.0 289.3,26.5 289.8,27.9 290.2,29.2 290.7,31.5 291.1,33.6 291.6,34.2 292.0,36.2 292.5,37.7 292.9,38.7 293.4,38.5 293.8,38.6 294.3,39.1 294.7,39.4 295.2,39.8 295.6,40.9 296.1,41.9 297.1,42.4 298.1,42.0 299.1,42.5 300.1,43.1 301.1,42.1 302.1,43.1 303.1,44.0 304.1,44.2 305.1,44.3 306.1,43.9 307.1,43.4 308.1,44.6 309.1,44.1 310.1,45.0 311.1,45.6 312.1,44.7 313.1,44.6 314.1,45.7 315.1,45.6 316.1,44.5 317.1,44.2 318.1,44.3 319.1,45.7 320.1,45.9 321.1,44.7 322.1,45.8 323.1,46.3 324.1,45.9 325.1,45.2 326.1,45.4 327.1,44.7"/>
<polyline stroke="#f2b98c" points="246.0,49.6 247.0,50.4 248.0,50.0 249.0,49.6 250.0,50.2 251.0,49.4 252.0,49.9 253.0,49.9 254.0,48.6 255.0,48.3 256.0,48.2 257.0,47.9 258.0,48.4 259.0,47.7 260.0,47.7 261.0,47.0 262.0,48.1 263.0,47.1 264.0,46.8 265.0,46.7 266.0,47.0 267.0,45.8 268.0,46.0 269.0,44.5 270.0,43.1 270.4,42.2 270.9,40.2 271.3,39.5 271.8,37.7 272.2,35.6 272.7,35.0 273.1,31.9 273.6,29.8 274.0,27.8 274.5,24.8 274.9,21.6 275.4,19.2 275.8,16.9 276.3,15.3 276.7,12.5 277.2,12.0 277.6,11.2 278.1,11.5 278.5,13.4 279.0,14.7 279.4,16.7 279.9,19.4 280.3,22.3 280.8,24.1 281.2,26.7 281.7,28.8 282.1,30.9 282.6,33.0 283.0,34.0 283.5,35.1 283.9,35.7 284.4,36.8 284.8,36.5 285.3,36.3 285.7,35.8 286.2,33.7 286.6,33.0 287.1,32.8 287.5,32.0 288.0,30.1 288.4,29.6 288.9,30.3 289.3,30.4 289.8,31.5 290.2,32.5 290.7,35.0 291.1,37.0 291.6,38.7 292.0,38.8 292.5,40.7 292.9,41.8 293.4,41.8 293.8,43.7 294.3,44.7 294.7,43.9 295.2,45.3 295.6,44.9 296.1,45.1 297.1,46.5 298.1,46.8 299.1,45.9 300.1,46.4 301.1,46.9 302.1,46.9 303.1,46.8 304.1,47.2 305.1,48.2 306.1,47.3 307.1,48.2 308.1,48.3 309.1,47.7 310.1,48.2 311.1,49.0 312.1,49.1 313.1,48.3 314.1,50.0 315.1,50.1 316.1,50.5 317.1,49.0 318.1,49.0 319.1,48.6 320.1,49.9 321.1,49.3 322.1,48.9 323.1,49.4 324.1,50.4 325.1,50.5 326.1,49.5 327.1,49.1"/>
<polyline stroke="#86bb8a" points="246.0,54.0 247.0,54.1 248.0,54.3 249.0,53.2 250.0,52.8 251.0,53.8 252.0,53.5 253.0,52.6 254.0,54.0 255.0,53.6 256.0,53.7 257.0,52.2 258.0,53.2 259.0,51.8 260.0,52.8 261.0,52.0 262.0,51.4 263.0,51.5 264.0,51.9 265.0,50.5 266.0,49.6 267.0,49.8 268.0,48.8 269.0,47.7 270.0,46.4 270.4,45.4 270.9,44.7 271.3,43.7 271.8,42.3 272.2,41.5 272.7,38.7 273.1,36.6 273.6,33.4 274.0,30.8 274.5,27.1 274.9,24.3 275.4,20.8 275.8,19.2 276.3,16.6 276.7,13.8 277.2,12.7 277.6,13.0 278.1,11.8 278.5,13.8 279.0,14.9 279.4,17.1 279.9,20.4 280.3,22.5 280.8,25.5 281.2,28.7 281.7,32.0 282.1,33.4 282.6,36.1 283.0,37.7 283.5,38.8 283.9,39.2 284.4,39.4 284.8,38.8 285.3,38.4 285.7,37.6 286.2,38.0 286.6,36.4 287.1,35.0 287.5,33.9 288.0,34.7 288.4,34.9 288.9,34.8 289.3,34.6 289.8,35.3 290.2,36.6 290.7,38.4 291.1,39.4 291.6,41.3 292.0,42.5 292.5,45.0 292.9,46.5 293.4,46.7 293.8,46.7 294.3,48.5 294.7,48.0 295.2,48.3 295.6,47.9 296.1,48.7 297.1,49.5 298.1,50.0 299.1,49.8 300.1,50.6 301.1,50.1 302.1,50.7 303.1,50.7 304.1,51.5 305.1,51.2 306.1,51.2 307.1,51.9 308.1,52.1 309.1,53.0 310.1,53.2 311.1,53.8 312.1,53.8 313.1,54.0 314.1,54.5 315.1,53.7 316.1,53.5 317.1,54.7 318.1,53.5 319.1,54.3 320.1,54.4 321.1,53.3 322.1,54.6 323.1,55.0 324.1,54.6 325.1,54.7 326.1,54.9 327.1,53.7"/>
<polyline stroke="#8b8bee" points="246.0,58.4 247.0,58.4 248.0,59.0 249.0,59.0 250.0,59.0 251.0,58.4 252.0,58.8 253.0,58.4 254.0,58.2 255.0,57.2 256.0,56.4 257.0,56.3 258.0,56.5 259.0,55.9 260.0,56.9 261.0,56.5 262.0,56.3 263.0,56.0 264.0,55.7 265.0,55.0 266.0,53.6 267.0,54.4 268.0,54.1 269.0,52.9 270.0,51.7 270.4,51.2 270.9,49.2 271.3,49.1 271.8,47.0 272.2,44.8 272.7,43.0 273.1,41.5 273.6,38.0 274.0,35.7 274.5,33.1 274.9,28.8 275.4,24.9 275.8,21.6 276.3,18.9 276.7,16.5 277.2,14.4 277.6,13.3 278.1,12.1 278.5,12.7 279.0,14.5 279.4,17.8 279.9,20.1 280.3,23.6 280.8,26.0 281.2,29.1 281.7,32.5 282.1,36.2 282.6,38.8 283.0,40.8 283.5,41.6 283.9,42.8 284.4,43.3 284.8,43.4 285.3,42.5 285.7,43.1 286.2,41.2 286.6,41.5 287.1,40.6 287.5,38.0 288.0,37.8 288.4,38.3 288.9,38.9 289.3,38.6 289.8,39.1 290.2,40.1 290.7,43.0 291.1,43.5 291.6,45.4 292.0,46.2 292.5,48.0 292.9,50.1 293.4,49.7 293.8,51.5 294.3,51.8 294.7,52.9 295.2,53.2 295.6,52.6 296.1,53.9 297.1,53.9 298.1,53.3 299.1,53.4 300.1,54.6 301.1,55.1 302.1,55.1 303.1,55.1 304.1,55.7 305.1,55.9 306.1,57.2 307.1,56.1 308.1,57.4 309.1,58.0 310.1,56.9 311.1,58.3 312.1,58.4 313.1,58.8 314.1,57.9 315.1,57.8 316.1,57.9 317.1,59.2 318.1,58.7 319.1,58.2 320.1,58.3 321.1,58.0 322.1,57.6 323.1,57.6 324.1,59.0 325.1,58.3 326.1,59.4 327.1,58.4"/>
<polyline stroke="#e8928e" points="246.0,62.8 247.0,62.8 248.0,62.1 249.0,62.3 250.0,63.3 251.0,63.4 252.0,63.2 253.0,62.7 254.0,63.0 255.0,63.0 256.0,62.1 257.0,62.0 258.0,60.6 259.0,61.3 260.0,60.8 261.0,61.0 262.0,60.6 263.0,59.6 264.0,58.6 265.0,59.7 266.0,58.1 267.0,58.0 268.0,57.3 269.0,56.5 270.0,56.3 270.4,56.3 270.9,54.2 271.3,53.6 271.8,51.7 272.2,50.4 272.7,48.2 273.1,45.3 273.6,42.3 274.0,39.2 274.5,37.0 274.9,32.7 275.4,28.1 275.8,25.4 276.3,22.1 276.7,18.0 277.2,14.7 277.6,13.0 278.1,12.2 278.5,13.2 279.0,14.5 279.4,17.1 279.9,20.3 280.3,24.5 280.8,28.9 281.2,32.6 281.7,35.4 282.1,38.4 282.6,41.3 283.0,43.3 283.5,44.9 283.9,45.6 284.4,46.5 284.8,48.1 285.3,46.6 285.7,46.4 286.2,45.8 286.6,45.3 287.1,43.1 287.5,42.0 288.0,41.1 288.4,41.0 288.9,41.3 289.3,42.9 289.8,43.9 290.2,45.3 290.7,45.3 291.1,46.5 291.6,49.3 292.0,51.4 292.5,52.2 292.9,53.4 293.4,53.3 293.8,54.6 294.3,56.4 294.7,57.0 295.2,57.5 295.6,58.1 296.1,57.1 297.1,57.0 298.1,57.4 299.1,58.5 300.1,59.3 301.1,60.3 302.1,60.4 303.1,60.5 304.1,61.0 305.1,60.8 306.1,61.1 307.1,60.4 308.1,61.8 309.1,61.2 310.1,62.5 311.1,62.4 312.1,61.9 313.1,61.5 314.1,61.7 315.1,62.6 316.1,63.0 317.1,62.1 318.1,61.8 319.1,62.6 320.1,63.0 321.1,62.7 322.1,62.4 323.1,63.0 324.1,62.1 325.1,62.4 326.1,62.8 327.1,63.9"/>
<polyline stroke="#a88fe2" points="246.0,67.3 247.0,67.9 248.0,67.3 249.0,66.6 250.0,66.4 251.0,67.6 252.0,67.3 253.0,66.4 254.0,65.5 255.0,66.0 256.0,66.4 257.0,65.8 258.0,65.2 259.0,65.6 260.0,65.9 261.0,64.5 262.0,63.5 263.0,63.5 264.0,63.4 265.0,63.6 266.0,62.4 267.0,62.8 268.0,62.4 269.0,61.3 270.0,59.7 270.4,60.4 270.9,58.7 271.3,58.5 271.8,56.4 272.2,54.6 272.7,53.6 273.1,50.6 273.6,48.9 274.0,45.0 274.5,40.5 274.9,36.3 275.4,32.3 275.8,28.5 276.3,24.9 276.7,19.7 277.2,16.7 277.6,14.2 278.1,14.5 278.5,13.5 279.0,14.5 279.4,17.0 279.9,20.9 280.3,25.9 280.8,30.3 281.2,34.3 281.7,38.7 282.1,42.2 282.6,44.2 283.0,46.2 283.5,49.5 283.9,50.8 284.4,50.3 284.8,51.4 285.3,50.9 285.7,50.2 286.2,49.2 286.6,47.8 287.1,46.2 287.5,45.6 288.0,45.0 288.4,45.8 288.9,44.6 289.3,46.4 289.8,46.3 290.2,47.7 290.7,50.1 291.1,52.0 291.6,53.0 292.0,53.6 292.5,55.6 292.9,56.8 293.4,58.8 293.8,58.6 294.3,59.3 294.7,60.9 295.2,59.9 295.6,60.6 296.1,61.8 297.1,62.5 298.1,61.6 299.1,61.7 300.1,62.1 301.1,64.1 302.1,63.6 303.1,64.7 304.1,65.5 305.1,64.9 306.1,64.8 307.1,66.3 308.1,66.2 309.1,65.6 310.1,66.5 311.1,66.1 312.1,66.0 313.1,65.6 314.1,67.0 315.1,67.8 316.1,67.5 317.1,68.1 318.1,66.5 319.1,66.6 320.1,67.1 321.1,68.2 322.1,68.5 323.1,67.5 324.1,67.0 325.1,67.2 326.1,67.4 327.1,68.3"/>
<polyline stroke="#f2b98c" points="246.0,71.7 247.0,72.2 248.0,72.2 249.0,72.2 250.0,72.1 251.0,71.6 252.0,70.9 253.0,70.6 254.0,70.5 255.0,71.1 256.0,69.7 257.0,69.5 258.0,70.2 259.0,69.3 260.0,68.5 261.0,67.9 262.0,68.5 263.0,68.0 264.0,68.7 265.0,68.4 266.0,68.2 267.0,66.4 268.0,65.1 269.0,64.4 270.0,64.2 270.4,64.3 270.9,63.3 271.3,62.0 271.8,61.1 272.2,60.2 272.7,58.6 273.1,56.6 273.6,54.1 274.0,50.5 274.5,45.6 274.9,42.4 275.4,36.9 275.8,32.4 276.3,27.2 276.7,23.3 277.2,18.6 277.6,15.5 278.1,13.9 278.5,13.5 279.0,16.1 279.4,18.4 279.9,21.4 280.3,25.7 280.8,31.4 281.2,35.4 281.7,39.2 282.1,44.1 282.6,47.6 283.0,51.1 283.5,51.8 283.9,53.7 284.4,55.4 284.8,56.0 285.3,56.0 285.7,53.9 286.2,53.0 286.6,51.6 287.1,50.5 287.5,50.8 288.0,49.6 288.4,49.7 288.9,48.7 289.3,49.9 289.8,50.3 290.2,51.2 290.7,53.7 291.1,55.9 291.6,56.2 292.0,58.3 292.5,60.0 292.9,60.5 293.4,61.7 293.8,62.2 294.3,62.9 294.7,63.5 295.2,64.7 295.6,65.3 296.1,64.9 297.1,64.9 298.1,65.9 299.1,67.1 300.1,66.8 301.1,67.3 302.1,67.5 303.1,68.9 304.1,69.1 305.1,68.4 306.1,68.6 307.1,69.4 308.1,70.1 309.1,70.6 310.1,69.8 311.1,69.9 312.1,71.1 313.1,70.9 314.1,70.7 315.1,70.8 316.1,72.2 317.1,71.3 318.1,71.7 319.1,71.4 320.1,71.5 321.1,72.4 322.1,72.9 323.1,71.9 324.1,71.3 325.1,72.2 326.1,71.4 327.1,70.9"/>
<polyline stroke="#86bb8a" points="246.0,76.1 247.0,75.9 248.0,76.5 249.0,75.8 250.0,76.5 251.0,75.8 252.0,74.9 253.0,74.3 254.0,75.0 255.0,75.2 256.0,75.6 257.0,74.0 258.0,74.4 259.0,73.8 260.0,73.6 261.0,72.6 262.0,72.4 263.0,72.5 264.0,72.9 265.0,71.1 266.0,71.0 267.0,71.2 268.0,71.1 269.0,69.2 270.0,67.9 270.4,68.9 270.9,68.7 271.3,67.2 271.8,65.2 272.2,65.4 272.7,63.1 273.1,61.9 273.6,59.0 274.0,56.1 274.5,51.1 274.9,47.6 275.4,41.8 275.8,36.6 276.3,32.1 276.7,27.0 277.2,21.2 277.6,17.2 278.1,15.1 278.5,14.7 279.0,15.4 279.4,17.3 279.9,21.2 280.3,26.7 280.8,32.3 281.2,36.0 281.7,41.6 282.1,46.7 282.6,49.4 283.0,53.8 283.5,55.2 283.9,57.7 284.4,58.8 284.8,59.4 285.3,58.8 285.7,58.3 286.2,57.7 286.6,56.3 287.1,55.5 287.5,54.0 288.0,52.9 288.4,51.5 288.9,52.4 289.3,52.8 289.8,53.3 290.2,55.6 290.7,57.5 291.1,58.7 291.6,59.8 292.0,61.9 292.5,62.8 292.9,64.0 293.4,65.6 293.8,66.0 294.3,67.3 294.7,68.2 295.2,67.8 295.6,69.1 296.1,68.6 297.1,70.3 298.1,71.1 299.1,71.2 300.1,70.7 301.1,71.7 302.1,72.1 303.1,73.5 304.1,72.6 305.1,74.0 306.1,74.9 307.1,74.8 308.1,75.2 309.1,74.3 310.1,75.7 311.1,75.3 312.1,76.2 313.1,76.4 314.1,75.2 315.1,76.2 316.1,76.8 317.1,75.3 318.1,75.6 319.1,76.5 320.1,75.6 321.1,76.8 322.1,76.0 323.1,76.8 324.1,75.8 325.1,76.2 326.1,77.1 327.1,76.0"/>
<polyline stroke="#8b8bee" points="246.0,80.5 247.0,80.5 248.0,80.0 249.0,79.3 250.0,79.3 251.0,79.2 252.0,80.5 253.0,80.2 254.0,80.4 255.0,79.0 256.0,79.6 257.0,78.3 258.0,78.5 259.0,78.5 260.0,77.8 261.0,78.3 262.0,77.5 263.0,77.0 264.0,77.1 265.0,75.3 266.0,76.2 267.0,75.3 268.0,74.2 269.0,74.2 270.0,72.6 270.4,73.3 270.9,72.3 271.3,71.2 271.8,71.0 272.2,69.5 272.7,67.5 273.1,66.6 273.6,63.2 274.0,61.4 274.5,56.9 274.9,53.0 275.4,48.7 275.8,42.5 276.3,36.5 276.7,29.9 277.2,23.7 277.6,18.9 278.1,15.8 278.5,15.3 279.0,15.6 279.4,18.0 279.9,22.6 280.3,26.3 280.8,31.7 281.2,38.2 281.7,42.8 282.1,47.5 282.6,52.5 283.0,55.8 283.5,59.0 283.9,60.8 284.4,62.6 284.8,63.3 285.3,62.6 285.7,62.7 286.2,61.6 286.6,59.7 287.1,59.8 287.5,57.6 288.0,56.1 288.4,55.2 288.9,56.0 289.3,57.2 289.8,58.1 290.2,58.8 290.7,60.1 291.1,61.3 291.6,64.2 292.0,66.0 292.5,67.2 292.9,69.0 293.4,69.9 293.8,71.7 294.3,72.3 294.7,71.9 295.2,73.4 295.6,72.4 296.1,73.3 297.1,73.9 298.1,74.1 299.1,74.2 300.1,75.9 301.1,75.3 302.1,76.4 303.1,77.8 304.1,76.9 305.1,77.1 306.1,78.1 307.1,78.4 308.1,79.0 309.1,79.6 310.1,78.8 311.1,79.0 312.1,79.1 313.1,78.8 314.1,80.5 315.1,80.8 316.1,80.8 317.1,79.5 318.1,80.9 319.1,81.1 320.1,80.7 321.1,81.1 322.1,80.7 323.1,80.2 324.1,79.9 325.1,80.1 326.1,79.8 327.1,80.3"/>
<polyline stroke="#e8928e" points="246.0,85.0 247.0,85.3 248.0,85.6 249.0,85.3 250.0,84.3 251.0,84.5 252.0,84.2 253.0,84.7 254.0,84.1 255.0,83.3 256.0,83.7 257.0,84.1 258.0,82.6 259.0,83.3 260.0,81.5 261.0,81.2 262.0,80.8 263.0,81.3 264.0,81.5 265.0,80.8 266.0,79.4 267.0,79.7 268.0,78.2 269.0,77.2 270.0,77.7 270.4,77.1 270.9,76.7 271.3,76.1 271.8,76.0 272.2,74.3 272.7,73.7 273.1,72.0 273.6,70.1 274.0,66.7 274.5,63.6 274.9,59.1 275.4,53.4 275.8,47.2 276.3,41.5 276.7,34.0 277.2,29.0 277.6,22.3 278.1,17.5 278.5,15.1 279.0,16.4 279.4,17.7 279.9,21.0 280.3,25.9 280.8,31.9 281.2,39.4 281.7,45.8 282.1,51.6 282.6,56.6 283.0,59.3 283.5,63.1 283.9,65.0 284.4,67.1 284.8,67.9 285.3,68.1 285.7,66.0 286.2,66.2 286.6,65.4 287.1,64.2 287.5,61.3 288.0,60.0 288.4,59.0 288.9,58.6 289.3,60.4 289.8,61.7 290.2,62.9 290.7,64.9 291.1,66.5 291.6,67.6 292.0,68.9 292.5,70.4 292.9,73.0 293.4,73.4 293.8,74.4 294.3,75.4 294.7,75.3 295.2,76.0 295.6,76.6 296.1,77.8 297.1,78.0 298.1,78.4 299.1,80.1 300.1,80.0 301.1,81.0 302.1,81.2 303.1,80.4 304.1,81.3 305.1,81.8 306.1,82.8 307.1,82.5 308.1,83.4 309.1,83.5 310.1,83.1 311.1,84.4 312.1,83.4 313.1,84.6 314.1,83.8 315.1,83.4 316.1,83.8 317.1,85.0 318.1,85.8 319.1,84.2 320.1,84.8 321.1,85.0 322.1,85.7 323.1,84.7 324.1,85.1 325.1,84.9 326.1,85.8 327.1,85.0"/>
<polyline stroke="#a88fe2" points="246.0,89.4 247.0,88.9 248.0,88.6 249.0,89.3 250.0,89.0 251.0,88.1 252.0,88.8 253.0,87.7 254.0,88.7 255.0,88.6 256.0,88.5 257.0,88.0 258.0,87.1 259.0,86.7 260.0,86.3 261.0,86.8 262.0,85.1 263.0,85.9 264.0,84.0 265.0,83.5 266.0,83.1 267.0,83.8 268.0,82.7 269.0,81.7 270.0,81.9 270.4,80.5 270.9,80.3 271.3,80.0 271.8,79.9 272.2,79.3 272.7,78.1 273.1,76.2 273.6,74.2 274.0,71.5 274.5,69.5 274.9,65.4 275.4,60.6 275.8,53.6 276.3,47.1 276.7,40.6 277.2,33.2 277.6,25.6 278.1,20.6 278.5,18.0 279.0,15.9 279.4,17.0 279.9,20.9 280.3,27.2 280.8,34.2 281.2,40.0 281.7,46.6 282.1,52.9 282.6,58.5 283.0,63.3 283.5,66.1 283.9,68.6 284.4,69.9 284.8,72.0 285.3,71.9 285.7,70.1 286.2,70.5 286.6,67.9 287.1,66.7 287.5,66.5 288.0,65.2 288.4,64.3 288.9,63.4 289.3,63.1 289.8,64.7 290.2,65.3 290.7,67.1 291.1,69.3 291.6,70.7 292.0,73.1 292.5,75.7 292.9,77.1 293.4,78.0 293.8,79.1 294.3,79.6 294.7,79.6 295.2,80.8 295.6,81.0 296.1,82.0 297.1,83.1 298.1,83.0 299.1,83.6 300.1,84.5 301.1,84.5 302.1,84.5 303.1,85.7 304.1,86.7 305.1,87.0 306.1,87.2 307.1,87.8 308.1,87.9 309.1,88.1 310.1,87.9 311.1,87.8 312.1,88.5 313.1,87.9 314.1,88.4 315.1,89.4 316.1,89.6 317.1,89.5 318.1,88.9 319.1,89.1 320.1,89.3 321.1,89.7 322.1,89.4 323.1,89.9 324.1,90.5 325.1,89.3 326.1,89.9 327.1,90.3"/>
<polyline stroke="#f2b98c" points="246.0,93.8 247.0,93.7 248.0,94.5 249.0,92.9 250.0,93.3 251.0,92.6 252.0,93.5 253.0,93.8 254.0,93.0 255.0,91.8 256.0,92.2 257.0,92.0 258.0,92.0 259.0,91.4 260.0,91.2 261.0,91.1 262.0,90.2 263.0,89.4 264.0,89.8 265.0,88.1 266.0,88.2 267.0,87.2 268.0,87.1 269.0,85.4 270.0,86.1 270.4,84.9 270.9,83.7 271.3,83.5 271.8,83.3 272.2,82.1 272.7,81.9 273.1,81.0 273.6,80.1 274.0,77.5 274.5,74.5 274.9,70.6 275.4,66.9 275.8,61.6 276.3,54.1 276.7,45.8 277.2,38.7 277.6,30.4 278.1,23.3 278.5,18.2 279.0,17.1 279.4,18.2 279.9,21.4 280.3,26.7 280.8,33.9 281.2,41.0 281.7,49.8 282.1,55.9 282.6,62.2 283.0,67.5 283.5,71.3 283.9,73.2 284.4,74.3 284.8,75.4 285.3,74.7 285.7,75.3 286.2,73.7 286.6,73.2 287.1,70.8 287.5,69.3 288.0,67.8 288.4,67.1 288.9,66.3 289.3,66.1 289.8,68.3 290.2,69.2 290.7,70.8 291.1,72.9 291.6,75.3 292.0,77.2 292.5,79.3 292.9,80.9 293.4,81.7 293.8,83.6 294.3,84.5 294.7,83.7 295.2,85.3 295.6,86.1 296.1,86.4 297.1,85.9 298.1,87.5 299.1,87.9 300.1,87.3 301.1,87.5 302.1,89.8 303.1,90.1 304.1,89.8 305.1,89.7 306.1,90.1 307.1,90.6 308.1,92.0 309.1,91.8 310.1,91.6 311.1,93.1 312.1,93.5 313.1,92.5 314.1,93.8 315.1,93.7 316.1,94.1 317.1,94.0 318.1,94.5 319.1,94.5 320.1,94.7 321.1,93.5 322.1,94.2 323.1,94.1 324.1,94.5 325.1,94.1 326.1,94.8 327.1,94.4"/>
<polyline stroke="#86bb8a" points="246.0,98.2 247.0,97.7 248.0,97.2 249.0,97.7 250.0,96.9 251.0,97.4 252.0,96.7 253.0,97.1 254.0,97.0 255.0,96.9 256.0,97.3 257.0,95.5 258.0,96.4 259.0,95.6 260.0,95.3 261.0,95.1 262.0,95.0 263.0,93.7 264.0,93.1 265.0,93.5 266.0,91.5 267.0,91.6 268.0,91.1 269.0,89.3 270.0,89.4 270.4,89.4 270.9,89.6 271.3,88.2 271.8,88.8 272.2,87.6 272.7,86.8 273.1,86.7 273.6,84.0 274.0,83.3 274.5,81.1 274.9,77.3 275.4,73.9 275.8,67.6 276.3,60.8 276.7,53.0 277.2,44.9 277.6,35.3 278.1,27.5 278.5,21.2 279.0,17.8 279.4,18.1 279.9,20.3 280.3,26.8 280.8,33.8 281.2,42.3 281.7,50.3 282.1,58.3 282.6,65.9 283.0,70.8 283.5,75.0 283.9,76.9 284.4,78.3 284.8,79.0 285.3,79.6 285.7,79.3 286.2,78.6 286.6,75.9 287.1,75.4 287.5,74.4 288.0,72.5 288.4,70.4 288.9,70.1 289.3,69.8 289.8,70.9 290.2,73.8 290.7,75.4 291.1,77.5 291.6,79.8 292.0,82.1 292.5,83.4 292.9,84.8 293.4,86.1 293.8,87.3 294.3,88.0 294.7,88.7 295.2,88.4 295.6,89.5 296.1,89.7 297.1,90.9 298.1,90.5 299.1,90.9 300.1,91.2 301.1,93.1 302.1,94.2 303.1,94.4 304.1,94.3 305.1,95.4 306.1,95.9 307.1,95.9 308.1,95.6 309.1,95.8 310.1,96.4 311.1,96.5 312.1,96.9 313.1,97.6 314.1,98.4 315.1,97.1 316.1,97.8 317.1,97.1 318.1,97.1 319.1,98.5 320.1,98.5 321.1,99.2 322.1,98.5 323.1,97.6 324.1,98.1 325.1,98.6 326.1,99.4 327.1,99.7"/>
<polyline stroke="#8b8bee" points="246.0,102.7 247.0,102.4 248.0,101.7 249.0,102.4 250.0,101.7 251.0,101.3 252.0,100.8 253.0,100.5 254.0,101.5 255.0,100.5 256.0,101.6 257.0,100.0 258.0,100.8 259.0,99.3 260.0,98.4 261.0,99.2 262.0,98.1 263.0,98.3 264.0,97.0 265.0,95.9 266.0,96.6 267.0,96.1 268.0,95.8 269.0,94.9 270.0,92.9 270.4,93.3 270.9,93.3 271.3,92.5 271.8,92.9 272.2,91.3 272.7,91.9 273.1,91.0 273.6,88.7 274.0,87.1 274.5,86.3 274.9,84.3 275.4,79.3 275.8,74.4 276.3,68.7 276.7,59.9 277.2,52.0 277.6,41.9 278.1,31.7 278.5,24.2 279.0,19.4 279.4,17.6 279.9,20.3 280.3,25.0 280.8,34.1 281.2,42.7 281.7,52.4 282.1,61.1 282.6,68.0 283.0,73.6 283.5,78.6 283.9,82.0 284.4,83.6 284.8,84.0 285.3,83.4 285.7,82.2 286.2,82.8 286.6,81.3 287.1,79.9 287.5,77.4 288.0,76.2 288.4,75.9 288.9,75.2 289.3,74.9 289.8,75.0 290.2,76.6 290.7,79.3 291.1,80.7 291.6,83.3 292.0,85.3 292.5,87.6 292.9,89.2 293.4,89.5 293.8,89.8 294.3,91.0 294.7,92.0 295.2,93.0 295.6,94.0 296.1,94.6 297.1,93.9 298.1,95.7 299.1,96.5 300.1,97.3 301.1,97.4 302.1,97.3 303.1,98.7 304.1,99.4 305.1,99.6 306.1,100.5 307.1,99.9 308.1,99.5 309.1,100.6 310.1,101.5 311.1,100.8 312.1,101.9 313.1,102.6 314.1,101.6 315.1,102.2 316.1,102.6 317.1,102.4 318.1,102.0 319.1,102.0 320.1,103.0 321.1,103.4 322.1,102.9 323.1,102.1 324.1,103.3 325.1,103.6 326.1,102.6 327.1,103.1"/>
<polyline stroke="#e8928e" points="246.0,107.1 247.0,107.7 248.0,107.1 249.0,106.8 250.0,106.8 251.0,105.9 252.0,105.6 253.0,105.3 254.0,106.0 255.0,105.3 256.0,105.3 257.0,104.8 258.0,104.6 259.0,103.5 260.0,102.7 261.0,104.0 262.0,102.7 263.0,101.5 264.0,101.7 265.0,101.7 266.0,99.9 267.0,99.9 268.0,98.8 269.0,98.4 270.0,96.7 270.4,96.2 270.9,97.6 271.3,97.4 271.8,96.4 272.2,95.9 272.7,94.9 273.1,95.2 273.6,94.0 274.0,93.9 274.5,92.3 274.9,90.3 275.4,87.5 275.8,81.9 276.3,75.2 276.7,67.7 277.2,58.5 277.6,48.0 278.1,37.3 278.5,28.7 279.0,22.4 279.4,18.4 279.9,20.3 280.3,25.8 280.8,32.7 281.2,43.3 281.7,53.4 282.1,62.3 282.6,71.8 283.0,77.2 283.5,82.1 283.9,85.4 284.4,87.9 284.8,88.4 285.3,87.8 285.7,87.2 286.2,85.6 286.6,85.6 287.1,84.3 287.5,81.3 288.0,79.0 288.4,78.0 288.9,77.6 289.3,78.7 289.8,79.8 290.2,81.2 290.7,81.6 291.1,84.8 291.6,87.1 292.0,89.2 292.5,91.7 292.9,91.8 293.4,92.9 293.8,95.1 294.3,96.6 294.7,96.9 295.2,96.7 295.6,97.5 296.1,98.3 297.1,98.0 298.1,98.8 299.1,99.4 300.1,99.8 301.1,101.0 302.1,101.1 303.1,101.7 304.1,102.0 305.1,103.5 306.1,102.9 307.1,104.4 308.1,104.1 309.1,104.0 310.1,105.9 311.1,105.2 312.1,106.6 313.1,107.0 314.1,107.3 315.1,106.1 316.1,106.4 317.1,106.0 318.1,107.5 319.1,107.8 320.1,107.6 321.1,107.2 322.1,107.0 323.1,107.8 324.1,107.4 325.1,107.7 326.1,106.8 327.1,106.8"/>
<polyline stroke="#a88fe2" points="246.0,111.5 247.0,111.8 248.0,111.5 249.0,110.6 250.0,111.6 251.0,110.6 252.0,110.4 253.0,109.7 254.0,109.6 255.0,110.4 256.0,109.4 257.0,108.6 258.0,108.7 259.0,108.1 260.0,108.7 261.0,107.0 262.0,107.8 263.0,105.8 264.0,106.5 265.0,105.8 266.0,104.2 267.0,103.8 268.0,102.8 269.0,102.0 270.0,101.1 270.4,101.0 270.9,101.9 271.3,101.8 271.8,101.4 272.2,99.4 272.7,98.9 273.1,99.6 273.6,97.7 274.0,97.9 274.5,96.3 274.9,95.8 275.4,91.9 275.8,89.4 276.3,83.7 276.7,76.1 277.2,66.7 277.6,57.5 278.1,45.7 278.5,33.7 279.0,24.8 279.4,20.3 279.9,18.8 280.3,23.9 280.8,31.8 281.2,42.6 281.7,55.1 282.1,65.8 282.6,73.8 283.0,80.2 283.5,85.1 283.9,89.3 284.4,91.1 284.8,91.6 285.3,91.3 285.7,91.5 286.2,90.8 286.6,89.7 287.1,87.6 287.5,85.1 288.0,82.9 288.4,82.7 288.9,81.6 289.3,82.1 289.8,81.7 290.2,84.3 290.7,85.6 291.1,88.7 291.6,91.2 292.0,92.8 292.5,93.7 292.9,96.8 293.4,97.8 293.8,99.5 294.3,99.4 294.7,99.8 295.2,101.5 295.6,101.3 296.1,101.2 297.1,102.3 298.1,103.5 299.1,103.2 300.1,104.6 301.1,105.3 302.1,106.0 303.1,105.9 304.1,107.4 305.1,108.3 306.1,109.0 307.1,108.4 308.1,109.3 309.1,109.2 310.1,110.1 311.1,109.3 312.1,110.8 313.1,111.5 314.1,110.9 315.1,111.0 316.1,111.1 317.1,111.3 318.1,110.4 319.1,112.1 320.1,111.2 321.1,110.9 322.1,110.8 323.1,111.0 324.1,112.2 325.1,111.0 326.1,110.9 327.1,112.0"/>
<polyline stroke="#f2b98c" points="246.0,115.9 247.0,114.9 248.0,115.7 249.0,115.7 250.0,115.5 251.0,115.7 252.0,114.4 253.0,115.4 254.0,115.1 255.0,113.6 256.0,113.1 257.0,113.4 258.0,113.2 259.0,112.4 260.0,111.5 261.0,111.5 262.0,110.5 263.0,110.7 264.0,110.8 265.0,109.0 266.0,108.8 267.0,108.6 268.0,106.9 269.0,107.2 270.0,106.9 270.4,105.6 270.9,105.0 271.3,105.4 271.8,104.6 272.2,103.9 272.7,104.4 273.1,103.9 273.6,102.5 274.0,101.5 274.5,100.8 274.9,99.9 275.4,99.2 275.8,96.4 276.3,92.4 276.7,86.1 277.2,77.8 277.6,65.6 278.1,53.8 278.5,42.0 279.0,30.7 279.4,21.5 279.9,19.0 280.3,23.0 280.8,31.3 281.2,43.2 281.7,54.9 282.1,67.1 282.6,77.3 283.0,83.9 283.5,89.2 283.9,94.2 284.4,96.1 284.8,97.2 285.3,96.7 285.7,96.3 286.2,95.5 286.6,94.1 287.1,90.8 287.5,89.7 288.0,87.4 288.4,86.6 288.9,85.1 289.3,85.3 289.8,86.8 290.2,87.9 290.7,89.1 291.1,91.7 291.6,94.0 292.0,97.2 292.5,98.2 292.9,99.8 293.4,101.8 293.8,102.1 294.3,103.7 294.7,105.3 295.2,105.3 295.6,105.1 296.1,105.8 297.1,106.8 298.1,106.9 299.1,107.4 300.1,108.0 301.1,109.0 302.1,109.9 303.1,110.3 304.1,110.8 305.1,111.0 306.1,112.3 307.1,113.5 308.1,113.7 309.1,113.9 310.1,114.4 311.1,113.9 312.1,114.9 313.1,114.9 314.1,115.2 315.1,115.5 316.1,115.5 317.1,115.3 318.1,115.2 319.1,115.2 320.1,115.8 321.1,115.8 322.1,116.2 323.1,115.3 324.1,115.7 325.1,116.8 326.1,115.9 327.1,116.3"/>
<polyline stroke="#86bb8a" points="246.0,120.4 247.0,119.9 248.0,121.0 249.0,119.8 250.0,120.3 251.0,119.1 252.0,118.5 253.0,119.7 254.0,119.0 255.0,117.8 256.0,117.9 257.0,117.8 258.0,118.0 259.0,116.5 260.0,116.0 261.0,116.8 262.0,116.2 263.0,114.5 264.0,113.9 265.0,113.3 266.0,113.3 267.0,112.6 268.0,112.3 269.0,111.6 270.0,110.2 270.4,110.2 270.9,109.9 271.3,109.5 271.8,108.6 272.2,108.7 272.7,108.3 273.1,108.2 273.6,106.4 274.0,106.9 274.5,104.9 274.9,105.2 275.4,103.9 275.8,101.7 276.3,99.4 276.7,93.9 277.2,86.1 277.6,76.6 278.1,64.4 278.5,50.0 279.0,35.8 279.4,25.0 279.9,19.8 280.3,22.2 280.8,29.8 281.2,42.3 281.7,56.5 282.1,69.4 282.6,80.1 283.0,89.2 283.5,95.1 283.9,98.0 284.4,99.6 284.8,99.8 285.3,99.8 285.7,99.0 286.2,98.7 286.6,97.4 287.1,94.8 287.5,94.3 288.0,91.6 288.4,90.9 288.9,90.0 289.3,90.0 289.8,89.3 290.2,90.8 290.7,93.7 291.1,94.6 291.6,96.8 292.0,100.0 292.5,102.3 292.9,104.9 293.4,106.3 293.8,107.1 294.3,108.8 294.7,108.8 295.2,109.2 295.6,110.0 296.1,109.9 297.1,110.6 298.1,111.8 299.1,112.1 300.1,113.9 301.1,114.3 302.1,114.6 303.1,114.3 304.1,115.2 305.1,115.9 306.1,116.8 307.1,117.3 308.1,118.4 309.1,119.1 310.1,118.6 311.1,118.7 312.1,119.2 313.1,120.3 314.1,119.4 315.1,119.7 316.1,120.5 317.1,119.6 318.1,119.7 319.1,121.1 320.1,121.2 321.1,120.7 322.1,119.9 323.1,121.2 324.1,121.2 325.1,121.4 326.1,121.9 327.1,121.8"/>
<polyline stroke="#8b8bee" points="246.0,124.8 247.0,124.0 248.0,124.0 249.0,124.3 250.0,124.2 251.0,123.5 252.0,123.1 253.0,123.7 254.0,123.6 255.0,122.8 256.0,123.6 257.0,122.8 258.0,121.1 259.0,121.1 260.0,121.4 261.0,120.2 262.0,120.1 263.0,118.4 264.0,118.0 265.0,118.4 266.0,117.5 267.0,116.9 268.0,115.2 269.0,114.8 270.0,114.2 270.4,113.3 270.9,113.6 271.3,113.1 271.8,113.6 272.2,112.6 272.7,111.8 273.1,110.7 273.6,110.1 274.0,110.8 274.5,109.3 274.9,108.4 275.4,107.6 275.8,107.0 276.3,105.5 276.7,101.5 277.2,95.9 277.6,85.7 278.1,73.2 278.5,59.8 279.0,43.7 279.4,30.5 279.9,21.4 280.3,20.3 280.8,27.9 281.2,40.7 281.7,57.5 282.1,71.9 282.6,83.5 283.0,92.5 283.5,98.3 283.9,101.2 284.4,104.4 284.8,104.9 285.3,105.5 285.7,104.1 286.2,103.2 286.6,101.0 287.1,98.7 287.5,98.3 288.0,96.6 288.4,94.0 288.9,93.7 289.3,93.4 289.8,93.0 290.2,94.7 290.7,97.5 291.1,99.2 291.6,102.4 292.0,103.7 292.5,105.9 292.9,108.4 293.4,109.1 293.8,110.3 294.3,112.4 294.7,112.6 295.2,113.7 295.6,113.3 296.1,113.4 297.1,114.5 298.1,115.1 299.1,117.3 300.1,117.1 301.1,118.0 302.1,117.9 303.1,119.2 304.1,119.7 305.1,120.2 306.1,120.1 307.1,120.6 308.1,122.3 309.1,122.2 310.1,122.2 311.1,122.4 312.1,122.8 313.1,123.0 314.1,122.8 315.1,124.2 316.1,124.0 317.1,123.7 318.1,124.8 319.1,124.0 320.1,124.2 321.1,125.4 322.1,124.4 323.1,124.8 324.1,125.7 325.1,125.9 326.1,124.7 327.1,124.8"/>
</g>
<g stroke="#e4e4e4" stroke-width="0.7">
<line x1="419.8" y1="12.80" x2="542.2" y2="12.80"/>
<line x1="419.8" y1="18.38" x2="542.2" y2="18.38"/>
<line x1="419.8" y1="23.97" x2="542.2" y2="23.97"/>
<line x1="419.8" y1="29.55" x2="542.2" y2="29.55"/>
<line x1="419.8" y1="35.13" x2="542.2" y2="35.13"/>
<line x1="419.8" y1="40.72" x2="542.2" y2="40.72"/>
<line x1="419.8" y1="46.30" x2="542.2" y2="46.30"/>
<line x1="419.8" y1="56.50" x2="542.2" y2="56.50"/>
<line x1="419.8" y1="62.15" x2="542.2" y2="62.15"/>
<line x1="419.8" y1="67.80" x2="542.2" y2="67.80"/>
<line x1="419.8" y1="73.45" x2="542.2" y2="73.45"/>
<line x1="419.8" y1="79.10" x2="542.2" y2="79.10"/>
<line x1="419.8" y1="84.75" x2="542.2" y2="84.75"/>
<line x1="419.8" y1="90.40" x2="542.2" y2="90.40"/>
<line x1="419.8" y1="96.05" x2="542.2" y2="96.05"/>
<line x1="419.8" y1="101.70" x2="542.2" y2="101.70"/>
<line x1="419.8" y1="107.35" x2="542.2" y2="107.35"/>
<line x1="419.8" y1="113.00" x2="542.2" y2="113.00"/>
<line x1="419.8" y1="123.70" x2="542.2" y2="123.70"/>
<line x1="419.8" y1="129.30" x2="542.2" y2="129.30"/>
<line x1="419.8" y1="134.90" x2="542.2" y2="134.90"/>
<line x1="419.8" y1="144.50" x2="542.2" y2="144.50"/>
<line x1="419.8" y1="150.15" x2="542.2" y2="150.15"/>
<line x1="419.8" y1="155.80" x2="542.2" y2="155.80"/>
<line x1="419.8" y1="161.45" x2="542.2" y2="161.45"/>
<line x1="419.8" y1="167.10" x2="542.2" y2="167.10"/>
<line x1="419.8" y1="172.75" x2="542.2" y2="172.75"/>
<line x1="419.8" y1="178.40" x2="542.2" y2="178.40"/>
<line x1="419.8" y1="184.05" x2="542.2" y2="184.05"/>
<line x1="419.8" y1="189.70" x2="542.2" y2="189.70"/>
<line x1="419.8" y1="195.35" x2="542.2" y2="195.35"/>
<line x1="419.8" y1="201.00" x2="542.2" y2="201.00"/>
<line x1="419.8" y1="212.60" x2="542.2" y2="212.60"/>
<line x1="419.8" y1="218.34" x2="542.2" y2="218.34"/>
<line x1="419.8" y1="224.07" x2="542.2" y2="224.07"/>
<line x1="419.8" y1="229.81" x2="542.2" y2="229.81"/>
<line x1="419.8" y1="235.55" x2="542.2" y2="235.55"/>
<line x1="419.8" y1="241.29" x2="542.2" y2="241.29"/>
<line x1="419.8" y1="247.03" x2="542.2" y2="247.03"/>
<line x1="419.8" y1="252.76" x2="542.2" y2="252.76"/>
<line x1="419.8" y1="258.50" x2="542.2" y2="258.50"/>
</g>
<line x1="517.7" y1="10" x2="517.7" y2="192" stroke="#f9dba6" stroke-width="1.6" stroke-dasharray="7,6.4"/>
<line x1="517.7" y1="208.7" x2="517.7" y2="257.5" stroke="#f9dba6" stroke-width="1.6" stroke-dasharray="5.5,3.5"/>
<text x="517.4" y="10.6" font-family="'Liberation Sans', Arial, sans-serif" font-size="6.3" fill="#555" text-anchor="middle">240 °C</text>
<g stroke="#222" stroke-width="0.9" fill="none">
<line x1="419.8" y1="12.50" x2="419.8" y2="46.60"/>
<line x1="418.5" y1="12.80" x2="419.8" y2="12.80"/>
<line x1="419.0" y1="15.59" x2="419.8" y2="15.59" stroke-width="0.7"/>
<line x1="418.5" y1="18.38" x2="419.8" y2="18.38"/>
<line x1="419.0" y1="21.18" x2="419.8" y2="21.18" stroke-width="0.7"/>
<line x1="418.5" y1="23.97" x2="419.8" y2="23.97"/>
<line x1="419.0" y1="26.76" x2="419.8" y2="26.76" stroke-width="0.7"/>
<line x1="418.5" y1="29.55" x2="419.8" y2="29.55"/>
<line x1="419.0" y1="32.34" x2="419.8" y2="32.34" stroke-width="0.7"/>
<line x1="418.5" y1="35.13" x2="419.8" y2="35.13"/>
<line x1="419.0" y1="37.92" x2="419.8" y2="37.92" stroke-width="0.7"/>
<line x1="418.5" y1="40.72" x2="419.8" y2="40.72"/>
<line x1="419.0" y1="43.51" x2="419.8" y2="43.51" stroke-width="0.7"/>
<line x1="418.5" y1="46.30" x2="419.8" y2="46.30"/>
<line x1="419.8" y1="56.20" x2="419.8" y2="113.30"/>
<line x1="418.5" y1="56.50" x2="419.8" y2="56.50"/>
<line x1="419.0" y1="59.33" x2="419.8" y2="59.33" stroke-width="0.7"/>
<line x1="418.5" y1="62.15" x2="419.8" y2="62.15"/>
<line x1="419.0" y1="64.97" x2="419.8" y2="64.97" stroke-width="0.7"/>
<line x1="418.5" y1="67.80" x2="419.8" y2="67.80"/>
<line x1="419.0" y1="70.62" x2="419.8" y2="70.62" stroke-width="0.7"/>
<line x1="418.5" y1="73.45" x2="419.8" y2="73.45"/>
<line x1="419.0" y1="76.28" x2="419.8" y2="76.28" stroke-width="0.7"/>
<line x1="418.5" y1="79.10" x2="419.8" y2="79.10"/>
<line x1="419.0" y1="81.92" x2="419.8" y2="81.92" stroke-width="0.7"/>
<line x1="418.5" y1="84.75" x2="419.8" y2="84.75"/>
<line x1="419.0" y1="87.58" x2="419.8" y2="87.58" stroke-width="0.7"/>
<line x1="418.5" y1="90.40" x2="419.8" y2="90.40"/>
<line x1="419.0" y1="93.23" x2="419.8" y2="93.23" stroke-width="0.7"/>
<line x1="418.5" y1="96.05" x2="419.8" y2="96.05"/>
<line x1="419.0" y1="98.88" x2="419.8" y2="98.88" stroke-width="0.7"/>
<line x1="418.5" y1="101.70" x2="419.8" y2="101.70"/>
<line x1="419.0" y1="104.53" x2="419.8" y2="104.53" stroke-width="0.7"/>
<line x1="418.5" y1="107.35" x2="419.8" y2="107.35"/>
<line x1="419.0" y1="110.17" x2="419.8" y2="110.17" stroke-width="0.7"/>
<line x1="418.5" y1="113.00" x2="419.8" y2="113.00"/>
<line x1="419.8" y1="123.40" x2="419.8" y2="135.20"/>
<line x1="418.5" y1="123.70" x2="419.8" y2="123.70"/>
<line x1="419.0" y1="126.50" x2="419.8" y2="126.50" stroke-width="0.7"/>
<line x1="418.5" y1="129.30" x2="419.8" y2="129.30"/>
<line x1="419.0" y1="132.10" x2="419.8" y2="132.10" stroke-width="0.7"/>
<line x1="418.5" y1="134.90" x2="419.8" y2="134.90"/>
<line x1="419.8" y1="144.20" x2="419.8" y2="201.30"/>
<line x1="418.5" y1="144.50" x2="419.8" y2="144.50"/>
<line x1="419.0" y1="147.32" x2="419.8" y2="147.32" stroke-width="0.7"/>
<line x1="418.5" y1="150.15" x2="419.8" y2="150.15"/>
<line x1="419.0" y1="152.97" x2="419.8" y2="152.97" stroke-width="0.7"/>
<line x1="418.5" y1="155.80" x2="419.8" y2="155.80"/>
<line x1="419.0" y1="158.62" x2="419.8" y2="158.62" stroke-width="0.7"/>
<line x1="418.5" y1="161.45" x2="419.8" y2="161.45"/>
<line x1="419.0" y1="164.27" x2="419.8" y2="164.27" stroke-width="0.7"/>
<line x1="418.5" y1="167.10" x2="419.8" y2="167.10"/>
<line x1="419.0" y1="169.92" x2="419.8" y2="169.92" stroke-width="0.7"/>
<line x1="418.5" y1="172.75" x2="419.8" y2="172.75"/>
<line x1="419.0" y1="175.57" x2="419.8" y2="175.57" stroke-width="0.7"/>
<line x1="418.5" y1="178.40" x2="419.8" y2="178.40"/>
<line x1="419.0" y1="181.22" x2="419.8" y2="181.22" stroke-width="0.7"/>
<line x1="418.5" y1="184.05" x2="419.8" y2="184.05"/>
<line x1="419.0" y1="186.88" x2="419.8" y2="186.88" stroke-width="0.7"/>
<line x1="418.5" y1="189.70" x2="419.8" y2="189.70"/>
<line x1="419.0" y1="192.52" x2="419.8" y2="192.52" stroke-width="0.7"/>
<line x1="418.5" y1="195.35" x2="419.8" y2="195.35"/>
<line x1="419.0" y1="198.17" x2="419.8" y2="198.17" stroke-width="0.7"/>
<line x1="418.5" y1="201.00" x2="419.8" y2="201.00"/>
<line x1="419.8" y1="212.30" x2="419.8" y2="258.80"/>
<line x1="418.5" y1="212.60" x2="419.8" y2="212.60"/>
<line x1="419.0" y1="215.47" x2="419.8" y2="215.47" stroke-width="0.7"/>
<line x1="418.5" y1="218.34" x2="419.8" y2="218.34"/>
<line x1="419.0" y1="221.21" x2="419.8" y2="221.21" stroke-width="0.7"/>
<line x1="418.5" y1="224.07" x2="419.8" y2="224.07"/>
<line x1="419.0" y1="226.94" x2="419.8" y2="226.94" stroke-width="0.7"/>
<line x1="418.5" y1="229.81" x2="419.8" y2="229.81"/>
<line x1="419.0" y1="232.68" x2="419.8" y2="232.68" stroke-width="0.7"/>
<line x1="418.5" y1="235.55" x2="419.8" y2="235.55"/>
<line x1="419.0" y1="238.42" x2="419.8" y2="238.42" stroke-width="0.7"/>
<line x1="418.5" y1="241.29" x2="419.8" y2="241.29"/>
<line x1="419.0" y1="244.16" x2="419.8" y2="244.16" stroke-width="0.7"/>
<line x1="418.5" y1="247.03" x2="419.8" y2="247.03"/>
<line x1="419.0" y1="249.89" x2="419.8" y2="249.89" stroke-width="0.7"/>
<line x1="418.5" y1="252.76" x2="419.8" y2="252.76"/>
<line x1="419.0" y1="255.63" x2="419.8" y2="255.63" stroke-width="0.7"/>
<line x1="418.5" y1="258.50" x2="419.8" y2="258.50"/>
<line x1="419.8" y1="258.5" x2="542.2" y2="258.5"/>
<line x1="419.8" y1="258.5" x2="419.8" y2="260.2"/>
<line x1="440.2" y1="258.5" x2="440.2" y2="260.2"/>
<line x1="460.6" y1="258.5" x2="460.6" y2="260.2"/>
<line x1="481.0" y1="258.5" x2="481.0" y2="260.2"/>
<line x1="501.4" y1="258.5" x2="501.4" y2="260.2"/>
<line x1="521.8" y1="258.5" x2="521.8" y2="260.2"/>
<line x1="542.2" y1="258.5" x2="542.2" y2="260.2"/>
</g>
<g font-family="'Liberation Sans', Arial, sans-serif" font-weight="bold" font-size="5.7" fill="#3a3a3a" stroke="#3a3a3a" stroke-width="0.2" text-anchor="end">
<text x="417.2" y="14.80">6.22</text>
<text x="417.2" y="25.97">6.20</text>
<text x="417.2" y="37.13">6.18</text>
<text x="417.2" y="48.30">6.16</text>
<text x="417.2" y="58.50">5.46</text>
<text x="417.2" y="69.80">5.44</text>
<text x="417.2" y="81.10">5.42</text>
<text x="417.2" y="92.40">5.40</text>
<text x="417.2" y="103.70">5.38</text>
<text x="417.2" y="115.00">5.36</text>
<text x="417.2" y="125.70">5.13</text>
<text x="417.2" y="136.90">5.11</text>
<text x="417.2" y="157.80">114.4</text>
<text x="417.2" y="169.10">114.2</text>
<text x="417.2" y="180.40">114.0</text>
<text x="417.2" y="191.70">113.8</text>
<text x="417.2" y="203.00">113.6</text>
<text x="417.2" y="226.07">157.0</text>
<text x="417.2" y="237.55">156.0</text>
<text x="417.2" y="249.03">155.0</text>
<text x="417.2" y="260.50">154.0</text>
</g>
<g font-family="'Liberation Sans', Arial, sans-serif" font-weight="bold" font-size="5.9" fill="#444" stroke="#444" stroke-width="0.15" text-anchor="middle">
<text x="419.8" y="265.0">0</text>
<text x="440.2" y="265.0">50</text>
<text x="460.6" y="265.0">100</text>
<text x="481.0" y="265.0">150</text>
<text x="501.4" y="265.0">200</text>
<text x="521.8" y="265.0">250</text>
<text x="542.2" y="265.0">300</text>
</g>
<text x="469.6" y="275.2" font-family="'Liberation Sans', Arial, sans-serif" font-weight="bold" font-size="10.3" fill="#111">T, °C</text>
<g fill="#1fd81f">
<circle cx="432.0" cy="36.3" r="1.95"/>
<circle cx="436.1" cy="35.4" r="1.95"/>
<circle cx="440.2" cy="34.8" r="1.95"/>
<circle cx="444.3" cy="34.8" r="1.95"/>
<circle cx="448.4" cy="35.0" r="1.95"/>
<circle cx="452.4" cy="34.5" r="1.95"/>
<circle cx="456.5" cy="33.5" r="1.95"/>
<circle cx="460.6" cy="33.4" r="1.95"/>
<circle cx="464.7" cy="33.1" r="1.95"/>
<circle cx="468.8" cy="33.3" r="1.95"/>
<circle cx="472.8" cy="31.7" r="1.95"/>
<circle cx="476.9" cy="30.5" r="1.95"/>
<circle cx="481.0" cy="30.4" r="1.95"/>
<circle cx="485.1" cy="29.9" r="1.95"/>
<circle cx="489.2" cy="29.1" r="1.95"/>
<circle cx="493.2" cy="28.0" r="1.95"/>
<circle cx="497.3" cy="26.5" r="1.95"/>
<circle cx="501.4" cy="25.7" r="1.95"/>
<circle cx="505.5" cy="24.4" r="1.95"/>
<circle cx="509.6" cy="23.0" r="1.95"/>
<circle cx="513.6" cy="21.4" r="1.95"/>
<circle cx="517.7" cy="20.0" r="1.95"/>
<circle cx="521.8" cy="24.2" r="1.95"/>
<circle cx="525.9" cy="27.0" r="1.95"/>
<circle cx="530.0" cy="19.8" r="1.95"/>
</g>
<g fill="#f0141e">
<circle cx="432.0" cy="103.6" r="1.95"/>
<circle cx="436.1" cy="102.5" r="1.95"/>
<circle cx="440.2" cy="100.2" r="1.95"/>
<circle cx="444.3" cy="99.6" r="1.95"/>
<circle cx="448.4" cy="98.2" r="1.95"/>
<circle cx="452.4" cy="97.4" r="1.95"/>
<circle cx="456.5" cy="95.0" r="1.95"/>
<circle cx="460.6" cy="92.9" r="1.95"/>
<circle cx="464.7" cy="92.0" r="1.95"/>
<circle cx="468.8" cy="90.4" r="1.95"/>
<circle cx="472.8" cy="88.9" r="1.95"/>
<circle cx="476.9" cy="86.5" r="1.95"/>
<circle cx="481.0" cy="84.9" r="1.95"/>
<circle cx="485.1" cy="84.3" r="1.95"/>
<circle cx="489.2" cy="83.1" r="1.95"/>
<circle cx="493.2" cy="81.0" r="1.95"/>
<circle cx="497.3" cy="79.2" r="1.95"/>
<circle cx="501.4" cy="77.9" r="1.95"/>
<circle cx="505.5" cy="76.3" r="1.95"/>
<circle cx="509.6" cy="75.1" r="1.95"/>
<circle cx="513.6" cy="73.2" r="1.95"/>
<circle cx="517.7" cy="71.3" r="1.95"/>
<circle cx="521.8" cy="67.0" r="1.95"/>
<circle cx="525.9" cy="65.7" r="1.95"/>
<circle cx="530.0" cy="80.1" r="1.95"/>
</g>
<g fill="#1212e6">
<circle cx="432.0" cy="130.2" r="1.95"/>
<circle cx="436.1" cy="130.5" r="1.95"/>
<circle cx="440.2" cy="130.7" r="1.95"/>
<circle cx="444.3" cy="130.8" r="1.95"/>
<circle cx="448.4" cy="131.0" r="1.95"/>
<circle cx="452.4" cy="131.2" r="1.95"/>
<circle cx="456.5" cy="131.3" r="1.95"/>
<circle cx="460.6" cy="131.5" r="1.95"/>
<circle cx="464.7" cy="131.7" r="1.95"/>
<circle cx="468.8" cy="131.8" r="1.95"/>
<circle cx="472.8" cy="132.0" r="1.95"/>
<circle cx="476.9" cy="132.0" r="1.95"/>
<circle cx="481.0" cy="132.0" r="1.95"/>
<circle cx="485.1" cy="132.0" r="1.95"/>
<circle cx="489.2" cy="132.1" r="1.95"/>
<circle cx="493.2" cy="132.1" r="1.95"/>
<circle cx="497.3" cy="132.0" r="1.95"/>
<circle cx="501.4" cy="132.0" r="1.95"/>
<circle cx="505.5" cy="131.9" r="1.95"/>
<circle cx="509.6" cy="131.7" r="1.95"/>
<circle cx="513.6" cy="131.2" r="1.95"/>
<circle cx="517.7" cy="131.0" r="1.95"/>
<circle cx="521.8" cy="131.6" r="1.95"/>
<circle cx="525.9" cy="131.7" r="1.95"/>
<circle cx="530.0" cy="129.1" r="1.95"/>
</g>
<g fill="#f5ab0a">
<circle cx="432.0" cy="156.8" r="1.95"/>
<circle cx="436.1" cy="157.0" r="1.95"/>
<circle cx="440.2" cy="157.3" r="1.95"/>
<circle cx="444.3" cy="157.8" r="1.95"/>
<circle cx="448.4" cy="158.0" r="1.95"/>
<circle cx="452.4" cy="158.7" r="1.95"/>
<circle cx="456.5" cy="159.0" r="1.95"/>
<circle cx="460.6" cy="159.7" r="1.95"/>
<circle cx="464.7" cy="159.9" r="1.95"/>
<circle cx="468.8" cy="160.2" r="1.95"/>
<circle cx="472.8" cy="160.8" r="1.95"/>
<circle cx="476.9" cy="161.0" r="1.95"/>
<circle cx="481.0" cy="161.6" r="1.95"/>
<circle cx="485.1" cy="162.0" r="1.95"/>
<circle cx="489.2" cy="162.7" r="1.95"/>
<circle cx="493.2" cy="162.8" r="1.95"/>
<circle cx="497.3" cy="163.4" r="1.95"/>
<circle cx="501.4" cy="163.5" r="1.95"/>
<circle cx="505.5" cy="163.7" r="1.95"/>
<circle cx="509.6" cy="164.6" r="1.95"/>
<circle cx="513.6" cy="165.9" r="1.95"/>
<circle cx="517.7" cy="167.8" r="1.95"/>
<circle cx="521.8" cy="171.8" r="1.95"/>
<circle cx="525.9" cy="178.3" r="1.95"/>
<circle cx="530.0" cy="196.4" r="1.95"/>
</g>
<g fill="#9a0acc">
<circle cx="432.0" cy="247.6" r="1.95"/>
<circle cx="436.1" cy="246.5" r="1.95"/>
<circle cx="440.2" cy="245.1" r="1.95"/>
<circle cx="444.3" cy="244.7" r="1.95"/>
<circle cx="448.4" cy="244.0" r="1.95"/>
<circle cx="452.4" cy="243.3" r="1.95"/>
<circle cx="456.5" cy="241.3" r="1.95"/>
<circle cx="460.6" cy="239.8" r="1.95"/>
<circle cx="464.7" cy="239.2" r="1.95"/>
<circle cx="468.8" cy="238.4" r="1.95"/>
<circle cx="472.8" cy="237.1" r="1.95"/>
<circle cx="476.9" cy="234.7" r="1.95"/>
<circle cx="481.0" cy="233.8" r="1.95"/>
<circle cx="485.1" cy="232.9" r="1.95"/>
<circle cx="489.2" cy="232.1" r="1.95"/>
<circle cx="493.2" cy="230.1" r="1.95"/>
<circle cx="497.3" cy="228.3" r="1.95"/>
<circle cx="501.4" cy="226.7" r="1.95"/>
<circle cx="505.5" cy="225.2" r="1.95"/>
<circle cx="509.6" cy="223.3" r="1.95"/>
<circle cx="513.6" cy="220.6" r="1.95"/>
<circle cx="517.7" cy="218.7" r="1.95"/>
<circle cx="521.8" cy="217.2" r="1.95"/>
<circle cx="525.9" cy="216.3" r="1.95"/>
<circle cx="530.0" cy="218.0" r="1.95"/>
</g>
<text transform="translate(399.3,30.9) rotate(-90)" font-family="'Liberation Sans', Arial, sans-serif" font-weight="bold" font-size="10.8" fill="#111" stroke="#111" stroke-width="0.25" text-anchor="middle"><tspan font-style="italic">a</tspan>, Å</text>
<text transform="translate(399.3,85.6) rotate(-90)" font-family="'Liberation Sans', Arial, sans-serif" font-weight="bold" font-size="10.8" fill="#111" stroke="#111" stroke-width="0.25" text-anchor="middle"><tspan font-style="italic">b</tspan>, Å</text>
<text transform="translate(399.3,130.0) rotate(-90)" font-family="'Liberation Sans', Arial, sans-serif" font-weight="bold" font-size="10.8" fill="#111" stroke="#111" stroke-width="0.25" text-anchor="middle"><tspan font-style="italic">c</tspan>, Å</text>
<text transform="translate(399.3,170.6) rotate(-90)" font-family="'Liberation Sans', Arial, sans-serif" font-weight="bold" font-size="10.8" fill="#111" stroke="#111" stroke-width="0.25" text-anchor="middle"><tspan font-style="italic">β</tspan>, °</text>
<text transform="translate(399.3,235.5) rotate(-90)" font-family="'Liberation Sans', Arial, sans-serif" font-weight="bold" font-size="10.8" fill="#111" stroke="#111" stroke-width="0.25" text-anchor="middle"><tspan font-style="italic">V</tspan>, Å<tspan font-size="6" dy="-3.5">3</tspan></text>
</svg>
</body></html>
